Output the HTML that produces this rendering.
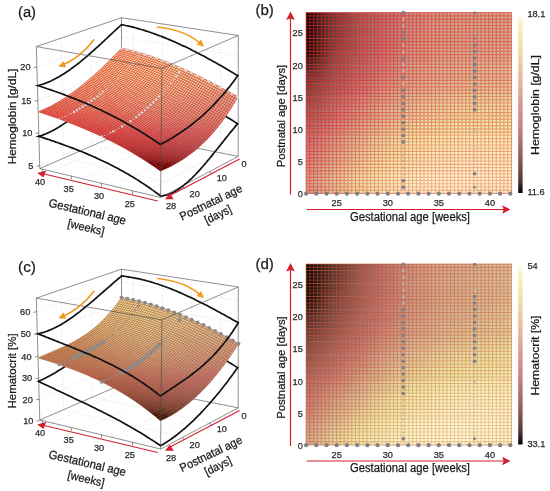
<!DOCTYPE html><html><head><meta charset="utf-8"><title>Figure</title><style>html,body{margin:0;padding:0;background:#fff}svg{display:block}</style></head><body><svg width="550" height="491" viewBox="0 0 550 491" font-family='"Liberation Sans", sans-serif'><defs><linearGradient id="g0_0"><stop offset="0.000" stop-color="#000000"/><stop offset="0.125" stop-color="#5c3c3c"/><stop offset="0.250" stop-color="#936060"/><stop offset="0.375" stop-color="#b77878"/><stop offset="0.500" stop-color="#c89187"/><stop offset="0.625" stop-color="#cda18f"/><stop offset="0.750" stop-color="#d0a993"/><stop offset="0.875" stop-color="#d1ac94"/><stop offset="1.000" stop-color="#d2b096"/></linearGradient><linearGradient id="g0_1"><stop offset="0.000" stop-color="#000000"/><stop offset="0.125" stop-color="#5b3b3b"/><stop offset="0.250" stop-color="#936060"/><stop offset="0.375" stop-color="#b87878"/><stop offset="0.500" stop-color="#c89188"/><stop offset="0.625" stop-color="#cea28f"/><stop offset="0.750" stop-color="#d0a993"/><stop offset="0.875" stop-color="#d1ac94"/><stop offset="1.000" stop-color="#d2b096"/></linearGradient><linearGradient id="g0_2"><stop offset="0.000" stop-color="#000000"/><stop offset="0.125" stop-color="#5c3c3c"/><stop offset="0.250" stop-color="#946161"/><stop offset="0.375" stop-color="#b97979"/><stop offset="0.500" stop-color="#c99388"/><stop offset="0.625" stop-color="#cea490"/><stop offset="0.750" stop-color="#d0aa93"/><stop offset="0.875" stop-color="#d1ad95"/><stop offset="1.000" stop-color="#d3b197"/></linearGradient><linearGradient id="g0_3"><stop offset="0.000" stop-color="#000000"/><stop offset="0.125" stop-color="#5e3e3e"/><stop offset="0.250" stop-color="#966262"/><stop offset="0.375" stop-color="#ba7a7a"/><stop offset="0.500" stop-color="#c99589"/><stop offset="0.625" stop-color="#cfa591"/><stop offset="0.750" stop-color="#d1ac94"/><stop offset="0.875" stop-color="#d2af96"/><stop offset="1.000" stop-color="#d3b398"/></linearGradient><linearGradient id="g0_4"><stop offset="0.000" stop-color="#000000"/><stop offset="0.125" stop-color="#634141"/><stop offset="0.250" stop-color="#986464"/><stop offset="0.375" stop-color="#bc7b7b"/><stop offset="0.500" stop-color="#ca978a"/><stop offset="0.625" stop-color="#cfa792"/><stop offset="0.750" stop-color="#d2ae95"/><stop offset="0.875" stop-color="#d3b197"/><stop offset="1.000" stop-color="#d4b599"/></linearGradient><linearGradient id="g0_5"><stop offset="0.000" stop-color="#000000"/><stop offset="0.125" stop-color="#684444"/><stop offset="0.250" stop-color="#9c6666"/><stop offset="0.375" stop-color="#bf7d7d"/><stop offset="0.500" stop-color="#cb9a8c"/><stop offset="0.625" stop-color="#d0aa93"/><stop offset="0.750" stop-color="#d3b197"/><stop offset="0.875" stop-color="#d4b498"/><stop offset="1.000" stop-color="#d5b89a"/></linearGradient><linearGradient id="g0_6"><stop offset="0.000" stop-color="#000000"/><stop offset="0.125" stop-color="#6f4949"/><stop offset="0.250" stop-color="#a06969"/><stop offset="0.375" stop-color="#c27f7f"/><stop offset="0.500" stop-color="#cc9e8d"/><stop offset="0.625" stop-color="#d1ad95"/><stop offset="0.750" stop-color="#d4b498"/><stop offset="0.875" stop-color="#d5b79a"/><stop offset="1.000" stop-color="#d7bb9b"/></linearGradient><linearGradient id="g0_7"><stop offset="0.000" stop-color="#1e1414"/><stop offset="0.125" stop-color="#764d4d"/><stop offset="0.250" stop-color="#a56c6c"/><stop offset="0.375" stop-color="#c48381"/><stop offset="0.500" stop-color="#cda18f"/><stop offset="0.625" stop-color="#d2b096"/><stop offset="0.750" stop-color="#d5b79a"/><stop offset="0.875" stop-color="#d6ba9b"/><stop offset="1.000" stop-color="#d9bf9c"/></linearGradient><linearGradient id="g0_8"><stop offset="0.000" stop-color="#362323"/><stop offset="0.125" stop-color="#7e5353"/><stop offset="0.250" stop-color="#aa6f6f"/><stop offset="0.375" stop-color="#c58984"/><stop offset="0.500" stop-color="#cfa691"/><stop offset="0.625" stop-color="#d4b498"/><stop offset="0.750" stop-color="#d7bb9b"/><stop offset="0.875" stop-color="#d8bf9c"/><stop offset="1.000" stop-color="#dbc49e"/></linearGradient><linearGradient id="g0_9"><stop offset="0.000" stop-color="#482f2f"/><stop offset="0.125" stop-color="#865858"/><stop offset="0.250" stop-color="#b07373"/><stop offset="0.375" stop-color="#c78f86"/><stop offset="0.500" stop-color="#d0aa93"/><stop offset="0.625" stop-color="#d5b99a"/><stop offset="0.750" stop-color="#d9c09c"/><stop offset="0.875" stop-color="#dac49e"/><stop offset="1.000" stop-color="#ddc99f"/></linearGradient><linearGradient id="g0_10"><stop offset="0.000" stop-color="#573939"/><stop offset="0.125" stop-color="#8f5d5d"/><stop offset="0.250" stop-color="#b67777"/><stop offset="0.375" stop-color="#c99689"/><stop offset="0.500" stop-color="#d2b096"/><stop offset="0.625" stop-color="#d8bd9c"/><stop offset="0.750" stop-color="#dbc49e"/><stop offset="0.875" stop-color="#ddc99f"/><stop offset="1.000" stop-color="#dfcea0"/></linearGradient><linearGradient id="g0_11"><stop offset="0.000" stop-color="#654242"/><stop offset="0.125" stop-color="#976363"/><stop offset="0.250" stop-color="#bc7b7b"/><stop offset="0.375" stop-color="#cc9d8d"/><stop offset="0.500" stop-color="#d4b599"/><stop offset="0.625" stop-color="#dac39d"/><stop offset="0.750" stop-color="#ddca9f"/><stop offset="0.875" stop-color="#dfcea0"/><stop offset="1.000" stop-color="#e2d3a2"/></linearGradient><linearGradient id="g0_12"><stop offset="0.000" stop-color="#714a4a"/><stop offset="0.125" stop-color="#a06969"/><stop offset="0.250" stop-color="#c27f7f"/><stop offset="0.375" stop-color="#cea490"/><stop offset="0.500" stop-color="#d7bb9b"/><stop offset="0.625" stop-color="#ddc99f"/><stop offset="0.750" stop-color="#e0d0a1"/><stop offset="0.875" stop-color="#e2d4a2"/><stop offset="1.000" stop-color="#e4d9a3"/></linearGradient><linearGradient id="g0_13"><stop offset="0.000" stop-color="#7d5252"/><stop offset="0.125" stop-color="#a86e6e"/><stop offset="0.250" stop-color="#c68984"/><stop offset="0.375" stop-color="#d1ab94"/><stop offset="0.500" stop-color="#dac29d"/><stop offset="0.625" stop-color="#e0cfa1"/><stop offset="0.750" stop-color="#e3d6a2"/><stop offset="0.875" stop-color="#e5daa3"/><stop offset="1.000" stop-color="#e7dea4"/></linearGradient><linearGradient id="g0_14"><stop offset="0.000" stop-color="#895959"/><stop offset="0.125" stop-color="#b17474"/><stop offset="0.250" stop-color="#c99388"/><stop offset="0.375" stop-color="#d3b398"/><stop offset="0.500" stop-color="#ddc99f"/><stop offset="0.625" stop-color="#e3d6a2"/><stop offset="0.750" stop-color="#e6dca4"/><stop offset="0.875" stop-color="#e8e0a5"/><stop offset="1.000" stop-color="#eae3a5"/></linearGradient><linearGradient id="g0_15"><stop offset="0.000" stop-color="#936060"/><stop offset="0.125" stop-color="#b97979"/><stop offset="0.250" stop-color="#cc9c8d"/><stop offset="0.375" stop-color="#d6bb9b"/><stop offset="0.500" stop-color="#e0d0a1"/><stop offset="0.625" stop-color="#e6dca4"/><stop offset="0.750" stop-color="#e9e3a5"/><stop offset="0.875" stop-color="#ebe5a6"/><stop offset="1.000" stop-color="#ece8a6"/></linearGradient><linearGradient id="g0_16"><stop offset="0.000" stop-color="#9d6767"/><stop offset="0.125" stop-color="#c17e7e"/><stop offset="0.250" stop-color="#cfa691"/><stop offset="0.375" stop-color="#dac39d"/><stop offset="0.500" stop-color="#e4d7a3"/><stop offset="0.625" stop-color="#e9e3a5"/><stop offset="0.750" stop-color="#ece8a6"/><stop offset="0.875" stop-color="#edeba7"/><stop offset="1.000" stop-color="#eeeda7"/></linearGradient><linearGradient id="g0_17"><stop offset="0.000" stop-color="#a76d6d"/><stop offset="0.125" stop-color="#c58983"/><stop offset="0.250" stop-color="#d2ae95"/><stop offset="0.375" stop-color="#deca9f"/><stop offset="0.500" stop-color="#e7dea4"/><stop offset="0.625" stop-color="#ece8a6"/><stop offset="0.750" stop-color="#efeda8"/><stop offset="0.875" stop-color="#f0eeab"/><stop offset="1.000" stop-color="#f1efac"/></linearGradient><linearGradient id="g0_18"><stop offset="0.000" stop-color="#af7373"/><stop offset="0.125" stop-color="#c99388"/><stop offset="0.250" stop-color="#d5b79a"/><stop offset="0.375" stop-color="#e1d2a1"/><stop offset="0.500" stop-color="#eae4a6"/><stop offset="0.625" stop-color="#efeda9"/><stop offset="0.750" stop-color="#f1efae"/><stop offset="0.875" stop-color="#f2f0b0"/><stop offset="1.000" stop-color="#f3f1b0"/></linearGradient><linearGradient id="g0_19"><stop offset="0.000" stop-color="#b77878"/><stop offset="0.125" stop-color="#cc9d8d"/><stop offset="0.250" stop-color="#d8bf9c"/><stop offset="0.375" stop-color="#e5d9a3"/><stop offset="0.500" stop-color="#edeaa7"/><stop offset="0.625" stop-color="#f2f0ae"/><stop offset="0.750" stop-color="#f4f2b3"/><stop offset="0.875" stop-color="#f5f2b5"/><stop offset="1.000" stop-color="#f5f2b4"/></linearGradient><linearGradient id="g0_20"><stop offset="0.000" stop-color="#bf7d7d"/><stop offset="0.125" stop-color="#cfa591"/><stop offset="0.250" stop-color="#dcc79e"/><stop offset="0.375" stop-color="#e8e0a5"/><stop offset="0.500" stop-color="#f0eeaa"/><stop offset="0.625" stop-color="#f4f2b3"/><stop offset="0.750" stop-color="#f6f4b9"/><stop offset="0.875" stop-color="#f6f4ba"/><stop offset="1.000" stop-color="#f6f4b9"/></linearGradient><linearGradient id="g0_21"><stop offset="0.000" stop-color="#c48481"/><stop offset="0.125" stop-color="#d1ad95"/><stop offset="0.250" stop-color="#dfcea0"/><stop offset="0.375" stop-color="#ebe6a6"/><stop offset="0.500" stop-color="#f2f0af"/><stop offset="0.625" stop-color="#f6f4b9"/><stop offset="0.750" stop-color="#f8f5be"/><stop offset="0.875" stop-color="#f8f6be"/><stop offset="1.000" stop-color="#f7f5bc"/></linearGradient><linearGradient id="g0_22"><stop offset="0.000" stop-color="#c78d85"/><stop offset="0.125" stop-color="#d4b498"/><stop offset="0.250" stop-color="#e2d4a2"/><stop offset="0.375" stop-color="#edeba7"/><stop offset="0.500" stop-color="#f5f2b4"/><stop offset="0.625" stop-color="#f8f6be"/><stop offset="0.750" stop-color="#f9f7c2"/><stop offset="0.875" stop-color="#f9f7c2"/><stop offset="1.000" stop-color="#f8f6bf"/></linearGradient><linearGradient id="g0_23"><stop offset="0.000" stop-color="#c99489"/><stop offset="0.125" stop-color="#d6bb9b"/><stop offset="0.250" stop-color="#e5daa3"/><stop offset="0.375" stop-color="#f0eeaa"/><stop offset="0.500" stop-color="#f6f4b9"/><stop offset="0.625" stop-color="#f9f7c3"/><stop offset="0.750" stop-color="#fbf8c6"/><stop offset="0.875" stop-color="#faf8c5"/><stop offset="1.000" stop-color="#f9f7c2"/></linearGradient><linearGradient id="g0_24"><stop offset="0.000" stop-color="#cb9b8c"/><stop offset="0.125" stop-color="#d9c19d"/><stop offset="0.250" stop-color="#e8e0a5"/><stop offset="0.375" stop-color="#f2f0ae"/><stop offset="0.500" stop-color="#f8f5be"/><stop offset="0.625" stop-color="#fbf8c7"/><stop offset="0.750" stop-color="#fcf9c9"/><stop offset="0.875" stop-color="#fbf9c7"/><stop offset="1.000" stop-color="#f9f7c3"/></linearGradient><linearGradient id="g0_25"><stop offset="0.000" stop-color="#cda08e"/><stop offset="0.125" stop-color="#dbc59e"/><stop offset="0.250" stop-color="#eae3a5"/><stop offset="0.375" stop-color="#f4f1b2"/><stop offset="0.500" stop-color="#f9f7c2"/><stop offset="0.625" stop-color="#fcf9ca"/><stop offset="0.750" stop-color="#fcfacb"/><stop offset="0.875" stop-color="#fbf9c9"/><stop offset="1.000" stop-color="#faf7c4"/></linearGradient><linearGradient id="g0_26"><stop offset="0.000" stop-color="#cea491"/><stop offset="0.125" stop-color="#ddc99f"/><stop offset="0.250" stop-color="#ebe6a6"/><stop offset="0.375" stop-color="#f5f3b5"/><stop offset="0.500" stop-color="#faf8c5"/><stop offset="0.625" stop-color="#fcfacc"/><stop offset="0.750" stop-color="#fdfacc"/><stop offset="0.875" stop-color="#fbf9c9"/><stop offset="1.000" stop-color="#f9f7c3"/></linearGradient><linearGradient id="g0_27"><stop offset="0.000" stop-color="#cfa792"/><stop offset="0.125" stop-color="#decca0"/><stop offset="0.250" stop-color="#ece9a7"/><stop offset="0.375" stop-color="#f6f3b8"/><stop offset="0.500" stop-color="#fbf8c7"/><stop offset="0.625" stop-color="#fdfacd"/><stop offset="0.750" stop-color="#fdfacc"/><stop offset="0.875" stop-color="#fbf9c8"/><stop offset="1.000" stop-color="#f9f7c2"/></linearGradient><linearGradient id="o0_0"><stop offset="0.000" stop-color="#000000" stop-opacity="0.00"/><stop offset="0.125" stop-color="#5c3c3c" stop-opacity="0.00"/><stop offset="0.250" stop-color="#936060" stop-opacity="0.00"/><stop offset="0.375" stop-color="#b77878" stop-opacity="0.00"/><stop offset="0.500" stop-color="#c89187" stop-opacity="0.02"/><stop offset="0.625" stop-color="#cda18f" stop-opacity="0.06"/><stop offset="0.750" stop-color="#d0a993" stop-opacity="0.08"/><stop offset="0.875" stop-color="#d1ac94" stop-opacity="0.09"/><stop offset="1.000" stop-color="#d2b096" stop-opacity="0.10"/></linearGradient><linearGradient id="o0_1"><stop offset="0.000" stop-color="#000000" stop-opacity="0.00"/><stop offset="0.125" stop-color="#5b3b3b" stop-opacity="0.00"/><stop offset="0.250" stop-color="#936060" stop-opacity="0.00"/><stop offset="0.375" stop-color="#b87878" stop-opacity="0.00"/><stop offset="0.500" stop-color="#c89188" stop-opacity="0.02"/><stop offset="0.625" stop-color="#cea28f" stop-opacity="0.06"/><stop offset="0.750" stop-color="#d0a993" stop-opacity="0.08"/><stop offset="0.875" stop-color="#d1ac94" stop-opacity="0.09"/><stop offset="1.000" stop-color="#d2b096" stop-opacity="0.10"/></linearGradient><linearGradient id="o0_2"><stop offset="0.000" stop-color="#000000" stop-opacity="0.00"/><stop offset="0.125" stop-color="#5c3c3c" stop-opacity="0.00"/><stop offset="0.250" stop-color="#946161" stop-opacity="0.00"/><stop offset="0.375" stop-color="#b97979" stop-opacity="0.00"/><stop offset="0.500" stop-color="#c99388" stop-opacity="0.02"/><stop offset="0.625" stop-color="#cea490" stop-opacity="0.06"/><stop offset="0.750" stop-color="#d0aa93" stop-opacity="0.08"/><stop offset="0.875" stop-color="#d1ad95" stop-opacity="0.09"/><stop offset="1.000" stop-color="#d3b197" stop-opacity="0.10"/></linearGradient><linearGradient id="o0_3"><stop offset="0.000" stop-color="#000000" stop-opacity="0.00"/><stop offset="0.125" stop-color="#5e3e3e" stop-opacity="0.00"/><stop offset="0.250" stop-color="#966262" stop-opacity="0.00"/><stop offset="0.375" stop-color="#ba7a7a" stop-opacity="0.00"/><stop offset="0.500" stop-color="#c99589" stop-opacity="0.03"/><stop offset="0.625" stop-color="#cfa591" stop-opacity="0.07"/><stop offset="0.750" stop-color="#d1ac94" stop-opacity="0.09"/><stop offset="0.875" stop-color="#d2af96" stop-opacity="0.09"/><stop offset="1.000" stop-color="#d3b398" stop-opacity="0.10"/></linearGradient><linearGradient id="o0_4"><stop offset="0.000" stop-color="#000000" stop-opacity="0.00"/><stop offset="0.125" stop-color="#634141" stop-opacity="0.00"/><stop offset="0.250" stop-color="#986464" stop-opacity="0.00"/><stop offset="0.375" stop-color="#bc7b7b" stop-opacity="0.00"/><stop offset="0.500" stop-color="#ca978a" stop-opacity="0.03"/><stop offset="0.625" stop-color="#cfa792" stop-opacity="0.07"/><stop offset="0.750" stop-color="#d2ae95" stop-opacity="0.09"/><stop offset="0.875" stop-color="#d3b197" stop-opacity="0.10"/><stop offset="1.000" stop-color="#d4b599" stop-opacity="0.11"/></linearGradient><linearGradient id="o0_5"><stop offset="0.000" stop-color="#000000" stop-opacity="0.00"/><stop offset="0.125" stop-color="#684444" stop-opacity="0.00"/><stop offset="0.250" stop-color="#9c6666" stop-opacity="0.00"/><stop offset="0.375" stop-color="#bf7d7d" stop-opacity="0.00"/><stop offset="0.500" stop-color="#cb9a8c" stop-opacity="0.04"/><stop offset="0.625" stop-color="#d0aa93" stop-opacity="0.08"/><stop offset="0.750" stop-color="#d3b197" stop-opacity="0.10"/><stop offset="0.875" stop-color="#d4b498" stop-opacity="0.11"/><stop offset="1.000" stop-color="#d5b89a" stop-opacity="0.12"/></linearGradient><linearGradient id="o0_6"><stop offset="0.000" stop-color="#000000" stop-opacity="0.00"/><stop offset="0.125" stop-color="#6f4949" stop-opacity="0.00"/><stop offset="0.250" stop-color="#a06969" stop-opacity="0.00"/><stop offset="0.375" stop-color="#c27f7f" stop-opacity="0.00"/><stop offset="0.500" stop-color="#cc9e8d" stop-opacity="0.05"/><stop offset="0.625" stop-color="#d1ad95" stop-opacity="0.09"/><stop offset="0.750" stop-color="#d4b498" stop-opacity="0.11"/><stop offset="0.875" stop-color="#d5b79a" stop-opacity="0.12"/><stop offset="1.000" stop-color="#d7bb9b" stop-opacity="0.13"/></linearGradient><linearGradient id="o0_7"><stop offset="0.000" stop-color="#1e1414" stop-opacity="0.00"/><stop offset="0.125" stop-color="#764d4d" stop-opacity="0.00"/><stop offset="0.250" stop-color="#a56c6c" stop-opacity="0.00"/><stop offset="0.375" stop-color="#c48381" stop-opacity="0.00"/><stop offset="0.500" stop-color="#cda18f" stop-opacity="0.06"/><stop offset="0.625" stop-color="#d2b096" stop-opacity="0.10"/><stop offset="0.750" stop-color="#d5b79a" stop-opacity="0.12"/><stop offset="0.875" stop-color="#d6ba9b" stop-opacity="0.13"/><stop offset="1.000" stop-color="#d9bf9c" stop-opacity="0.14"/></linearGradient><linearGradient id="o0_8"><stop offset="0.000" stop-color="#362323" stop-opacity="0.00"/><stop offset="0.125" stop-color="#7e5353" stop-opacity="0.00"/><stop offset="0.250" stop-color="#aa6f6f" stop-opacity="0.00"/><stop offset="0.375" stop-color="#c58984" stop-opacity="0.00"/><stop offset="0.500" stop-color="#cfa691" stop-opacity="0.07"/><stop offset="0.625" stop-color="#d4b498" stop-opacity="0.11"/><stop offset="0.750" stop-color="#d7bb9b" stop-opacity="0.13"/><stop offset="0.875" stop-color="#d8bf9c" stop-opacity="0.14"/><stop offset="1.000" stop-color="#dbc49e" stop-opacity="0.15"/></linearGradient><linearGradient id="o0_9"><stop offset="0.000" stop-color="#482f2f" stop-opacity="0.00"/><stop offset="0.125" stop-color="#865858" stop-opacity="0.00"/><stop offset="0.250" stop-color="#b07373" stop-opacity="0.00"/><stop offset="0.375" stop-color="#c78f86" stop-opacity="0.01"/><stop offset="0.500" stop-color="#d0aa93" stop-opacity="0.08"/><stop offset="0.625" stop-color="#d5b99a" stop-opacity="0.12"/><stop offset="0.750" stop-color="#d9c09c" stop-opacity="0.14"/><stop offset="0.875" stop-color="#dac49e" stop-opacity="0.15"/><stop offset="1.000" stop-color="#ddc99f" stop-opacity="0.17"/></linearGradient><linearGradient id="o0_10"><stop offset="0.000" stop-color="#573939" stop-opacity="0.00"/><stop offset="0.125" stop-color="#8f5d5d" stop-opacity="0.00"/><stop offset="0.250" stop-color="#b67777" stop-opacity="0.00"/><stop offset="0.375" stop-color="#c99689" stop-opacity="0.03"/><stop offset="0.500" stop-color="#d2b096" stop-opacity="0.10"/><stop offset="0.625" stop-color="#d8bd9c" stop-opacity="0.13"/><stop offset="0.750" stop-color="#dbc49e" stop-opacity="0.15"/><stop offset="0.875" stop-color="#ddc99f" stop-opacity="0.17"/><stop offset="1.000" stop-color="#dfcea0" stop-opacity="0.18"/></linearGradient><linearGradient id="o0_11"><stop offset="0.000" stop-color="#654242" stop-opacity="0.00"/><stop offset="0.125" stop-color="#976363" stop-opacity="0.00"/><stop offset="0.250" stop-color="#bc7b7b" stop-opacity="0.00"/><stop offset="0.375" stop-color="#cc9d8d" stop-opacity="0.05"/><stop offset="0.500" stop-color="#d4b599" stop-opacity="0.11"/><stop offset="0.625" stop-color="#dac39d" stop-opacity="0.15"/><stop offset="0.750" stop-color="#ddca9f" stop-opacity="0.17"/><stop offset="0.875" stop-color="#dfcea0" stop-opacity="0.18"/><stop offset="1.000" stop-color="#e2d3a2" stop-opacity="0.20"/></linearGradient><linearGradient id="o0_12"><stop offset="0.000" stop-color="#714a4a" stop-opacity="0.00"/><stop offset="0.125" stop-color="#a06969" stop-opacity="0.00"/><stop offset="0.250" stop-color="#c27f7f" stop-opacity="0.00"/><stop offset="0.375" stop-color="#cea490" stop-opacity="0.06"/><stop offset="0.500" stop-color="#d7bb9b" stop-opacity="0.13"/><stop offset="0.625" stop-color="#ddc99f" stop-opacity="0.17"/><stop offset="0.750" stop-color="#e0d0a1" stop-opacity="0.19"/><stop offset="0.875" stop-color="#e2d4a2" stop-opacity="0.20"/><stop offset="1.000" stop-color="#e4d9a3" stop-opacity="0.22"/></linearGradient><linearGradient id="o0_13"><stop offset="0.000" stop-color="#7d5252" stop-opacity="0.00"/><stop offset="0.125" stop-color="#a86e6e" stop-opacity="0.00"/><stop offset="0.250" stop-color="#c68984" stop-opacity="0.00"/><stop offset="0.375" stop-color="#d1ab94" stop-opacity="0.08"/><stop offset="0.500" stop-color="#dac29d" stop-opacity="0.15"/><stop offset="0.625" stop-color="#e0cfa1" stop-opacity="0.19"/><stop offset="0.750" stop-color="#e3d6a2" stop-opacity="0.21"/><stop offset="0.875" stop-color="#e5daa3" stop-opacity="0.22"/><stop offset="1.000" stop-color="#e7dea4" stop-opacity="0.23"/></linearGradient><linearGradient id="o0_14"><stop offset="0.000" stop-color="#895959" stop-opacity="0.00"/><stop offset="0.125" stop-color="#b17474" stop-opacity="0.00"/><stop offset="0.250" stop-color="#c99388" stop-opacity="0.02"/><stop offset="0.375" stop-color="#d3b398" stop-opacity="0.10"/><stop offset="0.500" stop-color="#ddc99f" stop-opacity="0.17"/><stop offset="0.625" stop-color="#e3d6a2" stop-opacity="0.21"/><stop offset="0.750" stop-color="#e6dca4" stop-opacity="0.23"/><stop offset="0.875" stop-color="#e8e0a5" stop-opacity="0.24"/><stop offset="1.000" stop-color="#eae3a5" stop-opacity="0.25"/></linearGradient><linearGradient id="o0_15"><stop offset="0.000" stop-color="#936060" stop-opacity="0.00"/><stop offset="0.125" stop-color="#b97979" stop-opacity="0.00"/><stop offset="0.250" stop-color="#cc9c8d" stop-opacity="0.04"/><stop offset="0.375" stop-color="#d6bb9b" stop-opacity="0.13"/><stop offset="0.500" stop-color="#e0d0a1" stop-opacity="0.19"/><stop offset="0.625" stop-color="#e6dca4" stop-opacity="0.23"/><stop offset="0.750" stop-color="#e9e3a5" stop-opacity="0.25"/><stop offset="0.875" stop-color="#ebe5a6" stop-opacity="0.26"/><stop offset="1.000" stop-color="#ece8a6" stop-opacity="0.27"/></linearGradient><linearGradient id="o0_16"><stop offset="0.000" stop-color="#9d6767" stop-opacity="0.00"/><stop offset="0.125" stop-color="#c17e7e" stop-opacity="0.00"/><stop offset="0.250" stop-color="#cfa691" stop-opacity="0.07"/><stop offset="0.375" stop-color="#dac39d" stop-opacity="0.15"/><stop offset="0.500" stop-color="#e4d7a3" stop-opacity="0.21"/><stop offset="0.625" stop-color="#e9e3a5" stop-opacity="0.25"/><stop offset="0.750" stop-color="#ece8a6" stop-opacity="0.26"/><stop offset="0.875" stop-color="#edeba7" stop-opacity="0.27"/><stop offset="1.000" stop-color="#eeeda7" stop-opacity="0.28"/></linearGradient><linearGradient id="o0_17"><stop offset="0.000" stop-color="#a76d6d" stop-opacity="0.00"/><stop offset="0.125" stop-color="#c58983" stop-opacity="0.00"/><stop offset="0.250" stop-color="#d2ae95" stop-opacity="0.09"/><stop offset="0.375" stop-color="#deca9f" stop-opacity="0.17"/><stop offset="0.500" stop-color="#e7dea4" stop-opacity="0.23"/><stop offset="0.625" stop-color="#ece8a6" stop-opacity="0.27"/><stop offset="0.750" stop-color="#efeda8" stop-opacity="0.28"/><stop offset="0.875" stop-color="#f0eeab" stop-opacity="0.29"/><stop offset="1.000" stop-color="#f1efac" stop-opacity="0.29"/></linearGradient><linearGradient id="o0_18"><stop offset="0.000" stop-color="#af7373" stop-opacity="0.00"/><stop offset="0.125" stop-color="#c99388" stop-opacity="0.02"/><stop offset="0.250" stop-color="#d5b79a" stop-opacity="0.12"/><stop offset="0.375" stop-color="#e1d2a1" stop-opacity="0.20"/><stop offset="0.500" stop-color="#eae4a6" stop-opacity="0.25"/><stop offset="0.625" stop-color="#efeda9" stop-opacity="0.28"/><stop offset="0.750" stop-color="#f1efae" stop-opacity="0.30"/><stop offset="0.875" stop-color="#f2f0b0" stop-opacity="0.31"/><stop offset="1.000" stop-color="#f3f1b0" stop-opacity="0.31"/></linearGradient><linearGradient id="o0_19"><stop offset="0.000" stop-color="#b77878" stop-opacity="0.00"/><stop offset="0.125" stop-color="#cc9d8d" stop-opacity="0.05"/><stop offset="0.250" stop-color="#d8bf9c" stop-opacity="0.14"/><stop offset="0.375" stop-color="#e5d9a3" stop-opacity="0.22"/><stop offset="0.500" stop-color="#edeaa7" stop-opacity="0.27"/><stop offset="0.625" stop-color="#f2f0ae" stop-opacity="0.30"/><stop offset="0.750" stop-color="#f4f2b3" stop-opacity="0.32"/><stop offset="0.875" stop-color="#f5f2b5" stop-opacity="0.32"/><stop offset="1.000" stop-color="#f5f2b4" stop-opacity="0.32"/></linearGradient><linearGradient id="o0_20"><stop offset="0.000" stop-color="#bf7d7d" stop-opacity="0.00"/><stop offset="0.125" stop-color="#cfa591" stop-opacity="0.07"/><stop offset="0.250" stop-color="#dcc79e" stop-opacity="0.16"/><stop offset="0.375" stop-color="#e8e0a5" stop-opacity="0.24"/><stop offset="0.500" stop-color="#f0eeaa" stop-opacity="0.29"/><stop offset="0.625" stop-color="#f4f2b3" stop-opacity="0.32"/><stop offset="0.750" stop-color="#f6f4b9" stop-opacity="0.33"/><stop offset="0.875" stop-color="#f6f4ba" stop-opacity="0.34"/><stop offset="1.000" stop-color="#f6f4b9" stop-opacity="0.33"/></linearGradient><linearGradient id="o0_21"><stop offset="0.000" stop-color="#c48481" stop-opacity="0.00"/><stop offset="0.125" stop-color="#d1ad95" stop-opacity="0.09"/><stop offset="0.250" stop-color="#dfcea0" stop-opacity="0.18"/><stop offset="0.375" stop-color="#ebe6a6" stop-opacity="0.26"/><stop offset="0.500" stop-color="#f2f0af" stop-opacity="0.31"/><stop offset="0.625" stop-color="#f6f4b9" stop-opacity="0.33"/><stop offset="0.750" stop-color="#f8f5be" stop-opacity="0.35"/><stop offset="0.875" stop-color="#f8f6be" stop-opacity="0.35"/><stop offset="1.000" stop-color="#f7f5bc" stop-opacity="0.34"/></linearGradient><linearGradient id="o0_22"><stop offset="0.000" stop-color="#c78d85" stop-opacity="0.01"/><stop offset="0.125" stop-color="#d4b498" stop-opacity="0.11"/><stop offset="0.250" stop-color="#e2d4a2" stop-opacity="0.20"/><stop offset="0.375" stop-color="#edeba7" stop-opacity="0.27"/><stop offset="0.500" stop-color="#f5f2b4" stop-opacity="0.32"/><stop offset="0.625" stop-color="#f8f6be" stop-opacity="0.35"/><stop offset="0.750" stop-color="#f9f7c2" stop-opacity="0.36"/><stop offset="0.875" stop-color="#f9f7c2" stop-opacity="0.36"/><stop offset="1.000" stop-color="#f8f6bf" stop-opacity="0.35"/></linearGradient><linearGradient id="o0_23"><stop offset="0.000" stop-color="#c99489" stop-opacity="0.03"/><stop offset="0.125" stop-color="#d6bb9b" stop-opacity="0.13"/><stop offset="0.250" stop-color="#e5daa3" stop-opacity="0.22"/><stop offset="0.375" stop-color="#f0eeaa" stop-opacity="0.29"/><stop offset="0.500" stop-color="#f6f4b9" stop-opacity="0.34"/><stop offset="0.625" stop-color="#f9f7c3" stop-opacity="0.36"/><stop offset="0.750" stop-color="#fbf8c6" stop-opacity="0.37"/><stop offset="0.875" stop-color="#faf8c5" stop-opacity="0.37"/><stop offset="1.000" stop-color="#f9f7c2" stop-opacity="0.36"/></linearGradient><linearGradient id="o0_24"><stop offset="0.000" stop-color="#cb9b8c" stop-opacity="0.04"/><stop offset="0.125" stop-color="#d9c19d" stop-opacity="0.14"/><stop offset="0.250" stop-color="#e8e0a5" stop-opacity="0.24"/><stop offset="0.375" stop-color="#f2f0ae" stop-opacity="0.30"/><stop offset="0.500" stop-color="#f8f5be" stop-opacity="0.35"/><stop offset="0.625" stop-color="#fbf8c7" stop-opacity="0.37"/><stop offset="0.750" stop-color="#fcf9c9" stop-opacity="0.38"/><stop offset="0.875" stop-color="#fbf9c7" stop-opacity="0.38"/><stop offset="1.000" stop-color="#f9f7c3" stop-opacity="0.36"/></linearGradient><linearGradient id="o0_25"><stop offset="0.000" stop-color="#cda08e" stop-opacity="0.05"/><stop offset="0.125" stop-color="#dbc59e" stop-opacity="0.16"/><stop offset="0.250" stop-color="#eae3a5" stop-opacity="0.25"/><stop offset="0.375" stop-color="#f4f1b2" stop-opacity="0.31"/><stop offset="0.500" stop-color="#f9f7c2" stop-opacity="0.36"/><stop offset="0.625" stop-color="#fcf9ca" stop-opacity="0.38"/><stop offset="0.750" stop-color="#fcfacb" stop-opacity="0.39"/><stop offset="0.875" stop-color="#fbf9c9" stop-opacity="0.38"/><stop offset="1.000" stop-color="#faf7c4" stop-opacity="0.36"/></linearGradient><linearGradient id="o0_26"><stop offset="0.000" stop-color="#cea491" stop-opacity="0.07"/><stop offset="0.125" stop-color="#ddc99f" stop-opacity="0.17"/><stop offset="0.250" stop-color="#ebe6a6" stop-opacity="0.26"/><stop offset="0.375" stop-color="#f5f3b5" stop-opacity="0.32"/><stop offset="0.500" stop-color="#faf8c5" stop-opacity="0.37"/><stop offset="0.625" stop-color="#fcfacc" stop-opacity="0.39"/><stop offset="0.750" stop-color="#fdfacc" stop-opacity="0.39"/><stop offset="0.875" stop-color="#fbf9c9" stop-opacity="0.38"/><stop offset="1.000" stop-color="#f9f7c3" stop-opacity="0.36"/></linearGradient><linearGradient id="o0_27"><stop offset="0.000" stop-color="#cfa792" stop-opacity="0.07"/><stop offset="0.125" stop-color="#decca0" stop-opacity="0.18"/><stop offset="0.250" stop-color="#ece9a7" stop-opacity="0.27"/><stop offset="0.375" stop-color="#f6f3b8" stop-opacity="0.33"/><stop offset="0.500" stop-color="#fbf8c7" stop-opacity="0.37"/><stop offset="0.625" stop-color="#fdfacd" stop-opacity="0.39"/><stop offset="0.750" stop-color="#fdfacc" stop-opacity="0.39"/><stop offset="0.875" stop-color="#fbf9c8" stop-opacity="0.38"/><stop offset="1.000" stop-color="#f9f7c2" stop-opacity="0.36"/></linearGradient><linearGradient id="cb0" x1="0" y1="1" x2="0" y2="0"><stop offset="0.000" stop-color="#000000"/><stop offset="0.062" stop-color="#4e3434"/><stop offset="0.125" stop-color="#704949"/><stop offset="0.188" stop-color="#8a5a5a"/><stop offset="0.250" stop-color="#a16969"/><stop offset="0.312" stop-color="#b67676"/><stop offset="0.375" stop-color="#c68381"/><stop offset="0.438" stop-color="#d08e8a"/><stop offset="0.500" stop-color="#d89890"/><stop offset="0.562" stop-color="#e0a996"/><stop offset="0.625" stop-color="#e7b89b"/><stop offset="0.688" stop-color="#ebc59f"/><stop offset="0.750" stop-color="#eed3a4"/><stop offset="0.812" stop-color="#f0e0a8"/><stop offset="0.875" stop-color="#f3eab1"/><stop offset="0.938" stop-color="#f6f3c0"/><stop offset="1.000" stop-color="#ffffff"/></linearGradient><linearGradient id="g1_0"><stop offset="0.000" stop-color="#000000"/><stop offset="0.125" stop-color="#462e2e"/><stop offset="0.250" stop-color="#875858"/><stop offset="0.375" stop-color="#b37575"/><stop offset="0.500" stop-color="#c99489"/><stop offset="0.625" stop-color="#d0a993"/><stop offset="0.750" stop-color="#d3b297"/><stop offset="0.875" stop-color="#d5b89a"/><stop offset="1.000" stop-color="#dac29d"/></linearGradient><linearGradient id="g1_1"><stop offset="0.000" stop-color="#000000"/><stop offset="0.125" stop-color="#4b3131"/><stop offset="0.250" stop-color="#8a5a5a"/><stop offset="0.375" stop-color="#b67777"/><stop offset="0.500" stop-color="#ca978a"/><stop offset="0.625" stop-color="#d1ab94"/><stop offset="0.750" stop-color="#d4b498"/><stop offset="0.875" stop-color="#d6ba9b"/><stop offset="1.000" stop-color="#dbc49e"/></linearGradient><linearGradient id="g1_2"><stop offset="0.000" stop-color="#000000"/><stop offset="0.125" stop-color="#503434"/><stop offset="0.250" stop-color="#8c5c5c"/><stop offset="0.375" stop-color="#b77878"/><stop offset="0.500" stop-color="#ca998b"/><stop offset="0.625" stop-color="#d1ad95"/><stop offset="0.750" stop-color="#d4b699"/><stop offset="0.875" stop-color="#d7bc9b"/><stop offset="1.000" stop-color="#dbc69e"/></linearGradient><linearGradient id="g1_3"><stop offset="0.000" stop-color="#000000"/><stop offset="0.125" stop-color="#553838"/><stop offset="0.250" stop-color="#8f5e5e"/><stop offset="0.375" stop-color="#b97979"/><stop offset="0.500" stop-color="#cb998b"/><stop offset="0.625" stop-color="#d1ad95"/><stop offset="0.750" stop-color="#d5b699"/><stop offset="0.875" stop-color="#d7bd9c"/><stop offset="1.000" stop-color="#dcc79f"/></linearGradient><linearGradient id="g1_4"><stop offset="0.000" stop-color="#000000"/><stop offset="0.125" stop-color="#5b3b3b"/><stop offset="0.250" stop-color="#926060"/><stop offset="0.375" stop-color="#ba7a7a"/><stop offset="0.500" stop-color="#cb9a8b"/><stop offset="0.625" stop-color="#d1ad95"/><stop offset="0.750" stop-color="#d5b699"/><stop offset="0.875" stop-color="#d8bd9c"/><stop offset="1.000" stop-color="#dcc89f"/></linearGradient><linearGradient id="g1_5"><stop offset="0.000" stop-color="#000000"/><stop offset="0.125" stop-color="#613f3f"/><stop offset="0.250" stop-color="#956262"/><stop offset="0.375" stop-color="#bb7b7b"/><stop offset="0.500" stop-color="#cb9b8c"/><stop offset="0.625" stop-color="#d1ad95"/><stop offset="0.750" stop-color="#d5b79a"/><stop offset="0.875" stop-color="#d8be9c"/><stop offset="1.000" stop-color="#ddc99f"/></linearGradient><linearGradient id="g1_6"><stop offset="0.000" stop-color="#150e0e"/><stop offset="0.125" stop-color="#674444"/><stop offset="0.250" stop-color="#986464"/><stop offset="0.375" stop-color="#bd7c7c"/><stop offset="0.500" stop-color="#cb9c8c"/><stop offset="0.625" stop-color="#d2ae95"/><stop offset="0.750" stop-color="#d5b79a"/><stop offset="0.875" stop-color="#d8bf9c"/><stop offset="1.000" stop-color="#decba0"/></linearGradient><linearGradient id="g1_7"><stop offset="0.000" stop-color="#2b1c1c"/><stop offset="0.125" stop-color="#6e4848"/><stop offset="0.250" stop-color="#9c6666"/><stop offset="0.375" stop-color="#bf7d7d"/><stop offset="0.500" stop-color="#cc9d8d"/><stop offset="0.625" stop-color="#d2af96"/><stop offset="0.750" stop-color="#d6b99b"/><stop offset="0.875" stop-color="#d9c19d"/><stop offset="1.000" stop-color="#dfcda0"/></linearGradient><linearGradient id="g1_8"><stop offset="0.000" stop-color="#3c2727"/><stop offset="0.125" stop-color="#764d4d"/><stop offset="0.250" stop-color="#a16a6a"/><stop offset="0.375" stop-color="#c27f7f"/><stop offset="0.500" stop-color="#cda08e"/><stop offset="0.625" stop-color="#d3b297"/><stop offset="0.750" stop-color="#d7bc9b"/><stop offset="0.875" stop-color="#dbc49e"/><stop offset="1.000" stop-color="#e0d0a1"/></linearGradient><linearGradient id="g1_9"><stop offset="0.000" stop-color="#4a3030"/><stop offset="0.125" stop-color="#7e5252"/><stop offset="0.250" stop-color="#a76d6d"/><stop offset="0.375" stop-color="#c48582"/><stop offset="0.500" stop-color="#cea591"/><stop offset="0.625" stop-color="#d4b699"/><stop offset="0.750" stop-color="#d9c09d"/><stop offset="0.875" stop-color="#ddc89f"/><stop offset="1.000" stop-color="#e2d3a2"/></linearGradient><linearGradient id="g1_10"><stop offset="0.000" stop-color="#573939"/><stop offset="0.125" stop-color="#865858"/><stop offset="0.250" stop-color="#ac7171"/><stop offset="0.375" stop-color="#c68c85"/><stop offset="0.500" stop-color="#d0aa93"/><stop offset="0.625" stop-color="#d6bb9b"/><stop offset="0.750" stop-color="#dbc59e"/><stop offset="0.875" stop-color="#dfcda0"/><stop offset="1.000" stop-color="#e4d8a3"/></linearGradient><linearGradient id="g1_11"><stop offset="0.000" stop-color="#644141"/><stop offset="0.125" stop-color="#8e5d5d"/><stop offset="0.250" stop-color="#b37575"/><stop offset="0.375" stop-color="#c99388"/><stop offset="0.500" stop-color="#d2b096"/><stop offset="0.625" stop-color="#d9c19d"/><stop offset="0.750" stop-color="#decba0"/><stop offset="0.875" stop-color="#e2d3a2"/><stop offset="1.000" stop-color="#e6dda4"/></linearGradient><linearGradient id="g1_12"><stop offset="0.000" stop-color="#6f4949"/><stop offset="0.125" stop-color="#976363"/><stop offset="0.250" stop-color="#b97979"/><stop offset="0.375" stop-color="#cb9b8c"/><stop offset="0.500" stop-color="#d5b699"/><stop offset="0.625" stop-color="#dcc79f"/><stop offset="0.750" stop-color="#e1d2a1"/><stop offset="0.875" stop-color="#e5daa3"/><stop offset="1.000" stop-color="#e9e2a5"/></linearGradient><linearGradient id="g1_13"><stop offset="0.000" stop-color="#7a5050"/><stop offset="0.125" stop-color="#9f6868"/><stop offset="0.250" stop-color="#c07e7e"/><stop offset="0.375" stop-color="#cea390"/><stop offset="0.500" stop-color="#d8be9c"/><stop offset="0.625" stop-color="#e0cfa1"/><stop offset="0.750" stop-color="#e5d9a3"/><stop offset="0.875" stop-color="#e8e0a5"/><stop offset="1.000" stop-color="#ebe6a6"/></linearGradient><linearGradient id="g1_14"><stop offset="0.000" stop-color="#855757"/><stop offset="0.125" stop-color="#a86e6e"/><stop offset="0.250" stop-color="#c58682"/><stop offset="0.375" stop-color="#d1ab94"/><stop offset="0.500" stop-color="#dbc59e"/><stop offset="0.625" stop-color="#e3d6a2"/><stop offset="0.750" stop-color="#e8e0a5"/><stop offset="0.875" stop-color="#ebe6a6"/><stop offset="1.000" stop-color="#eeeba7"/></linearGradient><linearGradient id="g1_15"><stop offset="0.000" stop-color="#8f5e5e"/><stop offset="0.125" stop-color="#b07373"/><stop offset="0.250" stop-color="#c89087"/><stop offset="0.375" stop-color="#d4b398"/><stop offset="0.500" stop-color="#dfcda0"/><stop offset="0.625" stop-color="#e7dea4"/><stop offset="0.750" stop-color="#ebe6a6"/><stop offset="0.875" stop-color="#eeeca7"/><stop offset="1.000" stop-color="#f0eeab"/></linearGradient><linearGradient id="g1_16"><stop offset="0.000" stop-color="#996464"/><stop offset="0.125" stop-color="#b87979"/><stop offset="0.250" stop-color="#cb9a8c"/><stop offset="0.375" stop-color="#d7bc9b"/><stop offset="0.500" stop-color="#e3d5a2"/><stop offset="0.625" stop-color="#eae4a6"/><stop offset="0.750" stop-color="#eeeca7"/><stop offset="0.875" stop-color="#f1efac"/><stop offset="1.000" stop-color="#f2f0af"/></linearGradient><linearGradient id="g1_17"><stop offset="0.000" stop-color="#a26a6a"/><stop offset="0.125" stop-color="#c07e7e"/><stop offset="0.250" stop-color="#cea490"/><stop offset="0.375" stop-color="#dbc49e"/><stop offset="0.500" stop-color="#e6dda4"/><stop offset="0.625" stop-color="#edeba7"/><stop offset="0.750" stop-color="#f1efae"/><stop offset="0.875" stop-color="#f4f1b2"/><stop offset="1.000" stop-color="#f4f2b4"/></linearGradient><linearGradient id="g1_18"><stop offset="0.000" stop-color="#ab7070"/><stop offset="0.125" stop-color="#c58883"/><stop offset="0.250" stop-color="#d1ae95"/><stop offset="0.375" stop-color="#dfcda0"/><stop offset="0.500" stop-color="#eae4a6"/><stop offset="0.625" stop-color="#f0eeac"/><stop offset="0.750" stop-color="#f4f2b4"/><stop offset="0.875" stop-color="#f6f3b8"/><stop offset="1.000" stop-color="#f6f4b9"/></linearGradient><linearGradient id="g1_19"><stop offset="0.000" stop-color="#b37575"/><stop offset="0.125" stop-color="#c89388"/><stop offset="0.250" stop-color="#d5b79a"/><stop offset="0.375" stop-color="#e3d5a2"/><stop offset="0.500" stop-color="#edeaa7"/><stop offset="0.625" stop-color="#f3f1b2"/><stop offset="0.750" stop-color="#f7f4ba"/><stop offset="0.875" stop-color="#f8f5be"/><stop offset="1.000" stop-color="#f8f5be"/></linearGradient><linearGradient id="g1_20"><stop offset="0.000" stop-color="#bb7a7a"/><stop offset="0.125" stop-color="#cc9d8d"/><stop offset="0.250" stop-color="#d9c09d"/><stop offset="0.375" stop-color="#e6dda4"/><stop offset="0.500" stop-color="#f0eeab"/><stop offset="0.625" stop-color="#f6f3b8"/><stop offset="0.750" stop-color="#f9f6c0"/><stop offset="0.875" stop-color="#faf7c3"/><stop offset="1.000" stop-color="#f9f7c2"/></linearGradient><linearGradient id="g1_21"><stop offset="0.000" stop-color="#c27f7f"/><stop offset="0.125" stop-color="#cfa792"/><stop offset="0.250" stop-color="#ddc89f"/><stop offset="0.375" stop-color="#eae4a6"/><stop offset="0.500" stop-color="#f3f1b0"/><stop offset="0.625" stop-color="#f8f5be"/><stop offset="0.750" stop-color="#faf8c6"/><stop offset="0.875" stop-color="#fbf9c8"/><stop offset="1.000" stop-color="#faf8c5"/></linearGradient><linearGradient id="g1_22"><stop offset="0.000" stop-color="#c58984"/><stop offset="0.125" stop-color="#d2b096"/><stop offset="0.250" stop-color="#e1d1a1"/><stop offset="0.375" stop-color="#edeaa7"/><stop offset="0.500" stop-color="#f5f3b6"/><stop offset="0.625" stop-color="#faf7c3"/><stop offset="0.750" stop-color="#fcf9ca"/><stop offset="0.875" stop-color="#fcfacb"/><stop offset="1.000" stop-color="#fbf9c8"/></linearGradient><linearGradient id="g1_23"><stop offset="0.000" stop-color="#c89288"/><stop offset="0.125" stop-color="#d5b99a"/><stop offset="0.250" stop-color="#e5d9a3"/><stop offset="0.375" stop-color="#f0eeaa"/><stop offset="0.500" stop-color="#f7f5bc"/><stop offset="0.625" stop-color="#fbf9c8"/><stop offset="0.750" stop-color="#fdfbce"/><stop offset="0.875" stop-color="#fdfbce"/><stop offset="1.000" stop-color="#fcf9ca"/></linearGradient><linearGradient id="g1_24"><stop offset="0.000" stop-color="#cb9a8b"/><stop offset="0.125" stop-color="#d9c19d"/><stop offset="0.250" stop-color="#e8e1a5"/><stop offset="0.375" stop-color="#f3f0b0"/><stop offset="0.500" stop-color="#f9f6c1"/><stop offset="0.625" stop-color="#fcfacc"/><stop offset="0.750" stop-color="#fefbd0"/><stop offset="0.875" stop-color="#fefbd0"/><stop offset="1.000" stop-color="#fcfacb"/></linearGradient><linearGradient id="g1_25"><stop offset="0.000" stop-color="#cda18f"/><stop offset="0.125" stop-color="#ddc99f"/><stop offset="0.250" stop-color="#ebe7a6"/><stop offset="0.375" stop-color="#f5f3b5"/><stop offset="0.500" stop-color="#faf8c5"/><stop offset="0.625" stop-color="#fdfbce"/><stop offset="0.750" stop-color="#fefcd2"/><stop offset="0.875" stop-color="#fefbd0"/><stop offset="1.000" stop-color="#fcfaca"/></linearGradient><linearGradient id="g1_26"><stop offset="0.000" stop-color="#cfa792"/><stop offset="0.125" stop-color="#e1d1a1"/><stop offset="0.250" stop-color="#eeeca7"/><stop offset="0.375" stop-color="#f7f4bb"/><stop offset="0.500" stop-color="#fcf9c9"/><stop offset="0.625" stop-color="#fefcd0"/><stop offset="0.750" stop-color="#fffcd2"/><stop offset="0.875" stop-color="#fefbcf"/><stop offset="1.000" stop-color="#fcf9c9"/></linearGradient><linearGradient id="g1_27"><stop offset="0.000" stop-color="#d1ad95"/><stop offset="0.125" stop-color="#e4d8a3"/><stop offset="0.250" stop-color="#f1efad"/><stop offset="0.375" stop-color="#f8f6c0"/><stop offset="0.500" stop-color="#fcfacc"/><stop offset="0.625" stop-color="#fefcd1"/><stop offset="0.750" stop-color="#fefcd1"/><stop offset="0.875" stop-color="#fdfacd"/><stop offset="1.000" stop-color="#fbf8c7"/></linearGradient><linearGradient id="o1_0"><stop offset="0.000" stop-color="#000000" stop-opacity="0.00"/><stop offset="0.125" stop-color="#462e2e" stop-opacity="0.00"/><stop offset="0.250" stop-color="#875858" stop-opacity="0.00"/><stop offset="0.375" stop-color="#b37575" stop-opacity="0.00"/><stop offset="0.500" stop-color="#c99489" stop-opacity="0.02"/><stop offset="0.625" stop-color="#d0a993" stop-opacity="0.08"/><stop offset="0.750" stop-color="#d3b297" stop-opacity="0.10"/><stop offset="0.875" stop-color="#d5b89a" stop-opacity="0.12"/><stop offset="1.000" stop-color="#dac29d" stop-opacity="0.15"/></linearGradient><linearGradient id="o1_1"><stop offset="0.000" stop-color="#000000" stop-opacity="0.00"/><stop offset="0.125" stop-color="#4b3131" stop-opacity="0.00"/><stop offset="0.250" stop-color="#8a5a5a" stop-opacity="0.00"/><stop offset="0.375" stop-color="#b67777" stop-opacity="0.00"/><stop offset="0.500" stop-color="#ca978a" stop-opacity="0.03"/><stop offset="0.625" stop-color="#d1ab94" stop-opacity="0.08"/><stop offset="0.750" stop-color="#d4b498" stop-opacity="0.11"/><stop offset="0.875" stop-color="#d6ba9b" stop-opacity="0.13"/><stop offset="1.000" stop-color="#dbc49e" stop-opacity="0.15"/></linearGradient><linearGradient id="o1_2"><stop offset="0.000" stop-color="#000000" stop-opacity="0.00"/><stop offset="0.125" stop-color="#503434" stop-opacity="0.00"/><stop offset="0.250" stop-color="#8c5c5c" stop-opacity="0.00"/><stop offset="0.375" stop-color="#b77878" stop-opacity="0.00"/><stop offset="0.500" stop-color="#ca998b" stop-opacity="0.04"/><stop offset="0.625" stop-color="#d1ad95" stop-opacity="0.09"/><stop offset="0.750" stop-color="#d4b699" stop-opacity="0.11"/><stop offset="0.875" stop-color="#d7bc9b" stop-opacity="0.13"/><stop offset="1.000" stop-color="#dbc69e" stop-opacity="0.16"/></linearGradient><linearGradient id="o1_3"><stop offset="0.000" stop-color="#000000" stop-opacity="0.00"/><stop offset="0.125" stop-color="#553838" stop-opacity="0.00"/><stop offset="0.250" stop-color="#8f5e5e" stop-opacity="0.00"/><stop offset="0.375" stop-color="#b97979" stop-opacity="0.00"/><stop offset="0.500" stop-color="#cb998b" stop-opacity="0.04"/><stop offset="0.625" stop-color="#d1ad95" stop-opacity="0.09"/><stop offset="0.750" stop-color="#d5b699" stop-opacity="0.11"/><stop offset="0.875" stop-color="#d7bd9c" stop-opacity="0.13"/><stop offset="1.000" stop-color="#dcc79f" stop-opacity="0.16"/></linearGradient><linearGradient id="o1_4"><stop offset="0.000" stop-color="#000000" stop-opacity="0.00"/><stop offset="0.125" stop-color="#5b3b3b" stop-opacity="0.00"/><stop offset="0.250" stop-color="#926060" stop-opacity="0.00"/><stop offset="0.375" stop-color="#ba7a7a" stop-opacity="0.00"/><stop offset="0.500" stop-color="#cb9a8b" stop-opacity="0.04"/><stop offset="0.625" stop-color="#d1ad95" stop-opacity="0.09"/><stop offset="0.750" stop-color="#d5b699" stop-opacity="0.11"/><stop offset="0.875" stop-color="#d8bd9c" stop-opacity="0.13"/><stop offset="1.000" stop-color="#dcc89f" stop-opacity="0.16"/></linearGradient><linearGradient id="o1_5"><stop offset="0.000" stop-color="#000000" stop-opacity="0.00"/><stop offset="0.125" stop-color="#613f3f" stop-opacity="0.00"/><stop offset="0.250" stop-color="#956262" stop-opacity="0.00"/><stop offset="0.375" stop-color="#bb7b7b" stop-opacity="0.00"/><stop offset="0.500" stop-color="#cb9b8c" stop-opacity="0.04"/><stop offset="0.625" stop-color="#d1ad95" stop-opacity="0.09"/><stop offset="0.750" stop-color="#d5b79a" stop-opacity="0.12"/><stop offset="0.875" stop-color="#d8be9c" stop-opacity="0.14"/><stop offset="1.000" stop-color="#ddc99f" stop-opacity="0.17"/></linearGradient><linearGradient id="o1_6"><stop offset="0.000" stop-color="#150e0e" stop-opacity="0.00"/><stop offset="0.125" stop-color="#674444" stop-opacity="0.00"/><stop offset="0.250" stop-color="#986464" stop-opacity="0.00"/><stop offset="0.375" stop-color="#bd7c7c" stop-opacity="0.00"/><stop offset="0.500" stop-color="#cb9c8c" stop-opacity="0.04"/><stop offset="0.625" stop-color="#d2ae95" stop-opacity="0.09"/><stop offset="0.750" stop-color="#d5b79a" stop-opacity="0.12"/><stop offset="0.875" stop-color="#d8bf9c" stop-opacity="0.14"/><stop offset="1.000" stop-color="#decba0" stop-opacity="0.17"/></linearGradient><linearGradient id="o1_7"><stop offset="0.000" stop-color="#2b1c1c" stop-opacity="0.00"/><stop offset="0.125" stop-color="#6e4848" stop-opacity="0.00"/><stop offset="0.250" stop-color="#9c6666" stop-opacity="0.00"/><stop offset="0.375" stop-color="#bf7d7d" stop-opacity="0.00"/><stop offset="0.500" stop-color="#cc9d8d" stop-opacity="0.05"/><stop offset="0.625" stop-color="#d2af96" stop-opacity="0.09"/><stop offset="0.750" stop-color="#d6b99b" stop-opacity="0.12"/><stop offset="0.875" stop-color="#d9c19d" stop-opacity="0.14"/><stop offset="1.000" stop-color="#dfcda0" stop-opacity="0.18"/></linearGradient><linearGradient id="o1_8"><stop offset="0.000" stop-color="#3c2727" stop-opacity="0.00"/><stop offset="0.125" stop-color="#764d4d" stop-opacity="0.00"/><stop offset="0.250" stop-color="#a16a6a" stop-opacity="0.00"/><stop offset="0.375" stop-color="#c27f7f" stop-opacity="0.00"/><stop offset="0.500" stop-color="#cda08e" stop-opacity="0.05"/><stop offset="0.625" stop-color="#d3b297" stop-opacity="0.10"/><stop offset="0.750" stop-color="#d7bc9b" stop-opacity="0.13"/><stop offset="0.875" stop-color="#dbc49e" stop-opacity="0.15"/><stop offset="1.000" stop-color="#e0d0a1" stop-opacity="0.19"/></linearGradient><linearGradient id="o1_9"><stop offset="0.000" stop-color="#4a3030" stop-opacity="0.00"/><stop offset="0.125" stop-color="#7e5252" stop-opacity="0.00"/><stop offset="0.250" stop-color="#a76d6d" stop-opacity="0.00"/><stop offset="0.375" stop-color="#c48582" stop-opacity="0.00"/><stop offset="0.500" stop-color="#cea591" stop-opacity="0.07"/><stop offset="0.625" stop-color="#d4b699" stop-opacity="0.11"/><stop offset="0.750" stop-color="#d9c09d" stop-opacity="0.14"/><stop offset="0.875" stop-color="#ddc89f" stop-opacity="0.17"/><stop offset="1.000" stop-color="#e2d3a2" stop-opacity="0.20"/></linearGradient><linearGradient id="o1_10"><stop offset="0.000" stop-color="#573939" stop-opacity="0.00"/><stop offset="0.125" stop-color="#865858" stop-opacity="0.00"/><stop offset="0.250" stop-color="#ac7171" stop-opacity="0.00"/><stop offset="0.375" stop-color="#c68c85" stop-opacity="0.01"/><stop offset="0.500" stop-color="#d0aa93" stop-opacity="0.08"/><stop offset="0.625" stop-color="#d6bb9b" stop-opacity="0.13"/><stop offset="0.750" stop-color="#dbc59e" stop-opacity="0.16"/><stop offset="0.875" stop-color="#dfcda0" stop-opacity="0.18"/><stop offset="1.000" stop-color="#e4d8a3" stop-opacity="0.21"/></linearGradient><linearGradient id="o1_11"><stop offset="0.000" stop-color="#644141" stop-opacity="0.00"/><stop offset="0.125" stop-color="#8e5d5d" stop-opacity="0.00"/><stop offset="0.250" stop-color="#b37575" stop-opacity="0.00"/><stop offset="0.375" stop-color="#c99388" stop-opacity="0.02"/><stop offset="0.500" stop-color="#d2b096" stop-opacity="0.10"/><stop offset="0.625" stop-color="#d9c19d" stop-opacity="0.14"/><stop offset="0.750" stop-color="#decba0" stop-opacity="0.17"/><stop offset="0.875" stop-color="#e2d3a2" stop-opacity="0.20"/><stop offset="1.000" stop-color="#e6dda4" stop-opacity="0.23"/></linearGradient><linearGradient id="o1_12"><stop offset="0.000" stop-color="#6f4949" stop-opacity="0.00"/><stop offset="0.125" stop-color="#976363" stop-opacity="0.00"/><stop offset="0.250" stop-color="#b97979" stop-opacity="0.00"/><stop offset="0.375" stop-color="#cb9b8c" stop-opacity="0.04"/><stop offset="0.500" stop-color="#d5b699" stop-opacity="0.11"/><stop offset="0.625" stop-color="#dcc79f" stop-opacity="0.16"/><stop offset="0.750" stop-color="#e1d2a1" stop-opacity="0.19"/><stop offset="0.875" stop-color="#e5daa3" stop-opacity="0.22"/><stop offset="1.000" stop-color="#e9e2a5" stop-opacity="0.24"/></linearGradient><linearGradient id="o1_13"><stop offset="0.000" stop-color="#7a5050" stop-opacity="0.00"/><stop offset="0.125" stop-color="#9f6868" stop-opacity="0.00"/><stop offset="0.250" stop-color="#c07e7e" stop-opacity="0.00"/><stop offset="0.375" stop-color="#cea390" stop-opacity="0.06"/><stop offset="0.500" stop-color="#d8be9c" stop-opacity="0.13"/><stop offset="0.625" stop-color="#e0cfa1" stop-opacity="0.18"/><stop offset="0.750" stop-color="#e5d9a3" stop-opacity="0.22"/><stop offset="0.875" stop-color="#e8e0a5" stop-opacity="0.24"/><stop offset="1.000" stop-color="#ebe6a6" stop-opacity="0.26"/></linearGradient><linearGradient id="o1_14"><stop offset="0.000" stop-color="#855757" stop-opacity="0.00"/><stop offset="0.125" stop-color="#a86e6e" stop-opacity="0.00"/><stop offset="0.250" stop-color="#c58682" stop-opacity="0.00"/><stop offset="0.375" stop-color="#d1ab94" stop-opacity="0.08"/><stop offset="0.500" stop-color="#dbc59e" stop-opacity="0.16"/><stop offset="0.625" stop-color="#e3d6a2" stop-opacity="0.21"/><stop offset="0.750" stop-color="#e8e0a5" stop-opacity="0.24"/><stop offset="0.875" stop-color="#ebe6a6" stop-opacity="0.26"/><stop offset="1.000" stop-color="#eeeba7" stop-opacity="0.27"/></linearGradient><linearGradient id="o1_15"><stop offset="0.000" stop-color="#8f5e5e" stop-opacity="0.00"/><stop offset="0.125" stop-color="#b07373" stop-opacity="0.00"/><stop offset="0.250" stop-color="#c89087" stop-opacity="0.02"/><stop offset="0.375" stop-color="#d4b398" stop-opacity="0.11"/><stop offset="0.500" stop-color="#dfcda0" stop-opacity="0.18"/><stop offset="0.625" stop-color="#e7dea4" stop-opacity="0.23"/><stop offset="0.750" stop-color="#ebe6a6" stop-opacity="0.26"/><stop offset="0.875" stop-color="#eeeca7" stop-opacity="0.28"/><stop offset="1.000" stop-color="#f0eeab" stop-opacity="0.29"/></linearGradient><linearGradient id="o1_16"><stop offset="0.000" stop-color="#996464" stop-opacity="0.00"/><stop offset="0.125" stop-color="#b87979" stop-opacity="0.00"/><stop offset="0.250" stop-color="#cb9a8c" stop-opacity="0.04"/><stop offset="0.375" stop-color="#d7bc9b" stop-opacity="0.13"/><stop offset="0.500" stop-color="#e3d5a2" stop-opacity="0.20"/><stop offset="0.625" stop-color="#eae4a6" stop-opacity="0.25"/><stop offset="0.750" stop-color="#eeeca7" stop-opacity="0.28"/><stop offset="0.875" stop-color="#f1efac" stop-opacity="0.30"/><stop offset="1.000" stop-color="#f2f0af" stop-opacity="0.31"/></linearGradient><linearGradient id="o1_17"><stop offset="0.000" stop-color="#a26a6a" stop-opacity="0.00"/><stop offset="0.125" stop-color="#c07e7e" stop-opacity="0.00"/><stop offset="0.250" stop-color="#cea490" stop-opacity="0.06"/><stop offset="0.375" stop-color="#dbc49e" stop-opacity="0.15"/><stop offset="0.500" stop-color="#e6dda4" stop-opacity="0.23"/><stop offset="0.625" stop-color="#edeba7" stop-opacity="0.27"/><stop offset="0.750" stop-color="#f1efae" stop-opacity="0.30"/><stop offset="0.875" stop-color="#f4f1b2" stop-opacity="0.31"/><stop offset="1.000" stop-color="#f4f2b4" stop-opacity="0.32"/></linearGradient><linearGradient id="o1_18"><stop offset="0.000" stop-color="#ab7070" stop-opacity="0.00"/><stop offset="0.125" stop-color="#c58883" stop-opacity="0.00"/><stop offset="0.250" stop-color="#d1ae95" stop-opacity="0.09"/><stop offset="0.375" stop-color="#dfcda0" stop-opacity="0.18"/><stop offset="0.500" stop-color="#eae4a6" stop-opacity="0.25"/><stop offset="0.625" stop-color="#f0eeac" stop-opacity="0.29"/><stop offset="0.750" stop-color="#f4f2b4" stop-opacity="0.32"/><stop offset="0.875" stop-color="#f6f3b8" stop-opacity="0.33"/><stop offset="1.000" stop-color="#f6f4b9" stop-opacity="0.33"/></linearGradient><linearGradient id="o1_19"><stop offset="0.000" stop-color="#b37575" stop-opacity="0.00"/><stop offset="0.125" stop-color="#c89388" stop-opacity="0.02"/><stop offset="0.250" stop-color="#d5b79a" stop-opacity="0.11"/><stop offset="0.375" stop-color="#e3d5a2" stop-opacity="0.20"/><stop offset="0.500" stop-color="#edeaa7" stop-opacity="0.27"/><stop offset="0.625" stop-color="#f3f1b2" stop-opacity="0.31"/><stop offset="0.750" stop-color="#f7f4ba" stop-opacity="0.34"/><stop offset="0.875" stop-color="#f8f5be" stop-opacity="0.35"/><stop offset="1.000" stop-color="#f8f5be" stop-opacity="0.35"/></linearGradient><linearGradient id="o1_20"><stop offset="0.000" stop-color="#bb7a7a" stop-opacity="0.00"/><stop offset="0.125" stop-color="#cc9d8d" stop-opacity="0.05"/><stop offset="0.250" stop-color="#d9c09d" stop-opacity="0.14"/><stop offset="0.375" stop-color="#e6dda4" stop-opacity="0.23"/><stop offset="0.500" stop-color="#f0eeab" stop-opacity="0.29"/><stop offset="0.625" stop-color="#f6f3b8" stop-opacity="0.33"/><stop offset="0.750" stop-color="#f9f6c0" stop-opacity="0.35"/><stop offset="0.875" stop-color="#faf7c3" stop-opacity="0.36"/><stop offset="1.000" stop-color="#f9f7c2" stop-opacity="0.36"/></linearGradient><linearGradient id="o1_21"><stop offset="0.000" stop-color="#c27f7f" stop-opacity="0.00"/><stop offset="0.125" stop-color="#cfa792" stop-opacity="0.07"/><stop offset="0.250" stop-color="#ddc89f" stop-opacity="0.17"/><stop offset="0.375" stop-color="#eae4a6" stop-opacity="0.25"/><stop offset="0.500" stop-color="#f3f1b0" stop-opacity="0.31"/><stop offset="0.625" stop-color="#f8f5be" stop-opacity="0.35"/><stop offset="0.750" stop-color="#faf8c6" stop-opacity="0.37"/><stop offset="0.875" stop-color="#fbf9c8" stop-opacity="0.38"/><stop offset="1.000" stop-color="#faf8c5" stop-opacity="0.37"/></linearGradient><linearGradient id="o1_22"><stop offset="0.000" stop-color="#c58984" stop-opacity="0.00"/><stop offset="0.125" stop-color="#d2b096" stop-opacity="0.10"/><stop offset="0.250" stop-color="#e1d1a1" stop-opacity="0.19"/><stop offset="0.375" stop-color="#edeaa7" stop-opacity="0.27"/><stop offset="0.500" stop-color="#f5f3b6" stop-opacity="0.33"/><stop offset="0.625" stop-color="#faf7c3" stop-opacity="0.36"/><stop offset="0.750" stop-color="#fcf9ca" stop-opacity="0.38"/><stop offset="0.875" stop-color="#fcfacb" stop-opacity="0.39"/><stop offset="1.000" stop-color="#fbf9c8" stop-opacity="0.38"/></linearGradient><linearGradient id="o1_23"><stop offset="0.000" stop-color="#c89288" stop-opacity="0.02"/><stop offset="0.125" stop-color="#d5b99a" stop-opacity="0.12"/><stop offset="0.250" stop-color="#e5d9a3" stop-opacity="0.22"/><stop offset="0.375" stop-color="#f0eeaa" stop-opacity="0.29"/><stop offset="0.500" stop-color="#f7f5bc" stop-opacity="0.34"/><stop offset="0.625" stop-color="#fbf9c8" stop-opacity="0.38"/><stop offset="0.750" stop-color="#fdfbce" stop-opacity="0.39"/><stop offset="0.875" stop-color="#fdfbce" stop-opacity="0.40"/><stop offset="1.000" stop-color="#fcf9ca" stop-opacity="0.38"/></linearGradient><linearGradient id="o1_24"><stop offset="0.000" stop-color="#cb9a8b" stop-opacity="0.04"/><stop offset="0.125" stop-color="#d9c19d" stop-opacity="0.14"/><stop offset="0.250" stop-color="#e8e1a5" stop-opacity="0.24"/><stop offset="0.375" stop-color="#f3f0b0" stop-opacity="0.31"/><stop offset="0.500" stop-color="#f9f6c1" stop-opacity="0.36"/><stop offset="0.625" stop-color="#fcfacc" stop-opacity="0.39"/><stop offset="0.750" stop-color="#fefbd0" stop-opacity="0.40"/><stop offset="0.875" stop-color="#fefbd0" stop-opacity="0.40"/><stop offset="1.000" stop-color="#fcfacb" stop-opacity="0.38"/></linearGradient><linearGradient id="o1_25"><stop offset="0.000" stop-color="#cda18f" stop-opacity="0.06"/><stop offset="0.125" stop-color="#ddc99f" stop-opacity="0.17"/><stop offset="0.250" stop-color="#ebe7a6" stop-opacity="0.26"/><stop offset="0.375" stop-color="#f5f3b5" stop-opacity="0.32"/><stop offset="0.500" stop-color="#faf8c5" stop-opacity="0.37"/><stop offset="0.625" stop-color="#fdfbce" stop-opacity="0.40"/><stop offset="0.750" stop-color="#fefcd2" stop-opacity="0.40"/><stop offset="0.875" stop-color="#fefbd0" stop-opacity="0.40"/><stop offset="1.000" stop-color="#fcfaca" stop-opacity="0.38"/></linearGradient><linearGradient id="o1_26"><stop offset="0.000" stop-color="#cfa792" stop-opacity="0.07"/><stop offset="0.125" stop-color="#e1d1a1" stop-opacity="0.19"/><stop offset="0.250" stop-color="#eeeca7" stop-opacity="0.28"/><stop offset="0.375" stop-color="#f7f4bb" stop-opacity="0.34"/><stop offset="0.500" stop-color="#fcf9c9" stop-opacity="0.38"/><stop offset="0.625" stop-color="#fefcd0" stop-opacity="0.40"/><stop offset="0.750" stop-color="#fffcd2" stop-opacity="0.40"/><stop offset="0.875" stop-color="#fefbcf" stop-opacity="0.40"/><stop offset="1.000" stop-color="#fcf9c9" stop-opacity="0.38"/></linearGradient><linearGradient id="o1_27"><stop offset="0.000" stop-color="#d1ad95" stop-opacity="0.09"/><stop offset="0.125" stop-color="#e4d8a3" stop-opacity="0.21"/><stop offset="0.250" stop-color="#f1efad" stop-opacity="0.30"/><stop offset="0.375" stop-color="#f8f6c0" stop-opacity="0.35"/><stop offset="0.500" stop-color="#fcfacc" stop-opacity="0.39"/><stop offset="0.625" stop-color="#fefcd1" stop-opacity="0.40"/><stop offset="0.750" stop-color="#fefcd1" stop-opacity="0.40"/><stop offset="0.875" stop-color="#fdfacd" stop-opacity="0.39"/><stop offset="1.000" stop-color="#fbf8c7" stop-opacity="0.37"/></linearGradient><linearGradient id="cb1" x1="0" y1="1" x2="0" y2="0"><stop offset="0.000" stop-color="#000000"/><stop offset="0.062" stop-color="#4e3434"/><stop offset="0.125" stop-color="#704949"/><stop offset="0.188" stop-color="#8a5a5a"/><stop offset="0.250" stop-color="#a16969"/><stop offset="0.312" stop-color="#b67676"/><stop offset="0.375" stop-color="#c68381"/><stop offset="0.438" stop-color="#d08e8a"/><stop offset="0.500" stop-color="#d89890"/><stop offset="0.562" stop-color="#e0a996"/><stop offset="0.625" stop-color="#e7b89b"/><stop offset="0.688" stop-color="#ebc59f"/><stop offset="0.750" stop-color="#eed3a4"/><stop offset="0.812" stop-color="#f0e0a8"/><stop offset="0.875" stop-color="#f3eab1"/><stop offset="0.938" stop-color="#f6f3c0"/><stop offset="1.000" stop-color="#ffffff"/></linearGradient></defs><rect width="550" height="491" fill="#fff"/><line x1="36.9" y1="67" x2="121.5" y2="37" stroke="#c4c4c4" stroke-width="0.7" stroke-dasharray="0.7 2"/>
<line x1="121.5" y1="37" x2="238.3" y2="55.7" stroke="#c4c4c4" stroke-width="0.7" stroke-dasharray="0.7 2"/>
<line x1="37.8" y1="100.5" x2="121.5" y2="68.7" stroke="#c4c4c4" stroke-width="0.7" stroke-dasharray="0.7 2"/>
<line x1="121.5" y1="68.7" x2="238.3" y2="89" stroke="#c4c4c4" stroke-width="0.7" stroke-dasharray="0.7 2"/>
<line x1="38.8" y1="133" x2="121.5" y2="99.4" stroke="#c4c4c4" stroke-width="0.7" stroke-dasharray="0.7 2"/>
<line x1="121.5" y1="99.4" x2="238.2" y2="121.2" stroke="#c4c4c4" stroke-width="0.7" stroke-dasharray="0.7 2"/>
<line x1="39.7" y1="165.6" x2="121.5" y2="130.3" stroke="#c4c4c4" stroke-width="0.7" stroke-dasharray="0.7 2"/>
<line x1="121.5" y1="130.3" x2="238.2" y2="153.5" stroke="#c4c4c4" stroke-width="0.7" stroke-dasharray="0.7 2"/>
<line x1="51.9" y1="171.4" x2="133.2" y2="135.3" stroke="#c4c4c4" stroke-width="0.7" stroke-dasharray="0.7 2"/>
<line x1="133.2" y1="135.3" x2="133.2" y2="19.5" stroke="#c4c4c4" stroke-width="0.7" stroke-dasharray="0.7 2"/>
<line x1="82.1" y1="178.7" x2="162.3" y2="141.2" stroke="#c4c4c4" stroke-width="0.7" stroke-dasharray="0.7 2"/>
<line x1="162.3" y1="141.2" x2="162.4" y2="23.9" stroke="#c4c4c4" stroke-width="0.7" stroke-dasharray="0.7 2"/>
<line x1="112.3" y1="185.9" x2="191.5" y2="147" stroke="#c4c4c4" stroke-width="0.7" stroke-dasharray="0.7 2"/>
<line x1="191.5" y1="147" x2="191.6" y2="28.4" stroke="#c4c4c4" stroke-width="0.7" stroke-dasharray="0.7 2"/>
<line x1="142.5" y1="193.2" x2="220.7" y2="152.9" stroke="#c4c4c4" stroke-width="0.7" stroke-dasharray="0.7 2"/>
<line x1="220.7" y1="152.9" x2="220.8" y2="32.8" stroke="#c4c4c4" stroke-width="0.7" stroke-dasharray="0.7 2"/>
<line x1="183.1" y1="185.6" x2="63.5" y2="158.2" stroke="#c4c4c4" stroke-width="0.7" stroke-dasharray="0.7 2"/>
<line x1="63.5" y1="158.2" x2="61" y2="38.2" stroke="#c4c4c4" stroke-width="0.7" stroke-dasharray="0.7 2"/>
<line x1="210.3" y1="171.2" x2="92.1" y2="145.8" stroke="#c4c4c4" stroke-width="0.7" stroke-dasharray="0.7 2"/>
<line x1="92.1" y1="145.8" x2="90.8" y2="28.1" stroke="#c4c4c4" stroke-width="0.7" stroke-dasharray="0.7 2"/>
<line x1="36.3" y1="46.6" x2="121.5" y2="17.7" stroke="#444" stroke-width="0.6"/>
<line x1="121.5" y1="17.7" x2="238.3" y2="35.5" stroke="#444" stroke-width="0.6"/>
<line x1="121.5" y1="17.7" x2="121.5" y2="133" stroke="#444" stroke-width="0.6"/>
<line x1="39.8" y1="168.5" x2="121.5" y2="133" stroke="#444" stroke-width="0.6"/>
<line x1="121.5" y1="133" x2="238.2" y2="156.4" stroke="#444" stroke-width="0.6"/>
<line x1="36.3" y1="46.6" x2="39.8" y2="168.5" stroke="#444" stroke-width="0.6"/>
<line x1="238.3" y1="35.5" x2="238.2" y2="156.4" stroke="#444" stroke-width="0.6"/>
<line x1="39.8" y1="168.5" x2="160.6" y2="197.5" stroke="#444" stroke-width="0.6"/>
<line x1="160.6" y1="197.5" x2="238.2" y2="156.4" stroke="#444" stroke-width="0.6"/>
<path d="M237.6 123.8L235.5 122.5L233.5 121.1L231.4 119.8L229.3 118.5L227.3 117.2L225.2 115.9L223.1 114.7L221.1 113.4L219 112.2L217 110.9L214.9 109.7L212.8 108.5L210.8 107.3L208.7 106.1L206.6 105L204.6 103.8L202.5 102.7L200.4 101.5L198.4 100.4L196.3 99.3L194.2 98.2L192.2 97.2L190.1 96.1L188.1 95.1L186 94.1L183.9 93.1L181.9 92.1L179.8 91.1L177.7 90.1L175.7 89.2L173.6 88.3L171.5 87.3L169.5 86.4L167.4 85.6L165.3 84.7L163.3 83.9L161.2 83L159.2 82.2L157.1 81.4L155 80.7L153 79.9L150.9 79.2L148.8 78.5L146.8 77.8L144.7 77.1L142.6 76.5L140.6 75.8L138.5 75.2L136.4 74.6L134.4 74L132.3 73.5L130.3 72.9L128.2 72.4L126.1 71.9L124.1 71.5L122 71L120.5 72.5L119 74.1L117.5 75.6L116 77.1L114.5 78.6L113.1 80.2L111.6 81.7L110.1 83.2L108.6 84.7L107.1 86.2L105.6 87.7L104.1 89.2L102.6 90.7L101.1 92.1L99.6 93.6L98.1 95L96.7 96.5L95.2 97.9L93.7 99.3L92.2 100.7L90.7 102.1L89.2 103.5L87.7 104.8L86.2 106.2L84.7 107.5L83.2 108.8L81.7 110.1L80.2 111.4L78.8 112.6L77.3 113.9L75.8 115.1L74.3 116.2L72.8 117.4L71.3 118.6L69.8 119.7L68.3 120.8L66.8 121.8L65.3 122.9L63.8 123.9L62.4 124.9L60.9 125.8L59.4 126.8L57.9 127.7L56.4 128.5L54.9 129.4L53.4 130.2L51.9 131L50.4 131.7L48.9 132.4L47.4 133.1L46 133.7L44.5 134.4L43 134.9L41.5 135.5L40 135.9L38.5 136.4L40.7 136.9L42.9 137.6L45 138.4L47.2 139.1L49.4 139.8L51.6 140.6L53.8 141.3L55.9 142.1L58.1 142.8L60.3 143.6L62.5 144.4L64.7 145.2L66.8 146L69 146.8L71.2 147.6L73.4 148.4L75.6 149.2L77.7 150.1L79.9 151L82.1 151.8L84.3 152.7L86.5 153.6L88.6 154.6L90.8 155.5L93 156.5L95.2 157.4L97.4 158.4L99.5 159.4L101.7 160.4L103.9 161.4L106.1 162.5L108.3 163.6L110.5 164.7L112.6 165.8L114.8 166.9L117 168L119.2 169.2L121.4 170.4L123.5 171.6L125.7 172.9L127.9 174.1L130.1 175.4L132.3 176.7L134.4 178L136.6 179.4L138.8 180.8L141 182.2L143.2 183.6L145.3 185L147.5 186.5L149.7 188L151.9 189.6L154.1 191.1L156.2 192.7L158.4 194.3L160.6 196L162 195.9L163.3 195.7L164.7 195.4L166.1 195.1L167.5 194.7L168.8 194.2L170.2 193.7L171.6 193.1L173 192.4L174.3 191.7L175.7 190.9L177.1 190.1L178.5 189.2L179.8 188.3L181.2 187.3L182.6 186.2L184 185.2L185.3 184L186.7 182.9L188.1 181.6L189.5 180.4L190.8 179.1L192.2 177.8L193.6 176.4L195 175L196.3 173.6L197.7 172.1L199.1 170.6L200.5 169.1L201.8 167.5L203.2 166L204.6 164.4L206 162.8L207.3 161.1L208.7 159.5L210.1 157.8L211.5 156.1L212.8 154.4L214.2 152.7L215.6 151L217 149.3L218.3 147.6L219.7 145.9L221.1 144.1L222.5 142.4L223.8 140.7L225.2 138.9L226.6 137.2L228 135.5L229.3 133.8L230.7 132.1L232.1 130.4L233.5 128.7L234.8 127.1L236.2 125.4L237.6 123.8Z" fill="none" stroke="#111" stroke-width="1.7" stroke-linejoin="miter"/>
<g stroke-width="0.6" stroke-linejoin="round">
<path d="M237.8 96.8L233.6 94.5L230.9 99.2L235 101.6Z" fill="#d6bb9b" stroke="#d6bb9b"/>
<path d="M235 101.6L230.9 99.2L228.1 103.7L232.3 106.2Z" fill="#d4b699" stroke="#d4b699"/>
<path d="M232.3 106.2L228.1 103.7L225.3 108L229.5 110.5Z" fill="#d2b096" stroke="#d2b096"/>
<path d="M229.5 110.5L225.3 108L222.6 112.1L226.7 114.7Z" fill="#d0aa93" stroke="#d0aa93"/>
<path d="M226.7 114.7L222.6 112.1L219.8 116L224 118.7Z" fill="#cea490" stroke="#cea490"/>
<path d="M224 118.7L219.8 116L217 119.8L221.2 122.5Z" fill="#cc9e8d" stroke="#cc9e8d"/>
<path d="M221.2 122.5L217 119.8L214.2 123.4L218.5 126.1Z" fill="#ca978a" stroke="#ca978a"/>
<path d="M218.5 126.1L214.2 123.4L211.5 126.8L215.7 129.5Z" fill="#c78f86" stroke="#c78f86"/>
<path d="M215.7 129.5L211.5 126.8L208.7 130L212.9 132.8Z" fill="#c58783" stroke="#c58783"/>
<path d="M212.9 132.8L208.7 130L205.9 133.1L210.2 135.9Z" fill="#c27f7f" stroke="#c27f7f"/>
<path d="M210.2 135.9L205.9 133.1L203.2 136L207.4 138.9Z" fill="#bc7b7b" stroke="#bc7b7b"/>
<path d="M207.4 138.9L203.2 136L200.4 138.8L204.6 141.7Z" fill="#b57777" stroke="#b57777"/>
<path d="M204.6 141.7L200.4 138.8L197.6 141.4L201.9 144.3Z" fill="#af7272" stroke="#af7272"/>
<path d="M201.9 144.3L197.6 141.4L194.8 143.9L199.1 146.8Z" fill="#a86e6e" stroke="#a86e6e"/>
<path d="M199.1 146.8L194.8 143.9L192.1 146.3L196.3 149.2Z" fill="#a06969" stroke="#a06969"/>
<path d="M196.3 149.2L192.1 146.3L189.3 148.5L193.6 151.5Z" fill="#986464" stroke="#986464"/>
<path d="M193.6 151.5L189.3 148.5L186.5 150.6L190.8 153.6Z" fill="#905e5e" stroke="#905e5e"/>
<path d="M190.8 153.6L186.5 150.6L183.8 152.7L188 155.6Z" fill="#865858" stroke="#865858"/>
<path d="M188 155.6L183.8 152.7L181 154.6L185.3 157.5Z" fill="#7d5252" stroke="#7d5252"/>
<path d="M185.3 157.5L181 154.6L178.2 156.4L182.5 159.4Z" fill="#724b4b" stroke="#724b4b"/>
<path d="M182.5 159.4L178.2 156.4L175.4 158.1L179.8 161.1Z" fill="#664343" stroke="#664343"/>
<path d="M179.8 161.1L175.4 158.1L172.7 159.7L177 162.7Z" fill="#583a3a" stroke="#583a3a"/>
<path d="M177 162.7L172.7 159.7L169.9 161.2L174.2 164.2Z" fill="#482f2f" stroke="#482f2f"/>
<path d="M174.2 164.2L169.9 161.2L167.1 162.6L171.5 165.7Z" fill="#332222" stroke="#332222"/>
<path d="M171.5 165.7L167.1 162.6L164.4 164L168.7 167Z" fill="#080505" stroke="#080505"/>
<path d="M168.7 167L164.4 164L161.6 165.3L165.9 168.4Z" fill="#000000" stroke="#000000"/>
<path d="M165.9 168.4L161.6 165.3L158.8 166.5L163.2 169.6Z" fill="#000000" stroke="#000000"/>
<path d="M163.2 169.6L158.8 166.5L156 167.7L160.4 170.8Z" fill="#000000" stroke="#000000"/>
<path d="M233.6 94.5L229.5 92.2L226.7 96.8L230.9 99.2Z" fill="#d8bf9c" stroke="#d8bf9c"/>
<path d="M230.9 99.2L226.7 96.8L223.9 101.2L228.1 103.7Z" fill="#d6ba9b" stroke="#d6ba9b"/>
<path d="M228.1 103.7L223.9 101.2L221.2 105.5L225.3 108Z" fill="#d4b599" stroke="#d4b599"/>
<path d="M225.3 108L221.2 105.5L218.4 109.6L222.6 112.1Z" fill="#d2b096" stroke="#d2b096"/>
<path d="M222.6 112.1L218.4 109.6L215.6 113.4L219.8 116Z" fill="#d0aa93" stroke="#d0aa93"/>
<path d="M219.8 116L215.6 113.4L212.8 117.1L217 119.8Z" fill="#cea490" stroke="#cea490"/>
<path d="M217 119.8L212.8 117.1L210 120.7L214.2 123.4Z" fill="#cc9d8d" stroke="#cc9d8d"/>
<path d="M214.2 123.4L210 120.7L207.3 124L211.5 126.8Z" fill="#ca978a" stroke="#ca978a"/>
<path d="M211.5 126.8L207.3 124L204.5 127.2L208.7 130Z" fill="#c78f86" stroke="#c78f86"/>
<path d="M208.7 130L204.5 127.2L201.7 130.3L205.9 133.1Z" fill="#c58783" stroke="#c58783"/>
<path d="M205.9 133.1L201.7 130.3L198.9 133.2L203.2 136Z" fill="#c27f7f" stroke="#c27f7f"/>
<path d="M203.2 136L198.9 133.2L196.2 135.9L200.4 138.8Z" fill="#bc7b7b" stroke="#bc7b7b"/>
<path d="M200.4 138.8L196.2 135.9L193.4 138.6L197.6 141.4Z" fill="#b67777" stroke="#b67777"/>
<path d="M197.6 141.4L193.4 138.6L190.6 141L194.8 143.9Z" fill="#af7373" stroke="#af7373"/>
<path d="M194.8 143.9L190.6 141L187.8 143.4L192.1 146.3Z" fill="#a86e6e" stroke="#a86e6e"/>
<path d="M192.1 146.3L187.8 143.4L185 145.6L189.3 148.5Z" fill="#a16969" stroke="#a16969"/>
<path d="M189.3 148.5L185 145.6L182.3 147.7L186.5 150.6Z" fill="#996464" stroke="#996464"/>
<path d="M186.5 150.6L182.3 147.7L179.5 149.7L183.8 152.7Z" fill="#915f5f" stroke="#915f5f"/>
<path d="M183.8 152.7L179.5 149.7L176.7 151.6L181 154.6Z" fill="#885959" stroke="#885959"/>
<path d="M181 154.6L176.7 151.6L173.9 153.4L178.2 156.4Z" fill="#7f5353" stroke="#7f5353"/>
<path d="M178.2 156.4L173.9 153.4L171.1 155.1L175.4 158.1Z" fill="#744c4c" stroke="#744c4c"/>
<path d="M175.4 158.1L171.1 155.1L168.4 156.7L172.7 159.7Z" fill="#694545" stroke="#694545"/>
<path d="M172.7 159.7L168.4 156.7L165.6 158.2L169.9 161.2Z" fill="#5c3c3c" stroke="#5c3c3c"/>
<path d="M169.9 161.2L165.6 158.2L162.8 159.7L167.1 162.6Z" fill="#4d3333" stroke="#4d3333"/>
<path d="M167.1 162.6L162.8 159.7L160 161L164.4 164Z" fill="#3b2626" stroke="#3b2626"/>
<path d="M164.4 164L160 161L157.3 162.3L161.6 165.3Z" fill="#1f1414" stroke="#1f1414"/>
<path d="M161.6 165.3L157.3 162.3L154.5 163.6L158.8 166.5Z" fill="#000000" stroke="#000000"/>
<path d="M158.8 166.5L154.5 163.6L151.7 164.7L156 167.7Z" fill="#000000" stroke="#000000"/>
<path d="M229.5 92.2L225.3 89.9L222.6 94.5L226.7 96.8Z" fill="#dac49e" stroke="#dac49e"/>
<path d="M226.7 96.8L222.6 94.5L219.8 98.8L223.9 101.2Z" fill="#d8bf9c" stroke="#d8bf9c"/>
<path d="M223.9 101.2L219.8 98.8L217 103L221.2 105.5Z" fill="#d6ba9b" stroke="#d6ba9b"/>
<path d="M221.2 105.5L217 103L214.2 107L218.4 109.6Z" fill="#d4b599" stroke="#d4b599"/>
<path d="M218.4 109.6L214.2 107L211.4 110.9L215.6 113.4Z" fill="#d2af96" stroke="#d2af96"/>
<path d="M215.6 113.4L211.4 110.9L208.6 114.5L212.8 117.1Z" fill="#d0aa93" stroke="#d0aa93"/>
<path d="M212.8 117.1L208.6 114.5L205.8 118L210 120.7Z" fill="#cea490" stroke="#cea490"/>
<path d="M210 120.7L205.8 118L203.1 121.4L207.3 124Z" fill="#cc9d8d" stroke="#cc9d8d"/>
<path d="M207.3 124L203.1 121.4L200.3 124.5L204.5 127.2Z" fill="#ca968a" stroke="#ca968a"/>
<path d="M204.5 127.2L200.3 124.5L197.5 127.6L201.7 130.3Z" fill="#c78f86" stroke="#c78f86"/>
<path d="M201.7 130.3L197.5 127.6L194.7 130.4L198.9 133.2Z" fill="#c58783" stroke="#c58783"/>
<path d="M198.9 133.2L194.7 130.4L191.9 133.2L196.2 135.9Z" fill="#c27f7f" stroke="#c27f7f"/>
<path d="M196.2 135.9L191.9 133.2L189.1 135.8L193.4 138.6Z" fill="#bc7b7b" stroke="#bc7b7b"/>
<path d="M193.4 138.6L189.1 135.8L186.3 138.2L190.6 141Z" fill="#b67777" stroke="#b67777"/>
<path d="M190.6 141L186.3 138.2L183.6 140.6L187.8 143.4Z" fill="#b07373" stroke="#b07373"/>
<path d="M187.8 143.4L183.6 140.6L180.8 142.8L185 145.6Z" fill="#a96f6f" stroke="#a96f6f"/>
<path d="M185 145.6L180.8 142.8L178 144.9L182.3 147.7Z" fill="#a26a6a" stroke="#a26a6a"/>
<path d="M182.3 147.7L178 144.9L175.2 146.9L179.5 149.7Z" fill="#9a6565" stroke="#9a6565"/>
<path d="M179.5 149.7L175.2 146.9L172.4 148.8L176.7 151.6Z" fill="#926060" stroke="#926060"/>
<path d="M176.7 151.6L172.4 148.8L169.6 150.6L173.9 153.4Z" fill="#8a5a5a" stroke="#8a5a5a"/>
<path d="M173.9 153.4L169.6 150.6L166.8 152.3L171.1 155.1Z" fill="#815454" stroke="#815454"/>
<path d="M171.1 155.1L166.8 152.3L164.1 153.9L168.4 156.7Z" fill="#774e4e" stroke="#774e4e"/>
<path d="M168.4 156.7L164.1 153.9L161.3 155.4L165.6 158.2Z" fill="#6c4747" stroke="#6c4747"/>
<path d="M165.6 158.2L161.3 155.4L158.5 156.8L162.8 159.7Z" fill="#603f3f" stroke="#603f3f"/>
<path d="M162.8 159.7L158.5 156.8L155.7 158.2L160 161Z" fill="#523636" stroke="#523636"/>
<path d="M160 161L155.7 158.2L152.9 159.5L157.3 162.3Z" fill="#422b2b" stroke="#422b2b"/>
<path d="M157.3 162.3L152.9 159.5L150.1 160.7L154.5 163.6Z" fill="#2c1d1d" stroke="#2c1d1d"/>
<path d="M154.5 163.6L150.1 160.7L147.3 161.8L151.7 164.7Z" fill="#000000" stroke="#000000"/>
<path d="M225.3 89.9L221.2 87.7L218.4 92.2L222.6 94.5Z" fill="#dcc89f" stroke="#dcc89f"/>
<path d="M222.6 94.5L218.4 92.2L215.6 96.5L219.8 98.8Z" fill="#dac39e" stroke="#dac39e"/>
<path d="M219.8 98.8L215.6 96.5L212.8 100.6L217 103Z" fill="#d8bf9c" stroke="#d8bf9c"/>
<path d="M217 103L212.8 100.6L210 104.6L214.2 107Z" fill="#d6ba9b" stroke="#d6ba9b"/>
<path d="M214.2 107L210 104.6L207.2 108.4L211.4 110.9Z" fill="#d4b498" stroke="#d4b498"/>
<path d="M211.4 110.9L207.2 108.4L204.4 112L208.6 114.5Z" fill="#d2af96" stroke="#d2af96"/>
<path d="M208.6 114.5L204.4 112L201.6 115.4L205.8 118Z" fill="#d0aa93" stroke="#d0aa93"/>
<path d="M205.8 118L201.6 115.4L198.8 118.7L203.1 121.4Z" fill="#cea490" stroke="#cea490"/>
<path d="M203.1 121.4L198.8 118.7L196.1 121.9L200.3 124.5Z" fill="#cc9d8d" stroke="#cc9d8d"/>
<path d="M200.3 124.5L196.1 121.9L193.3 124.9L197.5 127.6Z" fill="#ca978a" stroke="#ca978a"/>
<path d="M197.5 127.6L193.3 124.9L190.5 127.7L194.7 130.4Z" fill="#c78f87" stroke="#c78f87"/>
<path d="M194.7 130.4L190.5 127.7L187.7 130.5L191.9 133.2Z" fill="#c58883" stroke="#c58883"/>
<path d="M191.9 133.2L187.7 130.5L184.9 133L189.1 135.8Z" fill="#c37f7f" stroke="#c37f7f"/>
<path d="M189.1 135.8L184.9 133L182.1 135.5L186.3 138.2Z" fill="#bd7c7c" stroke="#bd7c7c"/>
<path d="M186.3 138.2L182.1 135.5L179.3 137.8L183.6 140.6Z" fill="#b77878" stroke="#b77878"/>
<path d="M183.6 140.6L179.3 137.8L176.5 140.1L180.8 142.8Z" fill="#b17474" stroke="#b17474"/>
<path d="M180.8 142.8L176.5 140.1L173.7 142.1L178 144.9Z" fill="#aa6f6f" stroke="#aa6f6f"/>
<path d="M178 144.9L173.7 142.1L170.9 144.1L175.2 146.9Z" fill="#a36b6b" stroke="#a36b6b"/>
<path d="M175.2 146.9L170.9 144.1L168.1 146L172.4 148.8Z" fill="#9c6666" stroke="#9c6666"/>
<path d="M172.4 148.8L168.1 146L165.3 147.8L169.6 150.6Z" fill="#946161" stroke="#946161"/>
<path d="M169.6 150.6L165.3 147.8L162.5 149.5L166.8 152.3Z" fill="#8c5b5b" stroke="#8c5b5b"/>
<path d="M166.8 152.3L162.5 149.5L159.7 151.1L164.1 153.9Z" fill="#835656" stroke="#835656"/>
<path d="M164.1 153.9L159.7 151.1L157 152.6L161.3 155.4Z" fill="#7a5050" stroke="#7a5050"/>
<path d="M161.3 155.4L157 152.6L154.2 154L158.5 156.8Z" fill="#6f4949" stroke="#6f4949"/>
<path d="M158.5 156.8L154.2 154L151.4 155.4L155.7 158.2Z" fill="#644242" stroke="#644242"/>
<path d="M155.7 158.2L151.4 155.4L148.6 156.7L152.9 159.5Z" fill="#583939" stroke="#583939"/>
<path d="M152.9 159.5L148.6 156.7L145.8 157.9L150.1 160.7Z" fill="#493030" stroke="#493030"/>
<path d="M150.1 160.7L145.8 157.9L143 159L147.3 161.8Z" fill="#362424" stroke="#362424"/>
<path d="M221.2 87.7L217 85.4L214.2 89.9L218.4 92.2Z" fill="#decca0" stroke="#decca0"/>
<path d="M218.4 92.2L214.2 89.9L211.4 94.1L215.6 96.5Z" fill="#dcc79f" stroke="#dcc79f"/>
<path d="M215.6 96.5L211.4 94.1L208.6 98.2L212.8 100.6Z" fill="#dac39d" stroke="#dac39d"/>
<path d="M212.8 100.6L208.6 98.2L205.8 102.1L210 104.6Z" fill="#d8be9c" stroke="#d8be9c"/>
<path d="M210 104.6L205.8 102.1L203 105.9L207.2 108.4Z" fill="#d6b99b" stroke="#d6b99b"/>
<path d="M207.2 108.4L203 105.9L200.2 109.5L204.4 112Z" fill="#d4b498" stroke="#d4b498"/>
<path d="M204.4 112L200.2 109.5L197.4 112.9L201.6 115.4Z" fill="#d2af96" stroke="#d2af96"/>
<path d="M201.6 115.4L197.4 112.9L194.6 116.2L198.8 118.7Z" fill="#d0aa93" stroke="#d0aa93"/>
<path d="M198.8 118.7L194.6 116.2L191.8 119.3L196.1 121.9Z" fill="#cea490" stroke="#cea490"/>
<path d="M196.1 121.9L191.8 119.3L189 122.3L193.3 124.9Z" fill="#cc9d8d" stroke="#cc9d8d"/>
<path d="M193.3 124.9L189 122.3L186.2 125.1L190.5 127.7Z" fill="#ca978a" stroke="#ca978a"/>
<path d="M190.5 127.7L186.2 125.1L183.4 127.8L187.7 130.5Z" fill="#c89087" stroke="#c89087"/>
<path d="M187.7 130.5L183.4 127.8L180.6 130.4L184.9 133Z" fill="#c58883" stroke="#c58883"/>
<path d="M184.9 133L180.6 130.4L177.8 132.8L182.1 135.5Z" fill="#c38080" stroke="#c38080"/>
<path d="M182.1 135.5L177.8 132.8L175 135.1L179.3 137.8Z" fill="#bd7c7c" stroke="#bd7c7c"/>
<path d="M179.3 137.8L175 135.1L172.2 137.4L176.5 140.1Z" fill="#b87878" stroke="#b87878"/>
<path d="M176.5 140.1L172.2 137.4L169.4 139.4L173.7 142.1Z" fill="#b17474" stroke="#b17474"/>
<path d="M173.7 142.1L169.4 139.4L166.6 141.4L170.9 144.1Z" fill="#ab7070" stroke="#ab7070"/>
<path d="M170.9 144.1L166.6 141.4L163.8 143.3L168.1 146Z" fill="#a46c6c" stroke="#a46c6c"/>
<path d="M168.1 146L163.8 143.3L161 145.1L165.3 147.8Z" fill="#9d6767" stroke="#9d6767"/>
<path d="M165.3 147.8L161 145.1L158.2 146.8L162.5 149.5Z" fill="#966262" stroke="#966262"/>
<path d="M162.5 149.5L158.2 146.8L155.4 148.4L159.7 151.1Z" fill="#8e5d5d" stroke="#8e5d5d"/>
<path d="M159.7 151.1L155.4 148.4L152.6 149.9L157 152.6Z" fill="#855757" stroke="#855757"/>
<path d="M157 152.6L152.6 149.9L149.8 151.3L154.2 154Z" fill="#7d5252" stroke="#7d5252"/>
<path d="M154.2 154L149.8 151.3L147 152.7L151.4 155.4Z" fill="#734b4b" stroke="#734b4b"/>
<path d="M151.4 155.4L147 152.7L144.2 153.9L148.6 156.7Z" fill="#684444" stroke="#684444"/>
<path d="M148.6 156.7L144.2 153.9L141.4 155.2L145.8 157.9Z" fill="#5d3d3d" stroke="#5d3d3d"/>
<path d="M145.8 157.9L141.4 155.2L138.6 156.3L143 159Z" fill="#503434" stroke="#503434"/>
<path d="M217 85.4L212.9 83.3L210.1 87.6L214.2 89.9Z" fill="#e0cfa1" stroke="#e0cfa1"/>
<path d="M214.2 89.9L210.1 87.6L207.3 91.8L211.4 94.1Z" fill="#decba0" stroke="#decba0"/>
<path d="M211.4 94.1L207.3 91.8L204.5 95.9L208.6 98.2Z" fill="#dcc79f" stroke="#dcc79f"/>
<path d="M208.6 98.2L204.5 95.9L201.7 99.7L205.8 102.1Z" fill="#dac39d" stroke="#dac39d"/>
<path d="M205.8 102.1L201.7 99.7L198.8 103.4L203 105.9Z" fill="#d8be9c" stroke="#d8be9c"/>
<path d="M203 105.9L198.8 103.4L196 107L200.2 109.5Z" fill="#d6b99b" stroke="#d6b99b"/>
<path d="M200.2 109.5L196 107L193.2 110.4L197.4 112.9Z" fill="#d4b498" stroke="#d4b498"/>
<path d="M197.4 112.9L193.2 110.4L190.4 113.6L194.6 116.2Z" fill="#d2af96" stroke="#d2af96"/>
<path d="M194.6 116.2L190.4 113.6L187.6 116.7L191.8 119.3Z" fill="#d0aa93" stroke="#d0aa93"/>
<path d="M191.8 119.3L187.6 116.7L184.8 119.7L189 122.3Z" fill="#cea490" stroke="#cea490"/>
<path d="M189 122.3L184.8 119.7L182 122.5L186.2 125.1Z" fill="#cc9e8d" stroke="#cc9e8d"/>
<path d="M186.2 125.1L182 122.5L179.2 125.2L183.4 127.8Z" fill="#ca978a" stroke="#ca978a"/>
<path d="M183.4 127.8L179.2 125.2L176.4 127.8L180.6 130.4Z" fill="#c89087" stroke="#c89087"/>
<path d="M180.6 130.4L176.4 127.8L173.6 130.2L177.8 132.8Z" fill="#c58984" stroke="#c58984"/>
<path d="M177.8 132.8L173.6 130.2L170.8 132.5L175 135.1Z" fill="#c38180" stroke="#c38180"/>
<path d="M175 135.1L170.8 132.5L168 134.7L172.2 137.4Z" fill="#be7d7d" stroke="#be7d7d"/>
<path d="M172.2 137.4L168 134.7L165.2 136.8L169.4 139.4Z" fill="#b87979" stroke="#b87979"/>
<path d="M169.4 139.4L165.2 136.8L162.4 138.8L166.6 141.4Z" fill="#b27575" stroke="#b27575"/>
<path d="M166.6 141.4L162.4 138.8L159.5 140.7L163.8 143.3Z" fill="#ac7171" stroke="#ac7171"/>
<path d="M163.8 143.3L159.5 140.7L156.7 142.5L161 145.1Z" fill="#a66c6c" stroke="#a66c6c"/>
<path d="M161 145.1L156.7 142.5L153.9 144.1L158.2 146.8Z" fill="#9f6868" stroke="#9f6868"/>
<path d="M158.2 146.8L153.9 144.1L151.1 145.7L155.4 148.4Z" fill="#986363" stroke="#986363"/>
<path d="M155.4 148.4L151.1 145.7L148.3 147.3L152.6 149.9Z" fill="#905e5e" stroke="#905e5e"/>
<path d="M152.6 149.9L148.3 147.3L145.5 148.7L149.8 151.3Z" fill="#885959" stroke="#885959"/>
<path d="M149.8 151.3L145.5 148.7L142.7 150L147 152.7Z" fill="#805454" stroke="#805454"/>
<path d="M147 152.7L142.7 150L139.9 151.3L144.2 153.9Z" fill="#774e4e" stroke="#774e4e"/>
<path d="M144.2 153.9L139.9 151.3L137.1 152.5L141.4 155.2Z" fill="#6d4747" stroke="#6d4747"/>
<path d="M141.4 155.2L137.1 152.5L134.3 153.7L138.6 156.3Z" fill="#624040" stroke="#624040"/>
<path d="M212.9 83.3L208.7 81.1L205.9 85.4L210.1 87.6Z" fill="#e2d3a2" stroke="#e2d3a2"/>
<path d="M210.1 87.6L205.9 85.4L203.1 89.6L207.3 91.8Z" fill="#e0cfa1" stroke="#e0cfa1"/>
<path d="M207.3 91.8L203.1 89.6L200.3 93.6L204.5 95.9Z" fill="#decba0" stroke="#decba0"/>
<path d="M204.5 95.9L200.3 93.6L197.5 97.4L201.7 99.7Z" fill="#dcc79f" stroke="#dcc79f"/>
<path d="M201.7 99.7L197.5 97.4L194.7 101.1L198.8 103.4Z" fill="#dac39d" stroke="#dac39d"/>
<path d="M198.8 103.4L194.7 101.1L191.8 104.6L196 107Z" fill="#d8be9c" stroke="#d8be9c"/>
<path d="M196 107L191.8 104.6L189 107.9L193.2 110.4Z" fill="#d6b99b" stroke="#d6b99b"/>
<path d="M193.2 110.4L189 107.9L186.2 111.2L190.4 113.6Z" fill="#d4b498" stroke="#d4b498"/>
<path d="M190.4 113.6L186.2 111.2L183.4 114.2L187.6 116.7Z" fill="#d2af96" stroke="#d2af96"/>
<path d="M187.6 116.7L183.4 114.2L180.6 117.2L184.8 119.7Z" fill="#d0aa93" stroke="#d0aa93"/>
<path d="M184.8 119.7L180.6 117.2L177.8 120L182 122.5Z" fill="#cea490" stroke="#cea490"/>
<path d="M182 122.5L177.8 120L175 122.7L179.2 125.2Z" fill="#cc9e8d" stroke="#cc9e8d"/>
<path d="M179.2 125.2L175 122.7L172.1 125.2L176.4 127.8Z" fill="#ca988a" stroke="#ca988a"/>
<path d="M176.4 127.8L172.1 125.2L169.3 127.6L173.6 130.2Z" fill="#c89187" stroke="#c89187"/>
<path d="M173.6 130.2L169.3 127.6L166.5 130L170.8 132.5Z" fill="#c68a84" stroke="#c68a84"/>
<path d="M170.8 132.5L166.5 130L163.7 132.2L168 134.7Z" fill="#c48281" stroke="#c48281"/>
<path d="M168 134.7L163.7 132.2L160.9 134.2L165.2 136.8Z" fill="#bf7d7d" stroke="#bf7d7d"/>
<path d="M165.2 136.8L160.9 134.2L158.1 136.2L162.4 138.8Z" fill="#ba7979" stroke="#ba7979"/>
<path d="M162.4 138.8L158.1 136.2L155.3 138.1L159.5 140.7Z" fill="#b47676" stroke="#b47676"/>
<path d="M159.5 140.7L155.3 138.1L152.4 139.9L156.7 142.5Z" fill="#ae7272" stroke="#ae7272"/>
<path d="M156.7 142.5L152.4 139.9L149.6 141.6L153.9 144.1Z" fill="#a76e6e" stroke="#a76e6e"/>
<path d="M153.9 144.1L149.6 141.6L146.8 143.2L151.1 145.7Z" fill="#a16969" stroke="#a16969"/>
<path d="M151.1 145.7L146.8 143.2L144 144.7L148.3 147.3Z" fill="#9a6565" stroke="#9a6565"/>
<path d="M148.3 147.3L144 144.7L141.2 146.1L145.5 148.7Z" fill="#936060" stroke="#936060"/>
<path d="M145.5 148.7L141.2 146.1L138.4 147.5L142.7 150Z" fill="#8b5b5b" stroke="#8b5b5b"/>
<path d="M142.7 150L138.4 147.5L135.6 148.8L139.9 151.3Z" fill="#835656" stroke="#835656"/>
<path d="M139.9 151.3L135.6 148.8L132.7 150L137.1 152.5Z" fill="#7b5050" stroke="#7b5050"/>
<path d="M137.1 152.5L132.7 150L129.9 151.1L134.3 153.7Z" fill="#714a4a" stroke="#714a4a"/>
<path d="M208.7 81.1L204.6 79L201.8 83.3L205.9 85.4Z" fill="#e3d6a2" stroke="#e3d6a2"/>
<path d="M205.9 85.4L201.8 83.3L198.9 87.4L203.1 89.6Z" fill="#e2d3a2" stroke="#e2d3a2"/>
<path d="M203.1 89.6L198.9 87.4L196.1 91.3L200.3 93.6Z" fill="#e0cfa1" stroke="#e0cfa1"/>
<path d="M200.3 93.6L196.1 91.3L193.3 95.1L197.5 97.4Z" fill="#decba0" stroke="#decba0"/>
<path d="M197.5 97.4L193.3 95.1L190.5 98.7L194.7 101.1Z" fill="#dcc79f" stroke="#dcc79f"/>
<path d="M194.7 101.1L190.5 98.7L187.6 102.2L191.8 104.6Z" fill="#dac39d" stroke="#dac39d"/>
<path d="M191.8 104.6L187.6 102.2L184.8 105.5L189 107.9Z" fill="#d8be9c" stroke="#d8be9c"/>
<path d="M189 107.9L184.8 105.5L182 108.7L186.2 111.2Z" fill="#d6b99b" stroke="#d6b99b"/>
<path d="M186.2 111.2L182 108.7L179.2 111.8L183.4 114.2Z" fill="#d4b599" stroke="#d4b599"/>
<path d="M183.4 114.2L179.2 111.8L176.4 114.7L180.6 117.2Z" fill="#d2b096" stroke="#d2b096"/>
<path d="M180.6 117.2L176.4 114.7L173.5 117.5L177.8 120Z" fill="#d0aa93" stroke="#d0aa93"/>
<path d="M177.8 120L173.5 117.5L170.7 120.2L175 122.7Z" fill="#cea591" stroke="#cea591"/>
<path d="M175 122.7L170.7 120.2L167.9 122.7L172.1 125.2Z" fill="#cc9f8e" stroke="#cc9f8e"/>
<path d="M172.1 125.2L167.9 122.7L165.1 125.1L169.3 127.6Z" fill="#ca988b" stroke="#ca988b"/>
<path d="M169.3 127.6L165.1 125.1L162.2 127.4L166.5 130Z" fill="#c89288" stroke="#c89288"/>
<path d="M166.5 130L162.2 127.4L159.4 129.6L163.7 132.2Z" fill="#c68b84" stroke="#c68b84"/>
<path d="M163.7 132.2L159.4 129.6L156.6 131.7L160.9 134.2Z" fill="#c48381" stroke="#c48381"/>
<path d="M160.9 134.2L156.6 131.7L153.8 133.7L158.1 136.2Z" fill="#c07e7e" stroke="#c07e7e"/>
<path d="M158.1 136.2L153.8 133.7L151 135.6L155.3 138.1Z" fill="#bb7a7a" stroke="#bb7a7a"/>
<path d="M155.3 138.1L151 135.6L148.1 137.4L152.4 139.9Z" fill="#b57777" stroke="#b57777"/>
<path d="M152.4 139.9L148.1 137.4L145.3 139.1L149.6 141.6Z" fill="#af7373" stroke="#af7373"/>
<path d="M149.6 141.6L145.3 139.1L142.5 140.7L146.8 143.2Z" fill="#a96f6f" stroke="#a96f6f"/>
<path d="M146.8 143.2L142.5 140.7L139.7 142.2L144 144.7Z" fill="#a36b6b" stroke="#a36b6b"/>
<path d="M144 144.7L139.7 142.2L136.9 143.6L141.2 146.1Z" fill="#9c6666" stroke="#9c6666"/>
<path d="M141.2 146.1L136.9 143.6L134 145L138.4 147.5Z" fill="#956262" stroke="#956262"/>
<path d="M138.4 147.5L134 145L131.2 146.3L135.6 148.8Z" fill="#8e5d5d" stroke="#8e5d5d"/>
<path d="M135.6 148.8L131.2 146.3L128.4 147.5L132.7 150Z" fill="#865858" stroke="#865858"/>
<path d="M132.7 150L128.4 147.5L125.6 148.6L129.9 151.1Z" fill="#7e5353" stroke="#7e5353"/>
<path d="M204.6 79L200.4 77L197.6 81.2L201.8 83.3Z" fill="#e5d9a3" stroke="#e5d9a3"/>
<path d="M201.8 83.3L197.6 81.2L194.8 85.2L198.9 87.4Z" fill="#e3d6a2" stroke="#e3d6a2"/>
<path d="M198.9 87.4L194.8 85.2L191.9 89.1L196.1 91.3Z" fill="#e2d3a2" stroke="#e2d3a2"/>
<path d="M196.1 91.3L191.9 89.1L189.1 92.8L193.3 95.1Z" fill="#e0cfa1" stroke="#e0cfa1"/>
<path d="M193.3 95.1L189.1 92.8L186.3 96.4L190.5 98.7Z" fill="#decba0" stroke="#decba0"/>
<path d="M190.5 98.7L186.3 96.4L183.4 99.9L187.6 102.2Z" fill="#dcc79f" stroke="#dcc79f"/>
<path d="M187.6 102.2L183.4 99.9L180.6 103.2L184.8 105.5Z" fill="#dac39d" stroke="#dac39d"/>
<path d="M184.8 105.5L180.6 103.2L177.8 106.3L182 108.7Z" fill="#d8be9c" stroke="#d8be9c"/>
<path d="M182 108.7L177.8 106.3L175 109.4L179.2 111.8Z" fill="#d6ba9b" stroke="#d6ba9b"/>
<path d="M179.2 111.8L175 109.4L172.1 112.3L176.4 114.7Z" fill="#d4b599" stroke="#d4b599"/>
<path d="M176.4 114.7L172.1 112.3L169.3 115.1L173.5 117.5Z" fill="#d2b096" stroke="#d2b096"/>
<path d="M173.5 117.5L169.3 115.1L166.5 117.7L170.7 120.2Z" fill="#d0ab94" stroke="#d0ab94"/>
<path d="M170.7 120.2L166.5 117.7L163.6 120.3L167.9 122.7Z" fill="#cfa591" stroke="#cfa591"/>
<path d="M167.9 122.7L163.6 120.3L160.8 122.7L165.1 125.1Z" fill="#cd9f8e" stroke="#cd9f8e"/>
<path d="M165.1 125.1L160.8 122.7L158 125L162.2 127.4Z" fill="#cb998b" stroke="#cb998b"/>
<path d="M162.2 127.4L158 125L155.2 127.2L159.4 129.6Z" fill="#c99388" stroke="#c99388"/>
<path d="M159.4 129.6L155.2 127.2L152.3 129.3L156.6 131.7Z" fill="#c68c85" stroke="#c68c85"/>
<path d="M156.6 131.7L152.3 129.3L149.5 131.3L153.8 133.7Z" fill="#c48582" stroke="#c48582"/>
<path d="M153.8 133.7L149.5 131.3L146.7 133.2L151 135.6Z" fill="#c17e7e" stroke="#c17e7e"/>
<path d="M151 135.6L146.7 133.2L143.8 135L148.1 137.4Z" fill="#bc7b7b" stroke="#bc7b7b"/>
<path d="M148.1 137.4L143.8 135L141 136.7L145.3 139.1Z" fill="#b67777" stroke="#b67777"/>
<path d="M145.3 139.1L141 136.7L138.2 138.3L142.5 140.7Z" fill="#b17474" stroke="#b17474"/>
<path d="M142.5 140.7L138.2 138.3L135.4 139.8L139.7 142.2Z" fill="#ab7070" stroke="#ab7070"/>
<path d="M139.7 142.2L135.4 139.8L132.5 141.2L136.9 143.6Z" fill="#a56c6c" stroke="#a56c6c"/>
<path d="M136.9 143.6L132.5 141.2L129.7 142.6L134 145Z" fill="#9f6868" stroke="#9f6868"/>
<path d="M134 145L129.7 142.6L126.9 143.9L131.2 146.3Z" fill="#986464" stroke="#986464"/>
<path d="M131.2 146.3L126.9 143.9L124 145.1L128.4 147.5Z" fill="#915f5f" stroke="#915f5f"/>
<path d="M128.4 147.5L124 145.1L121.2 146.2L125.6 148.6Z" fill="#8a5a5a" stroke="#8a5a5a"/>
<path d="M200.4 77L196.3 74.9L193.4 79.1L197.6 81.2Z" fill="#e6dca4" stroke="#e6dca4"/>
<path d="M197.6 81.2L193.4 79.1L190.6 83.1L194.8 85.2Z" fill="#e5d9a3" stroke="#e5d9a3"/>
<path d="M194.8 85.2L190.6 83.1L187.8 86.9L191.9 89.1Z" fill="#e3d6a2" stroke="#e3d6a2"/>
<path d="M191.9 89.1L187.8 86.9L184.9 90.6L189.1 92.8Z" fill="#e2d3a2" stroke="#e2d3a2"/>
<path d="M189.1 92.8L184.9 90.6L182.1 94.2L186.3 96.4Z" fill="#e0cfa1" stroke="#e0cfa1"/>
<path d="M186.3 96.4L182.1 94.2L179.2 97.6L183.4 99.9Z" fill="#decba0" stroke="#decba0"/>
<path d="M183.4 99.9L179.2 97.6L176.4 100.9L180.6 103.2Z" fill="#dcc79f" stroke="#dcc79f"/>
<path d="M180.6 103.2L176.4 100.9L173.6 104L177.8 106.3Z" fill="#dac39d" stroke="#dac39d"/>
<path d="M177.8 106.3L173.6 104L170.7 107L175 109.4Z" fill="#d8be9c" stroke="#d8be9c"/>
<path d="M175 109.4L170.7 107L167.9 109.9L172.1 112.3Z" fill="#d6ba9b" stroke="#d6ba9b"/>
<path d="M172.1 112.3L167.9 109.9L165.1 112.7L169.3 115.1Z" fill="#d4b599" stroke="#d4b599"/>
<path d="M169.3 115.1L165.1 112.7L162.2 115.4L166.5 117.7Z" fill="#d2b096" stroke="#d2b096"/>
<path d="M166.5 117.7L162.2 115.4L159.4 117.9L163.6 120.3Z" fill="#d1ab94" stroke="#d1ab94"/>
<path d="M163.6 120.3L159.4 117.9L156.6 120.3L160.8 122.7Z" fill="#cfa691" stroke="#cfa691"/>
<path d="M160.8 122.7L156.6 120.3L153.7 122.6L158 125Z" fill="#cda08e" stroke="#cda08e"/>
<path d="M158 125L153.7 122.6L150.9 124.8L155.2 127.2Z" fill="#cb9a8c" stroke="#cb9a8c"/>
<path d="M155.2 127.2L150.9 124.8L148.1 126.9L152.3 129.3Z" fill="#c99489" stroke="#c99489"/>
<path d="M152.3 129.3L148.1 126.9L145.2 128.9L149.5 131.3Z" fill="#c78d86" stroke="#c78d86"/>
<path d="M149.5 131.3L145.2 128.9L142.4 130.8L146.7 133.2Z" fill="#c58682" stroke="#c58682"/>
<path d="M146.7 133.2L142.4 130.8L139.6 132.6L143.8 135Z" fill="#c27f7f" stroke="#c27f7f"/>
<path d="M143.8 135L139.6 132.6L136.7 134.3L141 136.7Z" fill="#bd7c7c" stroke="#bd7c7c"/>
<path d="M141 136.7L136.7 134.3L133.9 135.9L138.2 138.3Z" fill="#b87878" stroke="#b87878"/>
<path d="M138.2 138.3L133.9 135.9L131 137.4L135.4 139.8Z" fill="#b37575" stroke="#b37575"/>
<path d="M135.4 139.8L131 137.4L128.2 138.9L132.5 141.2Z" fill="#ad7171" stroke="#ad7171"/>
<path d="M132.5 141.2L128.2 138.9L125.4 140.3L129.7 142.6Z" fill="#a76d6d" stroke="#a76d6d"/>
<path d="M129.7 142.6L125.4 140.3L122.5 141.5L126.9 143.9Z" fill="#a16969" stroke="#a16969"/>
<path d="M126.9 143.9L122.5 141.5L119.7 142.8L124 145.1Z" fill="#9b6565" stroke="#9b6565"/>
<path d="M124 145.1L119.7 142.8L116.9 143.9L121.2 146.2Z" fill="#946161" stroke="#946161"/>
<path d="M196.3 74.9L192.1 73L189.3 77.1L193.4 79.1Z" fill="#e8dfa5" stroke="#e8dfa5"/>
<path d="M193.4 79.1L189.3 77.1L186.4 81L190.6 83.1Z" fill="#e6dca4" stroke="#e6dca4"/>
<path d="M190.6 83.1L186.4 81L183.6 84.8L187.8 86.9Z" fill="#e5d9a3" stroke="#e5d9a3"/>
<path d="M187.8 86.9L183.6 84.8L180.7 88.5L184.9 90.6Z" fill="#e3d6a2" stroke="#e3d6a2"/>
<path d="M184.9 90.6L180.7 88.5L177.9 92L182.1 94.2Z" fill="#e2d3a2" stroke="#e2d3a2"/>
<path d="M182.1 94.2L177.9 92L175.1 95.4L179.2 97.6Z" fill="#e0cfa1" stroke="#e0cfa1"/>
<path d="M179.2 97.6L175.1 95.4L172.2 98.6L176.4 100.9Z" fill="#decba0" stroke="#decba0"/>
<path d="M176.4 100.9L172.2 98.6L169.4 101.7L173.6 104Z" fill="#dcc79f" stroke="#dcc79f"/>
<path d="M173.6 104L169.4 101.7L166.5 104.7L170.7 107Z" fill="#dac39d" stroke="#dac39d"/>
<path d="M170.7 107L166.5 104.7L163.7 107.6L167.9 109.9Z" fill="#d8bf9c" stroke="#d8bf9c"/>
<path d="M167.9 109.9L163.7 107.6L160.8 110.4L165.1 112.7Z" fill="#d6ba9b" stroke="#d6ba9b"/>
<path d="M165.1 112.7L160.8 110.4L158 113L162.2 115.4Z" fill="#d4b599" stroke="#d4b599"/>
<path d="M162.2 115.4L158 113L155.2 115.6L159.4 117.9Z" fill="#d3b197" stroke="#d3b197"/>
<path d="M159.4 117.9L155.2 115.6L152.3 118L156.6 120.3Z" fill="#d1ac94" stroke="#d1ac94"/>
<path d="M156.6 120.3L152.3 118L149.5 120.3L153.7 122.6Z" fill="#cfa691" stroke="#cfa691"/>
<path d="M153.7 122.6L149.5 120.3L146.6 122.5L150.9 124.8Z" fill="#cda18f" stroke="#cda18f"/>
<path d="M150.9 124.8L146.6 122.5L143.8 124.6L148.1 126.9Z" fill="#cb9b8c" stroke="#cb9b8c"/>
<path d="M148.1 126.9L143.8 124.6L140.9 126.6L145.2 128.9Z" fill="#c99589" stroke="#c99589"/>
<path d="M145.2 128.9L140.9 126.6L138.1 128.5L142.4 130.8Z" fill="#c78f86" stroke="#c78f86"/>
<path d="M142.4 130.8L138.1 128.5L135.3 130.3L139.6 132.6Z" fill="#c58883" stroke="#c58883"/>
<path d="M139.6 132.6L135.3 130.3L132.4 132L136.7 134.3Z" fill="#c38180" stroke="#c38180"/>
<path d="M136.7 134.3L132.4 132L129.6 133.6L133.9 135.9Z" fill="#bf7d7d" stroke="#bf7d7d"/>
<path d="M133.9 135.9L129.6 133.6L126.7 135.2L131 137.4Z" fill="#ba7a7a" stroke="#ba7a7a"/>
<path d="M131 137.4L126.7 135.2L123.9 136.6L128.2 138.9Z" fill="#b47676" stroke="#b47676"/>
<path d="M128.2 138.9L123.9 136.6L121 138L125.4 140.3Z" fill="#af7373" stroke="#af7373"/>
<path d="M125.4 140.3L121 138L118.2 139.3L122.5 141.5Z" fill="#a96f6f" stroke="#a96f6f"/>
<path d="M122.5 141.5L118.2 139.3L115.4 140.5L119.7 142.8Z" fill="#a46b6b" stroke="#a46b6b"/>
<path d="M119.7 142.8L115.4 140.5L112.5 141.6L116.9 143.9Z" fill="#9e6767" stroke="#9e6767"/>
<path d="M192.1 73L188 71L185.1 75.1L189.3 77.1Z" fill="#e9e2a5" stroke="#e9e2a5"/>
<path d="M189.3 77.1L185.1 75.1L182.3 79L186.4 81Z" fill="#e8dfa5" stroke="#e8dfa5"/>
<path d="M186.4 81L182.3 79L179.4 82.7L183.6 84.8Z" fill="#e6dca4" stroke="#e6dca4"/>
<path d="M183.6 84.8L179.4 82.7L176.6 86.3L180.7 88.5Z" fill="#e5d9a3" stroke="#e5d9a3"/>
<path d="M180.7 88.5L176.6 86.3L173.7 89.8L177.9 92Z" fill="#e3d6a2" stroke="#e3d6a2"/>
<path d="M177.9 92L173.7 89.8L170.9 93.2L175.1 95.4Z" fill="#e2d3a2" stroke="#e2d3a2"/>
<path d="M175.1 95.4L170.9 93.2L168 96.4L172.2 98.6Z" fill="#e0cfa1" stroke="#e0cfa1"/>
<path d="M172.2 98.6L168 96.4L165.2 99.5L169.4 101.7Z" fill="#decba0" stroke="#decba0"/>
<path d="M169.4 101.7L165.2 99.5L162.3 102.5L166.5 104.7Z" fill="#dcc79f" stroke="#dcc79f"/>
<path d="M166.5 104.7L162.3 102.5L159.5 105.4L163.7 107.6Z" fill="#dac39e" stroke="#dac39e"/>
<path d="M163.7 107.6L159.5 105.4L156.6 108.1L160.8 110.4Z" fill="#d8bf9c" stroke="#d8bf9c"/>
<path d="M160.8 110.4L156.6 108.1L153.8 110.8L158 113Z" fill="#d6ba9b" stroke="#d6ba9b"/>
<path d="M158 113L153.8 110.8L150.9 113.3L155.2 115.6Z" fill="#d4b699" stroke="#d4b699"/>
<path d="M155.2 115.6L150.9 113.3L148.1 115.7L152.3 118Z" fill="#d3b197" stroke="#d3b197"/>
<path d="M152.3 118L148.1 115.7L145.2 118L149.5 120.3Z" fill="#d1ac94" stroke="#d1ac94"/>
<path d="M149.5 120.3L145.2 118L142.4 120.2L146.6 122.5Z" fill="#cfa792" stroke="#cfa792"/>
<path d="M146.6 122.5L142.4 120.2L139.5 122.3L143.8 124.6Z" fill="#cda28f" stroke="#cda28f"/>
<path d="M143.8 124.6L139.5 122.3L136.7 124.3L140.9 126.6Z" fill="#cc9c8d" stroke="#cc9c8d"/>
<path d="M140.9 126.6L136.7 124.3L133.8 126.2L138.1 128.5Z" fill="#ca968a" stroke="#ca968a"/>
<path d="M138.1 128.5L133.8 126.2L131 128L135.3 130.3Z" fill="#c89087" stroke="#c89087"/>
<path d="M135.3 130.3L131 128L128.1 129.8L132.4 132Z" fill="#c68a84" stroke="#c68a84"/>
<path d="M132.4 132L128.1 129.8L125.3 131.4L129.6 133.6Z" fill="#c48381" stroke="#c48381"/>
<path d="M129.6 133.6L125.3 131.4L122.4 132.9L126.7 135.2Z" fill="#c07e7e" stroke="#c07e7e"/>
<path d="M126.7 135.2L122.4 132.9L119.6 134.4L123.9 136.6Z" fill="#bb7b7b" stroke="#bb7b7b"/>
<path d="M123.9 136.6L119.6 134.4L116.7 135.8L121 138Z" fill="#b67777" stroke="#b67777"/>
<path d="M121 138L116.7 135.8L113.9 137.1L118.2 139.3Z" fill="#b17474" stroke="#b17474"/>
<path d="M118.2 139.3L113.9 137.1L111 138.3L115.4 140.5Z" fill="#ac7171" stroke="#ac7171"/>
<path d="M115.4 140.5L111 138.3L108.2 139.5L112.5 141.6Z" fill="#a66d6d" stroke="#a66d6d"/>
<path d="M188 71L183.8 69.2L180.9 73.1L185.1 75.1Z" fill="#eae4a6" stroke="#eae4a6"/>
<path d="M185.1 75.1L180.9 73.1L178.1 77L182.3 79Z" fill="#e9e2a5" stroke="#e9e2a5"/>
<path d="M182.3 79L178.1 77L175.2 80.7L179.4 82.7Z" fill="#e8dfa5" stroke="#e8dfa5"/>
<path d="M179.4 82.7L175.2 80.7L172.4 84.3L176.6 86.3Z" fill="#e6dca4" stroke="#e6dca4"/>
<path d="M176.6 86.3L172.4 84.3L169.5 87.7L173.7 89.8Z" fill="#e5d9a3" stroke="#e5d9a3"/>
<path d="M173.7 89.8L169.5 87.7L166.7 91.1L170.9 93.2Z" fill="#e3d6a2" stroke="#e3d6a2"/>
<path d="M170.9 93.2L166.7 91.1L163.8 94.3L168 96.4Z" fill="#e2d3a2" stroke="#e2d3a2"/>
<path d="M168 96.4L163.8 94.3L160.9 97.4L165.2 99.5Z" fill="#e0cfa1" stroke="#e0cfa1"/>
<path d="M165.2 99.5L160.9 97.4L158.1 100.3L162.3 102.5Z" fill="#decca0" stroke="#decca0"/>
<path d="M162.3 102.5L158.1 100.3L155.2 103.2L159.5 105.4Z" fill="#dcc89f" stroke="#dcc89f"/>
<path d="M159.5 105.4L155.2 103.2L152.4 105.9L156.6 108.1Z" fill="#dac49e" stroke="#dac49e"/>
<path d="M156.6 108.1L152.4 105.9L149.5 108.6L153.8 110.8Z" fill="#d8bf9c" stroke="#d8bf9c"/>
<path d="M153.8 110.8L149.5 108.6L146.7 111.1L150.9 113.3Z" fill="#d7bb9b" stroke="#d7bb9b"/>
<path d="M150.9 113.3L146.7 111.1L143.8 113.5L148.1 115.7Z" fill="#d5b699" stroke="#d5b699"/>
<path d="M148.1 115.7L143.8 113.5L140.9 115.8L145.2 118Z" fill="#d3b297" stroke="#d3b297"/>
<path d="M145.2 118L140.9 115.8L138.1 118L142.4 120.2Z" fill="#d1ad95" stroke="#d1ad95"/>
<path d="M142.4 120.2L138.1 118L135.2 120.1L139.5 122.3Z" fill="#d0a892" stroke="#d0a892"/>
<path d="M139.5 122.3L135.2 120.1L132.4 122.1L136.7 124.3Z" fill="#cea390" stroke="#cea390"/>
<path d="M136.7 124.3L132.4 122.1L129.5 124L133.8 126.2Z" fill="#cc9d8d" stroke="#cc9d8d"/>
<path d="M133.8 126.2L129.5 124L126.7 125.9L131 128Z" fill="#ca988a" stroke="#ca988a"/>
<path d="M131 128L126.7 125.9L123.8 127.6L128.1 129.8Z" fill="#c89288" stroke="#c89288"/>
<path d="M128.1 129.8L123.8 127.6L120.9 129.2L125.3 131.4Z" fill="#c68c85" stroke="#c68c85"/>
<path d="M125.3 131.4L120.9 129.2L118.1 130.8L122.4 132.9Z" fill="#c48582" stroke="#c48582"/>
<path d="M122.4 132.9L118.1 130.8L115.2 132.3L119.6 134.4Z" fill="#c27f7f" stroke="#c27f7f"/>
<path d="M119.6 134.4L115.2 132.3L112.4 133.6L116.7 135.8Z" fill="#bd7c7c" stroke="#bd7c7c"/>
<path d="M116.7 135.8L112.4 133.6L109.5 135L113.9 137.1Z" fill="#b87979" stroke="#b87979"/>
<path d="M113.9 137.1L109.5 135L106.7 136.2L111 138.3Z" fill="#b37575" stroke="#b37575"/>
<path d="M111 138.3L106.7 136.2L103.8 137.3L108.2 139.5Z" fill="#ae7272" stroke="#ae7272"/>
<path d="M183.8 69.2L179.7 67.3L176.8 71.3L180.9 73.1Z" fill="#ebe7a6" stroke="#ebe7a6"/>
<path d="M180.9 73.1L176.8 71.3L173.9 75.1L178.1 77Z" fill="#eae4a6" stroke="#eae4a6"/>
<path d="M178.1 77L173.9 75.1L171.1 78.7L175.2 80.7Z" fill="#e9e2a5" stroke="#e9e2a5"/>
<path d="M175.2 80.7L171.1 78.7L168.2 82.3L172.4 84.3Z" fill="#e8dfa5" stroke="#e8dfa5"/>
<path d="M172.4 84.3L168.2 82.3L165.3 85.7L169.5 87.7Z" fill="#e6dca4" stroke="#e6dca4"/>
<path d="M169.5 87.7L165.3 85.7L162.5 89L166.7 91.1Z" fill="#e5d9a3" stroke="#e5d9a3"/>
<path d="M166.7 91.1L162.5 89L159.6 92.2L163.8 94.3Z" fill="#e3d6a2" stroke="#e3d6a2"/>
<path d="M163.8 94.3L159.6 92.2L156.7 95.2L160.9 97.4Z" fill="#e2d3a2" stroke="#e2d3a2"/>
<path d="M160.9 97.4L156.7 95.2L153.9 98.2L158.1 100.3Z" fill="#e0cfa1" stroke="#e0cfa1"/>
<path d="M158.1 100.3L153.9 98.2L151 101L155.2 103.2Z" fill="#decca0" stroke="#decca0"/>
<path d="M155.2 103.2L151 101L148.1 103.8L152.4 105.9Z" fill="#dcc89f" stroke="#dcc89f"/>
<path d="M152.4 105.9L148.1 103.8L145.3 106.4L149.5 108.6Z" fill="#dbc49e" stroke="#dbc49e"/>
<path d="M149.5 108.6L145.3 106.4L142.4 108.9L146.7 111.1Z" fill="#d9c09d" stroke="#d9c09d"/>
<path d="M146.7 111.1L142.4 108.9L139.6 111.3L143.8 113.5Z" fill="#d7bb9b" stroke="#d7bb9b"/>
<path d="M143.8 113.5L139.6 111.3L136.7 113.6L140.9 115.8Z" fill="#d5b79a" stroke="#d5b79a"/>
<path d="M140.9 115.8L136.7 113.6L133.8 115.9L138.1 118Z" fill="#d3b297" stroke="#d3b297"/>
<path d="M138.1 118L133.8 115.9L131 118L135.2 120.1Z" fill="#d2ae95" stroke="#d2ae95"/>
<path d="M135.2 120.1L131 118L128.1 120L132.4 122.1Z" fill="#d0a993" stroke="#d0a993"/>
<path d="M132.4 122.1L128.1 120L125.2 121.9L129.5 124Z" fill="#cea490" stroke="#cea490"/>
<path d="M129.5 124L125.2 121.9L122.4 123.7L126.7 125.9Z" fill="#cc9f8e" stroke="#cc9f8e"/>
<path d="M126.7 125.9L122.4 123.7L119.5 125.5L123.8 127.6Z" fill="#cb998b" stroke="#cb998b"/>
<path d="M123.8 127.6L119.5 125.5L116.6 127.1L120.9 129.2Z" fill="#c99388" stroke="#c99388"/>
<path d="M120.9 129.2L116.6 127.1L113.8 128.7L118.1 130.8Z" fill="#c78d86" stroke="#c78d86"/>
<path d="M118.1 130.8L113.8 128.7L110.9 130.2L115.2 132.3Z" fill="#c58783" stroke="#c58783"/>
<path d="M115.2 132.3L110.9 130.2L108 131.6L112.4 133.6Z" fill="#c38180" stroke="#c38180"/>
<path d="M112.4 133.6L108 131.6L105.2 132.9L109.5 135Z" fill="#bf7d7d" stroke="#bf7d7d"/>
<path d="M109.5 135L105.2 132.9L102.3 134.1L106.7 136.2Z" fill="#ba7a7a" stroke="#ba7a7a"/>
<path d="M106.7 136.2L102.3 134.1L99.5 135.3L103.8 137.3Z" fill="#b67777" stroke="#b67777"/>
<path d="M179.7 67.3L175.5 65.6L172.6 69.4L176.8 71.3Z" fill="#ede9a7" stroke="#ede9a7"/>
<path d="M176.8 71.3L172.6 69.4L169.8 73.2L173.9 75.1Z" fill="#ebe7a6" stroke="#ebe7a6"/>
<path d="M173.9 75.1L169.8 73.2L166.9 76.8L171.1 78.7Z" fill="#eae5a6" stroke="#eae5a6"/>
<path d="M171.1 78.7L166.9 76.8L164 80.3L168.2 82.3Z" fill="#e9e2a5" stroke="#e9e2a5"/>
<path d="M168.2 82.3L164 80.3L161.1 83.7L165.3 85.7Z" fill="#e8dfa5" stroke="#e8dfa5"/>
<path d="M165.3 85.7L161.1 83.7L158.3 87L162.5 89Z" fill="#e6dda4" stroke="#e6dda4"/>
<path d="M162.5 89L158.3 87L155.4 90.1L159.6 92.2Z" fill="#e5daa3" stroke="#e5daa3"/>
<path d="M159.6 92.2L155.4 90.1L152.5 93.2L156.7 95.2Z" fill="#e3d6a2" stroke="#e3d6a2"/>
<path d="M156.7 95.2L152.5 93.2L149.7 96.1L153.9 98.2Z" fill="#e2d3a2" stroke="#e2d3a2"/>
<path d="M153.9 98.2L149.7 96.1L146.8 99L151 101Z" fill="#e0d0a1" stroke="#e0d0a1"/>
<path d="M151 101L146.8 99L143.9 101.7L148.1 103.8Z" fill="#decca0" stroke="#decca0"/>
<path d="M148.1 103.8L143.9 101.7L141 104.3L145.3 106.4Z" fill="#ddc89f" stroke="#ddc89f"/>
<path d="M145.3 106.4L141 104.3L138.2 106.8L142.4 108.9Z" fill="#dbc49e" stroke="#dbc49e"/>
<path d="M142.4 108.9L138.2 106.8L135.3 109.2L139.6 111.3Z" fill="#d9c09d" stroke="#d9c09d"/>
<path d="M139.6 111.3L135.3 109.2L132.4 111.5L136.7 113.6Z" fill="#d7bc9b" stroke="#d7bc9b"/>
<path d="M136.7 113.6L132.4 111.5L129.6 113.8L133.8 115.9Z" fill="#d5b79a" stroke="#d5b79a"/>
<path d="M133.8 115.9L129.6 113.8L126.7 115.9L131 118Z" fill="#d3b398" stroke="#d3b398"/>
<path d="M131 118L126.7 115.9L123.8 117.9L128.1 120Z" fill="#d2af95" stroke="#d2af95"/>
<path d="M128.1 120L123.8 117.9L120.9 119.8L125.2 121.9Z" fill="#d0aa93" stroke="#d0aa93"/>
<path d="M125.2 121.9L120.9 119.8L118.1 121.7L122.4 123.7Z" fill="#cea591" stroke="#cea591"/>
<path d="M122.4 123.7L118.1 121.7L115.2 123.4L119.5 125.5Z" fill="#cda08e" stroke="#cda08e"/>
<path d="M119.5 125.5L115.2 123.4L112.3 125.1L116.6 127.1Z" fill="#cb9b8c" stroke="#cb9b8c"/>
<path d="M116.6 127.1L112.3 125.1L109.5 126.7L113.8 128.7Z" fill="#c99589" stroke="#c99589"/>
<path d="M113.8 128.7L109.5 126.7L106.6 128.2L110.9 130.2Z" fill="#c78f87" stroke="#c78f87"/>
<path d="M110.9 130.2L106.6 128.2L103.7 129.6L108 131.6Z" fill="#c68984" stroke="#c68984"/>
<path d="M108 131.6L103.7 129.6L100.8 130.9L105.2 132.9Z" fill="#c48381" stroke="#c48381"/>
<path d="M105.2 132.9L100.8 130.9L98 132.1L102.3 134.1Z" fill="#c17e7e" stroke="#c17e7e"/>
<path d="M102.3 134.1L98 132.1L95.1 133.3L99.5 135.3Z" fill="#bd7b7b" stroke="#bd7b7b"/>
<path d="M175.5 65.6L171.3 63.8L168.5 67.7L172.6 69.4Z" fill="#eeeba7" stroke="#eeeba7"/>
<path d="M172.6 69.4L168.5 67.7L165.6 71.4L169.8 73.2Z" fill="#ede9a7" stroke="#ede9a7"/>
<path d="M169.8 73.2L165.6 71.4L162.7 74.9L166.9 76.8Z" fill="#ebe7a6" stroke="#ebe7a6"/>
<path d="M166.9 76.8L162.7 74.9L159.8 78.4L164 80.3Z" fill="#eae5a6" stroke="#eae5a6"/>
<path d="M164 80.3L159.8 78.4L157 81.8L161.1 83.7Z" fill="#e9e2a5" stroke="#e9e2a5"/>
<path d="M161.1 83.7L157 81.8L154.1 85L158.3 87Z" fill="#e8dfa5" stroke="#e8dfa5"/>
<path d="M158.3 87L154.1 85L151.2 88.2L155.4 90.1Z" fill="#e6dda4" stroke="#e6dda4"/>
<path d="M155.4 90.1L151.2 88.2L148.3 91.2L152.5 93.2Z" fill="#e5daa3" stroke="#e5daa3"/>
<path d="M152.5 93.2L148.3 91.2L145.4 94.1L149.7 96.1Z" fill="#e3d6a3" stroke="#e3d6a3"/>
<path d="M149.7 96.1L145.4 94.1L142.6 96.9L146.8 99Z" fill="#e2d3a2" stroke="#e2d3a2"/>
<path d="M146.8 99L142.6 96.9L139.7 99.6L143.9 101.7Z" fill="#e0d0a1" stroke="#e0d0a1"/>
<path d="M143.9 101.7L139.7 99.6L136.8 102.3L141 104.3Z" fill="#decca0" stroke="#decca0"/>
<path d="M141 104.3L136.8 102.3L133.9 104.8L138.2 106.8Z" fill="#ddc89f" stroke="#ddc89f"/>
<path d="M138.2 106.8L133.9 104.8L131 107.2L135.3 109.2Z" fill="#dbc59e" stroke="#dbc59e"/>
<path d="M135.3 109.2L131 107.2L128.2 109.5L132.4 111.5Z" fill="#d9c19d" stroke="#d9c19d"/>
<path d="M132.4 111.5L128.2 109.5L125.3 111.7L129.6 113.8Z" fill="#d7bc9c" stroke="#d7bc9c"/>
<path d="M129.6 113.8L125.3 111.7L122.4 113.9L126.7 115.9Z" fill="#d5b89a" stroke="#d5b89a"/>
<path d="M126.7 115.9L122.4 113.9L119.5 115.9L123.8 117.9Z" fill="#d4b498" stroke="#d4b498"/>
<path d="M123.8 117.9L119.5 115.9L116.6 117.8L120.9 119.8Z" fill="#d2af96" stroke="#d2af96"/>
<path d="M120.9 119.8L116.6 117.8L113.8 119.7L118.1 121.7Z" fill="#d0ab94" stroke="#d0ab94"/>
<path d="M118.1 121.7L113.8 119.7L110.9 121.4L115.2 123.4Z" fill="#cfa691" stroke="#cfa691"/>
<path d="M115.2 123.4L110.9 121.4L108 123.1L112.3 125.1Z" fill="#cda18f" stroke="#cda18f"/>
<path d="M112.3 125.1L108 123.1L105.1 124.7L109.5 126.7Z" fill="#cb9c8c" stroke="#cb9c8c"/>
<path d="M109.5 126.7L105.1 124.7L102.3 126.2L106.6 128.2Z" fill="#ca978a" stroke="#ca978a"/>
<path d="M106.6 128.2L102.3 126.2L99.4 127.6L103.7 129.6Z" fill="#c89187" stroke="#c89187"/>
<path d="M103.7 129.6L99.4 127.6L96.5 128.9L100.8 130.9Z" fill="#c68c85" stroke="#c68c85"/>
<path d="M100.8 130.9L96.5 128.9L93.6 130.2L98 132.1Z" fill="#c58682" stroke="#c58682"/>
<path d="M98 132.1L93.6 130.2L90.7 131.4L95.1 133.3Z" fill="#c38080" stroke="#c38080"/>
<path d="M171.3 63.8L167.2 62.2L164.3 65.9L168.5 67.7Z" fill="#efeda8" stroke="#efeda8"/>
<path d="M168.5 67.7L164.3 65.9L161.4 69.6L165.6 71.4Z" fill="#eeeba7" stroke="#eeeba7"/>
<path d="M165.6 71.4L161.4 69.6L158.5 73.1L162.7 74.9Z" fill="#ede9a7" stroke="#ede9a7"/>
<path d="M162.7 74.9L158.5 73.1L155.6 76.6L159.8 78.4Z" fill="#ebe7a6" stroke="#ebe7a6"/>
<path d="M159.8 78.4L155.6 76.6L152.8 79.9L157 81.8Z" fill="#eae4a6" stroke="#eae4a6"/>
<path d="M157 81.8L152.8 79.9L149.9 83.1L154.1 85Z" fill="#e9e2a5" stroke="#e9e2a5"/>
<path d="M154.1 85L149.9 83.1L147 86.2L151.2 88.2Z" fill="#e8dfa5" stroke="#e8dfa5"/>
<path d="M151.2 88.2L147 86.2L144.1 89.2L148.3 91.2Z" fill="#e6dda4" stroke="#e6dda4"/>
<path d="M148.3 91.2L144.1 89.2L141.2 92.1L145.4 94.1Z" fill="#e5daa3" stroke="#e5daa3"/>
<path d="M145.4 94.1L141.2 92.1L138.3 95L142.6 96.9Z" fill="#e3d6a3" stroke="#e3d6a3"/>
<path d="M142.6 96.9L138.3 95L135.4 97.7L139.7 99.6Z" fill="#e2d3a2" stroke="#e2d3a2"/>
<path d="M139.7 99.6L135.4 97.7L132.6 100.3L136.8 102.3Z" fill="#e0d0a1" stroke="#e0d0a1"/>
<path d="M136.8 102.3L132.6 100.3L129.7 102.8L133.9 104.8Z" fill="#decca0" stroke="#decca0"/>
<path d="M133.9 104.8L129.7 102.8L126.8 105.2L131 107.2Z" fill="#ddc99f" stroke="#ddc99f"/>
<path d="M131 107.2L126.8 105.2L123.9 107.5L128.2 109.5Z" fill="#dbc59e" stroke="#dbc59e"/>
<path d="M128.2 109.5L123.9 107.5L121 109.8L125.3 111.7Z" fill="#d9c19d" stroke="#d9c19d"/>
<path d="M125.3 111.7L121 109.8L118.1 111.9L122.4 113.9Z" fill="#d7bd9c" stroke="#d7bd9c"/>
<path d="M122.4 113.9L118.1 111.9L115.2 113.9L119.5 115.9Z" fill="#d6b99b" stroke="#d6b99b"/>
<path d="M119.5 115.9L115.2 113.9L112.4 115.9L116.6 117.8Z" fill="#d4b498" stroke="#d4b498"/>
<path d="M116.6 117.8L112.4 115.9L109.5 117.7L113.8 119.7Z" fill="#d2b096" stroke="#d2b096"/>
<path d="M113.8 119.7L109.5 117.7L106.6 119.5L110.9 121.4Z" fill="#d1ac94" stroke="#d1ac94"/>
<path d="M110.9 121.4L106.6 119.5L103.7 121.2L108 123.1Z" fill="#cfa792" stroke="#cfa792"/>
<path d="M108 123.1L103.7 121.2L100.8 122.8L105.1 124.7Z" fill="#cea390" stroke="#cea390"/>
<path d="M105.1 124.7L100.8 122.8L97.9 124.3L102.3 126.2Z" fill="#cc9e8d" stroke="#cc9e8d"/>
<path d="M102.3 126.2L97.9 124.3L95 125.7L99.4 127.6Z" fill="#ca998b" stroke="#ca998b"/>
<path d="M99.4 127.6L95 125.7L92.2 127L96.5 128.9Z" fill="#c99388" stroke="#c99388"/>
<path d="M96.5 128.9L92.2 127L89.3 128.3L93.6 130.2Z" fill="#c78e86" stroke="#c78e86"/>
<path d="M93.6 130.2L89.3 128.3L86.4 129.5L90.7 131.4Z" fill="#c58883" stroke="#c58883"/>
<path d="M167.2 62.2L163 60.6L160.1 64.3L164.3 65.9Z" fill="#efedaa" stroke="#efedaa"/>
<path d="M164.3 65.9L160.1 64.3L157.2 67.9L161.4 69.6Z" fill="#efeda8" stroke="#efeda8"/>
<path d="M161.4 69.6L157.2 67.9L154.4 71.4L158.5 73.1Z" fill="#eeeba7" stroke="#eeeba7"/>
<path d="M158.5 73.1L154.4 71.4L151.5 74.8L155.6 76.6Z" fill="#ede9a7" stroke="#ede9a7"/>
<path d="M155.6 76.6L151.5 74.8L148.6 78.1L152.8 79.9Z" fill="#ebe7a6" stroke="#ebe7a6"/>
<path d="M152.8 79.9L148.6 78.1L145.7 81.3L149.9 83.1Z" fill="#eae4a6" stroke="#eae4a6"/>
<path d="M149.9 83.1L145.7 81.3L142.8 84.4L147 86.2Z" fill="#e9e2a5" stroke="#e9e2a5"/>
<path d="M147 86.2L142.8 84.4L139.9 87.4L144.1 89.2Z" fill="#e8dfa5" stroke="#e8dfa5"/>
<path d="M144.1 89.2L139.9 87.4L137 90.2L141.2 92.1Z" fill="#e6dda4" stroke="#e6dda4"/>
<path d="M141.2 92.1L137 90.2L134.1 93L138.3 95Z" fill="#e5daa3" stroke="#e5daa3"/>
<path d="M138.3 95L134.1 93L131.2 95.7L135.4 97.7Z" fill="#e3d7a3" stroke="#e3d7a3"/>
<path d="M135.4 97.7L131.2 95.7L128.3 98.3L132.6 100.3Z" fill="#e2d3a2" stroke="#e2d3a2"/>
<path d="M132.6 100.3L128.3 98.3L125.4 100.9L129.7 102.8Z" fill="#e0d0a1" stroke="#e0d0a1"/>
<path d="M129.7 102.8L125.4 100.9L122.5 103.3L126.8 105.2Z" fill="#dfcda0" stroke="#dfcda0"/>
<path d="M126.8 105.2L122.5 103.3L119.6 105.6L123.9 107.5Z" fill="#ddc99f" stroke="#ddc99f"/>
<path d="M123.9 107.5L119.6 105.6L116.8 107.8L121 109.8Z" fill="#dbc59e" stroke="#dbc59e"/>
<path d="M121 109.8L116.8 107.8L113.9 110L118.1 111.9Z" fill="#d9c19d" stroke="#d9c19d"/>
<path d="M118.1 111.9L113.9 110L111 112L115.2 113.9Z" fill="#d8bd9c" stroke="#d8bd9c"/>
<path d="M115.2 113.9L111 112L108.1 114L112.4 115.9Z" fill="#d6b99b" stroke="#d6b99b"/>
<path d="M112.4 115.9L108.1 114L105.2 115.8L109.5 117.7Z" fill="#d4b599" stroke="#d4b599"/>
<path d="M109.5 117.7L105.2 115.8L102.3 117.6L106.6 119.5Z" fill="#d3b197" stroke="#d3b197"/>
<path d="M106.6 119.5L102.3 117.6L99.4 119.3L103.7 121.2Z" fill="#d1ad95" stroke="#d1ad95"/>
<path d="M103.7 121.2L99.4 119.3L96.5 120.9L100.8 122.8Z" fill="#d0a892" stroke="#d0a892"/>
<path d="M100.8 122.8L96.5 120.9L93.6 122.4L97.9 124.3Z" fill="#cea490" stroke="#cea490"/>
<path d="M97.9 124.3L93.6 122.4L90.7 123.9L95 125.7Z" fill="#cd9f8e" stroke="#cd9f8e"/>
<path d="M95 125.7L90.7 123.9L87.8 125.2L92.2 127Z" fill="#cb9a8c" stroke="#cb9a8c"/>
<path d="M92.2 127L87.8 125.2L84.9 126.5L89.3 128.3Z" fill="#c99589" stroke="#c99589"/>
<path d="M89.3 128.3L84.9 126.5L82 127.7L86.4 129.5Z" fill="#c89087" stroke="#c89087"/>
<path d="M163 60.6L158.9 59L156 62.7L160.1 64.3Z" fill="#f0eeab" stroke="#f0eeab"/>
<path d="M160.1 64.3L156 62.7L153.1 66.2L157.2 67.9Z" fill="#efeda9" stroke="#efeda9"/>
<path d="M157.2 67.9L153.1 66.2L150.2 69.7L154.4 71.4Z" fill="#eeeda8" stroke="#eeeda8"/>
<path d="M154.4 71.4L150.2 69.7L147.3 73L151.5 74.8Z" fill="#eeeba7" stroke="#eeeba7"/>
<path d="M151.5 74.8L147.3 73L144.4 76.3L148.6 78.1Z" fill="#ece9a7" stroke="#ece9a7"/>
<path d="M148.6 78.1L144.4 76.3L141.5 79.5L145.7 81.3Z" fill="#ebe7a6" stroke="#ebe7a6"/>
<path d="M145.7 81.3L141.5 79.5L138.6 82.5L142.8 84.4Z" fill="#eae4a6" stroke="#eae4a6"/>
<path d="M142.8 84.4L138.6 82.5L135.7 85.5L139.9 87.4Z" fill="#e9e2a5" stroke="#e9e2a5"/>
<path d="M139.9 87.4L135.7 85.5L132.8 88.4L137 90.2Z" fill="#e8dfa5" stroke="#e8dfa5"/>
<path d="M137 90.2L132.8 88.4L129.9 91.2L134.1 93Z" fill="#e6dca4" stroke="#e6dca4"/>
<path d="M134.1 93L129.9 91.2L127 93.9L131.2 95.7Z" fill="#e5daa3" stroke="#e5daa3"/>
<path d="M131.2 95.7L127 93.9L124.1 96.5L128.3 98.3Z" fill="#e3d7a3" stroke="#e3d7a3"/>
<path d="M128.3 98.3L124.1 96.5L121.2 99L125.4 100.9Z" fill="#e2d3a2" stroke="#e2d3a2"/>
<path d="M125.4 100.9L121.2 99L118.3 101.4L122.5 103.3Z" fill="#e0d0a1" stroke="#e0d0a1"/>
<path d="M122.5 103.3L118.3 101.4L115.4 103.7L119.6 105.6Z" fill="#dfcda0" stroke="#dfcda0"/>
<path d="M119.6 105.6L115.4 103.7L112.5 106L116.8 107.8Z" fill="#ddc99f" stroke="#ddc99f"/>
<path d="M116.8 107.8L112.5 106L109.6 108.1L113.9 110Z" fill="#dbc69e" stroke="#dbc69e"/>
<path d="M113.9 110L109.6 108.1L106.7 110.2L111 112Z" fill="#dac29d" stroke="#dac29d"/>
<path d="M111 112L106.7 110.2L103.8 112.1L108.1 114Z" fill="#d8be9c" stroke="#d8be9c"/>
<path d="M108.1 114L103.8 112.1L100.9 114L105.2 115.8Z" fill="#d6ba9b" stroke="#d6ba9b"/>
<path d="M105.2 115.8L100.9 114L98 115.8L102.3 117.6Z" fill="#d4b699" stroke="#d4b699"/>
<path d="M102.3 117.6L98 115.8L95.1 117.5L99.4 119.3Z" fill="#d3b297" stroke="#d3b297"/>
<path d="M99.4 119.3L95.1 117.5L92.2 119.1L96.5 120.9Z" fill="#d2ae95" stroke="#d2ae95"/>
<path d="M96.5 120.9L92.2 119.1L89.3 120.6L93.6 122.4Z" fill="#d0aa93" stroke="#d0aa93"/>
<path d="M93.6 122.4L89.3 120.6L86.4 122.1L90.7 123.9Z" fill="#cfa591" stroke="#cfa591"/>
<path d="M90.7 123.9L86.4 122.1L83.5 123.4L87.8 125.2Z" fill="#cda18f" stroke="#cda18f"/>
<path d="M87.8 125.2L83.5 123.4L80.6 124.7L84.9 126.5Z" fill="#cc9c8d" stroke="#cc9c8d"/>
<path d="M84.9 126.5L80.6 124.7L77.7 125.9L82 127.7Z" fill="#ca978a" stroke="#ca978a"/>
<path d="M158.9 59L154.7 57.6L151.8 61.1L156 62.7Z" fill="#f1efad" stroke="#f1efad"/>
<path d="M156 62.7L151.8 61.1L148.9 64.7L153.1 66.2Z" fill="#f0eeab" stroke="#f0eeab"/>
<path d="M153.1 66.2L148.9 64.7L146 68.1L150.2 69.7Z" fill="#efeda9" stroke="#efeda9"/>
<path d="M150.2 69.7L146 68.1L143.1 71.4L147.3 73Z" fill="#eeeda7" stroke="#eeeda7"/>
<path d="M147.3 73L143.1 71.4L140.2 74.6L144.4 76.3Z" fill="#edeba7" stroke="#edeba7"/>
<path d="M144.4 76.3L140.2 74.6L137.3 77.7L141.5 79.5Z" fill="#ece9a7" stroke="#ece9a7"/>
<path d="M141.5 79.5L137.3 77.7L134.4 80.8L138.6 82.5Z" fill="#ebe6a6" stroke="#ebe6a6"/>
<path d="M138.6 82.5L134.4 80.8L131.5 83.7L135.7 85.5Z" fill="#eae4a6" stroke="#eae4a6"/>
<path d="M135.7 85.5L131.5 83.7L128.6 86.6L132.8 88.4Z" fill="#e9e2a5" stroke="#e9e2a5"/>
<path d="M132.8 88.4L128.6 86.6L125.7 89.4L129.9 91.2Z" fill="#e8dfa5" stroke="#e8dfa5"/>
<path d="M129.9 91.2L125.7 89.4L122.7 92.1L127 93.9Z" fill="#e6dca4" stroke="#e6dca4"/>
<path d="M127 93.9L122.7 92.1L119.8 94.7L124.1 96.5Z" fill="#e5daa3" stroke="#e5daa3"/>
<path d="M124.1 96.5L119.8 94.7L116.9 97.2L121.2 99Z" fill="#e3d7a3" stroke="#e3d7a3"/>
<path d="M121.2 99L116.9 97.2L114 99.6L118.3 101.4Z" fill="#e2d3a2" stroke="#e2d3a2"/>
<path d="M118.3 101.4L114 99.6L111.1 101.9L115.4 103.7Z" fill="#e0d0a1" stroke="#e0d0a1"/>
<path d="M115.4 103.7L111.1 101.9L108.2 104.1L112.5 106Z" fill="#dfcda0" stroke="#dfcda0"/>
<path d="M112.5 106L108.2 104.1L105.3 106.3L109.6 108.1Z" fill="#ddc99f" stroke="#ddc99f"/>
<path d="M109.6 108.1L105.3 106.3L102.4 108.4L106.7 110.2Z" fill="#dbc69e" stroke="#dbc69e"/>
<path d="M106.7 110.2L102.4 108.4L99.5 110.3L103.8 112.1Z" fill="#dac29d" stroke="#dac29d"/>
<path d="M103.8 112.1L99.5 110.3L96.6 112.2L100.9 114Z" fill="#d8be9c" stroke="#d8be9c"/>
<path d="M100.9 114L96.6 112.2L93.7 114L98 115.8Z" fill="#d6bb9b" stroke="#d6bb9b"/>
<path d="M98 115.8L93.7 114L90.8 115.7L95.1 117.5Z" fill="#d5b79a" stroke="#d5b79a"/>
<path d="M95.1 117.5L90.8 115.7L87.9 117.3L92.2 119.1Z" fill="#d3b398" stroke="#d3b398"/>
<path d="M92.2 119.1L87.9 117.3L85 118.9L89.3 120.6Z" fill="#d2af96" stroke="#d2af96"/>
<path d="M89.3 120.6L85 118.9L82.1 120.3L86.4 122.1Z" fill="#d0ab94" stroke="#d0ab94"/>
<path d="M86.4 122.1L82.1 120.3L79.1 121.7L83.5 123.4Z" fill="#cfa792" stroke="#cfa792"/>
<path d="M83.5 123.4L79.1 121.7L76.2 123L80.6 124.7Z" fill="#cea28f" stroke="#cea28f"/>
<path d="M80.6 124.7L76.2 123L73.3 124.2L77.7 125.9Z" fill="#cc9e8d" stroke="#cc9e8d"/>
<path d="M154.7 57.6L150.6 56.1L147.7 59.7L151.8 61.1Z" fill="#f1efae" stroke="#f1efae"/>
<path d="M151.8 61.1L147.7 59.7L144.7 63.1L148.9 64.7Z" fill="#f1efac" stroke="#f1efac"/>
<path d="M148.9 64.7L144.7 63.1L141.8 66.5L146 68.1Z" fill="#f0eeab" stroke="#f0eeab"/>
<path d="M146 68.1L141.8 66.5L138.9 69.8L143.1 71.4Z" fill="#efeda9" stroke="#efeda9"/>
<path d="M143.1 71.4L138.9 69.8L136 73L140.2 74.6Z" fill="#eeeca7" stroke="#eeeca7"/>
<path d="M140.2 74.6L136 73L133.1 76.1L137.3 77.7Z" fill="#edeaa7" stroke="#edeaa7"/>
<path d="M137.3 77.7L133.1 76.1L130.2 79.1L134.4 80.8Z" fill="#ece8a7" stroke="#ece8a7"/>
<path d="M134.4 80.8L130.2 79.1L127.3 82L131.5 83.7Z" fill="#ebe6a6" stroke="#ebe6a6"/>
<path d="M131.5 83.7L127.3 82L124.3 84.9L128.6 86.6Z" fill="#eae4a6" stroke="#eae4a6"/>
<path d="M128.6 86.6L124.3 84.9L121.4 87.6L125.7 89.4Z" fill="#e9e1a5" stroke="#e9e1a5"/>
<path d="M125.7 89.4L121.4 87.6L118.5 90.3L122.7 92.1Z" fill="#e7dfa4" stroke="#e7dfa4"/>
<path d="M122.7 92.1L118.5 90.3L115.6 92.9L119.8 94.7Z" fill="#e6dca4" stroke="#e6dca4"/>
<path d="M119.8 94.7L115.6 92.9L112.7 95.4L116.9 97.2Z" fill="#e5d9a3" stroke="#e5d9a3"/>
<path d="M116.9 97.2L112.7 95.4L109.8 97.8L114 99.6Z" fill="#e3d6a3" stroke="#e3d6a3"/>
<path d="M114 99.6L109.8 97.8L106.9 100.1L111.1 101.9Z" fill="#e2d3a2" stroke="#e2d3a2"/>
<path d="M111.1 101.9L106.9 100.1L103.9 102.4L108.2 104.1Z" fill="#e0d0a1" stroke="#e0d0a1"/>
<path d="M108.2 104.1L103.9 102.4L101 104.5L105.3 106.3Z" fill="#dfcda0" stroke="#dfcda0"/>
<path d="M105.3 106.3L101 104.5L98.1 106.6L102.4 108.4Z" fill="#ddca9f" stroke="#ddca9f"/>
<path d="M102.4 108.4L98.1 106.6L95.2 108.6L99.5 110.3Z" fill="#dcc69e" stroke="#dcc69e"/>
<path d="M99.5 110.3L95.2 108.6L92.3 110.5L96.6 112.2Z" fill="#dac39d" stroke="#dac39d"/>
<path d="M96.6 112.2L92.3 110.5L89.4 112.3L93.7 114Z" fill="#d8bf9c" stroke="#d8bf9c"/>
<path d="M93.7 114L89.4 112.3L86.5 114L90.8 115.7Z" fill="#d7bb9b" stroke="#d7bb9b"/>
<path d="M90.8 115.7L86.5 114L83.5 115.6L87.9 117.3Z" fill="#d5b79a" stroke="#d5b79a"/>
<path d="M87.9 117.3L83.5 115.6L80.6 117.2L85 118.9Z" fill="#d4b498" stroke="#d4b498"/>
<path d="M85 118.9L80.6 117.2L77.7 118.6L82.1 120.3Z" fill="#d2b096" stroke="#d2b096"/>
<path d="M82.1 120.3L77.7 118.6L74.8 120L79.1 121.7Z" fill="#d1ac94" stroke="#d1ac94"/>
<path d="M79.1 121.7L74.8 120L71.9 121.3L76.2 123Z" fill="#d0a892" stroke="#d0a892"/>
<path d="M76.2 123L71.9 121.3L69 122.5L73.3 124.2Z" fill="#cea490" stroke="#cea490"/>
<path d="M150.6 56.1L146.4 54.8L143.5 58.3L147.7 59.7Z" fill="#f2f0af" stroke="#f2f0af"/>
<path d="M147.7 59.7L143.5 58.3L140.6 61.7L144.7 63.1Z" fill="#f1efae" stroke="#f1efae"/>
<path d="M144.7 63.1L140.6 61.7L137.7 65L141.8 66.5Z" fill="#f1efac" stroke="#f1efac"/>
<path d="M141.8 66.5L137.7 65L134.7 68.2L138.9 69.8Z" fill="#f0eeab" stroke="#f0eeab"/>
<path d="M138.9 69.8L134.7 68.2L131.8 71.4L136 73Z" fill="#efeda9" stroke="#efeda9"/>
<path d="M136 73L131.8 71.4L128.9 74.5L133.1 76.1Z" fill="#eeeca7" stroke="#eeeca7"/>
<path d="M133.1 76.1L128.9 74.5L126 77.5L130.2 79.1Z" fill="#edeaa7" stroke="#edeaa7"/>
<path d="M130.2 79.1L126 77.5L123.1 80.4L127.3 82Z" fill="#ece8a6" stroke="#ece8a6"/>
<path d="M127.3 82L123.1 80.4L120.1 83.2L124.3 84.9Z" fill="#ebe6a6" stroke="#ebe6a6"/>
<path d="M124.3 84.9L120.1 83.2L117.2 86L121.4 87.6Z" fill="#eae4a6" stroke="#eae4a6"/>
<path d="M121.4 87.6L117.2 86L114.3 88.6L118.5 90.3Z" fill="#e9e1a5" stroke="#e9e1a5"/>
<path d="M118.5 90.3L114.3 88.6L111.4 91.2L115.6 92.9Z" fill="#e7dfa4" stroke="#e7dfa4"/>
<path d="M115.6 92.9L111.4 91.2L108.4 93.7L112.7 95.4Z" fill="#e6dca4" stroke="#e6dca4"/>
<path d="M112.7 95.4L108.4 93.7L105.5 96.1L109.8 97.8Z" fill="#e5d9a3" stroke="#e5d9a3"/>
<path d="M109.8 97.8L105.5 96.1L102.6 98.4L106.9 100.1Z" fill="#e3d6a2" stroke="#e3d6a2"/>
<path d="M106.9 100.1L102.6 98.4L99.7 100.7L103.9 102.4Z" fill="#e2d3a2" stroke="#e2d3a2"/>
<path d="M103.9 102.4L99.7 100.7L96.8 102.8L101 104.5Z" fill="#e0d0a1" stroke="#e0d0a1"/>
<path d="M101 104.5L96.8 102.8L93.8 104.9L98.1 106.6Z" fill="#dfcda0" stroke="#dfcda0"/>
<path d="M98.1 106.6L93.8 104.9L90.9 106.9L95.2 108.6Z" fill="#ddca9f" stroke="#ddca9f"/>
<path d="M95.2 108.6L90.9 106.9L88 108.8L92.3 110.5Z" fill="#dcc69e" stroke="#dcc69e"/>
<path d="M92.3 110.5L88 108.8L85.1 110.6L89.4 112.3Z" fill="#dac39d" stroke="#dac39d"/>
<path d="M89.4 112.3L85.1 110.6L82.2 112.3L86.5 114Z" fill="#d9bf9c" stroke="#d9bf9c"/>
<path d="M86.5 114L82.2 112.3L79.2 114L83.5 115.6Z" fill="#d7bc9b" stroke="#d7bc9b"/>
<path d="M83.5 115.6L79.2 114L76.3 115.5L80.6 117.2Z" fill="#d5b89a" stroke="#d5b89a"/>
<path d="M80.6 117.2L76.3 115.5L73.4 117L77.7 118.6Z" fill="#d4b498" stroke="#d4b498"/>
<path d="M77.7 118.6L73.4 117L70.5 118.4L74.8 120Z" fill="#d3b197" stroke="#d3b197"/>
<path d="M74.8 120L70.5 118.4L67.5 119.6L71.9 121.3Z" fill="#d1ad95" stroke="#d1ad95"/>
<path d="M71.9 121.3L67.5 119.6L64.6 120.8L69 122.5Z" fill="#d0a993" stroke="#d0a993"/>
<path d="M146.4 54.8L142.3 53.5L139.3 56.9L143.5 58.3Z" fill="#f2f0b0" stroke="#f2f0b0"/>
<path d="M143.5 58.3L139.3 56.9L136.4 60.3L140.6 61.7Z" fill="#f2f0ae" stroke="#f2f0ae"/>
<path d="M140.6 61.7L136.4 60.3L133.5 63.6L137.7 65Z" fill="#f1efad" stroke="#f1efad"/>
<path d="M137.7 65L133.5 63.6L130.6 66.8L134.7 68.2Z" fill="#f0eeac" stroke="#f0eeac"/>
<path d="M134.7 68.2L130.6 66.8L127.6 69.9L131.8 71.4Z" fill="#f0eeaa" stroke="#f0eeaa"/>
<path d="M131.8 71.4L127.6 69.9L124.7 72.9L128.9 74.5Z" fill="#efeda8" stroke="#efeda8"/>
<path d="M128.9 74.5L124.7 72.9L121.8 75.9L126 77.5Z" fill="#eeeca7" stroke="#eeeca7"/>
<path d="M126 77.5L121.8 75.9L118.8 78.8L123.1 80.4Z" fill="#edeaa7" stroke="#edeaa7"/>
<path d="M123.1 80.4L118.8 78.8L115.9 81.6L120.1 83.2Z" fill="#ece8a6" stroke="#ece8a6"/>
<path d="M120.1 83.2L115.9 81.6L113 84.3L117.2 86Z" fill="#ebe6a6" stroke="#ebe6a6"/>
<path d="M117.2 86L113 84.3L110.1 87L114.3 88.6Z" fill="#eae3a5" stroke="#eae3a5"/>
<path d="M114.3 88.6L110.1 87L107.1 89.6L111.4 91.2Z" fill="#e8e1a5" stroke="#e8e1a5"/>
<path d="M111.4 91.2L107.1 89.6L104.2 92.1L108.4 93.7Z" fill="#e7dea4" stroke="#e7dea4"/>
<path d="M108.4 93.7L104.2 92.1L101.3 94.5L105.5 96.1Z" fill="#e6dca4" stroke="#e6dca4"/>
<path d="M105.5 96.1L101.3 94.5L98.3 96.8L102.6 98.4Z" fill="#e5d9a3" stroke="#e5d9a3"/>
<path d="M102.6 98.4L98.3 96.8L95.4 99L99.7 100.7Z" fill="#e3d6a2" stroke="#e3d6a2"/>
<path d="M99.7 100.7L95.4 99L92.5 101.2L96.8 102.8Z" fill="#e2d3a2" stroke="#e2d3a2"/>
<path d="M96.8 102.8L92.5 101.2L89.6 103.3L93.8 104.9Z" fill="#e0d0a1" stroke="#e0d0a1"/>
<path d="M93.8 104.9L89.6 103.3L86.6 105.3L90.9 106.9Z" fill="#dfcda0" stroke="#dfcda0"/>
<path d="M90.9 106.9L86.6 105.3L83.7 107.2L88 108.8Z" fill="#ddca9f" stroke="#ddca9f"/>
<path d="M88 108.8L83.7 107.2L80.8 109L85.1 110.6Z" fill="#dcc79e" stroke="#dcc79e"/>
<path d="M85.1 110.6L80.8 109L77.8 110.7L82.2 112.3Z" fill="#dac39e" stroke="#dac39e"/>
<path d="M82.2 112.3L77.8 110.7L74.9 112.4L79.2 114Z" fill="#d9c09d" stroke="#d9c09d"/>
<path d="M79.2 114L74.9 112.4L72 113.9L76.3 115.5Z" fill="#d7bc9c" stroke="#d7bc9c"/>
<path d="M76.3 115.5L72 113.9L69.1 115.4L73.4 117Z" fill="#d6b99b" stroke="#d6b99b"/>
<path d="M73.4 117L69.1 115.4L66.1 116.8L70.5 118.4Z" fill="#d4b599" stroke="#d4b599"/>
<path d="M70.5 118.4L66.1 116.8L63.2 118L67.5 119.6Z" fill="#d3b297" stroke="#d3b297"/>
<path d="M67.5 119.6L63.2 118L60.3 119.2L64.6 120.8Z" fill="#d2ae95" stroke="#d2ae95"/>
<path d="M142.3 53.5L138.1 52.3L135.2 55.7L139.3 56.9Z" fill="#f3f0b0" stroke="#f3f0b0"/>
<path d="M139.3 56.9L135.2 55.7L132.2 59L136.4 60.3Z" fill="#f2f0af" stroke="#f2f0af"/>
<path d="M136.4 60.3L132.2 59L129.3 62.2L133.5 63.6Z" fill="#f2efae" stroke="#f2efae"/>
<path d="M133.5 63.6L129.3 62.2L126.4 65.4L130.6 66.8Z" fill="#f1efad" stroke="#f1efad"/>
<path d="M130.6 66.8L126.4 65.4L123.4 68.4L127.6 69.9Z" fill="#f0eeab" stroke="#f0eeab"/>
<path d="M127.6 69.9L123.4 68.4L120.5 71.5L124.7 72.9Z" fill="#efeeaa" stroke="#efeeaa"/>
<path d="M124.7 72.9L120.5 71.5L117.6 74.4L121.8 75.9Z" fill="#efeda8" stroke="#efeda8"/>
<path d="M121.8 75.9L117.6 74.4L114.6 77.3L118.8 78.8Z" fill="#eeeba7" stroke="#eeeba7"/>
<path d="M118.8 78.8L114.6 77.3L111.7 80.1L115.9 81.6Z" fill="#ede9a7" stroke="#ede9a7"/>
<path d="M115.9 81.6L111.7 80.1L108.8 82.8L113 84.3Z" fill="#ece7a6" stroke="#ece7a6"/>
<path d="M113 84.3L108.8 82.8L105.8 85.4L110.1 87Z" fill="#ebe5a6" stroke="#ebe5a6"/>
<path d="M110.1 87L105.8 85.4L102.9 88L107.1 89.6Z" fill="#e9e3a5" stroke="#e9e3a5"/>
<path d="M107.1 89.6L102.9 88L100 90.5L104.2 92.1Z" fill="#e8e1a5" stroke="#e8e1a5"/>
<path d="M104.2 92.1L100 90.5L97 92.9L101.3 94.5Z" fill="#e7dea4" stroke="#e7dea4"/>
<path d="M101.3 94.5L97 92.9L94.1 95.2L98.3 96.8Z" fill="#e6dba4" stroke="#e6dba4"/>
<path d="M98.3 96.8L94.1 95.2L91.1 97.4L95.4 99Z" fill="#e4d9a3" stroke="#e4d9a3"/>
<path d="M95.4 99L91.1 97.4L88.2 99.6L92.5 101.2Z" fill="#e3d6a2" stroke="#e3d6a2"/>
<path d="M92.5 101.2L88.2 99.6L85.3 101.7L89.6 103.3Z" fill="#e2d3a2" stroke="#e2d3a2"/>
<path d="M89.6 103.3L85.3 101.7L82.3 103.7L86.6 105.3Z" fill="#e0d0a1" stroke="#e0d0a1"/>
<path d="M86.6 105.3L82.3 103.7L79.4 105.6L83.7 107.2Z" fill="#dfcda0" stroke="#dfcda0"/>
<path d="M83.7 107.2L79.4 105.6L76.5 107.4L80.8 109Z" fill="#ddca9f" stroke="#ddca9f"/>
<path d="M80.8 109L76.5 107.4L73.5 109.1L77.8 110.7Z" fill="#dcc79f" stroke="#dcc79f"/>
<path d="M77.8 110.7L73.5 109.1L70.6 110.8L74.9 112.4Z" fill="#dac49e" stroke="#dac49e"/>
<path d="M74.9 112.4L70.6 110.8L67.7 112.3L72 113.9Z" fill="#d9c09d" stroke="#d9c09d"/>
<path d="M72 113.9L67.7 112.3L64.7 113.8L69.1 115.4Z" fill="#d7bd9c" stroke="#d7bd9c"/>
<path d="M69.1 115.4L64.7 113.8L61.8 115.2L66.1 116.8Z" fill="#d6b99b" stroke="#d6b99b"/>
<path d="M66.1 116.8L61.8 115.2L58.9 116.5L63.2 118Z" fill="#d5b699" stroke="#d5b699"/>
<path d="M63.2 118L58.9 116.5L55.9 117.7L60.3 119.2Z" fill="#d3b398" stroke="#d3b398"/>
<path d="M138.1 52.3L134 51.2L131 54.5L135.2 55.7Z" fill="#f3f1b1" stroke="#f3f1b1"/>
<path d="M135.2 55.7L131 54.5L128.1 57.7L132.2 59Z" fill="#f2f0b0" stroke="#f2f0b0"/>
<path d="M132.2 59L128.1 57.7L125.1 60.9L129.3 62.2Z" fill="#f2f0af" stroke="#f2f0af"/>
<path d="M129.3 62.2L125.1 60.9L122.2 64L126.4 65.4Z" fill="#f1efae" stroke="#f1efae"/>
<path d="M126.4 65.4L122.2 64L119.2 67.1L123.4 68.4Z" fill="#f1efac" stroke="#f1efac"/>
<path d="M123.4 68.4L119.2 67.1L116.3 70L120.5 71.5Z" fill="#f0eeab" stroke="#f0eeab"/>
<path d="M120.5 71.5L116.3 70L113.4 73L117.6 74.4Z" fill="#efeda9" stroke="#efeda9"/>
<path d="M117.6 74.4L113.4 73L110.4 75.8L114.6 77.3Z" fill="#eeeca7" stroke="#eeeca7"/>
<path d="M114.6 77.3L110.4 75.8L107.5 78.6L111.7 80.1Z" fill="#edeba7" stroke="#edeba7"/>
<path d="M111.7 80.1L107.5 78.6L104.5 81.3L108.8 82.8Z" fill="#ece9a7" stroke="#ece9a7"/>
<path d="M108.8 82.8L104.5 81.3L101.6 83.9L105.8 85.4Z" fill="#ebe7a6" stroke="#ebe7a6"/>
<path d="M105.8 85.4L101.6 83.9L98.6 86.4L102.9 88Z" fill="#eae5a6" stroke="#eae5a6"/>
<path d="M102.9 88L98.6 86.4L95.7 88.9L100 90.5Z" fill="#e9e2a5" stroke="#e9e2a5"/>
<path d="M100 90.5L95.7 88.9L92.8 91.3L97 92.9Z" fill="#e8e0a5" stroke="#e8e0a5"/>
<path d="M97 92.9L92.8 91.3L89.8 93.6L94.1 95.2Z" fill="#e7dea4" stroke="#e7dea4"/>
<path d="M94.1 95.2L89.8 93.6L86.9 95.9L91.1 97.4Z" fill="#e6dba4" stroke="#e6dba4"/>
<path d="M91.1 97.4L86.9 95.9L83.9 98L88.2 99.6Z" fill="#e4d8a3" stroke="#e4d8a3"/>
<path d="M88.2 99.6L83.9 98L81 100.1L85.3 101.7Z" fill="#e3d6a2" stroke="#e3d6a2"/>
<path d="M85.3 101.7L81 100.1L78 102.1L82.3 103.7Z" fill="#e2d3a2" stroke="#e2d3a2"/>
<path d="M82.3 103.7L78 102.1L75.1 104L79.4 105.6Z" fill="#e0d0a1" stroke="#e0d0a1"/>
<path d="M79.4 105.6L75.1 104L72.2 105.9L76.5 107.4Z" fill="#dfcda0" stroke="#dfcda0"/>
<path d="M76.5 107.4L72.2 105.9L69.2 107.6L73.5 109.1Z" fill="#ddca9f" stroke="#ddca9f"/>
<path d="M73.5 109.1L69.2 107.6L66.3 109.2L70.6 110.8Z" fill="#dcc79f" stroke="#dcc79f"/>
<path d="M70.6 110.8L66.3 109.2L63.3 110.8L67.7 112.3Z" fill="#dbc49e" stroke="#dbc49e"/>
<path d="M67.7 112.3L63.3 110.8L60.4 112.3L64.7 113.8Z" fill="#d9c19d" stroke="#d9c19d"/>
<path d="M64.7 113.8L60.4 112.3L57.4 113.7L61.8 115.2Z" fill="#d8bd9c" stroke="#d8bd9c"/>
<path d="M61.8 115.2L57.4 113.7L54.5 115L58.9 116.5Z" fill="#d6ba9b" stroke="#d6ba9b"/>
<path d="M58.9 116.5L54.5 115L51.6 116.2L55.9 117.7Z" fill="#d5b79a" stroke="#d5b79a"/>
<path d="M134 51.2L129.8 50.1L126.9 53.3L131 54.5Z" fill="#f3f1b1" stroke="#f3f1b1"/>
<path d="M131 54.5L126.9 53.3L123.9 56.5L128.1 57.7Z" fill="#f3f0b0" stroke="#f3f0b0"/>
<path d="M128.1 57.7L123.9 56.5L121 59.7L125.1 60.9Z" fill="#f2f0af" stroke="#f2f0af"/>
<path d="M125.1 60.9L121 59.7L118 62.7L122.2 64Z" fill="#f2f0ae" stroke="#f2f0ae"/>
<path d="M122.2 64L118 62.7L115.1 65.7L119.2 67.1Z" fill="#f1efad" stroke="#f1efad"/>
<path d="M119.2 67.1L115.1 65.7L112.1 68.7L116.3 70Z" fill="#f0eeac" stroke="#f0eeac"/>
<path d="M116.3 70L112.1 68.7L109.2 71.6L113.4 73Z" fill="#f0eeaa" stroke="#f0eeaa"/>
<path d="M113.4 73L109.2 71.6L106.2 74.4L110.4 75.8Z" fill="#efeda8" stroke="#efeda8"/>
<path d="M110.4 75.8L106.2 74.4L103.3 77.1L107.5 78.6Z" fill="#eeeca7" stroke="#eeeca7"/>
<path d="M107.5 78.6L103.3 77.1L100.3 79.8L104.5 81.3Z" fill="#edeaa7" stroke="#edeaa7"/>
<path d="M104.5 81.3L100.3 79.8L97.4 82.4L101.6 83.9Z" fill="#ece8a6" stroke="#ece8a6"/>
<path d="M101.6 83.9L97.4 82.4L94.4 85L98.6 86.4Z" fill="#ebe6a6" stroke="#ebe6a6"/>
<path d="M98.6 86.4L94.4 85L91.5 87.4L95.7 88.9Z" fill="#eae4a6" stroke="#eae4a6"/>
<path d="M95.7 88.9L91.5 87.4L88.5 89.8L92.8 91.3Z" fill="#e9e2a5" stroke="#e9e2a5"/>
<path d="M92.8 91.3L88.5 89.8L85.6 92.1L89.8 93.6Z" fill="#e8dfa5" stroke="#e8dfa5"/>
<path d="M89.8 93.6L85.6 92.1L82.6 94.4L86.9 95.9Z" fill="#e7dda4" stroke="#e7dda4"/>
<path d="M86.9 95.9L82.6 94.4L79.7 96.5L83.9 98Z" fill="#e5dba3" stroke="#e5dba3"/>
<path d="M83.9 98L79.7 96.5L76.7 98.6L81 100.1Z" fill="#e4d8a3" stroke="#e4d8a3"/>
<path d="M81 100.1L76.7 98.6L73.8 100.6L78 102.1Z" fill="#e3d5a2" stroke="#e3d5a2"/>
<path d="M78 102.1L73.8 100.6L70.8 102.5L75.1 104Z" fill="#e1d3a2" stroke="#e1d3a2"/>
<path d="M75.1 104L70.8 102.5L67.9 104.4L72.2 105.9Z" fill="#e0d0a1" stroke="#e0d0a1"/>
<path d="M72.2 105.9L67.9 104.4L64.9 106.1L69.2 107.6Z" fill="#dfcda0" stroke="#dfcda0"/>
<path d="M69.2 107.6L64.9 106.1L62 107.8L66.3 109.2Z" fill="#ddca9f" stroke="#ddca9f"/>
<path d="M66.3 109.2L62 107.8L59 109.3L63.3 110.8Z" fill="#dcc79f" stroke="#dcc79f"/>
<path d="M63.3 110.8L59 109.3L56.1 110.8L60.4 112.3Z" fill="#dbc49e" stroke="#dbc49e"/>
<path d="M60.4 112.3L56.1 110.8L53.1 112.2L57.4 113.7Z" fill="#d9c19d" stroke="#d9c19d"/>
<path d="M57.4 113.7L53.1 112.2L50.2 113.5L54.5 115Z" fill="#d8be9c" stroke="#d8be9c"/>
<path d="M54.5 115L50.2 113.5L47.2 114.7L51.6 116.2Z" fill="#d6bb9b" stroke="#d6bb9b"/>
<path d="M129.8 50.1L125.7 49.1L122.7 52.3L126.9 53.3Z" fill="#f3f1b1" stroke="#f3f1b1"/>
<path d="M126.9 53.3L122.7 52.3L119.7 55.4L123.9 56.5Z" fill="#f3f0b0" stroke="#f3f0b0"/>
<path d="M123.9 56.5L119.7 55.4L116.8 58.5L121 59.7Z" fill="#f2f0af" stroke="#f2f0af"/>
<path d="M121 59.7L116.8 58.5L113.8 61.5L118 62.7Z" fill="#f2f0af" stroke="#f2f0af"/>
<path d="M118 62.7L113.8 61.5L110.9 64.5L115.1 65.7Z" fill="#f1efad" stroke="#f1efad"/>
<path d="M115.1 65.7L110.9 64.5L107.9 67.4L112.1 68.7Z" fill="#f1efac" stroke="#f1efac"/>
<path d="M112.1 68.7L107.9 67.4L105 70.3L109.2 71.6Z" fill="#f0eeab" stroke="#f0eeab"/>
<path d="M109.2 71.6L105 70.3L102 73.1L106.2 74.4Z" fill="#efeda9" stroke="#efeda9"/>
<path d="M106.2 74.4L102 73.1L99 75.8L103.3 77.1Z" fill="#eeeda8" stroke="#eeeda8"/>
<path d="M103.3 77.1L99 75.8L96.1 78.4L100.3 79.8Z" fill="#eeeba7" stroke="#eeeba7"/>
<path d="M100.3 79.8L96.1 78.4L93.1 81L97.4 82.4Z" fill="#ede9a7" stroke="#ede9a7"/>
<path d="M97.4 82.4L93.1 81L90.2 83.6L94.4 85Z" fill="#ece7a6" stroke="#ece7a6"/>
<path d="M94.4 85L90.2 83.6L87.2 86L91.5 87.4Z" fill="#ebe5a6" stroke="#ebe5a6"/>
<path d="M91.5 87.4L87.2 86L84.3 88.4L88.5 89.8Z" fill="#eae3a5" stroke="#eae3a5"/>
<path d="M88.5 89.8L84.3 88.4L81.3 90.7L85.6 92.1Z" fill="#e9e1a5" stroke="#e9e1a5"/>
<path d="M85.6 92.1L81.3 90.7L78.3 92.9L82.6 94.4Z" fill="#e7dfa4" stroke="#e7dfa4"/>
<path d="M82.6 94.4L78.3 92.9L75.4 95.1L79.7 96.5Z" fill="#e6dca4" stroke="#e6dca4"/>
<path d="M79.7 96.5L75.4 95.1L72.4 97.2L76.7 98.6Z" fill="#e5daa3" stroke="#e5daa3"/>
<path d="M76.7 98.6L72.4 97.2L69.5 99.2L73.8 100.6Z" fill="#e4d7a3" stroke="#e4d7a3"/>
<path d="M73.8 100.6L69.5 99.2L66.5 101.1L70.8 102.5Z" fill="#e3d5a2" stroke="#e3d5a2"/>
<path d="M70.8 102.5L66.5 101.1L63.6 102.9L67.9 104.4Z" fill="#e1d2a1" stroke="#e1d2a1"/>
<path d="M67.9 104.4L63.6 102.9L60.6 104.7L64.9 106.1Z" fill="#e0cfa1" stroke="#e0cfa1"/>
<path d="M64.9 106.1L60.6 104.7L57.6 106.3L62 107.8Z" fill="#dfcda0" stroke="#dfcda0"/>
<path d="M62 107.8L57.6 106.3L54.7 107.9L59 109.3Z" fill="#ddca9f" stroke="#ddca9f"/>
<path d="M59 109.3L54.7 107.9L51.7 109.4L56.1 110.8Z" fill="#dcc79f" stroke="#dcc79f"/>
<path d="M56.1 110.8L51.7 109.4L48.8 110.7L53.1 112.2Z" fill="#dbc49e" stroke="#dbc49e"/>
<path d="M53.1 112.2L48.8 110.7L45.8 112L50.2 113.5Z" fill="#d9c19d" stroke="#d9c19d"/>
<path d="M50.2 113.5L45.8 112L42.9 113.2L47.2 114.7Z" fill="#d8be9c" stroke="#d8be9c"/>
<path d="M125.7 49.1L121.5 48.2L118.5 51.3L122.7 52.3Z" fill="#f3f1b1" stroke="#f3f1b1"/>
<path d="M122.7 52.3L118.5 51.3L115.6 54.4L119.7 55.4Z" fill="#f3f0b0" stroke="#f3f0b0"/>
<path d="M119.7 55.4L115.6 54.4L112.6 57.4L116.8 58.5Z" fill="#f2f0af" stroke="#f2f0af"/>
<path d="M116.8 58.5L112.6 57.4L109.6 60.4L113.8 61.5Z" fill="#f2f0af" stroke="#f2f0af"/>
<path d="M113.8 61.5L109.6 60.4L106.7 63.3L110.9 64.5Z" fill="#f1efae" stroke="#f1efae"/>
<path d="M110.9 64.5L106.7 63.3L103.7 66.2L107.9 67.4Z" fill="#f1efad" stroke="#f1efad"/>
<path d="M107.9 67.4L103.7 66.2L100.8 69L105 70.3Z" fill="#f0eeab" stroke="#f0eeab"/>
<path d="M105 70.3L100.8 69L97.8 71.8L102 73.1Z" fill="#f0eeaa" stroke="#f0eeaa"/>
<path d="M102 73.1L97.8 71.8L94.8 74.5L99 75.8Z" fill="#efeda8" stroke="#efeda8"/>
<path d="M99 75.8L94.8 74.5L91.9 77.1L96.1 78.4Z" fill="#eeeca7" stroke="#eeeca7"/>
<path d="M96.1 78.4L91.9 77.1L88.9 79.7L93.1 81Z" fill="#edeaa7" stroke="#edeaa7"/>
<path d="M93.1 81L88.9 79.7L85.9 82.2L90.2 83.6Z" fill="#ece8a7" stroke="#ece8a7"/>
<path d="M90.2 83.6L85.9 82.2L83 84.6L87.2 86Z" fill="#ebe7a6" stroke="#ebe7a6"/>
<path d="M87.2 86L83 84.6L80 87L84.3 88.4Z" fill="#eae5a6" stroke="#eae5a6"/>
<path d="M84.3 88.4L80 87L77 89.3L81.3 90.7Z" fill="#e9e2a5" stroke="#e9e2a5"/>
<path d="M81.3 90.7L77 89.3L74.1 91.5L78.3 92.9Z" fill="#e8e0a5" stroke="#e8e0a5"/>
<path d="M78.3 92.9L74.1 91.5L71.1 93.7L75.4 95.1Z" fill="#e7dea4" stroke="#e7dea4"/>
<path d="M75.4 95.1L71.1 93.7L68.1 95.8L72.4 97.2Z" fill="#e6dca4" stroke="#e6dca4"/>
<path d="M72.4 97.2L68.1 95.8L65.2 97.8L69.5 99.2Z" fill="#e5d9a3" stroke="#e5d9a3"/>
<path d="M69.5 99.2L65.2 97.8L62.2 99.7L66.5 101.1Z" fill="#e4d7a3" stroke="#e4d7a3"/>
<path d="M66.5 101.1L62.2 99.7L59.2 101.5L63.6 102.9Z" fill="#e2d4a2" stroke="#e2d4a2"/>
<path d="M63.6 102.9L59.2 101.5L56.3 103.2L60.6 104.7Z" fill="#e1d2a1" stroke="#e1d2a1"/>
<path d="M60.6 104.7L56.3 103.2L53.3 104.9L57.6 106.3Z" fill="#e0cfa1" stroke="#e0cfa1"/>
<path d="M57.6 106.3L53.3 104.9L50.4 106.5L54.7 107.9Z" fill="#decca0" stroke="#decca0"/>
<path d="M54.7 107.9L50.4 106.5L47.4 107.9L51.7 109.4Z" fill="#ddca9f" stroke="#ddca9f"/>
<path d="M51.7 109.4L47.4 107.9L44.4 109.3L48.8 110.7Z" fill="#dcc79f" stroke="#dcc79f"/>
<path d="M48.8 110.7L44.4 109.3L41.5 110.6L45.8 112Z" fill="#dbc49e" stroke="#dbc49e"/>
<path d="M45.8 112L41.5 110.6L38.5 111.8L42.9 113.2Z" fill="#d9c19d" stroke="#d9c19d"/>
</g>
<path d="M237.8 96.8L232.3 106.2L226.7 114.7L221.2 122.5L215.7 129.5L210.2 135.9L204.6 141.7L199.1 146.8L193.6 151.5L188 155.6L182.5 159.4L177 162.7L171.5 165.7L165.9 168.4L160.4 170.8M237.8 96.8L229.5 92.2L221.2 87.7L212.9 83.3L204.6 79L196.3 74.9L188 71L179.7 67.3L171.3 63.8L163 60.6L154.7 57.6L146.4 54.8L138.1 52.3L129.8 50.1L121.5 48.2M235.7 95.6L230.2 104.9L224.7 113.4L219.1 121.1L213.6 128.1L208 134.5L202.5 140.2L197 145.4L191.4 150L185.9 154.1L180.4 157.8L174.8 161.2L169.3 164.1L163.8 166.8L158.2 169.2M236.4 99.2L228.1 94.5L219.8 89.9L211.5 85.5L203.2 81.2L194.8 77L186.5 73.1L178.2 69.3L169.9 65.8L161.6 62.4L153.3 59.4L145 56.5L136.6 54L128.3 51.7L120 49.8M233.6 94.5L228.1 103.7L222.6 112.1L217 119.8L211.5 126.8L205.9 133.1L200.4 138.8L194.8 143.9L189.3 148.5L183.8 152.7L178.2 156.4L172.7 159.7L167.1 162.6L161.6 165.3L156 167.7M235 101.6L226.7 96.8L218.4 92.2L210.1 87.6L201.8 83.3L193.4 79.1L185.1 75.1L176.8 71.3L168.5 67.7L160.1 64.3L151.8 61.1L143.5 58.3L135.2 55.7L126.9 53.3L118.5 51.3M231.6 93.3L226 102.5L220.5 110.8L214.9 118.5L209.4 125.4L203.8 131.7L198.3 137.4L192.7 142.5L187.2 147.1L181.6 151.2L176.1 154.9L170.5 158.2L165 161.1L159.4 163.8L153.9 166.2M233.7 103.9L225.3 99.1L217 94.3L208.7 89.8L200.3 85.3L192 81.1L183.7 77L175.4 73.2L167 69.5L158.7 66.1L150.4 62.9L142 60L133.7 57.3L125.4 54.9L117.1 52.9M229.5 92.2L223.9 101.2L218.4 109.6L212.8 117.1L207.3 124L201.7 130.3L196.2 135.9L190.6 141L185 145.6L179.5 149.7L173.9 153.4L168.4 156.7L162.8 159.7L157.3 162.3L151.7 164.7M232.3 106.2L223.9 101.2L215.6 96.5L207.3 91.8L198.9 87.4L190.6 83.1L182.3 79L173.9 75.1L165.6 71.4L157.2 67.9L148.9 64.7L140.6 61.7L132.2 59L123.9 56.5L115.6 54.4M227.4 91L221.9 100L216.3 108.3L210.7 115.8L205.2 122.7L199.6 128.9L194 134.6L188.5 139.6L182.9 144.2L177.3 148.3L171.8 152L166.2 155.3L160.6 158.2L155.1 160.9L149.5 163.3M230.9 108.4L222.5 103.4L214.2 98.6L205.9 93.9L197.5 89.4L189.2 85L180.8 80.9L172.5 76.9L164.1 73.2L155.8 69.6L147.5 66.4L139.1 63.3L130.8 60.6L122.4 58.1L114.1 55.9M225.3 89.9L219.8 98.8L214.2 107L208.6 114.5L203.1 121.4L197.5 127.6L191.9 133.2L186.3 138.2L180.8 142.8L175.2 146.9L169.6 150.6L164.1 153.9L158.5 156.8L152.9 159.5L147.3 161.8M229.5 110.5L221.2 105.5L212.8 100.6L204.5 95.9L196.1 91.3L187.8 86.9L179.4 82.7L171.1 78.7L162.7 74.9L154.4 71.4L146 68.1L137.7 65L129.3 62.2L121 59.7L112.6 57.4M223.3 88.8L217.7 97.7L212.1 105.8L206.5 113.3L200.9 120L195.4 126.2L189.8 131.8L184.2 136.9L178.6 141.4L173.1 145.5L167.5 149.2L161.9 152.5L156.3 155.4L150.7 158L145.2 160.4M228.1 112.6L219.8 107.5L211.4 102.6L203.1 97.8L194.7 93.2L186.3 88.8L178 84.5L169.6 80.5L161.3 76.7L152.9 73.1L144.6 69.7L136.2 66.6L127.8 63.8L119.5 61.2L111.1 58.9M221.2 87.7L215.6 96.5L210 104.6L204.4 112L198.8 118.7L193.3 124.9L187.7 130.5L182.1 135.5L176.5 140.1L170.9 144.1L165.3 147.8L159.7 151.1L154.2 154L148.6 156.7L143 159M226.7 114.7L218.4 109.6L210 104.6L201.7 99.7L193.3 95.1L184.9 90.6L176.6 86.3L168.2 82.3L159.8 78.4L151.5 74.8L143.1 71.4L134.7 68.2L126.4 65.4L118 62.7L109.6 60.4M219.1 86.5L213.5 95.3L207.9 103.3L202.3 110.7L196.7 117.4L191.1 123.6L185.6 129.1L180 134.2L174.4 138.7L168.8 142.8L163.2 146.4L157.6 149.7L152 152.7L146.4 155.3L140.8 157.6M225.4 116.7L217 111.5L208.6 106.5L200.2 101.6L191.9 96.9L183.5 92.4L175.1 88.1L166.8 84L158.4 80.1L150 76.4L141.6 73L133.3 69.8L124.9 66.9L116.5 64.2L108.2 61.9M217 85.4L211.4 94.1L205.8 102.1L200.2 109.5L194.6 116.2L189 122.3L183.4 127.8L177.8 132.8L172.2 137.4L166.6 141.4L161 145.1L155.4 148.4L149.8 151.3L144.2 153.9L138.6 156.3M224 118.7L215.6 113.4L207.2 108.4L198.8 103.4L190.5 98.7L182.1 94.2L173.7 89.8L165.3 85.7L157 81.8L148.6 78.1L140.2 74.6L131.8 71.4L123.4 68.4L115.1 65.7L106.7 63.3M215 84.4L209.3 93L203.7 100.9L198.1 108.2L192.5 114.9L186.9 121L181.3 126.5L175.7 131.5L170.1 136L164.5 140.1L158.9 143.8L153.3 147.1L147.7 150L142.1 152.6L136.5 155M222.6 120.6L214.2 115.3L205.8 110.2L197.4 105.2L189.1 100.5L180.7 95.9L172.3 91.5L163.9 87.4L155.5 83.4L147.1 79.7L138.7 76.2L130.4 72.9L122 70L113.6 67.2L105.2 64.8M212.9 83.3L207.3 91.8L201.7 99.7L196 107L190.4 113.6L184.8 119.7L179.2 125.2L173.6 130.2L168 134.7L162.4 138.8L156.7 142.5L151.1 145.7L145.5 148.7L139.9 151.3L134.3 153.7M221.2 122.5L212.8 117.1L204.4 112L196 107L187.6 102.2L179.2 97.6L170.9 93.2L162.5 89L154.1 85L145.7 81.3L137.3 77.7L128.9 74.5L120.5 71.5L112.1 68.7L103.7 66.2M210.8 82.2L205.2 90.7L199.6 98.6L193.9 105.8L188.3 112.4L182.7 118.4L177.1 123.9L171.5 128.9L165.8 133.4L160.2 137.5L154.6 141.2L149 144.5L143.3 147.4L137.7 150L132.1 152.4M219.8 124.3L211.4 118.9L203 113.7L194.6 108.7L186.2 103.9L177.8 99.2L169.4 94.8L161 90.6L152.6 86.6L144.2 82.8L135.8 79.3L127.4 76L119 72.9L110.6 70.1L102.2 67.6M208.7 81.1L203.1 89.6L197.5 97.4L191.8 104.6L186.2 111.2L180.6 117.2L175 122.7L169.3 127.6L163.7 132.2L158.1 136.2L152.4 139.9L146.8 143.2L141.2 146.1L135.6 148.8L129.9 151.1M218.5 126.1L210 120.7L201.6 115.4L193.2 110.4L184.8 105.5L176.4 100.9L168 96.4L159.6 92.2L151.2 88.2L142.8 84.4L134.4 80.8L126 77.5L117.6 74.4L109.2 71.6L100.8 69M206.6 80.1L201 88.5L195.4 96.2L189.7 103.4L184.1 109.9L178.5 115.9L172.8 121.4L167.2 126.4L161.6 130.9L155.9 135L150.3 138.6L144.7 141.9L139 144.9L133.4 147.5L127.7 149.9M217.1 127.8L208.7 122.4L200.2 117.1L191.8 112L183.4 107.1L175 102.5L166.6 98L158.2 93.7L149.8 89.7L141.3 85.9L132.9 82.3L124.5 78.9L116.1 75.8L107.7 73L99.3 70.4M204.6 79L198.9 87.4L193.3 95.1L187.6 102.2L182 108.7L176.4 114.7L170.7 120.2L165.1 125.1L159.4 129.6L153.8 133.7L148.1 137.4L142.5 140.7L136.9 143.6L131.2 146.3L125.6 148.6M215.7 129.5L207.3 124L198.8 118.7L190.4 113.6L182 108.7L173.6 104L165.2 99.5L156.7 95.2L148.3 91.2L139.9 87.4L131.5 83.7L123.1 80.4L114.6 77.3L106.2 74.4L97.8 71.8M202.5 78L196.8 86.3L191.2 94L185.5 101L179.9 107.5L174.2 113.5L168.6 118.9L162.9 123.9L157.3 128.4L151.6 132.5L146 136.2L140.3 139.5L134.7 142.4L129 145.1L123.4 147.4M214.3 131.2L205.9 125.7L197.4 120.3L189 115.2L180.6 110.3L172.2 105.5L163.7 101L155.3 96.7L146.9 92.7L138.4 88.8L130 85.2L121.6 81.8L113.2 78.7L104.7 75.8L96.3 73.1M200.4 77L194.8 85.2L189.1 92.8L183.4 99.9L177.8 106.3L172.1 112.3L166.5 117.7L160.8 122.7L155.2 127.2L149.5 131.3L143.8 135L138.2 138.3L132.5 141.2L126.9 143.9L121.2 146.2M212.9 132.8L204.5 127.2L196.1 121.9L187.6 116.7L179.2 111.8L170.7 107L162.3 102.5L153.9 98.2L145.4 94.1L137 90.2L128.6 86.6L120.1 83.2L111.7 80.1L103.3 77.1L94.8 74.5M198.3 76L192.7 84.1L187 91.7L181.3 98.7L175.7 105.2L170 111.1L164.4 116.5L158.7 121.5L153 126L147.4 130.1L141.7 133.8L136 137.1L130.4 140.1L124.7 142.7L119 145.1M211.5 134.4L203.1 128.8L194.7 123.4L186.2 118.2L177.8 113.3L169.3 108.5L160.9 104L152.4 99.6L144 95.5L135.6 91.7L127.1 88L118.7 84.6L110.2 81.4L101.8 78.5L93.3 75.8M196.3 74.9L190.6 83.1L184.9 90.6L179.2 97.6L173.6 104L167.9 109.9L162.2 115.4L156.6 120.3L150.9 124.8L145.2 128.9L139.6 132.6L133.9 135.9L128.2 138.9L122.5 141.5L116.9 143.9M210.2 135.9L201.7 130.3L193.3 124.9L184.8 119.7L176.4 114.7L167.9 109.9L159.5 105.4L151 101L142.6 96.9L134.1 93L125.7 89.4L117.2 86L108.8 82.8L100.3 79.8L91.9 77.1M194.2 74L188.5 82L182.8 89.5L177.2 96.5L171.5 102.9L165.8 108.8L160.1 114.2L154.4 119.1L148.8 123.6L143.1 127.7L137.4 131.4L131.7 134.8L126 137.7L120.4 140.4L114.7 142.8M208.8 137.4L200.3 131.8L191.9 126.3L183.4 121.1L174.9 116.1L166.5 111.3L158 106.8L149.6 102.4L141.1 98.3L132.7 94.4L124.2 90.7L115.7 87.3L107.3 84.1L98.8 81.1L90.4 78.4M192.1 73L186.4 81L180.7 88.5L175.1 95.4L169.4 101.7L163.7 107.6L158 113L152.3 118L146.6 122.5L140.9 126.6L135.3 130.3L129.6 133.6L123.9 136.6L118.2 139.3L112.5 141.6M207.4 138.9L198.9 133.2L190.5 127.7L182 122.5L173.5 117.5L165.1 112.7L156.6 108.1L148.1 103.8L139.7 99.6L131.2 95.7L122.7 92.1L114.3 88.6L105.8 85.4L97.4 82.4L88.9 79.7M190 72L184.3 80L178.6 87.4L173 94.3L167.3 100.6L161.6 106.5L155.9 111.9L150.2 116.8L144.5 121.3L138.8 125.4L133.1 129.2L127.4 132.5L121.7 135.5L116 138.2L110.3 140.5M206 140.3L197.5 134.6L189.1 129.1L180.6 123.9L172.1 118.8L163.7 114L155.2 109.5L146.7 105.1L138.2 101L129.8 97.1L121.3 93.4L112.8 89.9L104.4 86.7L95.9 83.7L87.4 80.9M188 71L182.3 79L176.6 86.3L170.9 93.2L165.2 99.5L159.5 105.4L153.8 110.8L148.1 115.7L142.4 120.2L136.7 124.3L131 128L125.3 131.4L119.6 134.4L113.9 137.1L108.2 139.5M204.6 141.7L196.2 135.9L187.7 130.5L179.2 125.2L170.7 120.2L162.2 115.4L153.8 110.8L145.3 106.4L136.8 102.3L128.3 98.3L119.8 94.7L111.4 91.2L102.9 88L94.4 85L85.9 82.2M185.9 70.1L180.2 78L174.5 85.3L168.8 92.1L163.1 98.4L157.3 104.3L151.6 109.7L145.9 114.6L140.2 119.1L134.5 123.2L128.8 126.9L123.1 130.3L117.4 133.3L111.7 136L106 138.4M203.2 143L194.8 137.3L186.3 131.8L177.8 126.5L169.3 121.5L160.8 116.6L152.3 112L143.8 107.7L135.4 103.5L126.9 99.6L118.4 95.9L109.9 92.5L101.4 89.2L92.9 86.2L84.4 83.4M183.8 69.2L178.1 77L172.4 84.3L166.7 91.1L160.9 97.4L155.2 103.2L149.5 108.6L143.8 113.5L138.1 118L132.4 122.1L126.7 125.9L120.9 129.2L115.2 132.3L109.5 135L103.8 137.3M201.9 144.3L193.4 138.6L184.9 133L176.4 127.8L167.9 122.7L159.4 117.9L150.9 113.3L142.4 108.9L133.9 104.8L125.4 100.9L116.9 97.2L108.4 93.7L100 90.5L91.5 87.4L83 84.6M181.7 68.2L176 76L170.3 83.3L164.6 90L158.8 96.3L153.1 102.1L147.4 107.5L141.7 112.4L136 116.9L130.2 121.1L124.5 124.8L118.8 128.2L113.1 131.2L107.3 133.9L101.6 136.3M200.5 145.6L192 139.8L183.5 134.3L175 129L166.5 123.9L158 119.1L149.5 114.5L141 110.1L132.5 106L124 102.1L115.5 98.4L107 94.9L98.5 91.7L90 88.6L81.5 85.8M179.7 67.3L173.9 75.1L168.2 82.3L162.5 89L156.7 95.2L151 101L145.3 106.4L139.6 111.3L133.8 115.9L128.1 120L122.4 123.7L116.6 127.1L110.9 130.2L105.2 132.9L99.5 135.3M199.1 146.8L190.6 141L182.1 135.5L173.6 130.2L165.1 125.1L156.6 120.3L148.1 115.7L139.6 111.3L131 107.2L122.5 103.3L114 99.6L105.5 96.1L97 92.9L88.5 89.8L80 87M177.6 66.4L171.8 74.1L166.1 81.3L160.4 88L154.6 94.2L148.9 100L143.2 105.3L137.4 110.3L131.7 114.8L126 118.9L120.2 122.7L114.5 126.1L108.7 129.2L103 131.9L97.3 134.3M197.7 148L189.2 142.2L180.7 136.7L172.2 131.4L163.7 126.3L155.1 121.5L146.6 116.9L138.1 112.5L129.6 108.4L121.1 104.4L112.6 100.8L104.1 97.3L95.5 94L87 91L78.5 88.2M175.5 65.6L169.8 73.2L164 80.3L158.3 87L152.5 93.2L146.8 99L141 104.3L135.3 109.2L129.6 113.8L123.8 117.9L118.1 121.7L112.3 125.1L106.6 128.2L100.8 130.9L95.1 133.3M196.3 149.2L187.8 143.4L179.3 137.8L170.8 132.5L162.2 127.4L153.7 122.6L145.2 118L136.7 113.6L128.2 109.5L119.6 105.6L111.1 101.9L102.6 98.4L94.1 95.2L85.6 92.1L77 89.3M173.4 64.7L167.7 72.3L161.9 79.4L156.2 86L150.4 92.2L144.7 97.9L138.9 103.3L133.2 108.2L127.4 112.7L121.7 116.9L115.9 120.7L110.2 124.1L104.4 127.2L98.7 129.9L92.9 132.3M195 150.4L186.4 144.5L177.9 139L169.4 133.6L160.8 128.6L152.3 123.7L143.8 119.1L135.3 114.8L126.7 110.6L118.2 106.7L109.7 103L101.1 99.6L92.6 96.3L84.1 93.3L75.6 90.4M171.3 63.8L165.6 71.4L159.8 78.4L154.1 85L148.3 91.2L142.6 96.9L136.8 102.3L131 107.2L125.3 111.7L119.5 115.9L113.8 119.7L108 123.1L102.3 126.2L96.5 128.9L90.7 131.4M193.6 151.5L185 145.6L176.5 140.1L168 134.7L159.4 129.6L150.9 124.8L142.4 120.2L133.8 115.9L125.3 111.7L116.8 107.8L108.2 104.1L99.7 100.7L91.1 97.4L82.6 94.4L74.1 91.5M169.3 63L163.5 70.5L157.7 77.5L152 84.1L146.2 90.2L140.4 95.9L134.7 101.3L128.9 106.2L123.2 110.7L117.4 114.9L111.6 118.7L105.9 122.1L100.1 125.2L94.3 128L88.6 130.4M192.2 152.6L183.6 146.7L175.1 141.1L166.6 135.8L158 130.7L149.5 125.9L140.9 121.3L132.4 116.9L123.8 112.8L115.3 108.9L106.8 105.2L98.2 101.8L89.7 98.5L81.1 95.5L72.6 92.6M167.2 62.2L161.4 69.6L155.6 76.6L149.9 83.1L144.1 89.2L138.3 95L132.6 100.3L126.8 105.2L121 109.8L115.2 113.9L109.5 117.7L103.7 121.2L97.9 124.3L92.2 127L86.4 129.5M190.8 153.6L182.3 147.7L173.7 142.1L165.2 136.8L156.6 131.7L148.1 126.9L139.5 122.3L131 118L122.4 113.9L113.9 110L105.3 106.3L96.8 102.8L88.2 99.6L79.7 96.5L71.1 93.7M165.1 61.4L159.3 68.7L153.6 75.7L147.8 82.2L142 88.3L136.2 94L130.4 99.3L124.7 104.2L118.9 108.8L113.1 113L107.3 116.8L101.5 120.2L95.8 123.3L90 126.1L84.2 128.6M189.4 154.6L180.9 148.8L172.3 143.2L163.8 137.8L155.2 132.7L146.6 127.9L138.1 123.3L129.5 119L121 114.9L112.4 111L103.9 107.3L95.3 103.9L86.7 100.6L78.2 97.6L69.6 94.7M163 60.6L157.2 67.9L151.5 74.8L145.7 81.3L139.9 87.4L134.1 93L128.3 98.3L122.5 103.3L116.8 107.8L111 112L105.2 115.8L99.4 119.3L93.6 122.4L87.8 125.2L82 127.7M188 155.6L179.5 149.7L170.9 144.1L162.4 138.8L153.8 133.7L145.2 128.9L136.7 124.3L128.1 120L119.5 115.9L111 112L102.4 108.4L93.8 104.9L85.3 101.7L76.7 98.6L68.1 95.8M161 59.8L155.2 67.1L149.4 73.9L143.6 80.4L137.8 86.4L132 92.1L126.2 97.4L120.4 102.3L114.6 106.9L108.8 111.1L103 114.9L97.2 118.4L91.4 121.5L85.7 124.3L79.9 126.8M186.7 156.6L178.1 150.7L169.5 145.1L160.9 139.8L152.4 134.7L143.8 129.9L135.2 125.3L126.7 121L118.1 116.9L109.5 113L100.9 109.4L92.4 105.9L83.8 102.7L75.2 99.6L66.7 96.8M158.9 59L153.1 66.2L147.3 73L141.5 79.5L135.7 85.5L129.9 91.2L124.1 96.5L118.3 101.4L112.5 106L106.7 110.2L100.9 114L95.1 117.5L89.3 120.6L83.5 123.4L77.7 125.9M185.3 157.5L176.7 151.6L168.1 146L159.5 140.7L151 135.6L142.4 130.8L133.8 126.2L125.2 121.9L116.6 117.8L108.1 114L99.5 110.3L90.9 106.9L82.3 103.7L73.8 100.6L65.2 97.8M156.8 58.3L151 65.4L145.2 72.2L139.4 78.6L133.6 84.6L127.8 90.3L122 95.6L116.2 100.5L110.3 105L104.5 109.2L98.7 113.1L92.9 116.6L87.1 119.7L81.3 122.5L75.5 125M183.9 158.5L175.3 152.5L166.7 146.9L158.1 141.6L149.6 136.5L141 131.7L132.4 127.1L123.8 122.8L115.2 118.8L106.6 114.9L98 111.3L89.5 107.9L80.9 104.6L72.3 101.6L63.7 98.7M154.7 57.6L148.9 64.7L143.1 71.4L137.3 77.7L131.5 83.7L125.7 89.4L119.8 94.7L114 99.6L108.2 104.1L102.4 108.4L96.6 112.2L90.8 115.7L85 118.9L79.1 121.7L73.3 124.2M182.5 159.4L173.9 153.4L165.3 147.8L156.7 142.5L148.1 137.4L139.6 132.6L131 128L122.4 123.7L113.8 119.7L105.2 115.8L96.6 112.2L88 108.8L79.4 105.6L70.8 102.5L62.2 99.7M152.7 56.8L146.8 63.9L141 70.6L135.2 76.9L129.4 82.9L123.5 88.5L117.7 93.8L111.9 98.7L106.1 103.3L100.3 107.5L94.4 111.3L88.6 114.9L82.8 118L77 120.8L71.2 123.3M181.1 160.2L172.5 154.3L163.9 148.7L155.3 143.3L146.7 138.3L138.1 133.5L129.5 128.9L120.9 124.6L112.3 120.6L103.7 116.7L95.1 113.1L86.5 109.7L77.9 106.5L69.3 103.5L60.7 100.6M150.6 56.1L144.7 63.1L138.9 69.8L133.1 76.1L127.3 82L121.4 87.6L115.6 92.9L109.8 97.8L103.9 102.4L98.1 106.6L92.3 110.5L86.5 114L80.6 117.2L74.8 120L69 122.5M179.8 161.1L171.1 155.1L162.5 149.5L153.9 144.1L145.3 139.1L136.7 134.3L128.1 129.8L119.5 125.5L110.9 121.4L102.3 117.6L93.7 114L85.1 110.6L76.5 107.4L67.9 104.4L59.2 101.5M148.5 55.5L142.7 62.4L136.8 69L131 75.3L125.2 81.2L119.3 86.8L113.5 92L107.6 97L101.8 101.5L96 105.7L90.1 109.6L84.3 113.2L78.5 116.3L72.6 119.2L66.8 121.7M178.4 161.9L169.8 155.9L161.1 150.3L152.5 145L143.9 139.9L135.3 135.1L126.7 130.6L118.1 126.3L109.5 122.3L100.8 118.5L92.2 114.9L83.6 111.5L75 108.3L66.4 105.2L57.8 102.4M146.4 54.8L140.6 61.7L134.7 68.2L128.9 74.5L123.1 80.4L117.2 86L111.4 91.2L105.5 96.1L99.7 100.7L93.8 104.9L88 108.8L82.2 112.3L76.3 115.5L70.5 118.4L64.6 120.8M177 162.7L168.4 156.7L159.7 151.1L151.1 145.7L142.5 140.7L133.9 135.9L125.3 131.4L116.6 127.1L108 123.1L99.4 119.3L90.8 115.7L82.2 112.3L73.5 109.1L64.9 106.1L56.3 103.2M144.3 54.1L138.5 61L132.6 67.5L126.8 73.7L120.9 79.6L115.1 85.1L109.2 90.4L103.4 95.3L97.5 99.8L91.7 104.1L85.8 108L80 111.5L74.1 114.7L68.3 117.6L62.4 120M175.6 163.5L167 157.5L158.3 151.9L149.7 146.5L141.1 141.5L132.5 136.7L123.8 132.2L115.2 127.9L106.6 123.9L97.9 120.1L89.3 116.5L80.7 113.2L72.1 110L63.4 106.9L54.8 104.1M142.3 53.5L136.4 60.3L130.6 66.8L124.7 72.9L118.8 78.8L113 84.3L107.1 89.6L101.3 94.5L95.4 99L89.6 103.3L83.7 107.2L77.8 110.7L72 113.9L66.1 116.8L60.3 119.2M174.2 164.2L165.6 158.2L157 152.6L148.3 147.3L139.7 142.2L131 137.4L122.4 132.9L113.8 128.7L105.1 124.7L96.5 120.9L87.9 117.3L79.2 114L70.6 110.8L62 107.8L53.3 104.9M140.2 52.9L134.3 59.6L128.5 66L122.6 72.2L116.7 78L110.9 83.5L105 88.8L99.1 93.7L93.3 98.2L87.4 102.5L81.5 106.4L75.7 109.9L69.8 113.1L64 116L58.1 118.5M172.8 165L164.2 159L155.6 153.3L146.9 148L138.3 142.9L129.6 138.2L121 133.7L112.3 129.4L103.7 125.5L95.1 121.7L86.4 118.1L77.8 114.8L69.1 111.6L60.5 108.6L51.8 105.7M138.1 52.3L132.2 59L126.4 65.4L120.5 71.5L114.6 77.3L108.8 82.8L102.9 88L97 92.9L91.1 97.4L85.3 101.7L79.4 105.6L73.5 109.1L67.7 112.3L61.8 115.2L55.9 117.7M171.5 165.7L162.8 159.7L154.2 154L145.5 148.7L136.9 143.6L128.2 138.9L119.6 134.4L110.9 130.2L102.3 126.2L93.6 122.4L85 118.9L76.3 115.5L67.7 112.3L59 109.3L50.4 106.5M136 51.7L130.2 58.3L124.3 64.7L118.4 70.7L112.5 76.5L106.6 82L100.8 87.2L94.9 92.1L89 96.6L83.1 100.9L77.3 104.8L71.4 108.4L65.5 111.6L59.6 114.4L53.7 116.9M170.1 166.4L161.4 160.4L152.8 154.7L144.1 149.4L135.4 144.3L126.8 139.6L118.1 135.1L109.5 130.9L100.8 126.9L92.2 123.2L83.5 119.6L74.8 116.3L66.2 113.1L57.5 110.1L48.9 107.2M134 51.2L128.1 57.7L122.2 64L116.3 70L110.4 75.8L104.5 81.3L98.6 86.4L92.8 91.3L86.9 95.9L81 100.1L75.1 104L69.2 107.6L63.3 110.8L57.4 113.7L51.6 116.2M168.7 167L160 161L151.4 155.4L142.7 150L134 145L125.4 140.3L116.7 135.8L108 131.6L99.4 127.6L90.7 123.9L82.1 120.3L73.4 117L64.7 113.8L56.1 110.8L47.4 107.9M131.9 50.6L126 57.1L120.1 63.4L114.2 69.4L108.3 75.1L102.4 80.5L96.5 85.7L90.6 90.6L84.7 95.1L78.8 99.4L73 103.3L67.1 106.8L61.2 110.1L55.3 112.9L49.4 115.4M167.3 167.7L158.6 161.7L150 156L141.3 150.7L132.6 145.6L124 140.9L115.3 136.4L106.6 132.2L97.9 128.3L89.3 124.5L80.6 121L71.9 117.7L63.3 114.5L54.6 111.5L45.9 108.6M129.8 50.1L123.9 56.5L118 62.7L112.1 68.7L106.2 74.4L100.3 79.8L94.4 85L88.5 89.8L82.6 94.4L76.7 98.6L70.8 102.5L64.9 106.1L59 109.3L53.1 112.2L47.2 114.7M165.9 168.4L157.3 162.3L148.6 156.7L139.9 151.3L131.2 146.3L122.5 141.5L113.9 137.1L105.2 132.9L96.5 128.9L87.8 125.2L79.1 121.7L70.5 118.4L61.8 115.2L53.1 112.2L44.4 109.3M127.7 49.6L121.8 56L115.9 62.1L110 68L104.1 73.7L98.2 79.1L92.3 84.3L86.4 89.1L80.5 93.6L74.6 97.9L68.7 101.8L62.8 105.4L56.8 108.6L50.9 111.5L45 114M164.5 169L155.9 163L147.2 157.3L138.5 151.9L129.8 146.9L121.1 142.2L112.4 137.7L103.7 133.5L95.1 129.6L86.4 125.9L77.7 122.3L69 119L60.3 115.9L51.6 112.9L42.9 110M125.7 49.1L119.7 55.4L113.8 61.5L107.9 67.4L102 73.1L96.1 78.4L90.2 83.6L84.3 88.4L78.3 92.9L72.4 97.2L66.5 101.1L60.6 104.7L54.7 107.9L48.8 110.7L42.9 113.2M163.2 169.6L154.5 163.6L145.8 157.9L137.1 152.5L128.4 147.5L119.7 142.8L111 138.3L102.3 134.1L93.6 130.2L84.9 126.5L76.2 123L67.5 119.6L58.9 116.5L50.2 113.5L41.5 110.6M123.6 48.6L117.7 54.9L111.7 61L105.8 66.8L99.9 72.4L94 77.8L88 82.9L82.1 87.7L76.2 92.2L70.3 96.5L64.4 100.4L58.4 103.9L52.5 107.2L46.6 110L40.7 112.5M161.8 170.2L153.1 164.1L144.4 158.5L135.7 153.1L127 148.1L118.3 143.3L109.6 138.9L100.9 134.7L92.2 130.8L83.5 127.1L74.8 123.6L66.1 120.3L57.4 117.1L48.7 114.1L40 111.2M121.5 48.2L115.6 54.4L109.6 60.4L103.7 66.2L97.8 71.8L91.9 77.1L85.9 82.2L80 87L74.1 91.5L68.1 95.8L62.2 99.7L56.3 103.2L50.4 106.5L44.4 109.3L38.5 111.8M160.4 170.8L151.7 164.7L143 159L134.3 153.7L125.6 148.6L116.9 143.9L108.2 139.5L99.5 135.3L90.7 131.4L82 127.7L73.3 124.2L64.6 120.8L55.9 117.7L47.2 114.7L38.5 111.8" fill="none" stroke="#e21a1a" stroke-width="0.58" stroke-opacity="1"/>
<circle cx="237.8" cy="96.8" r="1.5" fill="#d8d8d8"/>
<circle cx="232" cy="93.5" r="1.5" fill="#d8d8d8"/>
<circle cx="226.2" cy="90.4" r="1.5" fill="#d8d8d8"/>
<circle cx="220.4" cy="87.2" r="1.5" fill="#d8d8d8"/>
<circle cx="214.5" cy="84.1" r="1.5" fill="#d8d8d8"/>
<circle cx="208.7" cy="81.1" r="1.5" fill="#d8d8d8"/>
<circle cx="202.9" cy="78.2" r="1.5" fill="#d8d8d8"/>
<circle cx="197.1" cy="75.4" r="1.5" fill="#d8d8d8"/>
<circle cx="191.3" cy="72.6" r="1.5" fill="#d8d8d8"/>
<circle cx="185.5" cy="69.9" r="1.5" fill="#d8d8d8"/>
<circle cx="179.7" cy="67.3" r="1.5" fill="#d8d8d8"/>
<circle cx="173.8" cy="64.9" r="1.5" fill="#d8d8d8"/>
<circle cx="168" cy="62.5" r="1.5" fill="#d8d8d8"/>
<circle cx="162.2" cy="60.3" r="1.5" fill="#d8d8d8"/>
<circle cx="156.4" cy="58.1" r="1.5" fill="#d8d8d8"/>
<circle cx="150.6" cy="56.1" r="1.5" fill="#d8d8d8"/>
<circle cx="144.8" cy="54.3" r="1.5" fill="#d8d8d8"/>
<circle cx="138.9" cy="52.5" r="1.5" fill="#d8d8d8"/>
<circle cx="133.1" cy="50.9" r="1.5" fill="#d8d8d8"/>
<circle cx="127.3" cy="49.5" r="1.5" fill="#d8d8d8"/>
<circle cx="121.5" cy="48.2" r="1.5" fill="#d8d8d8"/>
<circle cx="101.9" cy="136.4" r="1.24" fill="#d8d8d8"/>
<circle cx="104.7" cy="135.3" r="0.62" fill="#d8d8d8"/>
<circle cx="107.6" cy="134" r="0.62" fill="#d8d8d8"/>
<circle cx="110.5" cy="132.7" r="0.87" fill="#d8d8d8"/>
<circle cx="113.3" cy="131.3" r="1.18" fill="#d8d8d8"/>
<circle cx="116.2" cy="129.9" r="0.62" fill="#d8d8d8"/>
<circle cx="119" cy="128.3" r="0.62" fill="#d8d8d8"/>
<circle cx="121.9" cy="126.7" r="0.62" fill="#d8d8d8"/>
<circle cx="122.2" cy="126.5" r="1.18" fill="#d8d8d8"/>
<circle cx="124.8" cy="124.9" r="0.62" fill="#d8d8d8"/>
<circle cx="127.6" cy="123.1" r="0.62" fill="#d8d8d8"/>
<circle cx="130.5" cy="121.2" r="1.18" fill="#d8d8d8"/>
<circle cx="133.4" cy="119.2" r="0.62" fill="#d8d8d8"/>
<circle cx="136.2" cy="117.1" r="1.18" fill="#d8d8d8"/>
<circle cx="139.1" cy="114.8" r="1.18" fill="#d8d8d8"/>
<circle cx="141.9" cy="112.5" r="1.18" fill="#d8d8d8"/>
<circle cx="144.8" cy="110.1" r="1.18" fill="#d8d8d8"/>
<circle cx="147.7" cy="107.6" r="1.18" fill="#d8d8d8"/>
<circle cx="150.5" cy="105" r="1.18" fill="#d8d8d8"/>
<circle cx="153.4" cy="102.2" r="1.18" fill="#d8d8d8"/>
<circle cx="156.2" cy="99.4" r="1.18" fill="#d8d8d8"/>
<circle cx="159.1" cy="96.4" r="1.18" fill="#d8d8d8"/>
<circle cx="162" cy="93.3" r="0.6" fill="#d8d8d8"/>
<circle cx="164.8" cy="90.1" r="0.6" fill="#d8d8d8"/>
<circle cx="167.7" cy="86.8" r="0.6" fill="#d8d8d8"/>
<circle cx="170.5" cy="83.4" r="0.6" fill="#d8d8d8"/>
<circle cx="173.4" cy="79.8" r="0.6" fill="#d8d8d8"/>
<circle cx="176.3" cy="76.1" r="1.18" fill="#d8d8d8"/>
<circle cx="179.1" cy="72.3" r="1.18" fill="#d8d8d8"/>
<circle cx="59.2" cy="118.9" r="0.99" fill="#d8d8d8"/>
<circle cx="103.2" cy="91.7" r="1.18" fill="#d8d8d8"/>
<circle cx="100.2" cy="94.1" r="1.18" fill="#d8d8d8"/>
<circle cx="97.3" cy="96.4" r="1.18" fill="#d8d8d8"/>
<circle cx="94.4" cy="98.6" r="1.18" fill="#d8d8d8"/>
<circle cx="91.5" cy="100.8" r="1.18" fill="#d8d8d8"/>
<circle cx="88.5" cy="102.9" r="1.18" fill="#d8d8d8"/>
<circle cx="85.6" cy="104.9" r="1.18" fill="#d8d8d8"/>
<circle cx="82.7" cy="106.8" r="1.18" fill="#d8d8d8"/>
<circle cx="79.7" cy="108.6" r="1.18" fill="#d8d8d8"/>
<circle cx="76.8" cy="110.3" r="1.18" fill="#d8d8d8"/>
<circle cx="73.9" cy="112" r="1.18" fill="#d8d8d8"/>
<circle cx="70.9" cy="113.5" r="0.74" fill="#d8d8d8"/>
<circle cx="112.6" cy="83.4" r="0.6" fill="#d8d8d8"/>
<circle cx="132.2" cy="63.5" r="1.12" fill="#d8d8d8"/>
<circle cx="138.3" cy="56.6" r="0.81" fill="#d8d8d8"/>
<circle cx="68" cy="115" r="0.6" fill="#d8d8d8"/>
<circle cx="65.1" cy="116.4" r="0.6" fill="#d8d8d8"/>
<circle cx="62.2" cy="117.7" r="0.6" fill="#d8d8d8"/>
<circle cx="106.1" cy="89.2" r="0.6" fill="#d8d8d8"/>
<circle cx="109" cy="86.6" r="0.6" fill="#d8d8d8"/>
<circle cx="112" cy="84" r="0.6" fill="#d8d8d8"/>
<circle cx="117.8" cy="78.4" r="0.6" fill="#d8d8d8"/>
<circle cx="120.8" cy="75.5" r="0.6" fill="#d8d8d8"/>
<circle cx="123.7" cy="72.6" r="0.6" fill="#d8d8d8"/>
<circle cx="126.6" cy="69.5" r="0.6" fill="#d8d8d8"/>
<circle cx="129.5" cy="66.4" r="0.6" fill="#d8d8d8"/>
<circle cx="135.4" cy="60" r="0.6" fill="#d8d8d8"/>
<path d="M237.8 75.6L235.7 74.4L233.6 73.1L231.6 71.9L229.5 70.7L227.4 69.5L225.3 68.2L223.3 67L221.2 65.8L219.1 64.7L217 63.5L215 62.3L212.9 61.2L210.8 60L208.7 58.9L206.6 57.8L204.6 56.6L202.5 55.5L200.4 54.4L198.3 53.4L196.3 52.3L194.2 51.2L192.1 50.2L190 49.1L188 48.1L185.9 47.1L183.8 46.1L181.7 45.2L179.7 44.2L177.6 43.3L175.5 42.3L173.4 41.4L171.3 40.5L169.3 39.6L167.2 38.8L165.1 37.9L163 37.1L161 36.3L158.9 35.5L156.8 34.7L154.7 33.9L152.7 33.2L150.6 32.5L148.5 31.8L146.4 31.1L144.3 30.4L142.3 29.8L140.2 29.2L138.1 28.6L136 28L134 27.4L131.9 26.9L129.8 26.4L127.7 25.9L125.7 25.5L123.6 25L121.5 24.6L120 26L118.5 27.4L117 28.8L115.5 30.2L114 31.6L112.5 32.9L111 34.3L109.5 35.7L108 37.1L106.6 38.5L105.1 39.9L103.6 41.3L102.1 42.7L100.6 44.1L99.1 45.4L97.6 46.8L96.1 48.2L94.6 49.5L93.1 50.8L91.6 52.2L90.1 53.5L88.6 54.8L87.1 56.1L85.6 57.3L84.1 58.6L82.6 59.8L81.1 61.1L79.7 62.3L78.2 63.5L76.7 64.6L75.2 65.8L73.7 66.9L72.2 68L70.7 69.1L69.2 70.2L67.7 71.2L66.2 72.2L64.7 73.2L63.2 74.2L61.7 75.1L60.2 76L58.7 76.9L57.2 77.7L55.7 78.6L54.2 79.3L52.7 80.1L51.3 80.8L49.8 81.5L48.3 82.1L46.8 82.7L45.3 83.3L43.8 83.9L42.3 84.3L40.8 84.8L39.3 85.2L37.8 85.6L40 86.3L42.2 87L44.4 87.7L46.6 88.5L48.7 89.2L50.9 89.9L53.1 90.7L55.3 91.5L57.5 92.2L59.7 93L61.9 93.8L64.1 94.6L66.3 95.5L68.5 96.3L70.6 97.1L72.8 98L75 98.9L77.2 99.7L79.4 100.6L81.6 101.5L83.8 102.5L86 103.4L88.2 104.3L90.3 105.3L92.5 106.3L94.7 107.3L96.9 108.3L99.1 109.3L101.3 110.3L103.5 111.4L105.7 112.4L107.9 113.5L110 114.6L112.2 115.7L114.4 116.8L116.6 118L118.8 119.1L121 120.3L123.2 121.5L125.4 122.7L127.6 123.9L129.8 125.2L131.9 126.4L134.1 127.7L136.3 129L138.5 130.3L140.7 131.6L142.9 133L145.1 134.4L147.3 135.7L149.5 137.2L151.6 138.6L153.8 140L156 141.5L158.2 143L160.4 144.5L161.8 143.8L163.2 143L164.5 142.2L165.9 141.5L167.3 140.7L168.7 139.9L170.1 139.1L171.5 138.3L172.8 137.4L174.2 136.6L175.6 135.7L177 134.8L178.4 133.9L179.8 133L181.1 132.1L182.5 131.2L183.9 130.2L185.3 129.2L186.7 128.3L188 127.3L189.4 126.2L190.8 125.2L192.2 124.1L193.6 123L195 121.9L196.3 120.8L197.7 119.7L199.1 118.5L200.5 117.3L201.9 116.1L203.2 114.9L204.6 113.6L206 112.3L207.4 111L208.8 109.7L210.2 108.4L211.5 107L212.9 105.6L214.3 104.2L215.7 102.7L217.1 101.2L218.5 99.7L219.8 98.2L221.2 96.6L222.6 95.1L224 93.4L225.4 91.8L226.7 90.1L228.1 88.4L229.5 86.7L230.9 84.9L232.3 83.1L233.7 81.3L235 79.4L236.4 77.5L237.8 75.6Z" fill="none" stroke="#111" stroke-width="1.7" stroke-linejoin="miter"/>
<line x1="36.3" y1="46.6" x2="161.9" y2="68.4" stroke="#444" stroke-width="0.6"/>
<line x1="238.3" y1="35.5" x2="161.9" y2="68.4" stroke="#444" stroke-width="0.6"/>
<line x1="161.9" y1="68.4" x2="160.6" y2="197.5" stroke="#444" stroke-width="0.6"/>
<path d="M94 39.8Q80 58 61.5 65.5" fill="none" stroke="#f29a1f" stroke-width="1.7" stroke-linecap="round"/>
<path d="M58.3 66.8L63.6 61.1L66.1 67.2Z" fill="#f29a1f"/>
<path d="M157.5 27Q186 30 201.5 44.5" fill="none" stroke="#f29a1f" stroke-width="1.7" stroke-linecap="round"/>
<path d="M204 46.8L196.6 44.5L201.1 39.6Z" fill="#f29a1f"/>
<line x1="157.7" y1="201" x2="44.2" y2="174" stroke="#d3202f" stroke-width="1.2"/>
<path d="M37.2 172.9L46.1 170.4L43.5 177.4Z" fill="#d3202f"/>
<line x1="239.6" y1="159" x2="170.5" y2="195.2" stroke="#d3202f" stroke-width="1.2"/>
<path d="M165 199.2L173.9 199.2L169.7 193.2Z" fill="#d3202f"/>
<line x1="42.2" y1="169.1" x2="42.8" y2="172.5" stroke="#444" stroke-width="0.6"/>
<line x1="71" y1="176" x2="71.6" y2="179.4" stroke="#444" stroke-width="0.6"/>
<line x1="101.3" y1="183.3" x2="101.9" y2="186.7" stroke="#444" stroke-width="0.6"/>
<line x1="132.2" y1="190.7" x2="132.8" y2="194.1" stroke="#444" stroke-width="0.6"/>
<line x1="182.7" y1="185.8" x2="184.3" y2="188.4" stroke="#444" stroke-width="0.6"/>
<line x1="209.8" y1="171.4" x2="211.4" y2="174" stroke="#444" stroke-width="0.6"/>
<line x1="33.7" y1="67.6" x2="36.9" y2="67" stroke="#444" stroke-width="0.6"/>
<line x1="34.6" y1="101.1" x2="37.8" y2="100.5" stroke="#444" stroke-width="0.6"/>
<line x1="35.6" y1="133.6" x2="38.8" y2="133" stroke="#444" stroke-width="0.6"/>
<line x1="36.5" y1="166.2" x2="39.7" y2="165.6" stroke="#444" stroke-width="0.6"/>
<text x="30.5" y="70.3" font-size="9.2" text-anchor="end" fill="#2a2a2a" stroke="#2a2a2a" stroke-width="0.25">20</text>
<text x="31.4" y="103.8" font-size="9.2" text-anchor="end" fill="#2a2a2a" stroke="#2a2a2a" stroke-width="0.25">15</text>
<text x="32.4" y="136.3" font-size="9.2" text-anchor="end" fill="#2a2a2a" stroke="#2a2a2a" stroke-width="0.25">10</text>
<text x="33.3" y="168.9" font-size="9.2" text-anchor="end" fill="#2a2a2a" stroke="#2a2a2a" stroke-width="0.25">5</text>
<text x="40" y="184.5" font-size="9.2" text-anchor="middle" fill="#2a2a2a" stroke="#2a2a2a" stroke-width="0.25">40</text>
<text x="68.7" y="191.7" font-size="9.2" text-anchor="middle" fill="#2a2a2a" stroke="#2a2a2a" stroke-width="0.25">35</text>
<text x="99" y="199.3" font-size="9.2" text-anchor="middle" fill="#2a2a2a" stroke="#2a2a2a" stroke-width="0.25">30</text>
<text x="129.8" y="206.9" font-size="9.2" text-anchor="middle" fill="#2a2a2a" stroke="#2a2a2a" stroke-width="0.25">25</text>
<text x="171" y="209.3" font-size="9.2" text-anchor="middle" fill="#2a2a2a" stroke="#2a2a2a" stroke-width="0.25">28</text>
<text x="194.7" y="196.9" font-size="9.2" text-anchor="middle" fill="#2a2a2a" stroke="#2a2a2a" stroke-width="0.25">20</text>
<text x="221.8" y="180.8" font-size="9.2" text-anchor="middle" fill="#2a2a2a" stroke="#2a2a2a" stroke-width="0.25">10</text>
<text x="244" y="167" font-size="9.2" text-anchor="middle" fill="#2a2a2a" stroke="#2a2a2a" stroke-width="0.25">0</text>
<text x="16" y="116.5" font-size="10.8" text-anchor="middle" fill="#1a1a1a" stroke="#1a1a1a" stroke-width="0.25" transform="rotate(-90 16 116.5)" textLength="95.5" lengthAdjust="spacingAndGlyphs">Hemoglobin [g/dL]</text>
<text x="86.5" y="215.5" font-size="12" text-anchor="middle" fill="#1a1a1a" stroke="#1a1a1a" stroke-width="0.25" transform="rotate(13.3 86.5 215.5)" textLength="79" lengthAdjust="spacingAndGlyphs">Gestational age</text>
<text x="85.2" y="231.2" font-size="11.6" text-anchor="middle" fill="#1a1a1a" stroke="#1a1a1a" stroke-width="0.25" transform="rotate(13.3 85.2 231.2)" textLength="37.5" lengthAdjust="spacingAndGlyphs">[weeks]</text>
<text x="212.6" y="205.9" font-size="11.8" text-anchor="middle" fill="#1a1a1a" stroke="#1a1a1a" stroke-width="0.25" transform="rotate(-25.7 212.6 205.9)" textLength="68" lengthAdjust="spacingAndGlyphs">Postnatal age</text>
<text x="219.6" y="218" font-size="11.6" text-anchor="middle" fill="#1a1a1a" stroke="#1a1a1a" stroke-width="0.25" transform="rotate(-25.7 219.6 218)" textLength="28.5" lengthAdjust="spacingAndGlyphs">[days]</text>
<text x="18" y="16.6" font-size="15.5" text-anchor="start" fill="#1a1a1a" stroke="#1a1a1a" stroke-width="0.25" textLength="18" lengthAdjust="spacingAndGlyphs">(a)</text>
<rect x="306.1" y="12.50" width="205.4" height="6.66" fill="url(#g0_0)"/>
<rect x="306.1" y="18.96" width="205.4" height="6.66" fill="url(#g0_1)"/>
<rect x="306.1" y="25.41" width="205.4" height="6.66" fill="url(#g0_2)"/>
<rect x="306.1" y="31.87" width="205.4" height="6.66" fill="url(#g0_3)"/>
<rect x="306.1" y="38.33" width="205.4" height="6.66" fill="url(#g0_4)"/>
<rect x="306.1" y="44.79" width="205.4" height="6.66" fill="url(#g0_5)"/>
<rect x="306.1" y="51.24" width="205.4" height="6.66" fill="url(#g0_6)"/>
<rect x="306.1" y="57.70" width="205.4" height="6.66" fill="url(#g0_7)"/>
<rect x="306.1" y="64.16" width="205.4" height="6.66" fill="url(#g0_8)"/>
<rect x="306.1" y="70.61" width="205.4" height="6.66" fill="url(#g0_9)"/>
<rect x="306.1" y="77.07" width="205.4" height="6.66" fill="url(#g0_10)"/>
<rect x="306.1" y="83.53" width="205.4" height="6.66" fill="url(#g0_11)"/>
<rect x="306.1" y="89.99" width="205.4" height="6.66" fill="url(#g0_12)"/>
<rect x="306.1" y="96.44" width="205.4" height="6.66" fill="url(#g0_13)"/>
<rect x="306.1" y="102.90" width="205.4" height="6.66" fill="url(#g0_14)"/>
<rect x="306.1" y="109.36" width="205.4" height="6.66" fill="url(#g0_15)"/>
<rect x="306.1" y="115.81" width="205.4" height="6.66" fill="url(#g0_16)"/>
<rect x="306.1" y="122.27" width="205.4" height="6.66" fill="url(#g0_17)"/>
<rect x="306.1" y="128.73" width="205.4" height="6.66" fill="url(#g0_18)"/>
<rect x="306.1" y="135.19" width="205.4" height="6.66" fill="url(#g0_19)"/>
<rect x="306.1" y="141.64" width="205.4" height="6.66" fill="url(#g0_20)"/>
<rect x="306.1" y="148.10" width="205.4" height="6.66" fill="url(#g0_21)"/>
<rect x="306.1" y="154.56" width="205.4" height="6.66" fill="url(#g0_22)"/>
<rect x="306.1" y="161.01" width="205.4" height="6.66" fill="url(#g0_23)"/>
<rect x="306.1" y="167.47" width="205.4" height="6.66" fill="url(#g0_24)"/>
<rect x="306.1" y="173.93" width="205.4" height="6.66" fill="url(#g0_25)"/>
<rect x="306.1" y="180.39" width="205.4" height="6.66" fill="url(#g0_26)"/>
<rect x="306.1" y="186.84" width="205.4" height="6.66" fill="url(#g0_27)"/>
<path d="M306.10 12.6V193.4M309.90 12.6V193.4M313.71 12.6V193.4M317.51 12.6V193.4M321.31 12.6V193.4M325.12 12.6V193.4M328.92 12.6V193.4M332.73 12.6V193.4M336.53 12.6V193.4M340.33 12.6V193.4M344.14 12.6V193.4M347.94 12.6V193.4M351.74 12.6V193.4M355.55 12.6V193.4M359.35 12.6V193.4M363.16 12.6V193.4M366.96 12.6V193.4M370.76 12.6V193.4M374.57 12.6V193.4M378.37 12.6V193.4M382.17 12.6V193.4M385.98 12.6V193.4M389.78 12.6V193.4M393.59 12.6V193.4M397.39 12.6V193.4M401.19 12.6V193.4M405.00 12.6V193.4M408.80 12.6V193.4M412.60 12.6V193.4M416.41 12.6V193.4M420.21 12.6V193.4M424.01 12.6V193.4M427.82 12.6V193.4M431.62 12.6V193.4M435.43 12.6V193.4M439.23 12.6V193.4M443.03 12.6V193.4M446.84 12.6V193.4M450.64 12.6V193.4M454.44 12.6V193.4M458.25 12.6V193.4M462.05 12.6V193.4M465.86 12.6V193.4M469.66 12.6V193.4M473.46 12.6V193.4M477.27 12.6V193.4M481.07 12.6V193.4M484.87 12.6V193.4M488.68 12.6V193.4M492.48 12.6V193.4M496.29 12.6V193.4M500.09 12.6V193.4M503.89 12.6V193.4M507.70 12.6V193.4M511.50 12.6V193.4M306.1 12.60H511.5M306.1 15.83H511.5M306.1 19.06H511.5M306.1 22.29H511.5M306.1 25.51H511.5M306.1 28.74H511.5M306.1 31.97H511.5M306.1 35.20H511.5M306.1 38.43H511.5M306.1 41.66H511.5M306.1 44.89H511.5M306.1 48.11H511.5M306.1 51.34H511.5M306.1 54.57H511.5M306.1 57.80H511.5M306.1 61.03H511.5M306.1 64.26H511.5M306.1 67.49H511.5M306.1 70.71H511.5M306.1 73.94H511.5M306.1 77.17H511.5M306.1 80.40H511.5M306.1 83.63H511.5M306.1 86.86H511.5M306.1 90.09H511.5M306.1 93.31H511.5M306.1 96.54H511.5M306.1 99.77H511.5M306.1 103.00H511.5M306.1 106.23H511.5M306.1 109.46H511.5M306.1 112.69H511.5M306.1 115.91H511.5M306.1 119.14H511.5M306.1 122.37H511.5M306.1 125.60H511.5M306.1 128.83H511.5M306.1 132.06H511.5M306.1 135.29H511.5M306.1 138.51H511.5M306.1 141.74H511.5M306.1 144.97H511.5M306.1 148.20H511.5M306.1 151.43H511.5M306.1 154.66H511.5M306.1 157.89H511.5M306.1 161.11H511.5M306.1 164.34H511.5M306.1 167.57H511.5M306.1 170.80H511.5M306.1 174.03H511.5M306.1 177.26H511.5M306.1 180.49H511.5M306.1 183.71H511.5M306.1 186.94H511.5M306.1 190.17H511.5M306.1 193.40H511.5" fill="none" stroke="#e2241e" stroke-width="1.15" stroke-opacity="0.6"/>
<rect x="306.1" y="12.50" width="205.4" height="6.66" fill="url(#o0_0)"/>
<rect x="306.1" y="18.96" width="205.4" height="6.66" fill="url(#o0_1)"/>
<rect x="306.1" y="25.41" width="205.4" height="6.66" fill="url(#o0_2)"/>
<rect x="306.1" y="31.87" width="205.4" height="6.66" fill="url(#o0_3)"/>
<rect x="306.1" y="38.33" width="205.4" height="6.66" fill="url(#o0_4)"/>
<rect x="306.1" y="44.79" width="205.4" height="6.66" fill="url(#o0_5)"/>
<rect x="306.1" y="51.24" width="205.4" height="6.66" fill="url(#o0_6)"/>
<rect x="306.1" y="57.70" width="205.4" height="6.66" fill="url(#o0_7)"/>
<rect x="306.1" y="64.16" width="205.4" height="6.66" fill="url(#o0_8)"/>
<rect x="306.1" y="70.61" width="205.4" height="6.66" fill="url(#o0_9)"/>
<rect x="306.1" y="77.07" width="205.4" height="6.66" fill="url(#o0_10)"/>
<rect x="306.1" y="83.53" width="205.4" height="6.66" fill="url(#o0_11)"/>
<rect x="306.1" y="89.99" width="205.4" height="6.66" fill="url(#o0_12)"/>
<rect x="306.1" y="96.44" width="205.4" height="6.66" fill="url(#o0_13)"/>
<rect x="306.1" y="102.90" width="205.4" height="6.66" fill="url(#o0_14)"/>
<rect x="306.1" y="109.36" width="205.4" height="6.66" fill="url(#o0_15)"/>
<rect x="306.1" y="115.81" width="205.4" height="6.66" fill="url(#o0_16)"/>
<rect x="306.1" y="122.27" width="205.4" height="6.66" fill="url(#o0_17)"/>
<rect x="306.1" y="128.73" width="205.4" height="6.66" fill="url(#o0_18)"/>
<rect x="306.1" y="135.19" width="205.4" height="6.66" fill="url(#o0_19)"/>
<rect x="306.1" y="141.64" width="205.4" height="6.66" fill="url(#o0_20)"/>
<rect x="306.1" y="148.10" width="205.4" height="6.66" fill="url(#o0_21)"/>
<rect x="306.1" y="154.56" width="205.4" height="6.66" fill="url(#o0_22)"/>
<rect x="306.1" y="161.01" width="205.4" height="6.66" fill="url(#o0_23)"/>
<rect x="306.1" y="167.47" width="205.4" height="6.66" fill="url(#o0_24)"/>
<rect x="306.1" y="173.93" width="205.4" height="6.66" fill="url(#o0_25)"/>
<rect x="306.1" y="180.39" width="205.4" height="6.66" fill="url(#o0_26)"/>
<rect x="306.1" y="186.84" width="205.4" height="6.66" fill="url(#o0_27)"/>
<circle cx="306.1" cy="193.7" r="2.1" fill="#7d8085"/>
<circle cx="316.3" cy="193.7" r="2.1" fill="#7d8085"/>
<circle cx="326.5" cy="193.7" r="2.1" fill="#7d8085"/>
<circle cx="336.7" cy="193.7" r="2.1" fill="#7d8085"/>
<circle cx="346.9" cy="193.7" r="2.1" fill="#7d8085"/>
<circle cx="357.2" cy="193.7" r="2.1" fill="#7d8085"/>
<circle cx="367.4" cy="193.7" r="2.1" fill="#7d8085"/>
<circle cx="377.6" cy="193.7" r="2.1" fill="#7d8085"/>
<circle cx="387.8" cy="193.7" r="2.1" fill="#7d8085"/>
<circle cx="398" cy="193.7" r="2.1" fill="#7d8085"/>
<circle cx="408.2" cy="193.7" r="2.1" fill="#7d8085"/>
<circle cx="418.4" cy="193.7" r="2.1" fill="#7d8085"/>
<circle cx="428.6" cy="193.7" r="2.1" fill="#7d8085"/>
<circle cx="438.8" cy="193.7" r="2.1" fill="#7d8085"/>
<circle cx="449" cy="193.7" r="2.1" fill="#7d8085"/>
<circle cx="459.2" cy="193.7" r="2.1" fill="#7d8085"/>
<circle cx="469.5" cy="193.7" r="2.1" fill="#7d8085"/>
<circle cx="479.7" cy="193.7" r="2.1" fill="#7d8085"/>
<circle cx="489.9" cy="193.7" r="2.1" fill="#7d8085"/>
<circle cx="500.1" cy="193.7" r="2.1" fill="#7d8085"/>
<circle cx="510.3" cy="193.7" r="2.1" fill="#7d8085"/>
<line x1="403.3" y1="12.6" x2="403.3" y2="193.7" stroke="#7d8085" stroke-width="0.5" stroke-dasharray="1.5 2" stroke-opacity="0.7"/>
<circle cx="403.3" cy="12.8" r="2.0" fill="#7d8085"/>
<circle cx="403.3" cy="19.3" r="1.2" fill="#d4d6d8" fill-opacity="0.85"/>
<circle cx="403" cy="19.3" r="0.6" fill="#7d8085"/>
<circle cx="403.3" cy="25.7" r="1.2" fill="#d4d6d8" fill-opacity="0.85"/>
<circle cx="403" cy="25.7" r="0.6" fill="#7d8085"/>
<circle cx="403.3" cy="32.2" r="1.4" fill="#7d8085"/>
<circle cx="403.3" cy="38.7" r="1.9" fill="#7d8085"/>
<circle cx="403.3" cy="45.1" r="1.2" fill="#d4d6d8" fill-opacity="0.85"/>
<circle cx="403" cy="45.1" r="0.6" fill="#7d8085"/>
<circle cx="403.3" cy="51.6" r="1.2" fill="#d4d6d8" fill-opacity="0.85"/>
<circle cx="403" cy="51.6" r="0.6" fill="#7d8085"/>
<circle cx="403.3" cy="58" r="1.2" fill="#d4d6d8" fill-opacity="0.85"/>
<circle cx="403" cy="58" r="0.6" fill="#7d8085"/>
<circle cx="403.3" cy="58.7" r="1.9" fill="#7d8085"/>
<circle cx="403.3" cy="64.5" r="1.2" fill="#d4d6d8" fill-opacity="0.85"/>
<circle cx="403" cy="64.5" r="0.6" fill="#7d8085"/>
<circle cx="403.3" cy="71" r="1.2" fill="#d4d6d8" fill-opacity="0.85"/>
<circle cx="403" cy="71" r="0.6" fill="#7d8085"/>
<circle cx="403.3" cy="77.4" r="1.9" fill="#7d8085"/>
<circle cx="403.3" cy="83.9" r="1.2" fill="#d4d6d8" fill-opacity="0.85"/>
<circle cx="403" cy="83.9" r="0.6" fill="#7d8085"/>
<circle cx="403.3" cy="90.3" r="1.9" fill="#7d8085"/>
<circle cx="403.3" cy="96.8" r="1.9" fill="#7d8085"/>
<circle cx="403.3" cy="103.3" r="1.9" fill="#7d8085"/>
<circle cx="403.3" cy="109.7" r="1.9" fill="#7d8085"/>
<circle cx="403.3" cy="116.2" r="1.9" fill="#7d8085"/>
<circle cx="403.3" cy="122.6" r="1.9" fill="#7d8085"/>
<circle cx="403.3" cy="129.1" r="1.9" fill="#7d8085"/>
<circle cx="403.3" cy="135.6" r="1.9" fill="#7d8085"/>
<circle cx="403.3" cy="142" r="1.9" fill="#7d8085"/>
<circle cx="403.3" cy="148.5" r="0.6" fill="#7d8085"/>
<circle cx="403.3" cy="154.9" r="0.6" fill="#7d8085"/>
<circle cx="403.3" cy="161.4" r="0.6" fill="#7d8085"/>
<circle cx="403.3" cy="167.9" r="0.6" fill="#7d8085"/>
<circle cx="403.3" cy="174.3" r="0.6" fill="#7d8085"/>
<circle cx="403.3" cy="180.8" r="1.9" fill="#7d8085"/>
<circle cx="403.3" cy="187.2" r="1.9" fill="#7d8085"/>
<line x1="474.6" y1="12.6" x2="474.6" y2="193.7" stroke="#7d8085" stroke-width="0.5" stroke-dasharray="1.5 2" stroke-opacity="0.7"/>
<circle cx="474.6" cy="12.8" r="1.6" fill="#7d8085"/>
<circle cx="474.6" cy="109.7" r="1.9" fill="#7d8085"/>
<circle cx="474.6" cy="103.3" r="1.9" fill="#7d8085"/>
<circle cx="474.6" cy="96.8" r="1.9" fill="#7d8085"/>
<circle cx="474.6" cy="90.3" r="1.9" fill="#7d8085"/>
<circle cx="474.6" cy="83.9" r="1.9" fill="#7d8085"/>
<circle cx="474.6" cy="77.4" r="1.9" fill="#7d8085"/>
<circle cx="474.6" cy="71" r="1.9" fill="#7d8085"/>
<circle cx="474.6" cy="64.5" r="1.9" fill="#7d8085"/>
<circle cx="474.6" cy="58" r="1.9" fill="#7d8085"/>
<circle cx="474.6" cy="51.6" r="1.9" fill="#7d8085"/>
<circle cx="474.6" cy="45.1" r="1.9" fill="#7d8085"/>
<circle cx="474.6" cy="38.7" r="1.2" fill="#7d8085"/>
<circle cx="474.6" cy="130.4" r="1.2" fill="#d4d6d8" fill-opacity="0.85"/>
<circle cx="474.3" cy="130.4" r="0.6" fill="#7d8085"/>
<circle cx="474.6" cy="173.7" r="1.8" fill="#7d8085"/>
<circle cx="474.6" cy="187.2" r="1.3" fill="#7d8085"/>
<rect x="518.2" y="12.5" width="4.4" height="180.5" fill="url(#cb0)"/>
<line x1="290.5" y1="194.5" x2="290.5" y2="17" stroke="#d3202f" stroke-width="1.2"/>
<path d="M290.5 11.6L286.1 20L290.5 18.6L294.9 20Z" fill="#d3202f"/>
<line x1="306.8" y1="209.5" x2="504" y2="209.5" stroke="#d3202f" stroke-width="1.1"/>
<path d="M510.4 209.5L502.2 205.2L503.6 209.5L502.2 213.8Z" fill="#d3202f"/>
<text x="302.8" y="36.3" font-size="9.2" text-anchor="end" fill="#2a2a2a" stroke="#2a2a2a" stroke-width="0.25">25</text>
<text x="302.8" y="68.9" font-size="9.2" text-anchor="end" fill="#2a2a2a" stroke="#2a2a2a" stroke-width="0.25">20</text>
<text x="302.8" y="100.9" font-size="9.2" text-anchor="end" fill="#2a2a2a" stroke="#2a2a2a" stroke-width="0.25">15</text>
<text x="302.8" y="133" font-size="9.2" text-anchor="end" fill="#2a2a2a" stroke="#2a2a2a" stroke-width="0.25">10</text>
<text x="302.8" y="165.1" font-size="9.2" text-anchor="end" fill="#2a2a2a" stroke="#2a2a2a" stroke-width="0.25">5</text>
<text x="302.8" y="197.3" font-size="9.2" text-anchor="end" fill="#2a2a2a" stroke="#2a2a2a" stroke-width="0.25">0</text>
<text x="336.7" y="206" font-size="9.2" text-anchor="middle" fill="#2a2a2a" stroke="#2a2a2a" stroke-width="0.25">25</text>
<text x="387.8" y="206" font-size="9.2" text-anchor="middle" fill="#2a2a2a" stroke="#2a2a2a" stroke-width="0.25">30</text>
<text x="438.8" y="206" font-size="9.2" text-anchor="middle" fill="#2a2a2a" stroke="#2a2a2a" stroke-width="0.25">35</text>
<text x="489.9" y="206" font-size="9.2" text-anchor="middle" fill="#2a2a2a" stroke="#2a2a2a" stroke-width="0.25">40</text>
<text x="410" y="220.6" font-size="12" text-anchor="middle" fill="#1a1a1a" stroke="#1a1a1a" stroke-width="0.25" textLength="120" lengthAdjust="spacingAndGlyphs">Gestational age [weeks]</text>
<text x="284.9" y="116" font-size="11.5" text-anchor="middle" fill="#1a1a1a" stroke="#1a1a1a" stroke-width="0.25" transform="rotate(-90 284.9 116)" textLength="102.5" lengthAdjust="spacingAndGlyphs">Postnatal age [days]</text>
<text x="538.8" y="105" font-size="11.3" text-anchor="middle" fill="#1a1a1a" stroke="#1a1a1a" stroke-width="0.25" transform="rotate(-90 538.8 105)" textLength="100" lengthAdjust="spacingAndGlyphs">Hemoglobin [g/dL]</text>
<text x="527.4" y="17.3" font-size="9.2" text-anchor="start" fill="#2a2a2a" stroke="#2a2a2a" stroke-width="0.25">18.1</text>
<text x="527.4" y="195.2" font-size="9.2" text-anchor="start" fill="#2a2a2a" stroke="#2a2a2a" stroke-width="0.25">11.6</text>
<text x="255.4" y="14.5" font-size="15.5" text-anchor="start" fill="#1a1a1a" stroke="#1a1a1a" stroke-width="0.25" textLength="18.4" lengthAdjust="spacingAndGlyphs">(b)</text>
<line x1="36.7" y1="311.7" x2="121.5" y2="282.1" stroke="#c4c4c4" stroke-width="0.7" stroke-dasharray="0.7 2"/>
<line x1="121.5" y1="282.1" x2="238.3" y2="300.5" stroke="#c4c4c4" stroke-width="0.7" stroke-dasharray="0.7 2"/>
<line x1="37.3" y1="334" x2="121.5" y2="303.2" stroke="#c4c4c4" stroke-width="0.7" stroke-dasharray="0.7 2"/>
<line x1="121.5" y1="303.2" x2="238.3" y2="322.6" stroke="#c4c4c4" stroke-width="0.7" stroke-dasharray="0.7 2"/>
<line x1="38" y1="356.2" x2="121.5" y2="324.2" stroke="#c4c4c4" stroke-width="0.7" stroke-dasharray="0.7 2"/>
<line x1="121.5" y1="324.2" x2="238.3" y2="344.6" stroke="#c4c4c4" stroke-width="0.7" stroke-dasharray="0.7 2"/>
<line x1="38.6" y1="378" x2="121.5" y2="344.8" stroke="#c4c4c4" stroke-width="0.7" stroke-dasharray="0.7 2"/>
<line x1="121.5" y1="344.8" x2="238.2" y2="366.2" stroke="#c4c4c4" stroke-width="0.7" stroke-dasharray="0.7 2"/>
<line x1="39.2" y1="399.2" x2="121.5" y2="364.8" stroke="#c4c4c4" stroke-width="0.7" stroke-dasharray="0.7 2"/>
<line x1="121.5" y1="364.8" x2="238.2" y2="387.3" stroke="#c4c4c4" stroke-width="0.7" stroke-dasharray="0.7 2"/>
<line x1="51.9" y1="422.9" x2="133.2" y2="386.8" stroke="#c4c4c4" stroke-width="0.7" stroke-dasharray="0.7 2"/>
<line x1="133.2" y1="386.8" x2="133.2" y2="271" stroke="#c4c4c4" stroke-width="0.7" stroke-dasharray="0.7 2"/>
<line x1="82.1" y1="430.1" x2="162.3" y2="392.7" stroke="#c4c4c4" stroke-width="0.7" stroke-dasharray="0.7 2"/>
<line x1="162.3" y1="392.7" x2="162.4" y2="275.4" stroke="#c4c4c4" stroke-width="0.7" stroke-dasharray="0.7 2"/>
<line x1="112.3" y1="437.4" x2="191.5" y2="398.5" stroke="#c4c4c4" stroke-width="0.7" stroke-dasharray="0.7 2"/>
<line x1="191.5" y1="398.5" x2="191.6" y2="279.9" stroke="#c4c4c4" stroke-width="0.7" stroke-dasharray="0.7 2"/>
<line x1="142.5" y1="444.6" x2="220.7" y2="404.4" stroke="#c4c4c4" stroke-width="0.7" stroke-dasharray="0.7 2"/>
<line x1="220.7" y1="404.4" x2="220.8" y2="284.3" stroke="#c4c4c4" stroke-width="0.7" stroke-dasharray="0.7 2"/>
<line x1="183.1" y1="437.1" x2="63.5" y2="409.7" stroke="#c4c4c4" stroke-width="0.7" stroke-dasharray="0.7 2"/>
<line x1="63.5" y1="409.7" x2="61" y2="289.7" stroke="#c4c4c4" stroke-width="0.7" stroke-dasharray="0.7 2"/>
<line x1="210.3" y1="422.7" x2="92.1" y2="397.3" stroke="#c4c4c4" stroke-width="0.7" stroke-dasharray="0.7 2"/>
<line x1="92.1" y1="397.3" x2="90.8" y2="279.6" stroke="#c4c4c4" stroke-width="0.7" stroke-dasharray="0.7 2"/>
<line x1="36.3" y1="298.1" x2="121.5" y2="269.2" stroke="#444" stroke-width="0.6"/>
<line x1="121.5" y1="269.2" x2="238.3" y2="287" stroke="#444" stroke-width="0.6"/>
<line x1="121.5" y1="269.2" x2="121.5" y2="384.5" stroke="#444" stroke-width="0.6"/>
<line x1="39.8" y1="420" x2="121.5" y2="384.5" stroke="#444" stroke-width="0.6"/>
<line x1="121.5" y1="384.5" x2="238.2" y2="407.9" stroke="#444" stroke-width="0.6"/>
<line x1="36.3" y1="298.1" x2="39.8" y2="420" stroke="#444" stroke-width="0.6"/>
<line x1="238.3" y1="287" x2="238.2" y2="407.9" stroke="#444" stroke-width="0.6"/>
<line x1="39.8" y1="420" x2="160.6" y2="449" stroke="#444" stroke-width="0.6"/>
<line x1="160.6" y1="449" x2="238.2" y2="407.9" stroke="#444" stroke-width="0.6"/>
<path d="M237.6 367.7L235.5 366.4L233.5 365.1L231.4 363.8L229.3 362.6L227.3 361.3L225.2 360.1L223.1 358.8L221.1 357.6L219 356.4L217 355.2L214.9 354L212.8 352.8L210.8 351.7L208.7 350.5L206.6 349.4L204.6 348.2L202.5 347.1L200.4 346L198.4 344.9L196.3 343.8L194.2 342.8L192.2 341.7L190.1 340.7L188.1 339.7L186 338.7L183.9 337.7L181.9 336.8L179.8 335.8L177.7 334.9L175.7 334L173.6 333.1L171.5 332.2L169.5 331.3L167.4 330.5L165.3 329.7L163.3 328.9L161.2 328.1L159.2 327.3L157.1 326.6L155 325.9L153 325.2L150.9 324.5L148.8 323.9L146.8 323.2L144.7 322.6L142.6 322L140.6 321.5L138.5 320.9L136.4 320.4L134.4 319.9L132.3 319.5L130.3 319L128.2 318.6L126.1 318.2L124.1 317.8L122 317.5L120.5 318.9L119 320.4L117.5 321.8L116 323.3L114.5 324.7L113.1 326.1L111.6 327.5L110.1 328.9L108.6 330.3L107.1 331.7L105.6 333.1L104.1 334.5L102.6 335.8L101.1 337.2L99.6 338.6L98.1 339.9L96.7 341.2L95.2 342.5L93.7 343.9L92.2 345.2L90.7 346.4L89.2 347.7L87.7 349L86.2 350.2L84.7 351.5L83.2 352.7L81.7 353.9L80.2 355.1L78.8 356.3L77.3 357.4L75.8 358.6L74.3 359.7L72.8 360.8L71.3 361.9L69.8 363L68.3 364.1L66.8 365.1L65.3 366.2L63.8 367.2L62.4 368.2L60.9 369.2L59.4 370.1L57.9 371L56.4 372L54.9 372.9L53.4 373.7L51.9 374.6L50.4 375.4L48.9 376.2L47.4 377L46 377.8L44.5 378.6L43 379.3L41.5 380L40 380.6L38.5 381.3L40.7 382.4L42.9 383.4L45 384.5L47.2 385.5L49.4 386.5L51.6 387.6L53.8 388.6L55.9 389.7L58.1 390.7L60.3 391.7L62.5 392.7L64.7 393.8L66.8 394.8L69 395.8L71.2 396.8L73.4 397.9L75.6 398.9L77.7 399.9L79.9 401L82.1 402L84.3 403L86.5 404.1L88.6 405.1L90.8 406.2L93 407.3L95.2 408.3L97.4 409.4L99.5 410.5L101.7 411.6L103.9 412.7L106.1 413.8L108.3 414.9L110.5 416L112.6 417.2L114.8 418.3L117 419.5L119.2 420.6L121.4 421.8L123.5 423L125.7 424.2L127.9 425.5L130.1 426.7L132.3 427.9L134.4 429.2L136.6 430.5L138.8 431.8L141 433.1L143.2 434.4L145.3 435.8L147.5 437.2L149.7 438.6L151.9 440L154.1 441.4L156.2 442.8L158.4 444.3L160.6 445.8L162 445L163.3 444.2L164.7 443.3L166.1 442.4L167.5 441.5L168.8 440.6L170.2 439.7L171.6 438.7L173 437.7L174.3 436.7L175.7 435.7L177.1 434.6L178.5 433.5L179.8 432.4L181.2 431.3L182.6 430.2L184 429L185.3 427.8L186.7 426.6L188.1 425.4L189.5 424.1L190.8 422.9L192.2 421.6L193.6 420.3L195 418.9L196.3 417.6L197.7 416.2L199.1 414.8L200.5 413.4L201.8 411.9L203.2 410.5L204.6 409L206 407.5L207.3 406L208.7 404.5L210.1 402.9L211.5 401.3L212.8 399.7L214.2 398.1L215.6 396.5L217 394.8L218.3 393.2L219.7 391.5L221.1 389.7L222.5 388L223.8 386.3L225.2 384.5L226.6 382.7L228 380.9L229.3 379.1L230.7 377.2L232.1 375.3L233.5 373.5L234.8 371.6L236.2 369.6L237.6 367.7Z" fill="none" stroke="#111" stroke-width="1.7" stroke-linejoin="miter"/>
<g stroke-width="0.6" stroke-linejoin="round">
<path d="M238.5 343.7L234.3 341.3L231.5 345.6L235.7 348Z" fill="#d2b096" stroke="#d2b096"/>
<path d="M235.7 348L231.5 345.6L228.7 349.8L232.9 352.2Z" fill="#d1ab94" stroke="#d1ab94"/>
<path d="M232.9 352.2L228.7 349.8L225.9 353.8L230.1 356.3Z" fill="#cfa792" stroke="#cfa792"/>
<path d="M230.1 356.3L225.9 353.8L223.1 357.8L227.3 360.3Z" fill="#cda18f" stroke="#cda18f"/>
<path d="M227.3 360.3L223.1 357.8L220.3 361.6L224.5 364.1Z" fill="#cb9c8c" stroke="#cb9c8c"/>
<path d="M224.5 364.1L220.3 361.6L217.5 365.2L221.7 367.9Z" fill="#c9968a" stroke="#c9968a"/>
<path d="M221.7 367.9L217.5 365.2L214.7 368.8L218.9 371.5Z" fill="#c79087" stroke="#c79087"/>
<path d="M218.9 371.5L214.7 368.8L211.9 372.2L216.2 374.9Z" fill="#c58983" stroke="#c58983"/>
<path d="M216.2 374.9L211.9 372.2L209.1 375.5L213.4 378.3Z" fill="#c38180" stroke="#c38180"/>
<path d="M213.4 378.3L209.1 375.5L206.3 378.7L210.6 381.6Z" fill="#bf7d7d" stroke="#bf7d7d"/>
<path d="M210.6 381.6L206.3 378.7L203.5 381.8L207.8 384.7Z" fill="#b97979" stroke="#b97979"/>
<path d="M207.8 384.7L203.5 381.8L200.7 384.8L205 387.7Z" fill="#b37575" stroke="#b37575"/>
<path d="M205 387.7L200.7 384.8L197.9 387.6L202.2 390.6Z" fill="#ad7171" stroke="#ad7171"/>
<path d="M202.2 390.6L197.9 387.6L195.1 390.4L199.4 393.4Z" fill="#a76d6d" stroke="#a76d6d"/>
<path d="M199.4 393.4L195.1 390.4L192.3 393L196.6 396.1Z" fill="#a06969" stroke="#a06969"/>
<path d="M196.6 396.1L192.3 393L189.5 395.5L193.8 398.7Z" fill="#996464" stroke="#996464"/>
<path d="M193.8 398.7L189.5 395.5L186.7 397.9L191 401.1Z" fill="#915f5f" stroke="#915f5f"/>
<path d="M191 401.1L186.7 397.9L183.9 400.1L188.2 403.4Z" fill="#895a5a" stroke="#895a5a"/>
<path d="M188.2 403.4L183.9 400.1L181.1 402.3L185.4 405.6Z" fill="#815454" stroke="#815454"/>
<path d="M185.4 405.6L181.1 402.3L178.3 404.3L182.6 407.7Z" fill="#774e4e" stroke="#774e4e"/>
<path d="M182.6 407.7L178.3 404.3L175.5 406.3L179.9 409.7Z" fill="#6d4747" stroke="#6d4747"/>
<path d="M179.9 409.7L175.5 406.3L172.7 408.1L177.1 411.6Z" fill="#624040" stroke="#624040"/>
<path d="M177.1 411.6L172.7 408.1L169.9 409.8L174.3 413.4Z" fill="#553838" stroke="#553838"/>
<path d="M174.3 413.4L169.9 409.8L167.1 411.4L171.5 415Z" fill="#462e2e" stroke="#462e2e"/>
<path d="M171.5 415L167.1 411.4L164.3 412.9L168.7 416.6Z" fill="#322121" stroke="#322121"/>
<path d="M168.7 416.6L164.3 412.9L161.5 414.3L165.9 418Z" fill="#0b0707" stroke="#0b0707"/>
<path d="M165.9 418L161.5 414.3L158.7 415.6L163.1 419.3Z" fill="#000000" stroke="#000000"/>
<path d="M163.1 419.3L158.7 415.6L156 416.8L160.3 420.5Z" fill="#000000" stroke="#000000"/>
<path d="M234.3 341.3L230.1 339L227.3 343.3L231.5 345.6Z" fill="#d4b498" stroke="#d4b498"/>
<path d="M231.5 345.6L227.3 343.3L224.5 347.4L228.7 349.8Z" fill="#d2b096" stroke="#d2b096"/>
<path d="M228.7 349.8L224.5 347.4L221.7 351.4L225.9 353.8Z" fill="#d1ac94" stroke="#d1ac94"/>
<path d="M225.9 353.8L221.7 351.4L218.9 355.3L223.1 357.8Z" fill="#cfa792" stroke="#cfa792"/>
<path d="M223.1 357.8L218.9 355.3L216.1 359.1L220.3 361.6Z" fill="#cda28f" stroke="#cda28f"/>
<path d="M220.3 361.6L216.1 359.1L213.3 362.7L217.5 365.2Z" fill="#cc9c8d" stroke="#cc9c8d"/>
<path d="M217.5 365.2L213.3 362.7L210.5 366.2L214.7 368.8Z" fill="#ca968a" stroke="#ca968a"/>
<path d="M214.7 368.8L210.5 366.2L207.7 369.6L211.9 372.2Z" fill="#c89087" stroke="#c89087"/>
<path d="M211.9 372.2L207.7 369.6L204.9 372.8L209.1 375.5Z" fill="#c68984" stroke="#c68984"/>
<path d="M209.1 375.5L204.9 372.8L202.1 376L206.3 378.7Z" fill="#c38281" stroke="#c38281"/>
<path d="M206.3 378.7L202.1 376L199.3 379L203.5 381.8Z" fill="#bf7d7d" stroke="#bf7d7d"/>
<path d="M203.5 381.8L199.3 379L196.5 381.9L200.7 384.8Z" fill="#ba7a7a" stroke="#ba7a7a"/>
<path d="M200.7 384.8L196.5 381.9L193.7 384.7L197.9 387.6Z" fill="#b47676" stroke="#b47676"/>
<path d="M197.9 387.6L193.7 384.7L190.9 387.4L195.1 390.4Z" fill="#ae7272" stroke="#ae7272"/>
<path d="M195.1 390.4L190.9 387.4L188.1 389.9L192.3 393Z" fill="#a86e6e" stroke="#a86e6e"/>
<path d="M192.3 393L188.1 389.9L185.3 392.4L189.5 395.5Z" fill="#a16a6a" stroke="#a16a6a"/>
<path d="M189.5 395.5L185.3 392.4L182.5 394.7L186.7 397.9Z" fill="#9a6565" stroke="#9a6565"/>
<path d="M186.7 397.9L182.5 394.7L179.7 396.9L183.9 400.1Z" fill="#936060" stroke="#936060"/>
<path d="M183.9 400.1L179.7 396.9L176.8 399L181.1 402.3Z" fill="#8b5b5b" stroke="#8b5b5b"/>
<path d="M181.1 402.3L176.8 399L174 401L178.3 404.3Z" fill="#835656" stroke="#835656"/>
<path d="M178.3 404.3L174 401L171.2 402.9L175.5 406.3Z" fill="#7a5050" stroke="#7a5050"/>
<path d="M175.5 406.3L171.2 402.9L168.4 404.7L172.7 408.1Z" fill="#704949" stroke="#704949"/>
<path d="M172.7 408.1L168.4 404.7L165.6 406.4L169.9 409.8Z" fill="#654242" stroke="#654242"/>
<path d="M169.9 409.8L165.6 406.4L162.8 408L167.1 411.4Z" fill="#593a3a" stroke="#593a3a"/>
<path d="M167.1 411.4L162.8 408L160 409.4L164.3 412.9Z" fill="#4b3131" stroke="#4b3131"/>
<path d="M164.3 412.9L160 409.4L157.2 410.8L161.5 414.3Z" fill="#3a2626" stroke="#3a2626"/>
<path d="M161.5 414.3L157.2 410.8L154.4 412.1L158.7 415.6Z" fill="#211616" stroke="#211616"/>
<path d="M158.7 415.6L154.4 412.1L151.6 413.2L156 416.8Z" fill="#000000" stroke="#000000"/>
<path d="M230.1 339L226 336.7L223.2 341L227.3 343.3Z" fill="#d5b99b" stroke="#d5b99b"/>
<path d="M227.3 343.3L223.2 341L220.3 345.1L224.5 347.4Z" fill="#d4b599" stroke="#d4b599"/>
<path d="M224.5 347.4L220.3 345.1L217.5 349L221.7 351.4Z" fill="#d2b096" stroke="#d2b096"/>
<path d="M221.7 351.4L217.5 349L214.7 352.9L218.9 355.3Z" fill="#d1ac94" stroke="#d1ac94"/>
<path d="M218.9 355.3L214.7 352.9L211.9 356.6L216.1 359.1Z" fill="#cfa792" stroke="#cfa792"/>
<path d="M216.1 359.1L211.9 356.6L209.1 360.2L213.3 362.7Z" fill="#cda28f" stroke="#cda28f"/>
<path d="M213.3 362.7L209.1 360.2L206.3 363.7L210.5 366.2Z" fill="#cc9d8d" stroke="#cc9d8d"/>
<path d="M210.5 366.2L206.3 363.7L203.5 367L207.7 369.6Z" fill="#ca978a" stroke="#ca978a"/>
<path d="M207.7 369.6L203.5 367L200.7 370.2L204.9 372.8Z" fill="#c89187" stroke="#c89187"/>
<path d="M204.9 372.8L200.7 370.2L197.9 373.3L202.1 376Z" fill="#c68a84" stroke="#c68a84"/>
<path d="M202.1 376L197.9 373.3L195 376.3L199.3 379Z" fill="#c48381" stroke="#c48381"/>
<path d="M199.3 379L195 376.3L192.2 379.1L196.5 381.9Z" fill="#c07e7e" stroke="#c07e7e"/>
<path d="M196.5 381.9L192.2 379.1L189.4 381.9L193.7 384.7Z" fill="#ba7a7a" stroke="#ba7a7a"/>
<path d="M193.7 384.7L189.4 381.9L186.6 384.5L190.9 387.4Z" fill="#b57676" stroke="#b57676"/>
<path d="M190.9 387.4L186.6 384.5L183.8 387L188.1 389.9Z" fill="#af7373" stroke="#af7373"/>
<path d="M188.1 389.9L183.8 387L181 389.4L185.3 392.4Z" fill="#a96f6f" stroke="#a96f6f"/>
<path d="M185.3 392.4L181 389.4L178.2 391.7L182.5 394.7Z" fill="#a36a6a" stroke="#a36a6a"/>
<path d="M182.5 394.7L178.2 391.7L175.4 393.9L179.7 396.9Z" fill="#9c6666" stroke="#9c6666"/>
<path d="M179.7 396.9L175.4 393.9L172.6 395.9L176.8 399Z" fill="#956161" stroke="#956161"/>
<path d="M176.8 399L172.6 395.9L169.7 397.9L174 401Z" fill="#8d5c5c" stroke="#8d5c5c"/>
<path d="M174 401L169.7 397.9L166.9 399.7L171.2 402.9Z" fill="#855757" stroke="#855757"/>
<path d="M171.2 402.9L166.9 399.7L164.1 401.5L168.4 404.7Z" fill="#7c5151" stroke="#7c5151"/>
<path d="M168.4 404.7L164.1 401.5L161.3 403.1L165.6 406.4Z" fill="#734b4b" stroke="#734b4b"/>
<path d="M165.6 406.4L161.3 403.1L158.5 404.7L162.8 408Z" fill="#694545" stroke="#694545"/>
<path d="M162.8 408L158.5 404.7L155.7 406.1L160 409.4Z" fill="#5e3d3d" stroke="#5e3d3d"/>
<path d="M160 409.4L155.7 406.1L152.9 407.4L157.2 410.8Z" fill="#513535" stroke="#513535"/>
<path d="M157.2 410.8L152.9 407.4L150.1 408.7L154.4 412.1Z" fill="#422b2b" stroke="#422b2b"/>
<path d="M154.4 412.1L150.1 408.7L147.2 409.8L151.6 413.2Z" fill="#2e1e1e" stroke="#2e1e1e"/>
<path d="M226 336.7L221.8 334.5L219 338.7L223.2 341Z" fill="#d7bd9c" stroke="#d7bd9c"/>
<path d="M223.2 341L219 338.7L216.2 342.8L220.3 345.1Z" fill="#d6b99b" stroke="#d6b99b"/>
<path d="M220.3 345.1L216.2 342.8L213.3 346.7L217.5 349Z" fill="#d4b599" stroke="#d4b599"/>
<path d="M217.5 349L213.3 346.7L210.5 350.5L214.7 352.9Z" fill="#d3b197" stroke="#d3b197"/>
<path d="M214.7 352.9L210.5 350.5L207.7 354.2L211.9 356.6Z" fill="#d1ac94" stroke="#d1ac94"/>
<path d="M211.9 356.6L207.7 354.2L204.9 357.8L209.1 360.2Z" fill="#cfa892" stroke="#cfa892"/>
<path d="M209.1 360.2L204.9 357.8L202.1 361.2L206.3 363.7Z" fill="#cea290" stroke="#cea290"/>
<path d="M206.3 363.7L202.1 361.2L199.2 364.5L203.5 367Z" fill="#cc9d8d" stroke="#cc9d8d"/>
<path d="M203.5 367L199.2 364.5L196.4 367.7L200.7 370.2Z" fill="#ca978a" stroke="#ca978a"/>
<path d="M200.7 370.2L196.4 367.7L193.6 370.7L197.9 373.3Z" fill="#c89187" stroke="#c89187"/>
<path d="M197.9 373.3L193.6 370.7L190.8 373.6L195 376.3Z" fill="#c68b84" stroke="#c68b84"/>
<path d="M195 376.3L190.8 373.6L188 376.4L192.2 379.1Z" fill="#c48481" stroke="#c48481"/>
<path d="M192.2 379.1L188 376.4L185.2 379.1L189.4 381.9Z" fill="#c07e7e" stroke="#c07e7e"/>
<path d="M189.4 381.9L185.2 379.1L182.3 381.7L186.6 384.5Z" fill="#bb7b7b" stroke="#bb7b7b"/>
<path d="M186.6 384.5L182.3 381.7L179.5 384.2L183.8 387Z" fill="#b67777" stroke="#b67777"/>
<path d="M183.8 387L179.5 384.2L176.7 386.5L181 389.4Z" fill="#b07373" stroke="#b07373"/>
<path d="M181 389.4L176.7 386.5L173.9 388.8L178.2 391.7Z" fill="#aa6f6f" stroke="#aa6f6f"/>
<path d="M178.2 391.7L173.9 388.8L171.1 390.9L175.4 393.9Z" fill="#a46b6b" stroke="#a46b6b"/>
<path d="M175.4 393.9L171.1 390.9L168.3 392.9L172.6 395.9Z" fill="#9d6767" stroke="#9d6767"/>
<path d="M172.6 395.9L168.3 392.9L165.4 394.8L169.7 397.9Z" fill="#966262" stroke="#966262"/>
<path d="M169.7 397.9L165.4 394.8L162.6 396.6L166.9 399.7Z" fill="#8f5e5e" stroke="#8f5e5e"/>
<path d="M166.9 399.7L162.6 396.6L159.8 398.3L164.1 401.5Z" fill="#875959" stroke="#875959"/>
<path d="M164.1 401.5L159.8 398.3L157 399.9L161.3 403.1Z" fill="#7f5353" stroke="#7f5353"/>
<path d="M161.3 403.1L157 399.9L154.2 401.5L158.5 404.7Z" fill="#764d4d" stroke="#764d4d"/>
<path d="M158.5 404.7L154.2 401.5L151.4 402.9L155.7 406.1Z" fill="#6d4747" stroke="#6d4747"/>
<path d="M155.7 406.1L151.4 402.9L148.5 404.2L152.9 407.4Z" fill="#624040" stroke="#624040"/>
<path d="M152.9 407.4L148.5 404.2L145.7 405.4L150.1 408.7Z" fill="#573939" stroke="#573939"/>
<path d="M150.1 408.7L145.7 405.4L142.9 406.6L147.2 409.8Z" fill="#493030" stroke="#493030"/>
<path d="M221.8 334.5L217.6 332.3L214.8 336.5L219 338.7Z" fill="#d9c19d" stroke="#d9c19d"/>
<path d="M219 338.7L214.8 336.5L212 340.5L216.2 342.8Z" fill="#d8bd9c" stroke="#d8bd9c"/>
<path d="M216.2 342.8L212 340.5L209.1 344.5L213.3 346.7Z" fill="#d6b99b" stroke="#d6b99b"/>
<path d="M213.3 346.7L209.1 344.5L206.3 348.2L210.5 350.5Z" fill="#d4b599" stroke="#d4b599"/>
<path d="M210.5 350.5L206.3 348.2L203.5 351.9L207.7 354.2Z" fill="#d3b197" stroke="#d3b197"/>
<path d="M207.7 354.2L203.5 351.9L200.7 355.4L204.9 357.8Z" fill="#d1ad95" stroke="#d1ad95"/>
<path d="M204.9 357.8L200.7 355.4L197.8 358.8L202.1 361.2Z" fill="#cfa892" stroke="#cfa892"/>
<path d="M202.1 361.2L197.8 358.8L195 362.1L199.2 364.5Z" fill="#cea390" stroke="#cea390"/>
<path d="M199.2 364.5L195 362.1L192.2 365.2L196.4 367.7Z" fill="#cc9e8d" stroke="#cc9e8d"/>
<path d="M196.4 367.7L192.2 365.2L189.4 368.2L193.6 370.7Z" fill="#ca988a" stroke="#ca988a"/>
<path d="M193.6 370.7L189.4 368.2L186.5 371.1L190.8 373.6Z" fill="#c89288" stroke="#c89288"/>
<path d="M190.8 373.6L186.5 371.1L183.7 373.8L188 376.4Z" fill="#c68b85" stroke="#c68b85"/>
<path d="M188 376.4L183.7 373.8L180.9 376.5L185.2 379.1Z" fill="#c48482" stroke="#c48482"/>
<path d="M185.2 379.1L180.9 376.5L178.1 379L182.3 381.7Z" fill="#c17e7e" stroke="#c17e7e"/>
<path d="M182.3 381.7L178.1 379L175.3 381.4L179.5 384.2Z" fill="#bc7b7b" stroke="#bc7b7b"/>
<path d="M179.5 384.2L175.3 381.4L172.4 383.7L176.7 386.5Z" fill="#b77878" stroke="#b77878"/>
<path d="M176.7 386.5L172.4 383.7L169.6 385.9L173.9 388.8Z" fill="#b17474" stroke="#b17474"/>
<path d="M173.9 388.8L169.6 385.9L166.8 388L171.1 390.9Z" fill="#ab7070" stroke="#ab7070"/>
<path d="M171.1 390.9L166.8 388L164 390L168.3 392.9Z" fill="#a56c6c" stroke="#a56c6c"/>
<path d="M168.3 392.9L164 390L161.1 391.9L165.4 394.8Z" fill="#9f6868" stroke="#9f6868"/>
<path d="M165.4 394.8L161.1 391.9L158.3 393.6L162.6 396.6Z" fill="#986464" stroke="#986464"/>
<path d="M162.6 396.6L158.3 393.6L155.5 395.3L159.8 398.3Z" fill="#915f5f" stroke="#915f5f"/>
<path d="M159.8 398.3L155.5 395.3L152.7 396.9L157 399.9Z" fill="#8a5a5a" stroke="#8a5a5a"/>
<path d="M157 399.9L152.7 396.9L149.8 398.4L154.2 401.5Z" fill="#825555" stroke="#825555"/>
<path d="M154.2 401.5L149.8 398.4L147 399.8L151.4 402.9Z" fill="#7a5050" stroke="#7a5050"/>
<path d="M151.4 402.9L147 399.8L144.2 401.1L148.5 404.2Z" fill="#714a4a" stroke="#714a4a"/>
<path d="M148.5 404.2L144.2 401.1L141.4 402.3L145.7 405.4Z" fill="#674343" stroke="#674343"/>
<path d="M145.7 405.4L141.4 402.3L138.6 403.4L142.9 406.6Z" fill="#5c3c3c" stroke="#5c3c3c"/>
<path d="M217.6 332.3L213.4 330.1L210.6 334.3L214.8 336.5Z" fill="#dbc49e" stroke="#dbc49e"/>
<path d="M214.8 336.5L210.6 334.3L207.8 338.3L212 340.5Z" fill="#d9c19d" stroke="#d9c19d"/>
<path d="M212 340.5L207.8 338.3L204.9 342.2L209.1 344.5Z" fill="#d8bd9c" stroke="#d8bd9c"/>
<path d="M209.1 344.5L204.9 342.2L202.1 346L206.3 348.2Z" fill="#d6ba9b" stroke="#d6ba9b"/>
<path d="M206.3 348.2L202.1 346L199.3 349.6L203.5 351.9Z" fill="#d4b699" stroke="#d4b699"/>
<path d="M203.5 351.9L199.3 349.6L196.5 353.1L200.7 355.4Z" fill="#d3b197" stroke="#d3b197"/>
<path d="M200.7 355.4L196.5 353.1L193.6 356.5L197.8 358.8Z" fill="#d1ad95" stroke="#d1ad95"/>
<path d="M197.8 358.8L193.6 356.5L190.8 359.7L195 362.1Z" fill="#d0a892" stroke="#d0a892"/>
<path d="M195 362.1L190.8 359.7L188 362.8L192.2 365.2Z" fill="#cea390" stroke="#cea390"/>
<path d="M192.2 365.2L188 362.8L185.1 365.8L189.4 368.2Z" fill="#cc9e8d" stroke="#cc9e8d"/>
<path d="M189.4 368.2L185.1 365.8L182.3 368.6L186.5 371.1Z" fill="#ca998b" stroke="#ca998b"/>
<path d="M186.5 371.1L182.3 368.6L179.5 371.3L183.7 373.8Z" fill="#c89388" stroke="#c89388"/>
<path d="M183.7 373.8L179.5 371.3L176.6 373.9L180.9 376.5Z" fill="#c68c85" stroke="#c68c85"/>
<path d="M180.9 376.5L176.6 373.9L173.8 376.4L178.1 379Z" fill="#c48682" stroke="#c48682"/>
<path d="M178.1 379L173.8 376.4L171 378.8L175.3 381.4Z" fill="#c27f7f" stroke="#c27f7f"/>
<path d="M175.3 381.4L171 378.8L168.2 381L172.4 383.7Z" fill="#bd7c7c" stroke="#bd7c7c"/>
<path d="M172.4 383.7L168.2 381L165.3 383.2L169.6 385.9Z" fill="#b87878" stroke="#b87878"/>
<path d="M169.6 385.9L165.3 383.2L162.5 385.2L166.8 388Z" fill="#b27575" stroke="#b27575"/>
<path d="M166.8 388L162.5 385.2L159.7 387.2L164 390Z" fill="#ad7171" stroke="#ad7171"/>
<path d="M164 390L159.7 387.2L156.8 389L161.1 391.9Z" fill="#a76d6d" stroke="#a76d6d"/>
<path d="M161.1 391.9L156.8 389L154 390.8L158.3 393.6Z" fill="#a16969" stroke="#a16969"/>
<path d="M158.3 393.6L154 390.8L151.2 392.4L155.5 395.3Z" fill="#9a6565" stroke="#9a6565"/>
<path d="M155.5 395.3L151.2 392.4L148.3 394L152.7 396.9Z" fill="#936161" stroke="#936161"/>
<path d="M152.7 396.9L148.3 394L145.5 395.4L149.8 398.4Z" fill="#8c5c5c" stroke="#8c5c5c"/>
<path d="M149.8 398.4L145.5 395.4L142.7 396.8L147 399.8Z" fill="#855757" stroke="#855757"/>
<path d="M147 399.8L142.7 396.8L139.9 398.1L144.2 401.1Z" fill="#7d5252" stroke="#7d5252"/>
<path d="M144.2 401.1L139.9 398.1L137 399.3L141.4 402.3Z" fill="#744c4c" stroke="#744c4c"/>
<path d="M141.4 402.3L137 399.3L134.2 400.4L138.6 403.4Z" fill="#6b4646" stroke="#6b4646"/>
<path d="M213.4 330.1L209.2 328L206.4 332.2L210.6 334.3Z" fill="#dcc89f" stroke="#dcc89f"/>
<path d="M210.6 334.3L206.4 332.2L203.6 336.2L207.8 338.3Z" fill="#dbc59e" stroke="#dbc59e"/>
<path d="M207.8 338.3L203.6 336.2L200.7 340.1L204.9 342.2Z" fill="#d9c19d" stroke="#d9c19d"/>
<path d="M204.9 342.2L200.7 340.1L197.9 343.8L202.1 346Z" fill="#d8be9c" stroke="#d8be9c"/>
<path d="M202.1 346L197.9 343.8L195.1 347.4L199.3 349.6Z" fill="#d6ba9b" stroke="#d6ba9b"/>
<path d="M199.3 349.6L195.1 347.4L192.2 350.9L196.5 353.1Z" fill="#d5b699" stroke="#d5b699"/>
<path d="M196.5 353.1L192.2 350.9L189.4 354.2L193.6 356.5Z" fill="#d3b297" stroke="#d3b297"/>
<path d="M193.6 356.5L189.4 354.2L186.6 357.4L190.8 359.7Z" fill="#d1ae95" stroke="#d1ae95"/>
<path d="M190.8 359.7L186.6 357.4L183.7 360.5L188 362.8Z" fill="#d0a993" stroke="#d0a993"/>
<path d="M188 362.8L183.7 360.5L180.9 363.4L185.1 365.8Z" fill="#cea490" stroke="#cea490"/>
<path d="M185.1 365.8L180.9 363.4L178.1 366.2L182.3 368.6Z" fill="#cc9f8e" stroke="#cc9f8e"/>
<path d="M182.3 368.6L178.1 366.2L175.2 368.9L179.5 371.3Z" fill="#cb998b" stroke="#cb998b"/>
<path d="M179.5 371.3L175.2 368.9L172.4 371.4L176.6 373.9Z" fill="#c99388" stroke="#c99388"/>
<path d="M176.6 373.9L172.4 371.4L169.6 373.9L173.8 376.4Z" fill="#c78d86" stroke="#c78d86"/>
<path d="M173.8 376.4L169.6 373.9L166.7 376.2L171 378.8Z" fill="#c58783" stroke="#c58783"/>
<path d="M171 378.8L166.7 376.2L163.9 378.4L168.2 381Z" fill="#c38080" stroke="#c38080"/>
<path d="M168.2 381L163.9 378.4L161 380.5L165.3 383.2Z" fill="#be7c7c" stroke="#be7c7c"/>
<path d="M165.3 383.2L161 380.5L158.2 382.6L162.5 385.2Z" fill="#b97979" stroke="#b97979"/>
<path d="M162.5 385.2L158.2 382.6L155.4 384.5L159.7 387.2Z" fill="#b47676" stroke="#b47676"/>
<path d="M159.7 387.2L155.4 384.5L152.5 386.3L156.8 389Z" fill="#ae7272" stroke="#ae7272"/>
<path d="M156.8 389L152.5 386.3L149.7 388L154 390.8Z" fill="#a86e6e" stroke="#a86e6e"/>
<path d="M154 390.8L149.7 388L146.9 389.6L151.2 392.4Z" fill="#a26a6a" stroke="#a26a6a"/>
<path d="M151.2 392.4L146.9 389.6L144 391.1L148.3 394Z" fill="#9c6666" stroke="#9c6666"/>
<path d="M148.3 394L144 391.1L141.2 392.6L145.5 395.4Z" fill="#966262" stroke="#966262"/>
<path d="M145.5 395.4L141.2 392.6L138.4 393.9L142.7 396.8Z" fill="#8f5e5e" stroke="#8f5e5e"/>
<path d="M142.7 396.8L138.4 393.9L135.5 395.2L139.9 398.1Z" fill="#885959" stroke="#885959"/>
<path d="M139.9 398.1L135.5 395.2L132.7 396.4L137 399.3Z" fill="#805454" stroke="#805454"/>
<path d="M137 399.3L132.7 396.4L129.9 397.5L134.2 400.4Z" fill="#794f4f" stroke="#794f4f"/>
<path d="M209.2 328L205.1 325.9L202.2 330.1L206.4 332.2Z" fill="#decba0" stroke="#decba0"/>
<path d="M206.4 332.2L202.2 330.1L199.4 334.1L203.6 336.2Z" fill="#ddc89f" stroke="#ddc89f"/>
<path d="M203.6 336.2L199.4 334.1L196.5 338L200.7 340.1Z" fill="#dbc59e" stroke="#dbc59e"/>
<path d="M200.7 340.1L196.5 338L193.7 341.7L197.9 343.8Z" fill="#dac29d" stroke="#dac29d"/>
<path d="M197.9 343.8L193.7 341.7L190.9 345.3L195.1 347.4Z" fill="#d8be9c" stroke="#d8be9c"/>
<path d="M195.1 347.4L190.9 345.3L188 348.7L192.2 350.9Z" fill="#d6ba9b" stroke="#d6ba9b"/>
<path d="M192.2 350.9L188 348.7L185.2 352L189.4 354.2Z" fill="#d5b699" stroke="#d5b699"/>
<path d="M189.4 354.2L185.2 352L182.3 355.2L186.6 357.4Z" fill="#d3b297" stroke="#d3b297"/>
<path d="M186.6 357.4L182.3 355.2L179.5 358.2L183.7 360.5Z" fill="#d2ae95" stroke="#d2ae95"/>
<path d="M183.7 360.5L179.5 358.2L176.7 361.1L180.9 363.4Z" fill="#d0a993" stroke="#d0a993"/>
<path d="M180.9 363.4L176.7 361.1L173.8 363.9L178.1 366.2Z" fill="#cea591" stroke="#cea591"/>
<path d="M178.1 366.2L173.8 363.9L171 366.5L175.2 368.9Z" fill="#cd9f8e" stroke="#cd9f8e"/>
<path d="M175.2 368.9L171 366.5L168.1 369L172.4 371.4Z" fill="#cb9a8b" stroke="#cb9a8b"/>
<path d="M172.4 371.4L168.1 369L165.3 371.4L169.6 373.9Z" fill="#c99489" stroke="#c99489"/>
<path d="M169.6 373.9L165.3 371.4L162.4 373.7L166.7 376.2Z" fill="#c78e86" stroke="#c78e86"/>
<path d="M166.7 376.2L162.4 373.7L159.6 375.9L163.9 378.4Z" fill="#c58883" stroke="#c58883"/>
<path d="M163.9 378.4L159.6 375.9L156.8 378L161 380.5Z" fill="#c38180" stroke="#c38180"/>
<path d="M161 380.5L156.8 378L153.9 380L158.2 382.6Z" fill="#bf7d7d" stroke="#bf7d7d"/>
<path d="M158.2 382.6L153.9 380L151.1 381.9L155.4 384.5Z" fill="#ba7a7a" stroke="#ba7a7a"/>
<path d="M155.4 384.5L151.1 381.9L148.2 383.6L152.5 386.3Z" fill="#b57676" stroke="#b57676"/>
<path d="M152.5 386.3L148.2 383.6L145.4 385.3L149.7 388Z" fill="#b07373" stroke="#b07373"/>
<path d="M149.7 388L145.4 385.3L142.6 386.9L146.9 389.6Z" fill="#aa6f6f" stroke="#aa6f6f"/>
<path d="M146.9 389.6L142.6 386.9L139.7 388.4L144 391.1Z" fill="#a46c6c" stroke="#a46c6c"/>
<path d="M144 391.1L139.7 388.4L136.9 389.8L141.2 392.6Z" fill="#9e6868" stroke="#9e6868"/>
<path d="M141.2 392.6L136.9 389.8L134 391.2L138.4 393.9Z" fill="#986464" stroke="#986464"/>
<path d="M138.4 393.9L134 391.2L131.2 392.5L135.5 395.2Z" fill="#925f5f" stroke="#925f5f"/>
<path d="M135.5 395.2L131.2 392.5L128.3 393.6L132.7 396.4Z" fill="#8b5b5b" stroke="#8b5b5b"/>
<path d="M132.7 396.4L128.3 393.6L125.5 394.8L129.9 397.5Z" fill="#845656" stroke="#845656"/>
<path d="M205.1 325.9L200.9 323.9L198 328.1L202.2 330.1Z" fill="#e0cea1" stroke="#e0cea1"/>
<path d="M202.2 330.1L198 328.1L195.2 332.1L199.4 334.1Z" fill="#decca0" stroke="#decca0"/>
<path d="M199.4 334.1L195.2 332.1L192.3 336L196.5 338Z" fill="#ddc99f" stroke="#ddc99f"/>
<path d="M196.5 338L192.3 336L189.5 339.7L193.7 341.7Z" fill="#dbc69e" stroke="#dbc69e"/>
<path d="M193.7 341.7L189.5 339.7L186.7 343.2L190.9 345.3Z" fill="#dac29d" stroke="#dac29d"/>
<path d="M190.9 345.3L186.7 343.2L183.8 346.6L188 348.7Z" fill="#d8bf9c" stroke="#d8bf9c"/>
<path d="M188 348.7L183.8 346.6L181 349.9L185.2 352Z" fill="#d6bb9b" stroke="#d6bb9b"/>
<path d="M185.2 352L181 349.9L178.1 353L182.3 355.2Z" fill="#d5b79a" stroke="#d5b79a"/>
<path d="M182.3 355.2L178.1 353L175.3 356L179.5 358.2Z" fill="#d3b398" stroke="#d3b398"/>
<path d="M179.5 358.2L175.3 356L172.4 358.9L176.7 361.1Z" fill="#d2ae95" stroke="#d2ae95"/>
<path d="M176.7 361.1L172.4 358.9L169.6 361.6L173.8 363.9Z" fill="#d0aa93" stroke="#d0aa93"/>
<path d="M173.8 363.9L169.6 361.6L166.7 364.2L171 366.5Z" fill="#cfa591" stroke="#cfa591"/>
<path d="M171 366.5L166.7 364.2L163.9 366.7L168.1 369Z" fill="#cda08e" stroke="#cda08e"/>
<path d="M168.1 369L163.9 366.7L161 369.1L165.3 371.4Z" fill="#cb9b8c" stroke="#cb9b8c"/>
<path d="M165.3 371.4L161 369.1L158.2 371.3L162.4 373.7Z" fill="#c99589" stroke="#c99589"/>
<path d="M162.4 373.7L158.2 371.3L155.3 373.5L159.6 375.9Z" fill="#c78f87" stroke="#c78f87"/>
<path d="M159.6 375.9L155.3 373.5L152.5 375.5L156.8 378Z" fill="#c68984" stroke="#c68984"/>
<path d="M156.8 378L152.5 375.5L149.6 377.5L153.9 380Z" fill="#c48281" stroke="#c48281"/>
<path d="M153.9 380L149.6 377.5L146.8 379.3L151.1 381.9Z" fill="#c07e7e" stroke="#c07e7e"/>
<path d="M151.1 381.9L146.8 379.3L143.9 381.1L148.2 383.6Z" fill="#bb7b7b" stroke="#bb7b7b"/>
<path d="M148.2 383.6L143.9 381.1L141.1 382.8L145.4 385.3Z" fill="#b67777" stroke="#b67777"/>
<path d="M145.4 385.3L141.1 382.8L138.2 384.3L142.6 386.9Z" fill="#b17474" stroke="#b17474"/>
<path d="M142.6 386.9L138.2 384.3L135.4 385.8L139.7 388.4Z" fill="#ac7171" stroke="#ac7171"/>
<path d="M139.7 388.4L135.4 385.8L132.5 387.2L136.9 389.8Z" fill="#a66d6d" stroke="#a66d6d"/>
<path d="M136.9 389.8L132.5 387.2L129.7 388.6L134 391.2Z" fill="#a16969" stroke="#a16969"/>
<path d="M134 391.2L129.7 388.6L126.8 389.8L131.2 392.5Z" fill="#9b6565" stroke="#9b6565"/>
<path d="M131.2 392.5L126.8 389.8L124 391L128.3 393.6Z" fill="#956161" stroke="#956161"/>
<path d="M128.3 393.6L124 391L121.1 392.1L125.5 394.8Z" fill="#8e5d5d" stroke="#8e5d5d"/>
<path d="M200.9 323.9L196.7 322L193.9 326.1L198 328.1Z" fill="#e1d1a1" stroke="#e1d1a1"/>
<path d="M198 328.1L193.9 326.1L191 330.1L195.2 332.1Z" fill="#e0cfa1" stroke="#e0cfa1"/>
<path d="M195.2 332.1L191 330.1L188.2 334L192.3 336Z" fill="#decca0" stroke="#decca0"/>
<path d="M192.3 336L188.2 334L185.3 337.7L189.5 339.7Z" fill="#ddc99f" stroke="#ddc99f"/>
<path d="M189.5 339.7L185.3 337.7L182.4 341.2L186.7 343.2Z" fill="#dbc69e" stroke="#dbc69e"/>
<path d="M186.7 343.2L182.4 341.2L179.6 344.6L183.8 346.6Z" fill="#dac39d" stroke="#dac39d"/>
<path d="M183.8 346.6L179.6 344.6L176.7 347.8L181 349.9Z" fill="#d8bf9c" stroke="#d8bf9c"/>
<path d="M181 349.9L176.7 347.8L173.9 350.9L178.1 353Z" fill="#d7bb9b" stroke="#d7bb9b"/>
<path d="M178.1 353L173.9 350.9L171 353.9L175.3 356Z" fill="#d5b79a" stroke="#d5b79a"/>
<path d="M175.3 356L171 353.9L168.2 356.7L172.4 358.9Z" fill="#d3b398" stroke="#d3b398"/>
<path d="M172.4 358.9L168.2 356.7L165.3 359.4L169.6 361.6Z" fill="#d2af96" stroke="#d2af96"/>
<path d="M169.6 361.6L165.3 359.4L162.5 362L166.7 364.2Z" fill="#d0ab93" stroke="#d0ab93"/>
<path d="M166.7 364.2L162.5 362L159.6 364.5L163.9 366.7Z" fill="#cfa691" stroke="#cfa691"/>
<path d="M163.9 366.7L159.6 364.5L156.8 366.8L161 369.1Z" fill="#cda18f" stroke="#cda18f"/>
<path d="M161 369.1L156.8 366.8L153.9 369L158.2 371.3Z" fill="#cb9c8c" stroke="#cb9c8c"/>
<path d="M158.2 371.3L153.9 369L151 371.2L155.3 373.5Z" fill="#ca968a" stroke="#ca968a"/>
<path d="M155.3 373.5L151 371.2L148.2 373.2L152.5 375.5Z" fill="#c89187" stroke="#c89187"/>
<path d="M152.5 375.5L148.2 373.2L145.3 375.1L149.6 377.5Z" fill="#c68a84" stroke="#c68a84"/>
<path d="M149.6 377.5L145.3 375.1L142.5 376.9L146.8 379.3Z" fill="#c48481" stroke="#c48481"/>
<path d="M146.8 379.3L142.5 376.9L139.6 378.6L143.9 381.1Z" fill="#c17f7f" stroke="#c17f7f"/>
<path d="M143.9 381.1L139.6 378.6L136.8 380.3L141.1 382.8Z" fill="#bd7b7b" stroke="#bd7b7b"/>
<path d="M141.1 382.8L136.8 380.3L133.9 381.8L138.2 384.3Z" fill="#b87878" stroke="#b87878"/>
<path d="M138.2 384.3L133.9 381.8L131.1 383.3L135.4 385.8Z" fill="#b37575" stroke="#b37575"/>
<path d="M135.4 385.8L131.1 383.3L128.2 384.7L132.5 387.2Z" fill="#ae7272" stroke="#ae7272"/>
<path d="M132.5 387.2L128.2 384.7L125.4 386L129.7 388.6Z" fill="#a86e6e" stroke="#a86e6e"/>
<path d="M129.7 388.6L125.4 386L122.5 387.3L126.8 389.8Z" fill="#a36b6b" stroke="#a36b6b"/>
<path d="M126.8 389.8L122.5 387.3L119.7 388.5L124 391Z" fill="#9d6767" stroke="#9d6767"/>
<path d="M124 391L119.7 388.5L116.8 389.6L121.1 392.1Z" fill="#986363" stroke="#986363"/>
<path d="M196.7 322L192.5 320.1L189.7 324.2L193.9 326.1Z" fill="#e2d4a2" stroke="#e2d4a2"/>
<path d="M193.9 326.1L189.7 324.2L186.8 328.2L191 330.1Z" fill="#e1d2a1" stroke="#e1d2a1"/>
<path d="M191 330.1L186.8 328.2L184 332.1L188.2 334Z" fill="#e0cfa1" stroke="#e0cfa1"/>
<path d="M188.2 334L184 332.1L181.1 335.7L185.3 337.7Z" fill="#dfcca0" stroke="#dfcca0"/>
<path d="M185.3 337.7L181.1 335.7L178.2 339.3L182.4 341.2Z" fill="#ddc99f" stroke="#ddc99f"/>
<path d="M182.4 341.2L178.2 339.3L175.4 342.6L179.6 344.6Z" fill="#dcc69e" stroke="#dcc69e"/>
<path d="M179.6 344.6L175.4 342.6L172.5 345.8L176.7 347.8Z" fill="#dac39d" stroke="#dac39d"/>
<path d="M176.7 347.8L172.5 345.8L169.7 348.9L173.9 350.9Z" fill="#d8bf9c" stroke="#d8bf9c"/>
<path d="M173.9 350.9L169.7 348.9L166.8 351.9L171 353.9Z" fill="#d7bc9b" stroke="#d7bc9b"/>
<path d="M171 353.9L166.8 351.9L163.9 354.7L168.2 356.7Z" fill="#d5b89a" stroke="#d5b89a"/>
<path d="M168.2 356.7L163.9 354.7L161.1 357.3L165.3 359.4Z" fill="#d4b498" stroke="#d4b498"/>
<path d="M165.3 359.4L161.1 357.3L158.2 359.9L162.5 362Z" fill="#d2b096" stroke="#d2b096"/>
<path d="M162.5 362L158.2 359.9L155.4 362.3L159.6 364.5Z" fill="#d1ab94" stroke="#d1ab94"/>
<path d="M159.6 364.5L155.4 362.3L152.5 364.6L156.8 366.8Z" fill="#cfa792" stroke="#cfa792"/>
<path d="M156.8 366.8L152.5 364.6L149.6 366.8L153.9 369Z" fill="#cda28f" stroke="#cda28f"/>
<path d="M153.9 369L149.6 366.8L146.8 368.9L151 371.2Z" fill="#cc9d8d" stroke="#cc9d8d"/>
<path d="M151 371.2L146.8 368.9L143.9 370.9L148.2 373.2Z" fill="#ca978a" stroke="#ca978a"/>
<path d="M148.2 373.2L143.9 370.9L141.1 372.8L145.3 375.1Z" fill="#c89288" stroke="#c89288"/>
<path d="M145.3 375.1L141.1 372.8L138.2 374.6L142.5 376.9Z" fill="#c68c85" stroke="#c68c85"/>
<path d="M142.5 376.9L138.2 374.6L135.3 376.3L139.6 378.6Z" fill="#c58682" stroke="#c58682"/>
<path d="M139.6 378.6L135.3 376.3L132.5 377.9L136.8 380.3Z" fill="#c27f7f" stroke="#c27f7f"/>
<path d="M136.8 380.3L132.5 377.9L129.6 379.4L133.9 381.8Z" fill="#be7c7c" stroke="#be7c7c"/>
<path d="M133.9 381.8L129.6 379.4L126.8 380.9L131.1 383.3Z" fill="#b97979" stroke="#b97979"/>
<path d="M131.1 383.3L126.8 380.9L123.9 382.3L128.2 384.7Z" fill="#b57676" stroke="#b57676"/>
<path d="M128.2 384.7L123.9 382.3L121 383.6L125.4 386Z" fill="#b07373" stroke="#b07373"/>
<path d="M125.4 386L121 383.6L118.2 384.9L122.5 387.3Z" fill="#ab7070" stroke="#ab7070"/>
<path d="M122.5 387.3L118.2 384.9L115.3 386L119.7 388.5Z" fill="#a56c6c" stroke="#a56c6c"/>
<path d="M119.7 388.5L115.3 386L112.5 387.2L116.8 389.6Z" fill="#a06969" stroke="#a06969"/>
<path d="M192.5 320.1L188.4 318.2L185.5 322.4L189.7 324.2Z" fill="#e3d7a3" stroke="#e3d7a3"/>
<path d="M189.7 324.2L185.5 322.4L182.6 326.4L186.8 328.2Z" fill="#e2d5a2" stroke="#e2d5a2"/>
<path d="M186.8 328.2L182.6 326.4L179.8 330.2L184 332.1Z" fill="#e1d2a1" stroke="#e1d2a1"/>
<path d="M184 332.1L179.8 330.2L176.9 333.9L181.1 335.7Z" fill="#e0d0a1" stroke="#e0d0a1"/>
<path d="M181.1 335.7L176.9 333.9L174 337.4L178.2 339.3Z" fill="#dfcda0" stroke="#dfcda0"/>
<path d="M178.2 339.3L174 337.4L171.2 340.7L175.4 342.6Z" fill="#ddca9f" stroke="#ddca9f"/>
<path d="M175.4 342.6L171.2 340.7L168.3 343.9L172.5 345.8Z" fill="#dcc79e" stroke="#dcc79e"/>
<path d="M172.5 345.8L168.3 343.9L165.4 347L169.7 348.9Z" fill="#dac39e" stroke="#dac39e"/>
<path d="M169.7 348.9L165.4 347L162.6 349.9L166.8 351.9Z" fill="#d9c09d" stroke="#d9c09d"/>
<path d="M166.8 351.9L162.6 349.9L159.7 352.7L163.9 354.7Z" fill="#d7bc9b" stroke="#d7bc9b"/>
<path d="M163.9 354.7L159.7 352.7L156.8 355.3L161.1 357.3Z" fill="#d5b89a" stroke="#d5b89a"/>
<path d="M161.1 357.3L156.8 355.3L154 357.8L158.2 359.9Z" fill="#d4b498" stroke="#d4b498"/>
<path d="M158.2 359.9L154 357.8L151.1 360.2L155.4 362.3Z" fill="#d2b096" stroke="#d2b096"/>
<path d="M155.4 362.3L151.1 360.2L148.2 362.5L152.5 364.6Z" fill="#d1ac94" stroke="#d1ac94"/>
<path d="M152.5 364.6L148.2 362.5L145.4 364.7L149.6 366.8Z" fill="#cfa792" stroke="#cfa792"/>
<path d="M149.6 366.8L145.4 364.7L142.5 366.7L146.8 368.9Z" fill="#cea390" stroke="#cea390"/>
<path d="M146.8 368.9L142.5 366.7L139.6 368.7L143.9 370.9Z" fill="#cc9e8d" stroke="#cc9e8d"/>
<path d="M143.9 370.9L139.6 368.7L136.8 370.6L141.1 372.8Z" fill="#ca988b" stroke="#ca988b"/>
<path d="M141.1 372.8L136.8 370.6L133.9 372.3L138.2 374.6Z" fill="#c99388" stroke="#c99388"/>
<path d="M138.2 374.6L133.9 372.3L131 374L135.3 376.3Z" fill="#c78d86" stroke="#c78d86"/>
<path d="M135.3 376.3L131 374L128.2 375.6L132.5 377.9Z" fill="#c58783" stroke="#c58783"/>
<path d="M132.5 377.9L128.2 375.6L125.3 377.1L129.6 379.4Z" fill="#c38180" stroke="#c38180"/>
<path d="M129.6 379.4L125.3 377.1L122.4 378.6L126.8 380.9Z" fill="#bf7d7d" stroke="#bf7d7d"/>
<path d="M126.8 380.9L122.4 378.6L119.6 380L123.9 382.3Z" fill="#bb7a7a" stroke="#bb7a7a"/>
<path d="M123.9 382.3L119.6 380L116.7 381.3L121 383.6Z" fill="#b67777" stroke="#b67777"/>
<path d="M121 383.6L116.7 381.3L113.8 382.5L118.2 384.9Z" fill="#b27474" stroke="#b27474"/>
<path d="M118.2 384.9L113.8 382.5L111 383.7L115.3 386Z" fill="#ad7171" stroke="#ad7171"/>
<path d="M115.3 386L111 383.7L108.1 384.9L112.5 387.2Z" fill="#a86e6e" stroke="#a86e6e"/>
<path d="M188.4 318.2L184.2 316.5L181.3 320.6L185.5 322.4Z" fill="#e5d9a3" stroke="#e5d9a3"/>
<path d="M185.5 322.4L181.3 320.6L178.4 324.6L182.6 326.4Z" fill="#e4d7a3" stroke="#e4d7a3"/>
<path d="M182.6 326.4L178.4 324.6L175.6 328.4L179.8 330.2Z" fill="#e3d5a2" stroke="#e3d5a2"/>
<path d="M179.8 330.2L175.6 328.4L172.7 332.1L176.9 333.9Z" fill="#e1d2a2" stroke="#e1d2a2"/>
<path d="M176.9 333.9L172.7 332.1L169.8 335.6L174 337.4Z" fill="#e0d0a1" stroke="#e0d0a1"/>
<path d="M174 337.4L169.8 335.6L166.9 338.9L171.2 340.7Z" fill="#dfcda0" stroke="#dfcda0"/>
<path d="M171.2 340.7L166.9 338.9L164.1 342.1L168.3 343.9Z" fill="#ddca9f" stroke="#ddca9f"/>
<path d="M168.3 343.9L164.1 342.1L161.2 345.1L165.4 347Z" fill="#dcc79f" stroke="#dcc79f"/>
<path d="M165.4 347L161.2 345.1L158.3 348L162.6 349.9Z" fill="#dac49e" stroke="#dac49e"/>
<path d="M162.6 349.9L158.3 348L155.5 350.7L159.7 352.7Z" fill="#d9c09d" stroke="#d9c09d"/>
<path d="M159.7 352.7L155.5 350.7L152.6 353.4L156.8 355.3Z" fill="#d7bc9c" stroke="#d7bc9c"/>
<path d="M156.8 355.3L152.6 353.4L149.7 355.8L154 357.8Z" fill="#d5b99a" stroke="#d5b99a"/>
<path d="M154 357.8L149.7 355.8L146.8 358.2L151.1 360.2Z" fill="#d4b599" stroke="#d4b599"/>
<path d="M151.1 360.2L146.8 358.2L144 360.5L148.2 362.5Z" fill="#d3b197" stroke="#d3b197"/>
<path d="M148.2 362.5L144 360.5L141.1 362.6L145.4 364.7Z" fill="#d1ac94" stroke="#d1ac94"/>
<path d="M145.4 364.7L141.1 362.6L138.2 364.7L142.5 366.7Z" fill="#d0a892" stroke="#d0a892"/>
<path d="M142.5 366.7L138.2 364.7L135.3 366.6L139.6 368.7Z" fill="#cea490" stroke="#cea490"/>
<path d="M139.6 368.7L135.3 366.6L132.5 368.4L136.8 370.6Z" fill="#cc9f8e" stroke="#cc9f8e"/>
<path d="M136.8 370.6L132.5 368.4L129.6 370.2L133.9 372.3Z" fill="#cb9a8b" stroke="#cb9a8b"/>
<path d="M133.9 372.3L129.6 370.2L126.7 371.8L131 374Z" fill="#c99489" stroke="#c99489"/>
<path d="M131 374L126.7 371.8L123.9 373.4L128.2 375.6Z" fill="#c78f86" stroke="#c78f86"/>
<path d="M128.2 375.6L123.9 373.4L121 374.9L125.3 377.1Z" fill="#c68984" stroke="#c68984"/>
<path d="M125.3 377.1L121 374.9L118.1 376.4L122.4 378.6Z" fill="#c48381" stroke="#c48381"/>
<path d="M122.4 378.6L118.1 376.4L115.2 377.7L119.6 380Z" fill="#c17e7e" stroke="#c17e7e"/>
<path d="M119.6 380L115.2 377.7L112.4 379L116.7 381.3Z" fill="#bd7c7c" stroke="#bd7c7c"/>
<path d="M116.7 381.3L112.4 379L109.5 380.3L113.8 382.5Z" fill="#b87979" stroke="#b87979"/>
<path d="M113.8 382.5L109.5 380.3L106.6 381.5L111 383.7Z" fill="#b47676" stroke="#b47676"/>
<path d="M111 383.7L106.6 381.5L103.8 382.6L108.1 384.9Z" fill="#af7373" stroke="#af7373"/>
<path d="M184.2 316.5L180 314.7L177.1 318.9L181.3 320.6Z" fill="#e6dba4" stroke="#e6dba4"/>
<path d="M181.3 320.6L177.1 318.9L174.2 322.9L178.4 324.6Z" fill="#e5daa3" stroke="#e5daa3"/>
<path d="M178.4 324.6L174.2 322.9L171.4 326.7L175.6 328.4Z" fill="#e4d7a3" stroke="#e4d7a3"/>
<path d="M175.6 328.4L171.4 326.7L168.5 330.3L172.7 332.1Z" fill="#e3d5a2" stroke="#e3d5a2"/>
<path d="M172.7 332.1L168.5 330.3L165.6 333.8L169.8 335.6Z" fill="#e2d3a2" stroke="#e2d3a2"/>
<path d="M169.8 335.6L165.6 333.8L162.7 337.1L166.9 338.9Z" fill="#e0d0a1" stroke="#e0d0a1"/>
<path d="M166.9 338.9L162.7 337.1L159.8 340.3L164.1 342.1Z" fill="#dfcda0" stroke="#dfcda0"/>
<path d="M164.1 342.1L159.8 340.3L157 343.3L161.2 345.1Z" fill="#deca9f" stroke="#deca9f"/>
<path d="M161.2 345.1L157 343.3L154.1 346.1L158.3 348Z" fill="#dcc79f" stroke="#dcc79f"/>
<path d="M158.3 348L154.1 346.1L151.2 348.9L155.5 350.7Z" fill="#dbc49e" stroke="#dbc49e"/>
<path d="M155.5 350.7L151.2 348.9L148.3 351.5L152.6 353.4Z" fill="#d9c09d" stroke="#d9c09d"/>
<path d="M152.6 353.4L148.3 351.5L145.5 353.9L149.7 355.8Z" fill="#d7bd9c" stroke="#d7bd9c"/>
<path d="M149.7 355.8L145.5 353.9L142.6 356.3L146.8 358.2Z" fill="#d6b99b" stroke="#d6b99b"/>
<path d="M146.8 358.2L142.6 356.3L139.7 358.5L144 360.5Z" fill="#d4b599" stroke="#d4b599"/>
<path d="M144 360.5L139.7 358.5L136.8 360.6L141.1 362.6Z" fill="#d3b197" stroke="#d3b197"/>
<path d="M141.1 362.6L136.8 360.6L133.9 362.6L138.2 364.7Z" fill="#d1ad95" stroke="#d1ad95"/>
<path d="M138.2 364.7L133.9 362.6L131.1 364.6L135.3 366.6Z" fill="#d0a993" stroke="#d0a993"/>
<path d="M135.3 366.6L131.1 364.6L128.2 366.4L132.5 368.4Z" fill="#cea490" stroke="#cea490"/>
<path d="M132.5 368.4L128.2 366.4L125.3 368.1L129.6 370.2Z" fill="#cda08e" stroke="#cda08e"/>
<path d="M129.6 370.2L125.3 368.1L122.4 369.7L126.7 371.8Z" fill="#cb9b8c" stroke="#cb9b8c"/>
<path d="M126.7 371.8L122.4 369.7L119.6 371.3L123.9 373.4Z" fill="#c9968a" stroke="#c9968a"/>
<path d="M123.9 373.4L119.6 371.3L116.7 372.8L121 374.9Z" fill="#c89187" stroke="#c89187"/>
<path d="M121 374.9L116.7 372.8L113.8 374.2L118.1 376.4Z" fill="#c68b85" stroke="#c68b85"/>
<path d="M118.1 376.4L113.8 374.2L110.9 375.6L115.2 377.7Z" fill="#c48582" stroke="#c48582"/>
<path d="M115.2 377.7L110.9 375.6L108 376.9L112.4 379Z" fill="#c37f7f" stroke="#c37f7f"/>
<path d="M112.4 379L108 376.9L105.2 378.1L109.5 380.3Z" fill="#be7d7d" stroke="#be7d7d"/>
<path d="M109.5 380.3L105.2 378.1L102.3 379.3L106.6 381.5Z" fill="#ba7a7a" stroke="#ba7a7a"/>
<path d="M106.6 381.5L102.3 379.3L99.4 380.5L103.8 382.6Z" fill="#b67777" stroke="#b67777"/>
<path d="M180 314.7L175.8 313.1L172.9 317.2L177.1 318.9Z" fill="#e7dda4" stroke="#e7dda4"/>
<path d="M177.1 318.9L172.9 317.2L170.1 321.2L174.2 322.9Z" fill="#e6dca4" stroke="#e6dca4"/>
<path d="M174.2 322.9L170.1 321.2L167.2 325L171.4 326.7Z" fill="#e5daa3" stroke="#e5daa3"/>
<path d="M171.4 326.7L167.2 325L164.3 328.6L168.5 330.3Z" fill="#e4d8a3" stroke="#e4d8a3"/>
<path d="M168.5 330.3L164.3 328.6L161.4 332.1L165.6 333.8Z" fill="#e3d5a2" stroke="#e3d5a2"/>
<path d="M165.6 333.8L161.4 332.1L158.5 335.4L162.7 337.1Z" fill="#e2d3a2" stroke="#e2d3a2"/>
<path d="M162.7 337.1L158.5 335.4L155.6 338.5L159.8 340.3Z" fill="#e0d0a1" stroke="#e0d0a1"/>
<path d="M159.8 340.3L155.6 338.5L152.7 341.5L157 343.3Z" fill="#dfcea0" stroke="#dfcea0"/>
<path d="M157 343.3L152.7 341.5L149.9 344.4L154.1 346.1Z" fill="#decba0" stroke="#decba0"/>
<path d="M154.1 346.1L149.9 344.4L147 347.1L151.2 348.9Z" fill="#dcc89f" stroke="#dcc89f"/>
<path d="M151.2 348.9L147 347.1L144.1 349.7L148.3 351.5Z" fill="#dbc49e" stroke="#dbc49e"/>
<path d="M148.3 351.5L144.1 349.7L141.2 352.1L145.5 353.9Z" fill="#d9c19d" stroke="#d9c19d"/>
<path d="M145.5 353.9L141.2 352.1L138.3 354.4L142.6 356.3Z" fill="#d8bd9c" stroke="#d8bd9c"/>
<path d="M142.6 356.3L138.3 354.4L135.4 356.6L139.7 358.5Z" fill="#d6ba9b" stroke="#d6ba9b"/>
<path d="M139.7 358.5L135.4 356.6L132.6 358.7L136.8 360.6Z" fill="#d4b699" stroke="#d4b699"/>
<path d="M136.8 360.6L132.6 358.7L129.7 360.7L133.9 362.6Z" fill="#d3b297" stroke="#d3b297"/>
<path d="M133.9 362.6L129.7 360.7L126.8 362.6L131.1 364.6Z" fill="#d2ae95" stroke="#d2ae95"/>
<path d="M131.1 364.6L126.8 362.6L123.9 364.4L128.2 366.4Z" fill="#d0aa93" stroke="#d0aa93"/>
<path d="M128.2 366.4L123.9 364.4L121 366.1L125.3 368.1Z" fill="#cfa591" stroke="#cfa591"/>
<path d="M125.3 368.1L121 366.1L118.1 367.7L122.4 369.7Z" fill="#cda18f" stroke="#cda18f"/>
<path d="M122.4 369.7L118.1 367.7L115.2 369.3L119.6 371.3Z" fill="#cc9c8d" stroke="#cc9c8d"/>
<path d="M119.6 371.3L115.2 369.3L112.4 370.8L116.7 372.8Z" fill="#ca978a" stroke="#ca978a"/>
<path d="M116.7 372.8L112.4 370.8L109.5 372.2L113.8 374.2Z" fill="#c89288" stroke="#c89288"/>
<path d="M113.8 374.2L109.5 372.2L106.6 373.5L110.9 375.6Z" fill="#c78d85" stroke="#c78d85"/>
<path d="M110.9 375.6L106.6 373.5L103.7 374.8L108 376.9Z" fill="#c58783" stroke="#c58783"/>
<path d="M108 376.9L103.7 374.8L100.8 376.1L105.2 378.1Z" fill="#c38280" stroke="#c38280"/>
<path d="M105.2 378.1L100.8 376.1L97.9 377.3L102.3 379.3Z" fill="#c07e7e" stroke="#c07e7e"/>
<path d="M102.3 379.3L97.9 377.3L95.1 378.5L99.4 380.5Z" fill="#bc7b7b" stroke="#bc7b7b"/>
<path d="M175.8 313.1L171.6 311.5L168.8 315.6L172.9 317.2Z" fill="#e8dfa5" stroke="#e8dfa5"/>
<path d="M172.9 317.2L168.8 315.6L165.9 319.6L170.1 321.2Z" fill="#e7dea4" stroke="#e7dea4"/>
<path d="M170.1 321.2L165.9 319.6L163 323.4L167.2 325Z" fill="#e6dca4" stroke="#e6dca4"/>
<path d="M167.2 325L163 323.4L160.1 327L164.3 328.6Z" fill="#e5daa3" stroke="#e5daa3"/>
<path d="M164.3 328.6L160.1 327L157.2 330.5L161.4 332.1Z" fill="#e4d8a3" stroke="#e4d8a3"/>
<path d="M161.4 332.1L157.2 330.5L154.3 333.8L158.5 335.4Z" fill="#e3d6a2" stroke="#e3d6a2"/>
<path d="M158.5 335.4L154.3 333.8L151.4 336.9L155.6 338.5Z" fill="#e2d3a2" stroke="#e2d3a2"/>
<path d="M155.6 338.5L151.4 336.9L148.5 339.9L152.7 341.5Z" fill="#e1d1a1" stroke="#e1d1a1"/>
<path d="M152.7 341.5L148.5 339.9L145.6 342.7L149.9 344.4Z" fill="#dfcea0" stroke="#dfcea0"/>
<path d="M149.9 344.4L145.6 342.7L142.7 345.4L147 347.1Z" fill="#decba0" stroke="#decba0"/>
<path d="M147 347.1L142.7 345.4L139.8 347.9L144.1 349.7Z" fill="#dcc89f" stroke="#dcc89f"/>
<path d="M144.1 349.7L139.8 347.9L137 350.3L141.2 352.1Z" fill="#dbc59e" stroke="#dbc59e"/>
<path d="M141.2 352.1L137 350.3L134.1 352.6L138.3 354.4Z" fill="#d9c19d" stroke="#d9c19d"/>
<path d="M138.3 354.4L134.1 352.6L131.2 354.8L135.4 356.6Z" fill="#d8be9c" stroke="#d8be9c"/>
<path d="M135.4 356.6L131.2 354.8L128.3 356.9L132.6 358.7Z" fill="#d6ba9b" stroke="#d6ba9b"/>
<path d="M132.6 358.7L128.3 356.9L125.4 358.9L129.7 360.7Z" fill="#d5b699" stroke="#d5b699"/>
<path d="M129.7 360.7L125.4 358.9L122.5 360.7L126.8 362.6Z" fill="#d3b398" stroke="#d3b398"/>
<path d="M126.8 362.6L122.5 360.7L119.6 362.5L123.9 364.4Z" fill="#d2af96" stroke="#d2af96"/>
<path d="M123.9 364.4L119.6 362.5L116.7 364.2L121 366.1Z" fill="#d0ab94" stroke="#d0ab94"/>
<path d="M121 366.1L116.7 364.2L113.8 365.8L118.1 367.7Z" fill="#cfa691" stroke="#cfa691"/>
<path d="M118.1 367.7L113.8 365.8L110.9 367.3L115.2 369.3Z" fill="#cda28f" stroke="#cda28f"/>
<path d="M115.2 369.3L110.9 367.3L108 368.8L112.4 370.8Z" fill="#cc9d8d" stroke="#cc9d8d"/>
<path d="M112.4 370.8L108 368.8L105.2 370.2L109.5 372.2Z" fill="#ca998b" stroke="#ca998b"/>
<path d="M109.5 372.2L105.2 370.2L102.3 371.5L106.6 373.5Z" fill="#c99489" stroke="#c99489"/>
<path d="M106.6 373.5L102.3 371.5L99.4 372.8L103.7 374.8Z" fill="#c78f86" stroke="#c78f86"/>
<path d="M103.7 374.8L99.4 372.8L96.5 374.1L100.8 376.1Z" fill="#c68a84" stroke="#c68a84"/>
<path d="M100.8 376.1L96.5 374.1L93.6 375.3L97.9 377.3Z" fill="#c48482" stroke="#c48482"/>
<path d="M97.9 377.3L93.6 375.3L90.7 376.5L95.1 378.5Z" fill="#c27f7f" stroke="#c27f7f"/>
<path d="M171.6 311.5L167.5 309.9L164.6 314.1L168.8 315.6Z" fill="#e9e1a5" stroke="#e9e1a5"/>
<path d="M168.8 315.6L164.6 314.1L161.7 318.1L165.9 319.6Z" fill="#e8e0a5" stroke="#e8e0a5"/>
<path d="M165.9 319.6L161.7 318.1L158.8 321.9L163 323.4Z" fill="#e7dea4" stroke="#e7dea4"/>
<path d="M163 323.4L158.8 321.9L155.9 325.5L160.1 327Z" fill="#e6dca4" stroke="#e6dca4"/>
<path d="M160.1 327L155.9 325.5L153 328.9L157.2 330.5Z" fill="#e5daa3" stroke="#e5daa3"/>
<path d="M157.2 330.5L153 328.9L150.1 332.2L154.3 333.8Z" fill="#e4d8a3" stroke="#e4d8a3"/>
<path d="M154.3 333.8L150.1 332.2L147.2 335.3L151.4 336.9Z" fill="#e3d6a2" stroke="#e3d6a2"/>
<path d="M151.4 336.9L147.2 335.3L144.3 338.3L148.5 339.9Z" fill="#e2d3a2" stroke="#e2d3a2"/>
<path d="M148.5 339.9L144.3 338.3L141.4 341.1L145.6 342.7Z" fill="#e1d1a1" stroke="#e1d1a1"/>
<path d="M145.6 342.7L141.4 341.1L138.5 343.7L142.7 345.4Z" fill="#dfcea0" stroke="#dfcea0"/>
<path d="M142.7 345.4L138.5 343.7L135.6 346.3L139.8 347.9Z" fill="#decba0" stroke="#decba0"/>
<path d="M139.8 347.9L135.6 346.3L132.7 348.7L137 350.3Z" fill="#ddc89f" stroke="#ddc89f"/>
<path d="M137 350.3L132.7 348.7L129.8 350.9L134.1 352.6Z" fill="#dbc59e" stroke="#dbc59e"/>
<path d="M134.1 352.6L129.8 350.9L126.9 353.1L131.2 354.8Z" fill="#dac29d" stroke="#dac29d"/>
<path d="M131.2 354.8L126.9 353.1L124 355.1L128.3 356.9Z" fill="#d8be9c" stroke="#d8be9c"/>
<path d="M128.3 356.9L124 355.1L121.1 357.1L125.4 358.9Z" fill="#d6bb9b" stroke="#d6bb9b"/>
<path d="M125.4 358.9L121.1 357.1L118.2 358.9L122.5 360.7Z" fill="#d5b79a" stroke="#d5b79a"/>
<path d="M122.5 360.7L118.2 358.9L115.3 360.7L119.6 362.5Z" fill="#d4b398" stroke="#d4b398"/>
<path d="M119.6 362.5L115.3 360.7L112.4 362.3L116.7 364.2Z" fill="#d2af96" stroke="#d2af96"/>
<path d="M116.7 364.2L112.4 362.3L109.5 363.9L113.8 365.8Z" fill="#d1ac94" stroke="#d1ac94"/>
<path d="M113.8 365.8L109.5 363.9L106.6 365.4L110.9 367.3Z" fill="#cfa792" stroke="#cfa792"/>
<path d="M110.9 367.3L106.6 365.4L103.7 366.9L108 368.8Z" fill="#cea390" stroke="#cea390"/>
<path d="M108 368.8L103.7 366.9L100.8 368.3L105.2 370.2Z" fill="#cc9f8e" stroke="#cc9f8e"/>
<path d="M105.2 370.2L100.8 368.3L97.9 369.6L102.3 371.5Z" fill="#cb9a8c" stroke="#cb9a8c"/>
<path d="M102.3 371.5L97.9 369.6L95 370.9L99.4 372.8Z" fill="#c99689" stroke="#c99689"/>
<path d="M99.4 372.8L95 370.9L92.1 372.2L96.5 374.1Z" fill="#c89187" stroke="#c89187"/>
<path d="M96.5 374.1L92.1 372.2L89.2 373.4L93.6 375.3Z" fill="#c68c85" stroke="#c68c85"/>
<path d="M93.6 375.3L89.2 373.4L86.4 374.6L90.7 376.5Z" fill="#c58783" stroke="#c58783"/>
<path d="M167.5 309.9L163.3 308.4L160.4 312.6L164.6 314.1Z" fill="#e9e3a5" stroke="#e9e3a5"/>
<path d="M164.6 314.1L160.4 312.6L157.5 316.6L161.7 318.1Z" fill="#e9e1a5" stroke="#e9e1a5"/>
<path d="M161.7 318.1L157.5 316.6L154.6 320.4L158.8 321.9Z" fill="#e8e0a5" stroke="#e8e0a5"/>
<path d="M158.8 321.9L154.6 320.4L151.7 324L155.9 325.5Z" fill="#e7dea4" stroke="#e7dea4"/>
<path d="M155.9 325.5L151.7 324L148.8 327.4L153 328.9Z" fill="#e6dca4" stroke="#e6dca4"/>
<path d="M153 328.9L148.8 327.4L145.9 330.7L150.1 332.2Z" fill="#e5daa3" stroke="#e5daa3"/>
<path d="M150.1 332.2L145.9 330.7L143 333.8L147.2 335.3Z" fill="#e4d8a3" stroke="#e4d8a3"/>
<path d="M147.2 335.3L143 333.8L140.1 336.7L144.3 338.3Z" fill="#e3d6a2" stroke="#e3d6a2"/>
<path d="M144.3 338.3L140.1 336.7L137.2 339.5L141.4 341.1Z" fill="#e2d4a2" stroke="#e2d4a2"/>
<path d="M141.4 341.1L137.2 339.5L134.3 342.2L138.5 343.7Z" fill="#e1d1a1" stroke="#e1d1a1"/>
<path d="M138.5 343.7L134.3 342.2L131.4 344.7L135.6 346.3Z" fill="#dfcea0" stroke="#dfcea0"/>
<path d="M135.6 346.3L131.4 344.7L128.4 347L132.7 348.7Z" fill="#decba0" stroke="#decba0"/>
<path d="M132.7 348.7L128.4 347L125.5 349.3L129.8 350.9Z" fill="#ddc89f" stroke="#ddc89f"/>
<path d="M129.8 350.9L125.5 349.3L122.6 351.4L126.9 353.1Z" fill="#dbc59e" stroke="#dbc59e"/>
<path d="M126.9 353.1L122.6 351.4L119.7 353.4L124 355.1Z" fill="#dac29d" stroke="#dac29d"/>
<path d="M124 355.1L119.7 353.4L116.8 355.4L121.1 357.1Z" fill="#d8bf9c" stroke="#d8bf9c"/>
<path d="M121.1 357.1L116.8 355.4L113.9 357.2L118.2 358.9Z" fill="#d7bb9b" stroke="#d7bb9b"/>
<path d="M118.2 358.9L113.9 357.2L111 358.9L115.3 360.7Z" fill="#d5b89a" stroke="#d5b89a"/>
<path d="M115.3 360.7L111 358.9L108.1 360.6L112.4 362.3Z" fill="#d4b498" stroke="#d4b498"/>
<path d="M112.4 362.3L108.1 360.6L105.2 362.1L109.5 363.9Z" fill="#d2b096" stroke="#d2b096"/>
<path d="M109.5 363.9L105.2 362.1L102.3 363.6L106.6 365.4Z" fill="#d1ac94" stroke="#d1ac94"/>
<path d="M106.6 365.4L102.3 363.6L99.4 365.1L103.7 366.9Z" fill="#d0a892" stroke="#d0a892"/>
<path d="M103.7 366.9L99.4 365.1L96.5 366.5L100.8 368.3Z" fill="#cea490" stroke="#cea490"/>
<path d="M100.8 368.3L96.5 366.5L93.6 367.8L97.9 369.6Z" fill="#cda08e" stroke="#cda08e"/>
<path d="M97.9 369.6L93.6 367.8L90.7 369.1L95 370.9Z" fill="#cb9c8c" stroke="#cb9c8c"/>
<path d="M95 370.9L90.7 369.1L87.8 370.4L92.1 372.2Z" fill="#ca978a" stroke="#ca978a"/>
<path d="M92.1 372.2L87.8 370.4L84.9 371.6L89.2 373.4Z" fill="#c99388" stroke="#c99388"/>
<path d="M89.2 373.4L84.9 371.6L82 372.8L86.4 374.6Z" fill="#c78e86" stroke="#c78e86"/>
<path d="M163.3 308.4L159.1 307L156.2 311.2L160.4 312.6Z" fill="#eae4a6" stroke="#eae4a6"/>
<path d="M160.4 312.6L156.2 311.2L153.3 315.2L157.5 316.6Z" fill="#e9e3a5" stroke="#e9e3a5"/>
<path d="M157.5 316.6L153.3 315.2L150.4 319L154.6 320.4Z" fill="#e9e2a5" stroke="#e9e2a5"/>
<path d="M154.6 320.4L150.4 319L147.5 322.6L151.7 324Z" fill="#e8e0a5" stroke="#e8e0a5"/>
<path d="M151.7 324L147.5 322.6L144.6 326L148.8 327.4Z" fill="#e7dea4" stroke="#e7dea4"/>
<path d="M148.8 327.4L144.6 326L141.7 329.3L145.9 330.7Z" fill="#e6dda4" stroke="#e6dda4"/>
<path d="M145.9 330.7L141.7 329.3L138.7 332.3L143 333.8Z" fill="#e5dba3" stroke="#e5dba3"/>
<path d="M143 333.8L138.7 332.3L135.8 335.3L140.1 336.7Z" fill="#e4d8a3" stroke="#e4d8a3"/>
<path d="M140.1 336.7L135.8 335.3L132.9 338L137.2 339.5Z" fill="#e3d6a2" stroke="#e3d6a2"/>
<path d="M137.2 339.5L132.9 338L130 340.6L134.3 342.2Z" fill="#e2d4a2" stroke="#e2d4a2"/>
<path d="M134.3 342.2L130 340.6L127.1 343.1L131.4 344.7Z" fill="#e1d1a1" stroke="#e1d1a1"/>
<path d="M131.4 344.7L127.1 343.1L124.2 345.5L128.4 347Z" fill="#dfcea1" stroke="#dfcea1"/>
<path d="M128.4 347L124.2 345.5L121.3 347.7L125.5 349.3Z" fill="#decca0" stroke="#decca0"/>
<path d="M125.5 349.3L121.3 347.7L118.4 349.8L122.6 351.4Z" fill="#ddc99f" stroke="#ddc99f"/>
<path d="M122.6 351.4L118.4 349.8L115.5 351.8L119.7 353.4Z" fill="#dbc69e" stroke="#dbc69e"/>
<path d="M119.7 353.4L115.5 351.8L112.6 353.7L116.8 355.4Z" fill="#dac29d" stroke="#dac29d"/>
<path d="M116.8 355.4L112.6 353.7L109.7 355.5L113.9 357.2Z" fill="#d8bf9c" stroke="#d8bf9c"/>
<path d="M113.9 357.2L109.7 355.5L106.7 357.2L111 358.9Z" fill="#d7bc9b" stroke="#d7bc9b"/>
<path d="M111 358.9L106.7 357.2L103.8 358.9L108.1 360.6Z" fill="#d5b89a" stroke="#d5b89a"/>
<path d="M108.1 360.6L103.8 358.9L100.9 360.4L105.2 362.1Z" fill="#d4b599" stroke="#d4b599"/>
<path d="M105.2 362.1L100.9 360.4L98 361.9L102.3 363.6Z" fill="#d3b197" stroke="#d3b197"/>
<path d="M102.3 363.6L98 361.9L95.1 363.3L99.4 365.1Z" fill="#d1ad95" stroke="#d1ad95"/>
<path d="M99.4 365.1L95.1 363.3L92.2 364.7L96.5 366.5Z" fill="#d0aa93" stroke="#d0aa93"/>
<path d="M96.5 366.5L92.2 364.7L89.3 366.1L93.6 367.8Z" fill="#cfa691" stroke="#cfa691"/>
<path d="M93.6 367.8L89.3 366.1L86.4 367.4L90.7 369.1Z" fill="#cda28f" stroke="#cda28f"/>
<path d="M90.7 369.1L86.4 367.4L83.5 368.6L87.8 370.4Z" fill="#cc9e8d" stroke="#cc9e8d"/>
<path d="M87.8 370.4L83.5 368.6L80.6 369.9L84.9 371.6Z" fill="#cb998b" stroke="#cb998b"/>
<path d="M84.9 371.6L80.6 369.9L77.7 371.1L82 372.8Z" fill="#c99589" stroke="#c99589"/>
<path d="M159.1 307L154.9 305.7L152 309.9L156.2 311.2Z" fill="#ebe5a6" stroke="#ebe5a6"/>
<path d="M156.2 311.2L152 309.9L149.1 313.9L153.3 315.2Z" fill="#eae4a6" stroke="#eae4a6"/>
<path d="M153.3 315.2L149.1 313.9L146.2 317.7L150.4 319Z" fill="#eae3a5" stroke="#eae3a5"/>
<path d="M150.4 319L146.2 317.7L143.3 321.3L147.5 322.6Z" fill="#e9e2a5" stroke="#e9e2a5"/>
<path d="M147.5 322.6L143.3 321.3L140.4 324.7L144.6 326Z" fill="#e8e0a5" stroke="#e8e0a5"/>
<path d="M144.6 326L140.4 324.7L137.4 327.9L141.7 329.3Z" fill="#e7dea4" stroke="#e7dea4"/>
<path d="M141.7 329.3L137.4 327.9L134.5 331L138.7 332.3Z" fill="#e6dda4" stroke="#e6dda4"/>
<path d="M138.7 332.3L134.5 331L131.6 333.9L135.8 335.3Z" fill="#e5dba3" stroke="#e5dba3"/>
<path d="M135.8 335.3L131.6 333.9L128.7 336.6L132.9 338Z" fill="#e4d8a3" stroke="#e4d8a3"/>
<path d="M132.9 338L128.7 336.6L125.8 339.2L130 340.6Z" fill="#e3d6a2" stroke="#e3d6a2"/>
<path d="M130 340.6L125.8 339.2L122.9 341.7L127.1 343.1Z" fill="#e2d4a2" stroke="#e2d4a2"/>
<path d="M127.1 343.1L122.9 341.7L119.9 344L124.2 345.5Z" fill="#e1d1a1" stroke="#e1d1a1"/>
<path d="M124.2 345.5L119.9 344L117 346.2L121.3 347.7Z" fill="#e0cfa1" stroke="#e0cfa1"/>
<path d="M121.3 347.7L117 346.2L114.1 348.3L118.4 349.8Z" fill="#decca0" stroke="#decca0"/>
<path d="M118.4 349.8L114.1 348.3L111.2 350.3L115.5 351.8Z" fill="#ddc99f" stroke="#ddc99f"/>
<path d="M115.5 351.8L111.2 350.3L108.3 352.1L112.6 353.7Z" fill="#dbc69e" stroke="#dbc69e"/>
<path d="M112.6 353.7L108.3 352.1L105.4 353.9L109.7 355.5Z" fill="#dac39d" stroke="#dac39d"/>
<path d="M109.7 355.5L105.4 353.9L102.5 355.6L106.7 357.2Z" fill="#d9c09c" stroke="#d9c09c"/>
<path d="M106.7 357.2L102.5 355.6L99.5 357.2L103.8 358.9Z" fill="#d7bc9c" stroke="#d7bc9c"/>
<path d="M103.8 358.9L99.5 357.2L96.6 358.8L100.9 360.4Z" fill="#d6b99b" stroke="#d6b99b"/>
<path d="M100.9 360.4L96.6 358.8L93.7 360.2L98 361.9Z" fill="#d4b599" stroke="#d4b599"/>
<path d="M98 361.9L93.7 360.2L90.8 361.7L95.1 363.3Z" fill="#d3b297" stroke="#d3b297"/>
<path d="M95.1 363.3L90.8 361.7L87.9 363L92.2 364.7Z" fill="#d2ae95" stroke="#d2ae95"/>
<path d="M92.2 364.7L87.9 363L85 364.4L89.3 366.1Z" fill="#d0ab94" stroke="#d0ab94"/>
<path d="M89.3 366.1L85 364.4L82 365.7L86.4 367.4Z" fill="#cfa792" stroke="#cfa792"/>
<path d="M86.4 367.4L82 365.7L79.1 366.9L83.5 368.6Z" fill="#cea390" stroke="#cea390"/>
<path d="M83.5 368.6L79.1 366.9L76.2 368.2L80.6 369.9Z" fill="#cd9f8e" stroke="#cd9f8e"/>
<path d="M80.6 369.9L76.2 368.2L73.3 369.4L77.7 371.1Z" fill="#cb9b8c" stroke="#cb9b8c"/>
<path d="M154.9 305.7L150.8 304.4L147.8 308.6L152 309.9Z" fill="#ebe6a6" stroke="#ebe6a6"/>
<path d="M152 309.9L147.8 308.6L144.9 312.6L149.1 313.9Z" fill="#ebe5a6" stroke="#ebe5a6"/>
<path d="M149.1 313.9L144.9 312.6L142 316.4L146.2 317.7Z" fill="#eae4a6" stroke="#eae4a6"/>
<path d="M146.2 317.7L142 316.4L139.1 320L143.3 321.3Z" fill="#eae3a5" stroke="#eae3a5"/>
<path d="M143.3 321.3L139.1 320L136.1 323.4L140.4 324.7Z" fill="#e9e2a5" stroke="#e9e2a5"/>
<path d="M140.4 324.7L136.1 323.4L133.2 326.6L137.4 327.9Z" fill="#e8e0a5" stroke="#e8e0a5"/>
<path d="M137.4 327.9L133.2 326.6L130.3 329.6L134.5 331Z" fill="#e7dea4" stroke="#e7dea4"/>
<path d="M134.5 331L130.3 329.6L127.4 332.5L131.6 333.9Z" fill="#e6dda4" stroke="#e6dda4"/>
<path d="M131.6 333.9L127.4 332.5L124.5 335.2L128.7 336.6Z" fill="#e5dba3" stroke="#e5dba3"/>
<path d="M128.7 336.6L124.5 335.2L121.5 337.8L125.8 339.2Z" fill="#e4d8a3" stroke="#e4d8a3"/>
<path d="M125.8 339.2L121.5 337.8L118.6 340.3L122.9 341.7Z" fill="#e3d6a2" stroke="#e3d6a2"/>
<path d="M122.9 341.7L118.6 340.3L115.7 342.6L119.9 344Z" fill="#e2d4a2" stroke="#e2d4a2"/>
<path d="M119.9 344L115.7 342.6L112.8 344.7L117 346.2Z" fill="#e1d1a1" stroke="#e1d1a1"/>
<path d="M117 346.2L112.8 344.7L109.8 346.8L114.1 348.3Z" fill="#e0cfa1" stroke="#e0cfa1"/>
<path d="M114.1 348.3L109.8 346.8L106.9 348.8L111.2 350.3Z" fill="#decca0" stroke="#decca0"/>
<path d="M111.2 350.3L106.9 348.8L104 350.6L108.3 352.1Z" fill="#ddc99f" stroke="#ddc99f"/>
<path d="M108.3 352.1L104 350.6L101.1 352.4L105.4 353.9Z" fill="#dcc69e" stroke="#dcc69e"/>
<path d="M105.4 353.9L101.1 352.4L98.2 354L102.5 355.6Z" fill="#dac39e" stroke="#dac39e"/>
<path d="M102.5 355.6L98.2 354L95.2 355.6L99.5 357.2Z" fill="#d9c09d" stroke="#d9c09d"/>
<path d="M99.5 357.2L95.2 355.6L92.3 357.2L96.6 358.8Z" fill="#d7bd9c" stroke="#d7bd9c"/>
<path d="M96.6 358.8L92.3 357.2L89.4 358.6L93.7 360.2Z" fill="#d6b99b" stroke="#d6b99b"/>
<path d="M93.7 360.2L89.4 358.6L86.5 360L90.8 361.7Z" fill="#d5b699" stroke="#d5b699"/>
<path d="M90.8 361.7L86.5 360L83.6 361.4L87.9 363Z" fill="#d3b398" stroke="#d3b398"/>
<path d="M87.9 363L83.6 361.4L80.6 362.7L85 364.4Z" fill="#d2af96" stroke="#d2af96"/>
<path d="M85 364.4L80.6 362.7L77.7 364L82 365.7Z" fill="#d1ac94" stroke="#d1ac94"/>
<path d="M82 365.7L77.7 364L74.8 365.3L79.1 366.9Z" fill="#d0a892" stroke="#d0a892"/>
<path d="M79.1 366.9L74.8 365.3L71.9 366.6L76.2 368.2Z" fill="#cea591" stroke="#cea591"/>
<path d="M76.2 368.2L71.9 366.6L69 367.8L73.3 369.4Z" fill="#cda18f" stroke="#cda18f"/>
<path d="M150.8 304.4L146.6 303.2L143.6 307.4L147.8 308.6Z" fill="#ece7a6" stroke="#ece7a6"/>
<path d="M147.8 308.6L143.6 307.4L140.7 311.4L144.9 312.6Z" fill="#ebe7a6" stroke="#ebe7a6"/>
<path d="M144.9 312.6L140.7 311.4L137.8 315.2L142 316.4Z" fill="#ebe6a6" stroke="#ebe6a6"/>
<path d="M142 316.4L137.8 315.2L134.9 318.8L139.1 320Z" fill="#eae4a6" stroke="#eae4a6"/>
<path d="M139.1 320L134.9 318.8L131.9 322.2L136.1 323.4Z" fill="#eae3a5" stroke="#eae3a5"/>
<path d="M136.1 323.4L131.9 322.2L129 325.4L133.2 326.6Z" fill="#e9e2a5" stroke="#e9e2a5"/>
<path d="M133.2 326.6L129 325.4L126.1 328.4L130.3 329.6Z" fill="#e8e0a5" stroke="#e8e0a5"/>
<path d="M130.3 329.6L126.1 328.4L123.2 331.3L127.4 332.5Z" fill="#e7dea4" stroke="#e7dea4"/>
<path d="M127.4 332.5L123.2 331.3L120.2 334L124.5 335.2Z" fill="#e6dda4" stroke="#e6dda4"/>
<path d="M124.5 335.2L120.2 334L117.3 336.5L121.5 337.8Z" fill="#e5dba3" stroke="#e5dba3"/>
<path d="M121.5 337.8L117.3 336.5L114.4 338.9L118.6 340.3Z" fill="#e4d8a3" stroke="#e4d8a3"/>
<path d="M118.6 340.3L114.4 338.9L111.4 341.2L115.7 342.6Z" fill="#e3d6a2" stroke="#e3d6a2"/>
<path d="M115.7 342.6L111.4 341.2L108.5 343.4L112.8 344.7Z" fill="#e2d4a2" stroke="#e2d4a2"/>
<path d="M112.8 344.7L108.5 343.4L105.6 345.4L109.8 346.8Z" fill="#e1d1a1" stroke="#e1d1a1"/>
<path d="M109.8 346.8L105.6 345.4L102.7 347.3L106.9 348.8Z" fill="#e0cfa1" stroke="#e0cfa1"/>
<path d="M106.9 348.8L102.7 347.3L99.7 349.2L104 350.6Z" fill="#decca0" stroke="#decca0"/>
<path d="M104 350.6L99.7 349.2L96.8 350.9L101.1 352.4Z" fill="#ddc99f" stroke="#ddc99f"/>
<path d="M101.1 352.4L96.8 350.9L93.9 352.5L98.2 354Z" fill="#dcc69e" stroke="#dcc69e"/>
<path d="M98.2 354L93.9 352.5L90.9 354.1L95.2 355.6Z" fill="#dac39e" stroke="#dac39e"/>
<path d="M95.2 355.6L90.9 354.1L88 355.6L92.3 357.2Z" fill="#d9c09d" stroke="#d9c09d"/>
<path d="M92.3 357.2L88 355.6L85.1 357.1L89.4 358.6Z" fill="#d8bd9c" stroke="#d8bd9c"/>
<path d="M89.4 358.6L85.1 357.1L82.2 358.5L86.5 360Z" fill="#d6ba9b" stroke="#d6ba9b"/>
<path d="M86.5 360L82.2 358.5L79.2 359.8L83.6 361.4Z" fill="#d5b79a" stroke="#d5b79a"/>
<path d="M83.6 361.4L79.2 359.8L76.3 361.2L80.6 362.7Z" fill="#d4b498" stroke="#d4b498"/>
<path d="M80.6 362.7L76.3 361.2L73.4 362.5L77.7 364Z" fill="#d2b096" stroke="#d2b096"/>
<path d="M77.7 364L73.4 362.5L70.5 363.7L74.8 365.3Z" fill="#d1ad95" stroke="#d1ad95"/>
<path d="M74.8 365.3L70.5 363.7L67.5 365L71.9 366.6Z" fill="#d0aa93" stroke="#d0aa93"/>
<path d="M71.9 366.6L67.5 365L64.6 366.3L69 367.8Z" fill="#cfa691" stroke="#cfa691"/>
<path d="M146.6 303.2L142.4 302.1L139.5 306.3L143.6 307.4Z" fill="#ece8a6" stroke="#ece8a6"/>
<path d="M143.6 307.4L139.5 306.3L136.5 310.3L140.7 311.4Z" fill="#ece7a6" stroke="#ece7a6"/>
<path d="M140.7 311.4L136.5 310.3L133.6 314.1L137.8 315.2Z" fill="#ebe7a6" stroke="#ebe7a6"/>
<path d="M137.8 315.2L133.6 314.1L130.7 317.6L134.9 318.8Z" fill="#ebe6a6" stroke="#ebe6a6"/>
<path d="M134.9 318.8L130.7 317.6L127.7 321L131.9 322.2Z" fill="#eae4a6" stroke="#eae4a6"/>
<path d="M131.9 322.2L127.7 321L124.8 324.2L129 325.4Z" fill="#eae3a5" stroke="#eae3a5"/>
<path d="M129 325.4L124.8 324.2L121.9 327.2L126.1 328.4Z" fill="#e9e2a5" stroke="#e9e2a5"/>
<path d="M126.1 328.4L121.9 327.2L118.9 330.1L123.2 331.3Z" fill="#e8e0a5" stroke="#e8e0a5"/>
<path d="M123.2 331.3L118.9 330.1L116 332.7L120.2 334Z" fill="#e7dea4" stroke="#e7dea4"/>
<path d="M120.2 334L116 332.7L113.1 335.3L117.3 336.5Z" fill="#e6dca4" stroke="#e6dca4"/>
<path d="M117.3 336.5L113.1 335.3L110.1 337.7L114.4 338.9Z" fill="#e5daa3" stroke="#e5daa3"/>
<path d="M114.4 338.9L110.1 337.7L107.2 339.9L111.4 341.2Z" fill="#e4d8a3" stroke="#e4d8a3"/>
<path d="M111.4 341.2L107.2 339.9L104.3 342L108.5 343.4Z" fill="#e3d6a2" stroke="#e3d6a2"/>
<path d="M108.5 343.4L104.3 342L101.3 344.1L105.6 345.4Z" fill="#e2d4a2" stroke="#e2d4a2"/>
<path d="M105.6 345.4L101.3 344.1L98.4 346L102.7 347.3Z" fill="#e1d1a1" stroke="#e1d1a1"/>
<path d="M102.7 347.3L98.4 346L95.5 347.8L99.7 349.2Z" fill="#e0cfa1" stroke="#e0cfa1"/>
<path d="M99.7 349.2L95.5 347.8L92.5 349.5L96.8 350.9Z" fill="#decca0" stroke="#decca0"/>
<path d="M96.8 350.9L92.5 349.5L89.6 351.1L93.9 352.5Z" fill="#ddca9f" stroke="#ddca9f"/>
<path d="M93.9 352.5L89.6 351.1L86.7 352.7L90.9 354.1Z" fill="#dcc79e" stroke="#dcc79e"/>
<path d="M90.9 354.1L86.7 352.7L83.7 354.2L88 355.6Z" fill="#dbc49e" stroke="#dbc49e"/>
<path d="M88 355.6L83.7 354.2L80.8 355.6L85.1 357.1Z" fill="#d9c19d" stroke="#d9c19d"/>
<path d="M85.1 357.1L80.8 355.6L77.9 357L82.2 358.5Z" fill="#d8be9c" stroke="#d8be9c"/>
<path d="M82.2 358.5L77.9 357L74.9 358.3L79.2 359.8Z" fill="#d6bb9b" stroke="#d6bb9b"/>
<path d="M79.2 359.8L74.9 358.3L72 359.6L76.3 361.2Z" fill="#d5b89a" stroke="#d5b89a"/>
<path d="M76.3 361.2L72 359.6L69.1 360.9L73.4 362.5Z" fill="#d4b498" stroke="#d4b498"/>
<path d="M73.4 362.5L69.1 360.9L66.1 362.2L70.5 363.7Z" fill="#d3b197" stroke="#d3b197"/>
<path d="M70.5 363.7L66.1 362.2L63.2 363.5L67.5 365Z" fill="#d2ae95" stroke="#d2ae95"/>
<path d="M67.5 365L63.2 363.5L60.2 364.8L64.6 366.3Z" fill="#d1ab94" stroke="#d1ab94"/>
<path d="M142.4 302.1L138.2 301L135.3 305.2L139.5 306.3Z" fill="#ece9a7" stroke="#ece9a7"/>
<path d="M139.5 306.3L135.3 305.2L132.3 309.2L136.5 310.3Z" fill="#ece8a6" stroke="#ece8a6"/>
<path d="M136.5 310.3L132.3 309.2L129.4 313L133.6 314.1Z" fill="#ece7a6" stroke="#ece7a6"/>
<path d="M133.6 314.1L129.4 313L126.5 316.6L130.7 317.6Z" fill="#ebe6a6" stroke="#ebe6a6"/>
<path d="M130.7 317.6L126.5 316.6L123.5 319.9L127.7 321Z" fill="#ebe5a6" stroke="#ebe5a6"/>
<path d="M127.7 321L123.5 319.9L120.6 323.1L124.8 324.2Z" fill="#eae4a6" stroke="#eae4a6"/>
<path d="M124.8 324.2L120.6 323.1L117.6 326.1L121.9 327.2Z" fill="#eae3a5" stroke="#eae3a5"/>
<path d="M121.9 327.2L117.6 326.1L114.7 328.9L118.9 330.1Z" fill="#e9e1a5" stroke="#e9e1a5"/>
<path d="M118.9 330.1L114.7 328.9L111.8 331.6L116 332.7Z" fill="#e8e0a5" stroke="#e8e0a5"/>
<path d="M116 332.7L111.8 331.6L108.8 334.1L113.1 335.3Z" fill="#e7dea4" stroke="#e7dea4"/>
<path d="M113.1 335.3L108.8 334.1L105.9 336.5L110.1 337.7Z" fill="#e6dca4" stroke="#e6dca4"/>
<path d="M110.1 337.7L105.9 336.5L102.9 338.7L107.2 339.9Z" fill="#e5daa3" stroke="#e5daa3"/>
<path d="M107.2 339.9L102.9 338.7L100 340.8L104.3 342Z" fill="#e4d8a3" stroke="#e4d8a3"/>
<path d="M104.3 342L100 340.8L97.1 342.8L101.3 344.1Z" fill="#e3d6a2" stroke="#e3d6a2"/>
<path d="M101.3 344.1L97.1 342.8L94.1 344.7L98.4 346Z" fill="#e2d4a2" stroke="#e2d4a2"/>
<path d="M98.4 346L94.1 344.7L91.2 346.4L95.5 347.8Z" fill="#e1d1a1" stroke="#e1d1a1"/>
<path d="M95.5 347.8L91.2 346.4L88.2 348.1L92.5 349.5Z" fill="#e0cfa1" stroke="#e0cfa1"/>
<path d="M92.5 349.5L88.2 348.1L85.3 349.7L89.6 351.1Z" fill="#decca0" stroke="#decca0"/>
<path d="M89.6 351.1L85.3 349.7L82.4 351.3L86.7 352.7Z" fill="#ddca9f" stroke="#ddca9f"/>
<path d="M86.7 352.7L82.4 351.3L79.4 352.7L83.7 354.2Z" fill="#dcc79f" stroke="#dcc79f"/>
<path d="M83.7 354.2L79.4 352.7L76.5 354.2L80.8 355.6Z" fill="#dbc49e" stroke="#dbc49e"/>
<path d="M80.8 355.6L76.5 354.2L73.5 355.5L77.9 357Z" fill="#d9c19d" stroke="#d9c19d"/>
<path d="M77.9 357L73.5 355.5L70.6 356.9L74.9 358.3Z" fill="#d8be9c" stroke="#d8be9c"/>
<path d="M74.9 358.3L70.6 356.9L67.7 358.2L72 359.6Z" fill="#d7bb9b" stroke="#d7bb9b"/>
<path d="M72 359.6L67.7 358.2L64.7 359.5L69.1 360.9Z" fill="#d5b89a" stroke="#d5b89a"/>
<path d="M69.1 360.9L64.7 359.5L61.8 360.8L66.1 362.2Z" fill="#d4b599" stroke="#d4b599"/>
<path d="M66.1 362.2L61.8 360.8L58.8 362L63.2 363.5Z" fill="#d3b297" stroke="#d3b297"/>
<path d="M63.2 363.5L58.8 362L55.9 363.3L60.2 364.8Z" fill="#d2af96" stroke="#d2af96"/>
<path d="M138.2 301L134 300.1L131.1 304.3L135.3 305.2Z" fill="#ede9a7" stroke="#ede9a7"/>
<path d="M135.3 305.2L131.1 304.3L128.1 308.3L132.3 309.2Z" fill="#ece9a7" stroke="#ece9a7"/>
<path d="M132.3 309.2L128.1 308.3L125.2 312L129.4 313Z" fill="#ece8a6" stroke="#ece8a6"/>
<path d="M129.4 313L125.2 312L122.3 315.6L126.5 316.6Z" fill="#ece7a6" stroke="#ece7a6"/>
<path d="M126.5 316.6L122.3 315.6L119.3 318.9L123.5 319.9Z" fill="#ebe6a6" stroke="#ebe6a6"/>
<path d="M123.5 319.9L119.3 318.9L116.4 322.1L120.6 323.1Z" fill="#ebe5a6" stroke="#ebe5a6"/>
<path d="M120.6 323.1L116.4 322.1L113.4 325L117.6 326.1Z" fill="#eae4a6" stroke="#eae4a6"/>
<path d="M117.6 326.1L113.4 325L110.5 327.8L114.7 328.9Z" fill="#e9e3a5" stroke="#e9e3a5"/>
<path d="M114.7 328.9L110.5 327.8L107.5 330.5L111.8 331.6Z" fill="#e9e1a5" stroke="#e9e1a5"/>
<path d="M111.8 331.6L107.5 330.5L104.6 333L108.8 334.1Z" fill="#e8e0a5" stroke="#e8e0a5"/>
<path d="M108.8 334.1L104.6 333L101.6 335.3L105.9 336.5Z" fill="#e7dea4" stroke="#e7dea4"/>
<path d="M105.9 336.5L101.6 335.3L98.7 337.5L102.9 338.7Z" fill="#e6dca4" stroke="#e6dca4"/>
<path d="M102.9 338.7L98.7 337.5L95.7 339.6L100 340.8Z" fill="#e5daa3" stroke="#e5daa3"/>
<path d="M100 340.8L95.7 339.6L92.8 341.5L97.1 342.8Z" fill="#e4d8a3" stroke="#e4d8a3"/>
<path d="M97.1 342.8L92.8 341.5L89.8 343.4L94.1 344.7Z" fill="#e3d6a2" stroke="#e3d6a2"/>
<path d="M94.1 344.7L89.8 343.4L86.9 345.2L91.2 346.4Z" fill="#e2d4a2" stroke="#e2d4a2"/>
<path d="M91.2 346.4L86.9 345.2L84 346.8L88.2 348.1Z" fill="#e1d1a1" stroke="#e1d1a1"/>
<path d="M88.2 348.1L84 346.8L81 348.4L85.3 349.7Z" fill="#e0cfa1" stroke="#e0cfa1"/>
<path d="M85.3 349.7L81 348.4L78.1 349.9L82.4 351.3Z" fill="#dfcca0" stroke="#dfcca0"/>
<path d="M82.4 351.3L78.1 349.9L75.1 351.4L79.4 352.7Z" fill="#ddca9f" stroke="#ddca9f"/>
<path d="M79.4 352.7L75.1 351.4L72.2 352.8L76.5 354.2Z" fill="#dcc79f" stroke="#dcc79f"/>
<path d="M76.5 354.2L72.2 352.8L69.2 354.1L73.5 355.5Z" fill="#dbc49e" stroke="#dbc49e"/>
<path d="M73.5 355.5L69.2 354.1L66.3 355.5L70.6 356.9Z" fill="#dac29d" stroke="#dac29d"/>
<path d="M70.6 356.9L66.3 355.5L63.3 356.8L67.7 358.2Z" fill="#d8bf9c" stroke="#d8bf9c"/>
<path d="M67.7 358.2L63.3 356.8L60.4 358.1L64.7 359.5Z" fill="#d7bc9b" stroke="#d7bc9b"/>
<path d="M64.7 359.5L60.4 358.1L57.4 359.3L61.8 360.8Z" fill="#d6b99b" stroke="#d6b99b"/>
<path d="M61.8 360.8L57.4 359.3L54.5 360.6L58.8 362Z" fill="#d5b699" stroke="#d5b699"/>
<path d="M58.8 362L54.5 360.6L51.5 361.9L55.9 363.3Z" fill="#d4b398" stroke="#d4b398"/>
<path d="M134 300.1L129.9 299.2L126.9 303.4L131.1 304.3Z" fill="#ede9a7" stroke="#ede9a7"/>
<path d="M131.1 304.3L126.9 303.4L124 307.3L128.1 308.3Z" fill="#ede9a7" stroke="#ede9a7"/>
<path d="M128.1 308.3L124 307.3L121 311.1L125.2 312Z" fill="#ece9a7" stroke="#ece9a7"/>
<path d="M125.2 312L121 311.1L118 314.6L122.3 315.6Z" fill="#ece8a6" stroke="#ece8a6"/>
<path d="M122.3 315.6L118 314.6L115.1 318L119.3 318.9Z" fill="#ece7a6" stroke="#ece7a6"/>
<path d="M119.3 318.9L115.1 318L112.1 321.1L116.4 322.1Z" fill="#ebe6a6" stroke="#ebe6a6"/>
<path d="M116.4 322.1L112.1 321.1L109.2 324.1L113.4 325Z" fill="#ebe5a6" stroke="#ebe5a6"/>
<path d="M113.4 325L109.2 324.1L106.2 326.8L110.5 327.8Z" fill="#eae4a6" stroke="#eae4a6"/>
<path d="M110.5 327.8L106.2 326.8L103.3 329.5L107.5 330.5Z" fill="#e9e2a5" stroke="#e9e2a5"/>
<path d="M107.5 330.5L103.3 329.5L100.3 331.9L104.6 333Z" fill="#e9e1a5" stroke="#e9e1a5"/>
<path d="M104.6 333L100.3 331.9L97.4 334.2L101.6 335.3Z" fill="#e8dfa5" stroke="#e8dfa5"/>
<path d="M101.6 335.3L97.4 334.2L94.4 336.4L98.7 337.5Z" fill="#e7dea4" stroke="#e7dea4"/>
<path d="M98.7 337.5L94.4 336.4L91.5 338.5L95.7 339.6Z" fill="#e6dca4" stroke="#e6dca4"/>
<path d="M95.7 339.6L91.5 338.5L88.5 340.4L92.8 341.5Z" fill="#e5daa3" stroke="#e5daa3"/>
<path d="M92.8 341.5L88.5 340.4L85.6 342.2L89.8 343.4Z" fill="#e4d8a3" stroke="#e4d8a3"/>
<path d="M89.8 343.4L85.6 342.2L82.6 343.9L86.9 345.2Z" fill="#e3d6a2" stroke="#e3d6a2"/>
<path d="M86.9 345.2L82.6 343.9L79.7 345.6L84 346.8Z" fill="#e2d4a2" stroke="#e2d4a2"/>
<path d="M84 346.8L79.7 345.6L76.7 347.1L81 348.4Z" fill="#e1d1a1" stroke="#e1d1a1"/>
<path d="M81 348.4L76.7 347.1L73.8 348.6L78.1 349.9Z" fill="#e0cfa1" stroke="#e0cfa1"/>
<path d="M78.1 349.9L73.8 348.6L70.8 350.1L75.1 351.4Z" fill="#dfcca0" stroke="#dfcca0"/>
<path d="M75.1 351.4L70.8 350.1L67.9 351.4L72.2 352.8Z" fill="#ddca9f" stroke="#ddca9f"/>
<path d="M72.2 352.8L67.9 351.4L64.9 352.8L69.2 354.1Z" fill="#dcc79f" stroke="#dcc79f"/>
<path d="M69.2 354.1L64.9 352.8L62 354.1L66.3 355.5Z" fill="#dbc59e" stroke="#dbc59e"/>
<path d="M66.3 355.5L62 354.1L59 355.4L63.3 356.8Z" fill="#dac29d" stroke="#dac29d"/>
<path d="M63.3 356.8L59 355.4L56.1 356.7L60.4 358.1Z" fill="#d9bf9c" stroke="#d9bf9c"/>
<path d="M60.4 358.1L56.1 356.7L53.1 358L57.4 359.3Z" fill="#d7bd9c" stroke="#d7bd9c"/>
<path d="M57.4 359.3L53.1 358L50.2 359.2L54.5 360.6Z" fill="#d6ba9b" stroke="#d6ba9b"/>
<path d="M54.5 360.6L50.2 359.2L47.2 360.5L51.5 361.9Z" fill="#d5b79a" stroke="#d5b79a"/>
<path d="M129.9 299.2L125.7 298.3L122.7 302.5L126.9 303.4Z" fill="#ede9a7" stroke="#ede9a7"/>
<path d="M126.9 303.4L122.7 302.5L119.8 306.5L124 307.3Z" fill="#ede9a7" stroke="#ede9a7"/>
<path d="M124 307.3L119.8 306.5L116.8 310.3L121 311.1Z" fill="#ece9a7" stroke="#ece9a7"/>
<path d="M121 311.1L116.8 310.3L113.8 313.8L118 314.6Z" fill="#ece8a6" stroke="#ece8a6"/>
<path d="M118 314.6L113.8 313.8L110.9 317.1L115.1 318Z" fill="#ece8a6" stroke="#ece8a6"/>
<path d="M115.1 318L110.9 317.1L107.9 320.2L112.1 321.1Z" fill="#ebe7a6" stroke="#ebe7a6"/>
<path d="M112.1 321.1L107.9 320.2L105 323.2L109.2 324.1Z" fill="#ebe6a6" stroke="#ebe6a6"/>
<path d="M109.2 324.1L105 323.2L102 325.9L106.2 326.8Z" fill="#eae5a6" stroke="#eae5a6"/>
<path d="M106.2 326.8L102 325.9L99.1 328.5L103.3 329.5Z" fill="#eae3a5" stroke="#eae3a5"/>
<path d="M103.3 329.5L99.1 328.5L96.1 330.9L100.3 331.9Z" fill="#e9e2a5" stroke="#e9e2a5"/>
<path d="M100.3 331.9L96.1 330.9L93.1 333.2L97.4 334.2Z" fill="#e8e1a5" stroke="#e8e1a5"/>
<path d="M97.4 334.2L93.1 333.2L90.2 335.4L94.4 336.4Z" fill="#e8dfa4" stroke="#e8dfa4"/>
<path d="M94.4 336.4L90.2 335.4L87.2 337.4L91.5 338.5Z" fill="#e7dda4" stroke="#e7dda4"/>
<path d="M91.5 338.5L87.2 337.4L84.3 339.3L88.5 340.4Z" fill="#e6dba4" stroke="#e6dba4"/>
<path d="M88.5 340.4L84.3 339.3L81.3 341.1L85.6 342.2Z" fill="#e5daa3" stroke="#e5daa3"/>
<path d="M85.6 342.2L81.3 341.1L78.3 342.8L82.6 343.9Z" fill="#e4d8a3" stroke="#e4d8a3"/>
<path d="M82.6 343.9L78.3 342.8L75.4 344.4L79.7 345.6Z" fill="#e3d6a2" stroke="#e3d6a2"/>
<path d="M79.7 345.6L75.4 344.4L72.4 345.9L76.7 347.1Z" fill="#e2d3a2" stroke="#e2d3a2"/>
<path d="M76.7 347.1L72.4 345.9L69.5 347.4L73.8 348.6Z" fill="#e1d1a1" stroke="#e1d1a1"/>
<path d="M73.8 348.6L69.5 347.4L66.5 348.8L70.8 350.1Z" fill="#e0cfa1" stroke="#e0cfa1"/>
<path d="M70.8 350.1L66.5 348.8L63.6 350.1L67.9 351.4Z" fill="#dfcca0" stroke="#dfcca0"/>
<path d="M67.9 351.4L63.6 350.1L60.6 351.5L64.9 352.8Z" fill="#ddca9f" stroke="#ddca9f"/>
<path d="M64.9 352.8L60.6 351.5L57.6 352.8L62 354.1Z" fill="#dcc89f" stroke="#dcc89f"/>
<path d="M62 354.1L57.6 352.8L54.7 354L59 355.4Z" fill="#dbc59e" stroke="#dbc59e"/>
<path d="M59 355.4L54.7 354L51.7 355.3L56.1 356.7Z" fill="#dac39d" stroke="#dac39d"/>
<path d="M56.1 356.7L51.7 355.3L48.8 356.6L53.1 358Z" fill="#d9c09d" stroke="#d9c09d"/>
<path d="M53.1 358L48.8 356.6L45.8 357.9L50.2 359.2Z" fill="#d8bd9c" stroke="#d8bd9c"/>
<path d="M50.2 359.2L45.8 357.9L42.9 359.2L47.2 360.5Z" fill="#d6bb9b" stroke="#d6bb9b"/>
<path d="M125.7 298.3L121.5 297.6L118.5 301.8L122.7 302.5Z" fill="#ede9a7" stroke="#ede9a7"/>
<path d="M122.7 302.5L118.5 301.8L115.6 305.8L119.8 306.5Z" fill="#ede9a7" stroke="#ede9a7"/>
<path d="M119.8 306.5L115.6 305.8L112.6 309.5L116.8 310.3Z" fill="#ede9a7" stroke="#ede9a7"/>
<path d="M116.8 310.3L112.6 309.5L109.6 313L113.8 313.8Z" fill="#ece9a7" stroke="#ece9a7"/>
<path d="M113.8 313.8L109.6 313L106.7 316.3L110.9 317.1Z" fill="#ece8a6" stroke="#ece8a6"/>
<path d="M110.9 317.1L106.7 316.3L103.7 319.4L107.9 320.2Z" fill="#ece7a6" stroke="#ece7a6"/>
<path d="M107.9 320.2L103.7 319.4L100.8 322.3L105 323.2Z" fill="#ebe6a6" stroke="#ebe6a6"/>
<path d="M105 323.2L100.8 322.3L97.8 325L102 325.9Z" fill="#ebe5a6" stroke="#ebe5a6"/>
<path d="M102 325.9L97.8 325L94.8 327.6L99.1 328.5Z" fill="#eae4a6" stroke="#eae4a6"/>
<path d="M99.1 328.5L94.8 327.6L91.9 330L96.1 330.9Z" fill="#eae3a5" stroke="#eae3a5"/>
<path d="M96.1 330.9L91.9 330L88.9 332.2L93.1 333.2Z" fill="#e9e2a5" stroke="#e9e2a5"/>
<path d="M93.1 333.2L88.9 332.2L85.9 334.4L90.2 335.4Z" fill="#e8e0a5" stroke="#e8e0a5"/>
<path d="M90.2 335.4L85.9 334.4L83 336.3L87.2 337.4Z" fill="#e7dfa4" stroke="#e7dfa4"/>
<path d="M87.2 337.4L83 336.3L80 338.2L84.3 339.3Z" fill="#e6dda4" stroke="#e6dda4"/>
<path d="M84.3 339.3L80 338.2L77 340L81.3 341.1Z" fill="#e6dba4" stroke="#e6dba4"/>
<path d="M81.3 341.1L77 340L74.1 341.6L78.3 342.8Z" fill="#e5d9a3" stroke="#e5d9a3"/>
<path d="M78.3 342.8L74.1 341.6L71.1 343.2L75.4 344.4Z" fill="#e4d7a3" stroke="#e4d7a3"/>
<path d="M75.4 344.4L71.1 343.2L68.1 344.7L72.4 345.9Z" fill="#e3d5a2" stroke="#e3d5a2"/>
<path d="M72.4 345.9L68.1 344.7L65.2 346.2L69.5 347.4Z" fill="#e2d3a2" stroke="#e2d3a2"/>
<path d="M69.5 347.4L65.2 346.2L62.2 347.6L66.5 348.8Z" fill="#e1d1a1" stroke="#e1d1a1"/>
<path d="M66.5 348.8L62.2 347.6L59.2 348.9L63.6 350.1Z" fill="#e0cfa1" stroke="#e0cfa1"/>
<path d="M63.6 350.1L59.2 348.9L56.3 350.2L60.6 351.5Z" fill="#dfcca0" stroke="#dfcca0"/>
<path d="M60.6 351.5L56.3 350.2L53.3 351.5L57.6 352.8Z" fill="#ddca9f" stroke="#ddca9f"/>
<path d="M57.6 352.8L53.3 351.5L50.4 352.7L54.7 354Z" fill="#dcc89f" stroke="#dcc89f"/>
<path d="M54.7 354L50.4 352.7L47.4 354L51.7 355.3Z" fill="#dbc59e" stroke="#dbc59e"/>
<path d="M51.7 355.3L47.4 354L44.4 355.3L48.8 356.6Z" fill="#dac39d" stroke="#dac39d"/>
<path d="M48.8 356.6L44.4 355.3L41.5 356.6L45.8 357.9Z" fill="#d9c09d" stroke="#d9c09d"/>
<path d="M45.8 357.9L41.5 356.6L38.5 357.9L42.9 359.2Z" fill="#d8be9c" stroke="#d8be9c"/>
</g>
<path d="M238.5 343.7L232.9 352.2L227.3 360.3L221.7 367.9L216.2 374.9L210.6 381.6L205 387.7L199.4 393.4L193.8 398.7L188.2 403.4L182.6 407.7L177.1 411.6L171.5 415L165.9 418L160.3 420.5M238.5 343.7L230.1 339L221.8 334.5L213.4 330.1L205.1 325.9L196.7 322L188.4 318.2L180 314.7L171.6 311.5L163.3 308.4L154.9 305.7L146.6 303.2L138.2 301L129.9 299.2L121.5 297.6M236.4 342.5L230.8 351L225.2 359L219.6 366.5L214 373.6L208.5 380.1L202.9 386.2L197.3 391.9L191.7 397.1L186.1 401.8L180.5 406L174.9 409.8L169.3 413.2L163.7 416.1L158.1 418.6M237.1 345.9L228.7 341.1L220.4 336.6L212 332.2L203.7 328.1L195.3 324.1L186.9 320.3L178.6 316.8L170.2 313.6L161.8 310.6L153.5 307.8L145.1 305.3L136.7 303.2L128.4 301.3L120 299.7M234.3 341.3L228.7 349.8L223.1 357.8L217.5 365.2L211.9 372.2L206.3 378.7L200.7 384.8L195.1 390.4L189.5 395.5L183.9 400.1L178.3 404.3L172.7 408.1L167.1 411.4L161.5 414.3L156 416.8M235.7 348L227.3 343.3L219 338.7L210.6 334.3L202.2 330.1L193.9 326.1L185.5 322.4L177.1 318.9L168.8 315.6L160.4 312.6L152 309.9L143.6 307.4L135.3 305.2L126.9 303.4L118.5 301.8M232.2 340.2L226.6 348.6L221 356.5L215.4 364L209.8 370.9L204.2 377.4L198.6 383.3L193 388.9L187.4 393.9L181.8 398.5L176.2 402.7L170.6 406.4L165 409.7L159.4 412.5L153.8 415M234.3 350.1L225.9 345.3L217.6 340.7L209.2 336.3L200.8 332.1L192.4 328.2L184.1 324.4L175.7 320.9L167.3 317.6L158.9 314.6L150.6 311.9L142.2 309.4L133.8 307.3L125.4 305.4L117.1 303.8M230.1 339L224.5 347.4L218.9 355.3L213.3 362.7L207.7 369.6L202.1 376L196.5 381.9L190.9 387.4L185.3 392.4L179.7 396.9L174 401L168.4 404.7L162.8 408L157.2 410.8L151.6 413.2M232.9 352.2L224.5 347.4L216.2 342.8L207.8 338.3L199.4 334.1L191 330.1L182.6 326.4L174.2 322.9L165.9 319.6L157.5 316.6L149.1 313.9L140.7 311.4L132.3 309.2L124 307.3L115.6 305.8M228.1 337.8L222.4 346.2L216.8 354.1L211.2 361.4L205.6 368.3L200 374.6L194.4 380.5L188.7 385.9L183.1 390.9L177.5 395.4L171.9 399.4L166.3 403.1L160.7 406.3L155 409.1L149.4 411.5M231.5 354.3L223.1 349.4L214.7 344.8L206.4 340.3L198 336.1L189.6 332.1L181.2 328.3L172.8 324.8L164.4 321.5L156 318.5L147.6 315.8L139.3 313.3L130.9 311.1L122.5 309.3L114.1 307.7M226 336.7L220.3 345.1L214.7 352.9L209.1 360.2L203.5 367L197.9 373.3L192.2 379.1L186.6 384.5L181 389.4L175.4 393.9L169.7 397.9L164.1 401.5L158.5 404.7L152.9 407.4L147.2 409.8M230.1 356.3L221.7 351.4L213.3 346.7L204.9 342.2L196.5 338L188.2 334L179.8 330.2L171.4 326.7L163 323.4L154.6 320.4L146.2 317.7L137.8 315.2L129.4 313L121 311.1L112.6 309.5M223.9 335.6L218.2 343.9L212.6 351.7L207 359L201.4 365.7L195.7 372L190.1 377.8L184.5 383.1L178.8 387.9L173.2 392.4L167.6 396.3L162 399.9L156.3 403L150.7 405.8L145.1 408.2M228.7 358.3L220.3 353.4L211.9 348.6L203.5 344.1L195.1 339.9L186.7 335.9L178.3 332.1L169.9 328.5L161.5 325.2L153.1 322.2L144.7 319.5L136.3 317L127.9 314.8L119.5 312.9L111.1 311.3M221.8 334.5L216.2 342.8L210.5 350.5L204.9 357.8L199.2 364.5L193.6 370.7L188 376.4L182.3 381.7L176.7 386.5L171.1 390.9L165.4 394.8L159.8 398.3L154.2 401.5L148.5 404.2L142.9 406.6M227.3 360.3L218.9 355.3L210.5 350.5L202.1 346L193.7 341.7L185.3 337.7L176.9 333.9L168.5 330.3L160.1 327L151.7 324L143.3 321.3L134.9 318.8L126.5 316.6L118 314.6L109.6 313M219.7 333.4L214.1 341.6L208.4 349.4L202.8 356.6L197.1 363.3L191.5 369.4L185.9 375.1L180.2 380.4L174.6 385.1L168.9 389.4L163.3 393.3L157.6 396.8L152 399.9L146.4 402.6L140.7 405M225.9 362.2L217.5 357.2L209.1 352.4L200.7 347.8L192.3 343.5L183.9 339.5L175.5 335.6L167 332.1L158.6 328.8L150.2 325.7L141.8 323L133.4 320.5L125 318.3L116.6 316.3L108.2 314.7M217.6 332.3L212 340.5L206.3 348.2L200.7 355.4L195 362.1L189.4 368.2L183.7 373.8L178.1 379L172.4 383.7L166.8 388L161.1 391.9L155.5 395.3L149.8 398.4L144.2 401.1L138.6 403.4M224.5 364.1L216.1 359.1L207.7 354.2L199.3 349.6L190.9 345.3L182.4 341.2L174 337.4L165.6 333.8L157.2 330.5L148.8 327.4L140.4 324.7L131.9 322.2L123.5 319.9L115.1 318L106.7 316.3M215.5 331.2L209.9 339.4L204.2 347.1L198.6 354.3L192.9 360.9L187.3 367L181.6 372.6L175.9 377.7L170.3 382.4L164.6 386.6L159 390.4L153.3 393.8L147.7 396.9L142 399.6L136.4 401.9M223.1 366L214.7 360.9L206.3 356L197.9 351.4L189.4 347L181 342.9L172.6 339.1L164.2 335.5L155.7 332.1L147.3 329.1L138.9 326.3L130.5 323.8L122 321.5L113.6 319.6L105.2 317.9M213.4 330.1L207.8 338.3L202.1 346L196.5 353.1L190.8 359.7L185.1 365.8L179.5 371.3L173.8 376.4L168.2 381L162.5 385.2L156.8 389L151.2 392.4L145.5 395.4L139.9 398.1L134.2 400.4M221.7 367.9L213.3 362.7L204.9 357.8L196.5 353.1L188 348.7L179.6 344.6L171.2 340.7L162.7 337.1L154.3 333.8L145.9 330.7L137.4 327.9L129 325.4L120.6 323.1L112.1 321.1L103.7 319.4M211.3 329L205.7 337.3L200 344.9L194.3 352L188.7 358.5L183 364.6L177.3 370.1L171.7 375.1L166 379.7L160.4 383.9L154.7 387.6L149 391L143.4 394L137.7 396.6L132 399M220.3 369.7L211.9 364.5L203.5 359.5L195 354.8L186.6 350.4L178.2 346.2L169.7 342.3L161.3 338.7L152.9 335.4L144.4 332.3L136 329.4L127.5 326.9L119.1 324.6L110.7 322.6L102.2 320.9M209.2 328L203.6 336.2L197.9 343.8L192.2 350.9L186.6 357.4L180.9 363.4L175.2 368.9L169.6 373.9L163.9 378.4L158.2 382.6L152.5 386.3L146.9 389.6L141.2 392.6L135.5 395.2L129.9 397.5M218.9 371.5L210.5 366.2L202.1 361.2L193.6 356.5L185.2 352L176.7 347.8L168.3 343.9L159.8 340.3L151.4 336.9L143 333.8L134.5 331L126.1 328.4L117.6 326.1L109.2 324.1L100.8 322.3M207.2 327L201.5 335.2L195.8 342.8L190.1 349.8L184.5 356.3L178.8 362.2L173.1 367.7L167.4 372.6L161.7 377.2L156.1 381.3L150.4 384.9L144.7 388.2L139 391.2L133.4 393.8L127.7 396.1M217.6 373.2L209.1 367.9L200.7 362.9L192.2 358.1L183.8 353.6L175.3 349.4L166.9 345.5L158.4 341.8L150 338.4L141.5 335.3L133.1 332.4L124.6 329.8L116.2 327.5L107.7 325.5L99.3 323.7M205.1 325.9L199.4 334.1L193.7 341.7L188 348.7L182.3 355.2L176.7 361.1L171 366.5L165.3 371.4L159.6 375.9L153.9 380L148.2 383.6L142.6 386.9L136.9 389.8L131.2 392.5L125.5 394.8M216.2 374.9L207.7 369.6L199.2 364.5L190.8 359.7L182.3 355.2L173.9 350.9L165.4 347L157 343.3L148.5 339.9L140.1 336.7L131.6 333.9L123.2 331.3L114.7 328.9L106.2 326.8L97.8 325M203 324.9L197.3 333.1L191.6 340.7L185.9 347.7L180.2 354.1L174.5 360L168.8 365.4L163.2 370.3L157.5 374.7L151.8 378.7L146.1 382.4L140.4 385.6L134.7 388.5L129 391.1L123.3 393.4M214.8 376.6L206.3 371.2L197.8 366.1L189.4 361.3L180.9 356.7L172.5 352.4L164 348.4L155.5 344.7L147.1 341.3L138.6 338.1L130.1 335.2L121.7 332.6L113.2 330.3L104.8 328.2L96.3 326.3M200.9 323.9L195.2 332.1L189.5 339.7L183.8 346.6L178.1 353L172.4 358.9L166.7 364.2L161 369.1L155.3 373.5L149.6 377.5L143.9 381.1L138.2 384.3L132.5 387.2L126.8 389.8L121.1 392.1M213.4 378.3L204.9 372.8L196.4 367.7L188 362.8L179.5 358.2L171 353.9L162.6 349.9L154.1 346.1L145.6 342.7L137.2 339.5L128.7 336.6L120.2 334L111.8 331.6L103.3 329.5L94.8 327.6M198.8 323L193.1 331.1L187.4 338.7L181.7 345.6L176 352L170.3 357.8L164.6 363.1L158.9 367.9L153.2 372.3L147.5 376.3L141.8 379.9L136.1 383.1L130.4 386L124.7 388.5L119 390.8M212 380L203.5 374.4L195 369.2L186.5 364.3L178.1 359.7L169.6 355.3L161.1 351.3L152.7 347.5L144.2 344.1L135.7 340.8L127.2 337.9L118.8 335.3L110.3 332.9L101.8 330.7L93.3 328.8M196.7 322L191 330.1L185.3 337.7L179.6 344.6L173.9 350.9L168.2 356.7L162.5 362L156.8 366.8L151 371.2L145.3 375.1L139.6 378.6L133.9 381.8L128.2 384.7L122.5 387.3L116.8 389.6M210.6 381.6L202.1 376L193.6 370.7L185.1 365.8L176.7 361.1L168.2 356.7L159.7 352.7L151.2 348.9L142.7 345.4L134.3 342.2L125.8 339.2L117.3 336.5L108.8 334.1L100.3 331.9L91.9 330M194.6 321L188.9 329.2L183.2 336.7L177.5 343.6L171.8 349.9L166.1 355.7L160.3 360.9L154.6 365.7L148.9 370L143.2 373.9L137.5 377.5L131.8 380.6L126.1 383.5L120.3 386.1L114.6 388.4M209.2 383.2L200.7 377.5L192.2 372.2L183.7 367.2L175.2 362.5L166.7 358.1L158.3 354L149.8 350.2L141.3 346.7L132.8 343.4L124.3 340.4L115.8 337.7L107.3 335.3L98.9 333.1L90.4 331.1M192.5 320.1L186.8 328.2L181.1 335.7L175.4 342.6L169.7 348.9L163.9 354.7L158.2 359.9L152.5 364.6L146.8 368.9L141.1 372.8L135.3 376.3L129.6 379.4L123.9 382.3L118.2 384.9L112.5 387.2M207.8 384.7L199.3 379L190.8 373.6L182.3 368.6L173.8 363.9L165.3 359.4L156.8 355.3L148.3 351.5L139.8 347.9L131.4 344.7L122.9 341.7L114.4 338.9L105.9 336.5L97.4 334.2L88.9 332.2M190.4 319.2L184.7 327.3L179 334.8L173.3 341.7L167.5 347.9L161.8 353.6L156.1 358.8L150.4 363.6L144.6 367.8L138.9 371.7L133.2 375.1L127.5 378.3L121.7 381.1L116 383.7L110.3 386M206.4 386.2L197.9 380.5L189.4 375.1L180.9 370L172.4 365.2L163.9 360.7L155.4 356.6L146.9 352.7L138.4 349.1L129.9 345.9L121.4 342.8L112.9 340.1L104.4 337.6L95.9 335.3L87.4 333.3M188.4 318.2L182.6 326.4L176.9 333.9L171.2 340.7L165.4 347L159.7 352.7L154 357.8L148.2 362.5L142.5 366.7L136.8 370.6L131 374L125.3 377.1L119.6 380L113.8 382.5L108.1 384.9M205 387.7L196.5 381.9L188 376.4L179.5 371.3L171 366.5L162.5 362L154 357.8L145.5 353.9L137 350.3L128.4 347L119.9 344L111.4 341.2L102.9 338.7L94.4 336.4L85.9 334.4M186.3 317.3L180.5 325.5L174.8 333L169.1 339.8L163.3 346L157.6 351.7L151.8 356.8L146.1 361.5L140.4 365.7L134.6 369.5L128.9 372.9L123.1 376L117.4 378.8L111.7 381.4L105.9 383.7M203.6 389.2L195.1 383.3L186.6 377.8L178.1 372.6L169.5 367.8L161 363.3L152.5 359L144 355.1L135.5 351.5L127 348.2L118.5 345.1L110 342.3L101.5 339.7L93 337.4L84.4 335.4M184.2 316.5L178.4 324.6L172.7 332.1L166.9 338.9L161.2 345.1L155.5 350.7L149.7 355.8L144 360.5L138.2 364.7L132.5 368.4L126.7 371.8L121 374.9L115.2 377.7L109.5 380.3L103.8 382.6M202.2 390.6L193.7 384.7L185.2 379.1L176.6 373.9L168.1 369L159.6 364.5L151.1 360.2L142.6 356.3L134.1 352.6L125.5 349.3L117 346.2L108.5 343.4L100 340.8L91.5 338.5L83 336.3M182.1 315.6L176.3 323.7L170.6 331.2L164.8 338L159.1 344.2L153.3 349.8L147.6 354.9L141.8 359.5L136.1 363.6L130.3 367.4L124.6 370.8L118.8 373.9L113.1 376.6L107.3 379.2L101.6 381.6M200.8 392L192.3 386.1L183.8 380.4L175.2 375.2L166.7 370.2L158.2 365.7L149.7 361.4L141.1 357.4L132.6 353.7L124.1 350.4L115.6 347.2L107 344.4L98.5 341.8L90 339.4L81.5 337.3M180 314.7L174.2 322.9L168.5 330.3L162.7 337.1L157 343.3L151.2 348.9L145.5 353.9L139.7 358.5L133.9 362.6L128.2 366.4L122.4 369.7L116.7 372.8L110.9 375.6L105.2 378.1L99.4 380.5M199.4 393.4L190.9 387.4L182.3 381.7L173.8 376.4L165.3 371.4L156.8 366.8L148.2 362.5L139.7 358.5L131.2 354.8L122.6 351.4L114.1 348.3L105.6 345.4L97.1 342.8L88.5 340.4L80 338.2M177.9 313.9L172.1 322L166.4 329.5L160.6 336.3L154.9 342.4L149.1 348L143.3 353L137.6 357.6L131.8 361.7L126 365.4L120.3 368.7L114.5 371.8L108.8 374.5L103 377.1L97.2 379.5M198 394.8L189.5 388.7L180.9 383L172.4 377.6L163.9 372.6L155.3 367.9L146.8 363.6L138.3 359.6L129.7 355.9L121.2 352.4L112.7 349.3L104.1 346.4L95.6 343.7L87.1 341.3L78.5 339.1M175.8 313.1L170.1 321.2L164.3 328.6L158.5 335.4L152.7 341.5L147 347.1L141.2 352.1L135.4 356.6L129.7 360.7L123.9 364.4L118.1 367.7L112.4 370.8L106.6 373.5L100.8 376.1L95.1 378.5M196.6 396.1L188.1 389.9L179.5 384.2L171 378.8L162.4 373.7L153.9 369L145.4 364.7L136.8 360.6L128.3 356.9L119.7 353.4L111.2 350.3L102.7 347.3L94.1 344.7L85.6 342.2L77 340M173.7 312.3L168 320.4L162.2 327.8L156.4 334.6L150.6 340.7L144.9 346.2L139.1 351.2L133.3 355.7L127.5 359.8L121.8 363.4L116 366.8L110.2 369.8L104.4 372.5L98.7 375.1L92.9 377.5M195.2 397.4L186.7 391.2L178.1 385.4L169.6 379.9L161 374.8L152.5 370.1L143.9 365.7L135.4 361.7L126.8 357.9L118.3 354.4L109.7 351.2L101.2 348.3L92.6 345.6L84.1 343.1L75.6 340.8M171.6 311.5L165.9 319.6L160.1 327L154.3 333.8L148.5 339.9L142.7 345.4L137 350.3L131.2 354.8L125.4 358.9L119.6 362.5L113.8 365.8L108 368.8L102.3 371.5L96.5 374.1L90.7 376.5M193.8 398.7L185.3 392.4L176.7 386.5L168.2 381L159.6 375.9L151 371.2L142.5 366.7L133.9 362.6L125.4 358.9L116.8 355.4L108.3 352.1L99.7 349.2L91.2 346.4L82.6 343.9L74.1 341.6M169.6 310.7L163.8 318.8L158 326.3L152.2 333L146.4 339.1L140.6 344.5L134.8 349.5L129 353.9L123.3 358L117.5 361.6L111.7 364.9L105.9 367.8L100.1 370.6L94.3 373.1L88.5 375.6M192.4 399.9L183.9 393.6L175.3 387.6L166.7 382.1L158.2 377L149.6 372.2L141.1 367.7L132.5 363.6L123.9 359.8L115.4 356.3L106.8 353L98.3 350L89.7 347.3L81.1 344.8L72.6 342.4M167.5 309.9L161.7 318.1L155.9 325.5L150.1 332.2L144.3 338.3L138.5 343.7L132.7 348.7L126.9 353.1L121.1 357.1L115.3 360.7L109.5 363.9L103.7 366.9L97.9 369.6L92.1 372.2L86.4 374.6M191 401.1L182.5 394.7L173.9 388.8L165.3 383.2L156.8 378L148.2 373.2L139.6 368.7L131.1 364.6L122.5 360.7L113.9 357.2L105.4 353.9L96.8 350.9L88.2 348.1L79.7 345.6L71.1 343.2M165.4 309.2L159.6 317.3L153.8 324.7L148 331.4L142.2 337.5L136.4 342.9L130.6 347.8L124.8 352.2L119 356.2L113.2 359.8L107.4 363L101.6 366L95.8 368.7L90 371.3L84.2 373.7M189.6 402.3L181.1 395.8L172.5 389.8L163.9 384.2L155.3 379L146.8 374.2L138.2 369.6L129.6 365.5L121.1 361.6L112.5 358.1L103.9 354.8L95.3 351.7L86.8 348.9L78.2 346.4L69.6 344M163.3 308.4L157.5 316.6L151.7 324L145.9 330.7L140.1 336.7L134.3 342.2L128.4 347L122.6 351.4L116.8 355.4L111 358.9L105.2 362.1L99.4 365.1L93.6 367.8L87.8 370.4L82 372.8M188.2 403.4L179.7 396.9L171.1 390.9L162.5 385.2L153.9 380L145.3 375.1L136.8 370.6L128.2 366.4L119.6 362.5L111 358.9L102.5 355.6L93.9 352.5L85.3 349.7L76.7 347.1L68.1 344.7M161.2 307.7L155.4 315.9L149.6 323.3L143.8 330L137.9 336L132.1 341.4L126.3 346.2L120.5 350.6L114.7 354.5L108.9 358.1L103.1 361.3L97.3 364.2L91.4 366.9L85.6 369.5L79.8 372M186.8 404.6L178.2 398L169.7 391.9L161.1 386.2L152.5 380.9L143.9 376L135.3 371.5L126.7 367.2L118.2 363.4L109.6 359.7L101 356.4L92.4 353.3L83.8 350.5L75.2 347.9L66.7 345.5M159.1 307L153.3 315.2L147.5 322.6L141.7 329.3L135.8 335.3L130 340.6L124.2 345.5L118.4 349.8L112.6 353.7L106.7 357.2L100.9 360.4L95.1 363.3L89.3 366.1L83.5 368.6L77.7 371.1M185.4 405.6L176.8 399L168.3 392.9L159.7 387.2L151.1 381.9L142.5 376.9L133.9 372.3L125.3 368.1L116.7 364.2L108.1 360.6L99.5 357.2L90.9 354.1L82.4 351.3L73.8 348.6L65.2 346.2M157 306.4L151.2 314.5L145.4 321.9L139.5 328.6L133.7 334.5L127.9 339.9L122.1 344.7L116.2 349L110.4 352.9L104.6 356.4L98.8 359.6L92.9 362.5L87.1 365.2L81.3 367.8L75.5 370.3M184 406.7L175.4 400.1L166.8 393.9L158.3 388.1L149.7 382.8L141.1 377.8L132.5 373.2L123.9 368.9L115.3 365L106.7 361.4L98.1 358L89.5 354.9L80.9 352L72.3 349.3L63.7 346.9M154.9 305.7L149.1 313.9L143.3 321.3L137.4 327.9L131.6 333.9L125.8 339.2L119.9 344L114.1 348.3L108.3 352.1L102.5 355.6L96.6 358.8L90.8 361.7L85 364.4L79.1 366.9L73.3 369.4M182.6 407.7L174 401L165.4 394.8L156.8 389L148.2 383.6L139.6 378.6L131 374L122.4 369.7L113.8 365.8L105.2 362.1L96.6 358.8L88 355.6L79.4 352.7L70.8 350.1L62.2 347.6M152.8 305L147 313.2L141.2 320.6L135.3 327.2L129.5 333.2L123.7 338.5L117.8 343.3L112 347.5L106.1 351.4L100.3 354.8L94.5 358L88.6 360.8L82.8 363.5L77 366.1L71.1 368.6M181.2 408.8L172.6 402L164 395.7L155.4 389.9L146.8 384.5L138.2 379.5L129.6 374.8L121 370.5L112.4 366.6L103.8 362.9L95.2 359.5L86.6 356.4L77.9 353.5L69.3 350.8L60.7 348.2M150.8 304.4L144.9 312.6L139.1 320L133.2 326.6L127.4 332.5L121.5 337.8L115.7 342.6L109.8 346.8L104 350.6L98.2 354L92.3 357.2L86.5 360L80.6 362.7L74.8 365.3L69 367.8M179.9 409.7L171.2 402.9L162.6 396.6L154 390.8L145.4 385.3L136.8 380.3L128.2 375.6L119.6 371.3L110.9 367.3L102.3 363.6L93.7 360.2L85.1 357.1L76.5 354.2L67.9 351.4L59.2 348.9M148.7 303.8L142.8 312L137 319.4L131.1 326L125.3 331.9L119.4 337.2L113.6 341.9L107.7 346.1L101.9 349.9L96 353.3L90.2 356.4L84.3 359.3L78.5 361.9L72.6 364.5L66.8 367M178.5 410.7L169.8 403.8L161.2 397.5L152.6 391.6L144 386.1L135.4 381.1L126.7 376.4L118.1 372.1L109.5 368.1L100.9 364.4L92.2 361L83.6 357.8L75 354.9L66.4 352.1L57.8 349.5M146.6 303.2L140.7 311.4L134.9 318.8L129 325.4L123.2 331.3L117.3 336.5L111.4 341.2L105.6 345.4L99.7 349.2L93.9 352.5L88 355.6L82.2 358.5L76.3 361.2L70.5 363.7L64.6 366.3M177.1 411.6L168.4 404.7L159.8 398.3L151.2 392.4L142.6 386.9L133.9 381.8L125.3 377.1L116.7 372.8L108 368.8L99.4 365.1L90.8 361.7L82.2 358.5L73.5 355.5L64.9 352.8L56.3 350.2M144.5 302.6L138.6 310.8L132.8 318.2L126.9 324.8L121 330.6L115.2 335.9L109.3 340.6L103.5 344.7L97.6 348.5L91.7 351.8L85.9 354.9L80 357.7L74.1 360.4L68.3 363L62.4 365.5M175.7 412.5L167 405.6L158.4 399.1L149.8 393.2L141.1 387.7L132.5 382.6L123.9 377.9L115.2 373.5L106.6 369.5L98 365.8L89.3 362.4L80.7 359.2L72.1 356.2L63.4 353.4L54.8 350.8M142.4 302.1L136.5 310.3L130.7 317.6L124.8 324.2L118.9 330.1L113.1 335.3L107.2 339.9L101.3 344.1L95.5 347.8L89.6 351.1L83.7 354.2L77.9 357L72 359.6L66.1 362.2L60.2 364.8M174.3 413.4L165.6 406.4L157 399.9L148.3 394L139.7 388.4L131.1 383.3L122.4 378.6L113.8 374.2L105.2 370.2L96.5 366.5L87.9 363L79.2 359.8L70.6 356.9L62 354.1L53.3 351.5M140.3 301.6L134.4 309.7L128.6 317.1L122.7 323.6L116.8 329.5L110.9 334.7L105.1 339.3L99.2 343.4L93.3 347.1L87.4 350.4L81.6 353.4L75.7 356.3L69.8 358.9L63.9 361.5L58.1 364.1M172.9 414.2L164.2 407.2L155.6 400.7L146.9 394.7L138.3 389.1L129.6 384L121 379.3L112.4 374.9L103.7 370.9L95.1 367.2L86.4 363.7L77.8 360.5L69.1 357.5L60.5 354.7L51.8 352.1M138.2 301L132.3 309.2L126.5 316.6L120.6 323.1L114.7 328.9L108.8 334.1L102.9 338.7L97.1 342.8L91.2 346.4L85.3 349.7L79.4 352.7L73.5 355.5L67.7 358.2L61.8 360.8L55.9 363.3M171.5 415L162.8 408L154.2 401.5L145.5 395.4L136.9 389.8L128.2 384.7L119.6 380L110.9 375.6L102.3 371.5L93.6 367.8L85 364.4L76.3 361.2L67.7 358.2L59 355.4L50.4 352.7M136.1 300.5L130.2 308.7L124.4 316.1L118.5 322.6L112.6 328.4L106.7 333.5L100.8 338.1L94.9 342.2L89 345.8L83.2 349.1L77.3 352.1L71.4 354.8L65.5 357.5L59.6 360L53.7 362.6M170.1 415.8L161.4 408.7L152.8 402.2L144.1 396.1L135.4 390.5L126.8 385.4L118.1 380.6L109.5 376.2L100.8 372.2L92.2 368.5L83.5 365L74.8 361.8L66.2 358.8L57.5 356L48.9 353.4M134 300.1L128.1 308.3L122.3 315.6L116.4 322.1L110.5 327.8L104.6 333L98.7 337.5L92.8 341.5L86.9 345.2L81 348.4L75.1 351.4L69.2 354.1L63.3 356.8L57.4 359.3L51.5 361.9M168.7 416.6L160 409.4L151.4 402.9L142.7 396.8L134 391.2L125.4 386L116.7 381.3L108 376.9L99.4 372.8L90.7 369.1L82 365.7L73.4 362.5L64.7 359.5L56.1 356.7L47.4 354M131.9 299.6L126 307.8L120.2 315.1L114.3 321.6L108.4 327.3L102.5 332.4L96.6 337L90.7 341L84.8 344.5L78.9 347.8L73 350.7L67.1 353.5L61.2 356.1L55.3 358.6L49.4 361.2M167.3 417.3L158.6 410.1L149.9 403.5L141.3 397.4L132.6 391.8L123.9 386.7L115.3 381.9L106.6 377.5L97.9 373.5L89.3 369.8L80.6 366.3L71.9 363.1L63.2 360.1L54.6 357.3L45.9 354.6M129.9 299.2L124 307.3L118 314.6L112.1 321.1L106.2 326.8L100.3 331.9L94.4 336.4L88.5 340.4L82.6 343.9L76.7 347.1L70.8 350.1L64.9 352.8L59 355.4L53.1 358L47.2 360.5M165.9 418L157.2 410.8L148.5 404.2L139.9 398.1L131.2 392.5L122.5 387.3L113.8 382.5L105.2 378.1L96.5 374.1L87.8 370.4L79.1 366.9L70.5 363.7L61.8 360.8L53.1 358L44.4 355.3M127.8 298.7L121.9 306.9L115.9 314.2L110 320.7L104.1 326.4L98.2 331.4L92.3 335.9L86.4 339.8L80.5 343.3L74.6 346.5L68.7 349.4L62.8 352.1L56.8 354.7L50.9 357.3L45 359.9M164.5 418.7L155.8 411.5L147.1 404.8L138.4 398.7L129.8 393.1L121.1 387.9L112.4 383.1L103.7 378.7L95 374.7L86.4 371L77.7 367.6L69 364.4L60.3 361.4L51.6 358.6L42.9 355.9M125.7 298.3L119.8 306.5L113.8 313.8L107.9 320.2L102 325.9L96.1 330.9L90.2 335.4L84.3 339.3L78.3 342.8L72.4 345.9L66.5 348.8L60.6 351.5L54.7 354L48.8 356.6L42.9 359.2M163.1 419.3L154.4 412.1L145.7 405.4L137 399.3L128.3 393.6L119.7 388.5L111 383.7L102.3 379.3L93.6 375.3L84.9 371.6L76.2 368.2L67.5 365L58.8 362L50.2 359.2L41.5 356.6M123.6 298L117.7 306.1L111.7 313.4L105.8 319.8L99.9 325.5L94 330.5L88.1 334.9L82.1 338.7L76.2 342.2L70.3 345.3L64.4 348.2L58.4 350.8L52.5 353.4L46.6 355.9L40.7 358.6M161.7 419.9L153 412.7L144.3 406L135.6 399.9L126.9 394.2L118.2 389L109.5 384.3L100.8 379.9L92.1 375.9L83.5 372.2L74.8 368.8L66.1 365.6L57.4 362.7L48.7 359.9L40 357.2M121.5 297.6L115.6 305.8L109.6 313L103.7 319.4L97.8 325L91.9 330L85.9 334.4L80 338.2L74.1 341.6L68.1 344.7L62.2 347.6L56.3 350.2L50.4 352.7L44.4 355.3L38.5 357.9M160.3 420.5L151.6 413.2L142.9 406.6L134.2 400.4L125.5 394.8L116.8 389.6L108.1 384.9L99.4 380.5L90.7 376.5L82 372.8L73.3 369.4L64.6 366.3L55.9 363.3L47.2 360.5L38.5 357.9" fill="none" stroke="#a84a20" stroke-width="0.52" stroke-opacity="1"/>
<circle cx="238.5" cy="343.7" r="2.0" fill="#8c8c8c"/>
<circle cx="232.7" cy="340.4" r="2.0" fill="#8c8c8c"/>
<circle cx="226.8" cy="337.2" r="2.0" fill="#8c8c8c"/>
<circle cx="220.9" cy="334" r="2.0" fill="#8c8c8c"/>
<circle cx="215.1" cy="331" r="2.0" fill="#8c8c8c"/>
<circle cx="209.2" cy="328" r="2.0" fill="#8c8c8c"/>
<circle cx="203.4" cy="325.1" r="2.0" fill="#8c8c8c"/>
<circle cx="197.6" cy="322.4" r="2.0" fill="#8c8c8c"/>
<circle cx="191.7" cy="319.7" r="2.0" fill="#8c8c8c"/>
<circle cx="185.9" cy="317.2" r="2.0" fill="#8c8c8c"/>
<circle cx="180" cy="314.7" r="2.0" fill="#8c8c8c"/>
<circle cx="174.1" cy="312.4" r="2.0" fill="#8c8c8c"/>
<circle cx="168.3" cy="310.2" r="2.0" fill="#8c8c8c"/>
<circle cx="162.4" cy="308.2" r="2.0" fill="#8c8c8c"/>
<circle cx="156.6" cy="306.2" r="2.0" fill="#8c8c8c"/>
<circle cx="150.8" cy="304.4" r="2.0" fill="#8c8c8c"/>
<circle cx="144.9" cy="302.8" r="2.0" fill="#8c8c8c"/>
<circle cx="139.1" cy="301.2" r="2.0" fill="#8c8c8c"/>
<circle cx="133.2" cy="299.9" r="2.0" fill="#8c8c8c"/>
<circle cx="127.4" cy="298.7" r="2.0" fill="#8c8c8c"/>
<circle cx="121.5" cy="297.6" r="2.0" fill="#8c8c8c"/>
<circle cx="101.8" cy="381.7" r="1.98" fill="#8c8c8c"/>
<circle cx="119.1" cy="374" r="0.88" fill="#8c8c8c"/>
<circle cx="116.2" cy="375.4" r="0.88" fill="#8c8c8c"/>
<circle cx="113.3" cy="376.8" r="0.88" fill="#8c8c8c"/>
<circle cx="110.5" cy="378.1" r="0.88" fill="#8c8c8c"/>
<circle cx="107.6" cy="379.3" r="0.88" fill="#8c8c8c"/>
<circle cx="104.7" cy="380.5" r="0.88" fill="#8c8c8c"/>
<circle cx="159.3" cy="344.3" r="1.98" fill="#8c8c8c"/>
<circle cx="156.5" cy="347.2" r="1.98" fill="#8c8c8c"/>
<circle cx="153.6" cy="349.9" r="1.98" fill="#8c8c8c"/>
<circle cx="150.7" cy="352.5" r="1.98" fill="#8c8c8c"/>
<circle cx="147.8" cy="355" r="1.98" fill="#8c8c8c"/>
<circle cx="145" cy="357.4" r="1.98" fill="#8c8c8c"/>
<circle cx="142.1" cy="359.6" r="1.98" fill="#8c8c8c"/>
<circle cx="139.2" cy="361.7" r="1.98" fill="#8c8c8c"/>
<circle cx="136.3" cy="363.8" r="1.98" fill="#8c8c8c"/>
<circle cx="133.5" cy="365.7" r="1.98" fill="#8c8c8c"/>
<circle cx="130.6" cy="367.5" r="1.98" fill="#8c8c8c"/>
<circle cx="127.7" cy="369.3" r="1.98" fill="#8c8c8c"/>
<circle cx="124.8" cy="370.9" r="1.98" fill="#8c8c8c"/>
<circle cx="122" cy="372.5" r="1.98" fill="#8c8c8c"/>
<circle cx="176.6" cy="323.8" r="0.66" fill="#8c8c8c"/>
<circle cx="173.7" cy="327.7" r="0.66" fill="#8c8c8c"/>
<circle cx="170.8" cy="331.3" r="0.66" fill="#8c8c8c"/>
<circle cx="168" cy="334.8" r="0.66" fill="#8c8c8c"/>
<circle cx="165.1" cy="338.1" r="0.66" fill="#8c8c8c"/>
<circle cx="162.2" cy="341.3" r="0.66" fill="#8c8c8c"/>
<circle cx="179.5" cy="319.9" r="1.98" fill="#8c8c8c"/>
<circle cx="59.2" cy="364.4" r="1.76" fill="#8c8c8c"/>
<circle cx="70.9" cy="359.3" r="1.1" fill="#8c8c8c"/>
<circle cx="103.2" cy="341.7" r="1.98" fill="#8c8c8c"/>
<circle cx="100.3" cy="343.7" r="1.98" fill="#8c8c8c"/>
<circle cx="97.4" cy="345.6" r="1.98" fill="#8c8c8c"/>
<circle cx="94.4" cy="347.4" r="1.98" fill="#8c8c8c"/>
<circle cx="91.5" cy="349.2" r="1.98" fill="#8c8c8c"/>
<circle cx="88.6" cy="350.8" r="1.98" fill="#8c8c8c"/>
<circle cx="85.6" cy="352.3" r="1.98" fill="#8c8c8c"/>
<circle cx="82.7" cy="353.8" r="1.98" fill="#8c8c8c"/>
<circle cx="79.8" cy="355.2" r="1.98" fill="#8c8c8c"/>
<circle cx="76.8" cy="356.6" r="1.98" fill="#8c8c8c"/>
<circle cx="73.9" cy="358" r="1.98" fill="#8c8c8c"/>
<circle cx="112.6" cy="334.5" r="0.88" fill="#8c8c8c"/>
<circle cx="138.5" cy="306" r="1.54" fill="#8c8c8c"/>
<circle cx="68" cy="360.6" r="0.77" fill="#8c8c8c"/>
<circle cx="65.1" cy="361.9" r="0.77" fill="#8c8c8c"/>
<circle cx="62.1" cy="363.1" r="0.77" fill="#8c8c8c"/>
<circle cx="106.2" cy="339.6" r="0.77" fill="#8c8c8c"/>
<circle cx="109.1" cy="337.4" r="0.77" fill="#8c8c8c"/>
<circle cx="112" cy="335" r="0.77" fill="#8c8c8c"/>
<circle cx="117.9" cy="329.8" r="0.77" fill="#8c8c8c"/>
<circle cx="120.8" cy="326.9" r="0.77" fill="#8c8c8c"/>
<circle cx="123.8" cy="323.9" r="0.77" fill="#8c8c8c"/>
<circle cx="126.7" cy="320.7" r="0.77" fill="#8c8c8c"/>
<circle cx="129.6" cy="317.4" r="0.77" fill="#8c8c8c"/>
<circle cx="132.6" cy="313.8" r="0.77" fill="#8c8c8c"/>
<circle cx="135.5" cy="310" r="0.77" fill="#8c8c8c"/>
<path d="M238.3 322.8L236.2 321.6L234.1 320.4L232 319.3L230 318.1L227.9 316.9L225.8 315.8L223.7 314.6L221.6 313.5L219.5 312.3L217.4 311.2L215.4 310L213.3 308.9L211.2 307.8L209.1 306.7L207 305.6L204.9 304.6L202.8 303.5L200.8 302.4L198.7 301.4L196.6 300.4L194.5 299.3L192.4 298.3L190.3 297.3L188.2 296.4L186.2 295.4L184.1 294.5L182 293.5L179.9 292.6L177.8 291.7L175.7 290.8L173.6 290L171.6 289.1L169.5 288.3L167.4 287.5L165.3 286.7L163.2 286L161.1 285.3L159 284.5L157 283.8L154.9 283.2L152.8 282.5L150.7 281.9L148.6 281.3L146.5 280.7L144.4 280.2L142.4 279.7L140.3 279.2L138.2 278.7L136.1 278.3L134 277.9L131.9 277.5L129.8 277.1L127.8 276.8L125.7 276.5L123.6 276.2L121.5 276L120 277.3L118.5 278.5L117 279.8L115.5 281.1L114 282.4L112.6 283.7L111.1 285L109.6 286.3L108.1 287.6L106.6 288.9L105.1 290.2L103.6 291.5L102.1 292.8L100.6 294.1L99.1 295.4L97.6 296.7L96.2 298L94.7 299.3L93.2 300.6L91.7 301.9L90.2 303.1L88.7 304.4L87.2 305.6L85.7 306.8L84.2 308L82.7 309.2L81.2 310.4L79.8 311.6L78.3 312.8L76.8 313.9L75.3 315L73.8 316.1L72.3 317.2L70.8 318.2L69.3 319.2L67.8 320.2L66.3 321.2L64.8 322.2L63.3 323.1L61.9 324L60.4 324.9L58.9 325.7L57.4 326.5L55.9 327.3L54.4 328L52.9 328.7L51.4 329.4L49.9 330L48.4 330.6L46.9 331.2L45.5 331.7L44 332.2L42.5 332.6L41 333L39.5 333.4L38 333.7L40.2 334.6L42.4 335.5L44.6 336.4L46.7 337.3L48.9 338.1L51.1 339L53.3 339.9L55.5 340.8L57.7 341.6L59.9 342.5L62 343.3L64.2 344.2L66.4 345.1L68.6 345.9L70.8 346.8L73 347.7L75.2 348.6L77.3 349.5L79.5 350.3L81.7 351.2L83.9 352.2L86.1 353.1L88.3 354L90.5 354.9L92.6 355.9L94.8 356.9L97 357.8L99.2 358.8L101.4 359.8L103.6 360.9L105.8 361.9L107.9 363L110.1 364L112.3 365.1L114.5 366.2L116.7 367.4L118.9 368.5L121.1 369.7L123.2 370.9L125.4 372.2L127.6 373.4L129.8 374.7L132 376L134.2 377.4L136.4 378.7L138.5 380.1L140.7 381.6L142.9 383L145.1 384.5L147.3 386.1L149.5 387.6L151.7 389.2L153.8 390.9L156 392.5L158.2 394.3L160.4 396L161.8 395L163.2 394.1L164.6 393.2L166 392.2L167.4 391.3L168.7 390.4L170.1 389.5L171.5 388.5L172.9 387.6L174.3 386.7L175.7 385.8L177.1 384.8L178.5 383.9L179.9 382.9L181.3 382L182.7 381L184 380.1L185.4 379.1L186.8 378.1L188.2 377.1L189.6 376.1L191 375L192.4 374L193.8 372.9L195.2 371.8L196.6 370.7L198 369.6L199.4 368.5L200.7 367.3L202.1 366.1L203.5 364.9L204.9 363.6L206.3 362.4L207.7 361.1L209.1 359.7L210.5 358.4L211.9 357L213.3 355.5L214.7 354.1L216 352.6L217.4 351L218.8 349.5L220.2 347.8L221.6 346.2L223 344.5L224.4 342.8L225.8 341L227.2 339.2L228.6 337.3L230 335.4L231.3 333.4L232.7 331.4L234.1 329.3L235.5 327.2L236.9 325L238.3 322.8Z" fill="none" stroke="#111" stroke-width="1.7" stroke-linejoin="miter"/>
<line x1="36.3" y1="298.1" x2="161.9" y2="319.9" stroke="#444" stroke-width="0.6"/>
<line x1="238.3" y1="287" x2="161.9" y2="319.9" stroke="#444" stroke-width="0.6"/>
<line x1="161.9" y1="319.9" x2="160.6" y2="449" stroke="#444" stroke-width="0.6"/>
<path d="M94 291.3Q80 309.5 61.5 317" fill="none" stroke="#f29a1f" stroke-width="1.7" stroke-linecap="round"/>
<path d="M58.3 318.3L63.6 312.6L66.1 318.7Z" fill="#f29a1f"/>
<path d="M157.5 278.5Q186 281.5 201.5 296" fill="none" stroke="#f29a1f" stroke-width="1.7" stroke-linecap="round"/>
<path d="M204 298.3L196.6 296L201.1 291.1Z" fill="#f29a1f"/>
<line x1="157.7" y1="452.5" x2="44.2" y2="425.5" stroke="#d3202f" stroke-width="1.2"/>
<path d="M37.2 424.4L46.1 421.9L43.5 428.9Z" fill="#d3202f"/>
<line x1="239.6" y1="410.5" x2="170.5" y2="446.7" stroke="#d3202f" stroke-width="1.2"/>
<path d="M165 450.7L173.9 450.7L169.7 444.7Z" fill="#d3202f"/>
<line x1="42.2" y1="420.6" x2="42.8" y2="424" stroke="#444" stroke-width="0.6"/>
<line x1="71" y1="427.5" x2="71.6" y2="430.9" stroke="#444" stroke-width="0.6"/>
<line x1="101.3" y1="434.8" x2="101.9" y2="438.2" stroke="#444" stroke-width="0.6"/>
<line x1="132.2" y1="442.2" x2="132.8" y2="445.6" stroke="#444" stroke-width="0.6"/>
<line x1="182.7" y1="437.3" x2="184.3" y2="439.9" stroke="#444" stroke-width="0.6"/>
<line x1="209.8" y1="422.9" x2="211.4" y2="425.5" stroke="#444" stroke-width="0.6"/>
<line x1="33.5" y1="312.3" x2="36.7" y2="311.7" stroke="#444" stroke-width="0.6"/>
<line x1="34.1" y1="334.6" x2="37.3" y2="334" stroke="#444" stroke-width="0.6"/>
<line x1="34.8" y1="356.8" x2="38" y2="356.2" stroke="#444" stroke-width="0.6"/>
<line x1="35.4" y1="378.6" x2="38.6" y2="378" stroke="#444" stroke-width="0.6"/>
<line x1="36" y1="399.8" x2="39.2" y2="399.2" stroke="#444" stroke-width="0.6"/>
<line x1="36.6" y1="421.2" x2="39.8" y2="420.6" stroke="#444" stroke-width="0.6"/>
<text x="30.3" y="315" font-size="9.2" text-anchor="end" fill="#2a2a2a" stroke="#2a2a2a" stroke-width="0.25">60</text>
<text x="30.9" y="337.3" font-size="9.2" text-anchor="end" fill="#2a2a2a" stroke="#2a2a2a" stroke-width="0.25">50</text>
<text x="31.6" y="359.5" font-size="9.2" text-anchor="end" fill="#2a2a2a" stroke="#2a2a2a" stroke-width="0.25">40</text>
<text x="32.2" y="381.3" font-size="9.2" text-anchor="end" fill="#2a2a2a" stroke="#2a2a2a" stroke-width="0.25">30</text>
<text x="32.8" y="402.5" font-size="9.2" text-anchor="end" fill="#2a2a2a" stroke="#2a2a2a" stroke-width="0.25">20</text>
<text x="33.4" y="423.9" font-size="9.2" text-anchor="end" fill="#2a2a2a" stroke="#2a2a2a" stroke-width="0.25">10</text>
<text x="40" y="436" font-size="9.2" text-anchor="middle" fill="#2a2a2a" stroke="#2a2a2a" stroke-width="0.25">40</text>
<text x="68.7" y="443.2" font-size="9.2" text-anchor="middle" fill="#2a2a2a" stroke="#2a2a2a" stroke-width="0.25">35</text>
<text x="99" y="450.8" font-size="9.2" text-anchor="middle" fill="#2a2a2a" stroke="#2a2a2a" stroke-width="0.25">30</text>
<text x="129.8" y="458.4" font-size="9.2" text-anchor="middle" fill="#2a2a2a" stroke="#2a2a2a" stroke-width="0.25">25</text>
<text x="171" y="460.8" font-size="9.2" text-anchor="middle" fill="#2a2a2a" stroke="#2a2a2a" stroke-width="0.25">28</text>
<text x="194.7" y="448.4" font-size="9.2" text-anchor="middle" fill="#2a2a2a" stroke="#2a2a2a" stroke-width="0.25">20</text>
<text x="221.8" y="432.3" font-size="9.2" text-anchor="middle" fill="#2a2a2a" stroke="#2a2a2a" stroke-width="0.25">10</text>
<text x="244" y="418.5" font-size="9.2" text-anchor="middle" fill="#2a2a2a" stroke="#2a2a2a" stroke-width="0.25">0</text>
<text x="16" y="370.9" font-size="10.8" text-anchor="middle" fill="#1a1a1a" stroke="#1a1a1a" stroke-width="0.25" transform="rotate(-90 16 370.9)" textLength="75" lengthAdjust="spacingAndGlyphs">Hematocrit [%]</text>
<text x="86.5" y="467" font-size="12" text-anchor="middle" fill="#1a1a1a" stroke="#1a1a1a" stroke-width="0.25" transform="rotate(13.3 86.5 467)" textLength="79" lengthAdjust="spacingAndGlyphs">Gestational age</text>
<text x="85.2" y="482.7" font-size="11.6" text-anchor="middle" fill="#1a1a1a" stroke="#1a1a1a" stroke-width="0.25" transform="rotate(13.3 85.2 482.7)" textLength="37.5" lengthAdjust="spacingAndGlyphs">[weeks]</text>
<text x="212.6" y="457.4" font-size="11.8" text-anchor="middle" fill="#1a1a1a" stroke="#1a1a1a" stroke-width="0.25" transform="rotate(-25.7 212.6 457.4)" textLength="68" lengthAdjust="spacingAndGlyphs">Postnatal age</text>
<text x="219.6" y="469.5" font-size="11.6" text-anchor="middle" fill="#1a1a1a" stroke="#1a1a1a" stroke-width="0.25" transform="rotate(-25.7 219.6 469.5)" textLength="28.5" lengthAdjust="spacingAndGlyphs">[days]</text>
<text x="18" y="272.1" font-size="15.5" text-anchor="start" fill="#1a1a1a" stroke="#1a1a1a" stroke-width="0.25" textLength="18" lengthAdjust="spacingAndGlyphs">(c)</text>
<rect x="306.1" y="264.00" width="205.4" height="6.66" fill="url(#g1_0)"/>
<rect x="306.1" y="270.46" width="205.4" height="6.66" fill="url(#g1_1)"/>
<rect x="306.1" y="276.91" width="205.4" height="6.66" fill="url(#g1_2)"/>
<rect x="306.1" y="283.37" width="205.4" height="6.66" fill="url(#g1_3)"/>
<rect x="306.1" y="289.83" width="205.4" height="6.66" fill="url(#g1_4)"/>
<rect x="306.1" y="296.29" width="205.4" height="6.66" fill="url(#g1_5)"/>
<rect x="306.1" y="302.74" width="205.4" height="6.66" fill="url(#g1_6)"/>
<rect x="306.1" y="309.20" width="205.4" height="6.66" fill="url(#g1_7)"/>
<rect x="306.1" y="315.66" width="205.4" height="6.66" fill="url(#g1_8)"/>
<rect x="306.1" y="322.11" width="205.4" height="6.66" fill="url(#g1_9)"/>
<rect x="306.1" y="328.57" width="205.4" height="6.66" fill="url(#g1_10)"/>
<rect x="306.1" y="335.03" width="205.4" height="6.66" fill="url(#g1_11)"/>
<rect x="306.1" y="341.49" width="205.4" height="6.66" fill="url(#g1_12)"/>
<rect x="306.1" y="347.94" width="205.4" height="6.66" fill="url(#g1_13)"/>
<rect x="306.1" y="354.40" width="205.4" height="6.66" fill="url(#g1_14)"/>
<rect x="306.1" y="360.86" width="205.4" height="6.66" fill="url(#g1_15)"/>
<rect x="306.1" y="367.31" width="205.4" height="6.66" fill="url(#g1_16)"/>
<rect x="306.1" y="373.77" width="205.4" height="6.66" fill="url(#g1_17)"/>
<rect x="306.1" y="380.23" width="205.4" height="6.66" fill="url(#g1_18)"/>
<rect x="306.1" y="386.69" width="205.4" height="6.66" fill="url(#g1_19)"/>
<rect x="306.1" y="393.14" width="205.4" height="6.66" fill="url(#g1_20)"/>
<rect x="306.1" y="399.60" width="205.4" height="6.66" fill="url(#g1_21)"/>
<rect x="306.1" y="406.06" width="205.4" height="6.66" fill="url(#g1_22)"/>
<rect x="306.1" y="412.51" width="205.4" height="6.66" fill="url(#g1_23)"/>
<rect x="306.1" y="418.97" width="205.4" height="6.66" fill="url(#g1_24)"/>
<rect x="306.1" y="425.43" width="205.4" height="6.66" fill="url(#g1_25)"/>
<rect x="306.1" y="431.89" width="205.4" height="6.66" fill="url(#g1_26)"/>
<rect x="306.1" y="438.34" width="205.4" height="6.66" fill="url(#g1_27)"/>
<path d="M306.10 264.1V444.9M309.90 264.1V444.9M313.71 264.1V444.9M317.51 264.1V444.9M321.31 264.1V444.9M325.12 264.1V444.9M328.92 264.1V444.9M332.73 264.1V444.9M336.53 264.1V444.9M340.33 264.1V444.9M344.14 264.1V444.9M347.94 264.1V444.9M351.74 264.1V444.9M355.55 264.1V444.9M359.35 264.1V444.9M363.16 264.1V444.9M366.96 264.1V444.9M370.76 264.1V444.9M374.57 264.1V444.9M378.37 264.1V444.9M382.17 264.1V444.9M385.98 264.1V444.9M389.78 264.1V444.9M393.59 264.1V444.9M397.39 264.1V444.9M401.19 264.1V444.9M405.00 264.1V444.9M408.80 264.1V444.9M412.60 264.1V444.9M416.41 264.1V444.9M420.21 264.1V444.9M424.01 264.1V444.9M427.82 264.1V444.9M431.62 264.1V444.9M435.43 264.1V444.9M439.23 264.1V444.9M443.03 264.1V444.9M446.84 264.1V444.9M450.64 264.1V444.9M454.44 264.1V444.9M458.25 264.1V444.9M462.05 264.1V444.9M465.86 264.1V444.9M469.66 264.1V444.9M473.46 264.1V444.9M477.27 264.1V444.9M481.07 264.1V444.9M484.87 264.1V444.9M488.68 264.1V444.9M492.48 264.1V444.9M496.29 264.1V444.9M500.09 264.1V444.9M503.89 264.1V444.9M507.70 264.1V444.9M511.50 264.1V444.9M306.1 264.10H511.5M306.1 267.33H511.5M306.1 270.56H511.5M306.1 273.79H511.5M306.1 277.01H511.5M306.1 280.24H511.5M306.1 283.47H511.5M306.1 286.70H511.5M306.1 289.93H511.5M306.1 293.16H511.5M306.1 296.39H511.5M306.1 299.61H511.5M306.1 302.84H511.5M306.1 306.07H511.5M306.1 309.30H511.5M306.1 312.53H511.5M306.1 315.76H511.5M306.1 318.99H511.5M306.1 322.21H511.5M306.1 325.44H511.5M306.1 328.67H511.5M306.1 331.90H511.5M306.1 335.13H511.5M306.1 338.36H511.5M306.1 341.59H511.5M306.1 344.81H511.5M306.1 348.04H511.5M306.1 351.27H511.5M306.1 354.50H511.5M306.1 357.73H511.5M306.1 360.96H511.5M306.1 364.19H511.5M306.1 367.41H511.5M306.1 370.64H511.5M306.1 373.87H511.5M306.1 377.10H511.5M306.1 380.33H511.5M306.1 383.56H511.5M306.1 386.79H511.5M306.1 390.01H511.5M306.1 393.24H511.5M306.1 396.47H511.5M306.1 399.70H511.5M306.1 402.93H511.5M306.1 406.16H511.5M306.1 409.39H511.5M306.1 412.61H511.5M306.1 415.84H511.5M306.1 419.07H511.5M306.1 422.30H511.5M306.1 425.53H511.5M306.1 428.76H511.5M306.1 431.99H511.5M306.1 435.21H511.5M306.1 438.44H511.5M306.1 441.67H511.5M306.1 444.90H511.5" fill="none" stroke="#c84e26" stroke-width="1.1" stroke-opacity="0.56"/>
<rect x="306.1" y="264.00" width="205.4" height="6.66" fill="url(#o1_0)"/>
<rect x="306.1" y="270.46" width="205.4" height="6.66" fill="url(#o1_1)"/>
<rect x="306.1" y="276.91" width="205.4" height="6.66" fill="url(#o1_2)"/>
<rect x="306.1" y="283.37" width="205.4" height="6.66" fill="url(#o1_3)"/>
<rect x="306.1" y="289.83" width="205.4" height="6.66" fill="url(#o1_4)"/>
<rect x="306.1" y="296.29" width="205.4" height="6.66" fill="url(#o1_5)"/>
<rect x="306.1" y="302.74" width="205.4" height="6.66" fill="url(#o1_6)"/>
<rect x="306.1" y="309.20" width="205.4" height="6.66" fill="url(#o1_7)"/>
<rect x="306.1" y="315.66" width="205.4" height="6.66" fill="url(#o1_8)"/>
<rect x="306.1" y="322.11" width="205.4" height="6.66" fill="url(#o1_9)"/>
<rect x="306.1" y="328.57" width="205.4" height="6.66" fill="url(#o1_10)"/>
<rect x="306.1" y="335.03" width="205.4" height="6.66" fill="url(#o1_11)"/>
<rect x="306.1" y="341.49" width="205.4" height="6.66" fill="url(#o1_12)"/>
<rect x="306.1" y="347.94" width="205.4" height="6.66" fill="url(#o1_13)"/>
<rect x="306.1" y="354.40" width="205.4" height="6.66" fill="url(#o1_14)"/>
<rect x="306.1" y="360.86" width="205.4" height="6.66" fill="url(#o1_15)"/>
<rect x="306.1" y="367.31" width="205.4" height="6.66" fill="url(#o1_16)"/>
<rect x="306.1" y="373.77" width="205.4" height="6.66" fill="url(#o1_17)"/>
<rect x="306.1" y="380.23" width="205.4" height="6.66" fill="url(#o1_18)"/>
<rect x="306.1" y="386.69" width="205.4" height="6.66" fill="url(#o1_19)"/>
<rect x="306.1" y="393.14" width="205.4" height="6.66" fill="url(#o1_20)"/>
<rect x="306.1" y="399.60" width="205.4" height="6.66" fill="url(#o1_21)"/>
<rect x="306.1" y="406.06" width="205.4" height="6.66" fill="url(#o1_22)"/>
<rect x="306.1" y="412.51" width="205.4" height="6.66" fill="url(#o1_23)"/>
<rect x="306.1" y="418.97" width="205.4" height="6.66" fill="url(#o1_24)"/>
<rect x="306.1" y="425.43" width="205.4" height="6.66" fill="url(#o1_25)"/>
<rect x="306.1" y="431.89" width="205.4" height="6.66" fill="url(#o1_26)"/>
<rect x="306.1" y="438.34" width="205.4" height="6.66" fill="url(#o1_27)"/>
<circle cx="306.1" cy="445.2" r="2.1" fill="#7d8085"/>
<circle cx="316.3" cy="445.2" r="2.1" fill="#7d8085"/>
<circle cx="326.5" cy="445.2" r="2.1" fill="#7d8085"/>
<circle cx="336.7" cy="445.2" r="2.1" fill="#7d8085"/>
<circle cx="346.9" cy="445.2" r="2.1" fill="#7d8085"/>
<circle cx="357.2" cy="445.2" r="2.1" fill="#7d8085"/>
<circle cx="367.4" cy="445.2" r="2.1" fill="#7d8085"/>
<circle cx="377.6" cy="445.2" r="2.1" fill="#7d8085"/>
<circle cx="387.8" cy="445.2" r="2.1" fill="#7d8085"/>
<circle cx="398" cy="445.2" r="2.1" fill="#7d8085"/>
<circle cx="408.2" cy="445.2" r="2.1" fill="#7d8085"/>
<circle cx="418.4" cy="445.2" r="2.1" fill="#7d8085"/>
<circle cx="428.6" cy="445.2" r="2.1" fill="#7d8085"/>
<circle cx="438.8" cy="445.2" r="2.1" fill="#7d8085"/>
<circle cx="449" cy="445.2" r="2.1" fill="#7d8085"/>
<circle cx="459.2" cy="445.2" r="2.1" fill="#7d8085"/>
<circle cx="469.5" cy="445.2" r="2.1" fill="#7d8085"/>
<circle cx="479.7" cy="445.2" r="2.1" fill="#7d8085"/>
<circle cx="489.9" cy="445.2" r="2.1" fill="#7d8085"/>
<circle cx="500.1" cy="445.2" r="2.1" fill="#7d8085"/>
<circle cx="510.3" cy="445.2" r="2.1" fill="#7d8085"/>
<line x1="403.3" y1="264.1" x2="403.3" y2="445.2" stroke="#7d8085" stroke-width="0.5" stroke-dasharray="1.5 2" stroke-opacity="0.7"/>
<circle cx="403.3" cy="264.3" r="1.8" fill="#7d8085"/>
<circle cx="403.3" cy="303.1" r="1.2" fill="#d4d6d8" fill-opacity="0.85"/>
<circle cx="403" cy="303.1" r="0.6" fill="#7d8085"/>
<circle cx="403.3" cy="296.6" r="1.2" fill="#d4d6d8" fill-opacity="0.85"/>
<circle cx="403" cy="296.6" r="0.6" fill="#7d8085"/>
<circle cx="403.3" cy="290.2" r="1.2" fill="#d4d6d8" fill-opacity="0.85"/>
<circle cx="403" cy="290.2" r="0.6" fill="#7d8085"/>
<circle cx="403.3" cy="283.7" r="1.2" fill="#d4d6d8" fill-opacity="0.85"/>
<circle cx="403" cy="283.7" r="0.6" fill="#7d8085"/>
<circle cx="403.3" cy="277.2" r="1.2" fill="#d4d6d8" fill-opacity="0.85"/>
<circle cx="403" cy="277.2" r="0.6" fill="#7d8085"/>
<circle cx="403.3" cy="270.8" r="1.2" fill="#d4d6d8" fill-opacity="0.85"/>
<circle cx="403" cy="270.8" r="0.6" fill="#7d8085"/>
<circle cx="403.3" cy="393.5" r="1.8" fill="#7d8085"/>
<circle cx="403.3" cy="387.1" r="1.8" fill="#7d8085"/>
<circle cx="403.3" cy="380.6" r="1.8" fill="#7d8085"/>
<circle cx="403.3" cy="374.1" r="1.8" fill="#7d8085"/>
<circle cx="403.3" cy="367.7" r="1.8" fill="#7d8085"/>
<circle cx="403.3" cy="361.2" r="1.8" fill="#7d8085"/>
<circle cx="403.3" cy="354.8" r="1.8" fill="#7d8085"/>
<circle cx="403.3" cy="348.3" r="1.8" fill="#7d8085"/>
<circle cx="403.3" cy="341.8" r="1.8" fill="#7d8085"/>
<circle cx="403.3" cy="335.4" r="1.8" fill="#7d8085"/>
<circle cx="403.3" cy="328.9" r="1.8" fill="#7d8085"/>
<circle cx="403.3" cy="322.5" r="1.8" fill="#7d8085"/>
<circle cx="403.3" cy="316" r="1.8" fill="#7d8085"/>
<circle cx="403.3" cy="309.5" r="1.8" fill="#7d8085"/>
<circle cx="403.3" cy="432.3" r="0.6" fill="#7d8085"/>
<circle cx="403.3" cy="425.8" r="0.6" fill="#7d8085"/>
<circle cx="403.3" cy="419.4" r="0.6" fill="#7d8085"/>
<circle cx="403.3" cy="412.9" r="0.6" fill="#7d8085"/>
<circle cx="403.3" cy="406.4" r="0.6" fill="#7d8085"/>
<circle cx="403.3" cy="400" r="0.6" fill="#7d8085"/>
<circle cx="403.3" cy="438.7" r="1.8" fill="#7d8085"/>
<line x1="474.6" y1="264.1" x2="474.6" y2="445.2" stroke="#7d8085" stroke-width="0.5" stroke-dasharray="1.5 2" stroke-opacity="0.7"/>
<circle cx="474.6" cy="264.3" r="1.6" fill="#7d8085"/>
<circle cx="474.6" cy="290.2" r="1.2" fill="#d4d6d8" fill-opacity="0.85"/>
<circle cx="474.3" cy="290.2" r="0.6" fill="#7d8085"/>
<circle cx="474.6" cy="361.2" r="1.8" fill="#7d8085"/>
<circle cx="474.6" cy="354.8" r="1.8" fill="#7d8085"/>
<circle cx="474.6" cy="348.3" r="1.8" fill="#7d8085"/>
<circle cx="474.6" cy="341.8" r="1.8" fill="#7d8085"/>
<circle cx="474.6" cy="335.4" r="1.8" fill="#7d8085"/>
<circle cx="474.6" cy="328.9" r="1.8" fill="#7d8085"/>
<circle cx="474.6" cy="322.5" r="1.8" fill="#7d8085"/>
<circle cx="474.6" cy="316" r="1.8" fill="#7d8085"/>
<circle cx="474.6" cy="309.5" r="1.8" fill="#7d8085"/>
<circle cx="474.6" cy="303.1" r="1.8" fill="#7d8085"/>
<circle cx="474.6" cy="296.6" r="1.8" fill="#7d8085"/>
<circle cx="474.6" cy="381.9" r="1.2" fill="#d4d6d8" fill-opacity="0.85"/>
<circle cx="474.3" cy="381.9" r="0.6" fill="#7d8085"/>
<circle cx="474.6" cy="438.7" r="1.4" fill="#7d8085"/>
<rect x="518.2" y="264" width="4.4" height="180.5" fill="url(#cb1)"/>
<line x1="290.5" y1="446" x2="290.5" y2="268.5" stroke="#d3202f" stroke-width="1.2"/>
<path d="M290.5 263.1L286.1 271.5L290.5 270.1L294.9 271.5Z" fill="#d3202f"/>
<line x1="306.8" y1="461" x2="504" y2="461" stroke="#d3202f" stroke-width="1.1"/>
<path d="M510.4 461L502.2 456.7L503.6 461L502.2 465.3Z" fill="#d3202f"/>
<text x="302.8" y="287.8" font-size="9.2" text-anchor="end" fill="#2a2a2a" stroke="#2a2a2a" stroke-width="0.25">25</text>
<text x="302.8" y="320.4" font-size="9.2" text-anchor="end" fill="#2a2a2a" stroke="#2a2a2a" stroke-width="0.25">20</text>
<text x="302.8" y="352.4" font-size="9.2" text-anchor="end" fill="#2a2a2a" stroke="#2a2a2a" stroke-width="0.25">15</text>
<text x="302.8" y="384.5" font-size="9.2" text-anchor="end" fill="#2a2a2a" stroke="#2a2a2a" stroke-width="0.25">10</text>
<text x="302.8" y="416.6" font-size="9.2" text-anchor="end" fill="#2a2a2a" stroke="#2a2a2a" stroke-width="0.25">5</text>
<text x="302.8" y="448.8" font-size="9.2" text-anchor="end" fill="#2a2a2a" stroke="#2a2a2a" stroke-width="0.25">0</text>
<text x="336.7" y="457.5" font-size="9.2" text-anchor="middle" fill="#2a2a2a" stroke="#2a2a2a" stroke-width="0.25">25</text>
<text x="387.8" y="457.5" font-size="9.2" text-anchor="middle" fill="#2a2a2a" stroke="#2a2a2a" stroke-width="0.25">30</text>
<text x="438.8" y="457.5" font-size="9.2" text-anchor="middle" fill="#2a2a2a" stroke="#2a2a2a" stroke-width="0.25">35</text>
<text x="489.9" y="457.5" font-size="9.2" text-anchor="middle" fill="#2a2a2a" stroke="#2a2a2a" stroke-width="0.25">40</text>
<text x="410" y="472.1" font-size="12" text-anchor="middle" fill="#1a1a1a" stroke="#1a1a1a" stroke-width="0.25" textLength="120" lengthAdjust="spacingAndGlyphs">Gestational age [weeks]</text>
<text x="284.9" y="367.5" font-size="11.5" text-anchor="middle" fill="#1a1a1a" stroke="#1a1a1a" stroke-width="0.25" transform="rotate(-90 284.9 367.5)" textLength="102.5" lengthAdjust="spacingAndGlyphs">Postnatal age [days]</text>
<text x="538.8" y="355.5" font-size="11.3" text-anchor="middle" fill="#1a1a1a" stroke="#1a1a1a" stroke-width="0.25" transform="rotate(-90 538.8 355.5)" textLength="80" lengthAdjust="spacingAndGlyphs">Hematocrit [%]</text>
<text x="527.4" y="268.8" font-size="9.2" text-anchor="start" fill="#2a2a2a" stroke="#2a2a2a" stroke-width="0.25">54</text>
<text x="527.4" y="446.7" font-size="9.2" text-anchor="start" fill="#2a2a2a" stroke="#2a2a2a" stroke-width="0.25">33.1</text>
<text x="255.4" y="269.2" font-size="15.5" text-anchor="start" fill="#1a1a1a" stroke="#1a1a1a" stroke-width="0.25" textLength="18.4" lengthAdjust="spacingAndGlyphs">(d)</text></svg></body></html>
